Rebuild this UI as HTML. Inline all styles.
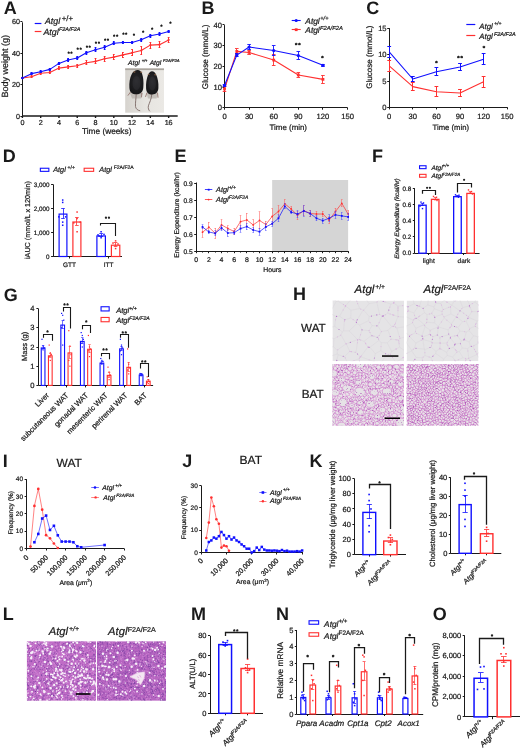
<!DOCTYPE html>
<html><head><meta charset="utf-8"><title>Figure</title>
<style>html,body{margin:0;padding:0;background:#fff;}svg{display:block;}text{font-family:"Liberation Sans", Arial, sans-serif;text-rendering:geometricPrecision;}</style></head>
<body><svg width="520" height="751" viewBox="0 0 520 751" font-family='"Liberation Sans", Arial, sans-serif'>
<rect width="520" height="751" fill="#fff"/>
<text x="3.8" y="14" font-size="18" text-anchor="start" font-weight="bold" fill="#1a1a1a" >A</text>
<line x1="22.5" y1="22.3" x2="22.5" y2="116" stroke="#1a1a1a" stroke-width="1.0" />
<line x1="20.4" y1="116.5" x2="22.4" y2="116.5" stroke="#1a1a1a" stroke-width="1.0" />
<text x="20.1" y="118.52" font-size="7.2" text-anchor="end" fill="#1a1a1a" stroke="#1a1a1a" stroke-width="0.22" >0</text>
<line x1="20.4" y1="84.5" x2="22.4" y2="84.5" stroke="#1a1a1a" stroke-width="1.0" />
<text x="20.1" y="87.02" font-size="7.2" text-anchor="end" fill="#1a1a1a" stroke="#1a1a1a" stroke-width="0.22" >20</text>
<line x1="20.4" y1="53.5" x2="22.4" y2="53.5" stroke="#1a1a1a" stroke-width="1.0" />
<text x="20.1" y="55.52" font-size="7.2" text-anchor="end" fill="#1a1a1a" stroke="#1a1a1a" stroke-width="0.22" >40</text>
<line x1="20.4" y1="21.5" x2="22.4" y2="21.5" stroke="#1a1a1a" stroke-width="1.0" />
<text x="20.1" y="24.02" font-size="7.2" text-anchor="end" fill="#1a1a1a" stroke="#1a1a1a" stroke-width="0.22" >60</text>
<line x1="22.4" y1="116" x2="177.7" y2="116" stroke="#1a1a1a" stroke-width="1.4" />
<line x1="22.4" y1="116" x2="22.4" y2="118" stroke="#1a1a1a" stroke-width="1.4" />
<text x="22.4" y="124.9" font-size="7.2" text-anchor="middle" fill="#1a1a1a" stroke="#1a1a1a" stroke-width="0.22" >0</text>
<line x1="40.68" y1="116" x2="40.68" y2="118" stroke="#1a1a1a" stroke-width="1.4" />
<text x="40.68" y="124.9" font-size="7.2" text-anchor="middle" fill="#1a1a1a" stroke="#1a1a1a" stroke-width="0.22" >2</text>
<line x1="58.96" y1="116" x2="58.96" y2="118" stroke="#1a1a1a" stroke-width="1.4" />
<text x="58.96" y="124.9" font-size="7.2" text-anchor="middle" fill="#1a1a1a" stroke="#1a1a1a" stroke-width="0.22" >4</text>
<line x1="77.24" y1="116" x2="77.24" y2="118" stroke="#1a1a1a" stroke-width="1.4" />
<text x="77.24" y="124.9" font-size="7.2" text-anchor="middle" fill="#1a1a1a" stroke="#1a1a1a" stroke-width="0.22" >6</text>
<line x1="95.52" y1="116" x2="95.52" y2="118" stroke="#1a1a1a" stroke-width="1.4" />
<text x="95.52" y="124.9" font-size="7.2" text-anchor="middle" fill="#1a1a1a" stroke="#1a1a1a" stroke-width="0.22" >8</text>
<line x1="113.8" y1="116" x2="113.8" y2="118" stroke="#1a1a1a" stroke-width="1.4" />
<text x="113.8" y="124.9" font-size="7.2" text-anchor="middle" fill="#1a1a1a" stroke="#1a1a1a" stroke-width="0.22" >10</text>
<line x1="132.08" y1="116" x2="132.08" y2="118" stroke="#1a1a1a" stroke-width="1.4" />
<text x="132.08" y="124.9" font-size="7.2" text-anchor="middle" fill="#1a1a1a" stroke="#1a1a1a" stroke-width="0.22" >12</text>
<line x1="150.36" y1="116" x2="150.36" y2="118" stroke="#1a1a1a" stroke-width="1.4" />
<text x="150.36" y="124.9" font-size="7.2" text-anchor="middle" fill="#1a1a1a" stroke="#1a1a1a" stroke-width="0.22" >14</text>
<line x1="168.64" y1="116" x2="168.64" y2="118" stroke="#1a1a1a" stroke-width="1.4" />
<text x="168.64" y="124.9" font-size="7.2" text-anchor="middle" fill="#1a1a1a" stroke="#1a1a1a" stroke-width="0.22" >16</text>
<polyline points="22.4,78.04 31.54,76.78 40.68,73.32 49.82,72.53 58.96,68.12 68.1,66.86 77.24,65.76 86.38,62.77 95.52,61.35 104.66,58.67 113.8,57.1 122.94,54.89 132.08,52.84 141.22,50.48 150.36,45.12 159.5,44.65 168.64,39.93" fill="none" stroke="#ff3030" stroke-width="1.1" stroke-linejoin="round"/>
<polyline points="22.4,78.04 31.54,73.63 40.68,71.74 49.82,69.38 58.96,63.4 68.1,59.93 77.24,58.04 86.38,52.68 95.52,49.69 104.66,47.17 113.8,43.23 122.94,42.45 132.08,42.45 141.22,39.77 150.36,35.83 159.5,33.94 168.64,31.58" fill="none" stroke="#1010ff" stroke-width="1.1" stroke-linejoin="round"/>
<line x1="22.5" y1="77.57" x2="22.5" y2="78.51" stroke="#ff3030" stroke-width="1.0" />
<line x1="21.5" y1="77.5" x2="23.3" y2="77.5" stroke="#ff3030" stroke-width="1.0" />
<line x1="21.5" y1="78.5" x2="23.3" y2="78.5" stroke="#ff3030" stroke-width="1.0" />
<circle cx="22.4" cy="78.04" r="1.1" fill="#ff3030"/>
<line x1="31.5" y1="75.84" x2="31.5" y2="77.73" stroke="#ff3030" stroke-width="1.0" />
<line x1="30.64" y1="75.5" x2="32.44" y2="75.5" stroke="#ff3030" stroke-width="1.0" />
<line x1="30.64" y1="77.5" x2="32.44" y2="77.5" stroke="#ff3030" stroke-width="1.0" />
<circle cx="31.54" cy="76.78" r="1.1" fill="#ff3030"/>
<line x1="40.5" y1="72.21" x2="40.5" y2="74.42" stroke="#ff3030" stroke-width="1.0" />
<line x1="39.78" y1="72.5" x2="41.58" y2="72.5" stroke="#ff3030" stroke-width="1.0" />
<line x1="39.78" y1="74.5" x2="41.58" y2="74.5" stroke="#ff3030" stroke-width="1.0" />
<circle cx="40.68" cy="73.32" r="1.1" fill="#ff3030"/>
<line x1="49.5" y1="71.59" x2="49.5" y2="73.47" stroke="#ff3030" stroke-width="1.0" />
<line x1="48.92" y1="71.5" x2="50.72" y2="71.5" stroke="#ff3030" stroke-width="1.0" />
<line x1="48.92" y1="73.5" x2="50.72" y2="73.5" stroke="#ff3030" stroke-width="1.0" />
<circle cx="49.82" cy="72.53" r="1.1" fill="#ff3030"/>
<line x1="58.5" y1="66.86" x2="58.5" y2="69.38" stroke="#ff3030" stroke-width="1.0" />
<line x1="58.06" y1="66.5" x2="59.86" y2="66.5" stroke="#ff3030" stroke-width="1.0" />
<line x1="58.06" y1="69.5" x2="59.86" y2="69.5" stroke="#ff3030" stroke-width="1.0" />
<circle cx="58.96" cy="68.12" r="1.1" fill="#ff3030"/>
<line x1="68.5" y1="65.28" x2="68.5" y2="68.44" stroke="#ff3030" stroke-width="1.0" />
<line x1="67.2" y1="65.5" x2="69" y2="65.5" stroke="#ff3030" stroke-width="1.0" />
<line x1="67.2" y1="68.5" x2="69" y2="68.5" stroke="#ff3030" stroke-width="1.0" />
<circle cx="68.1" cy="66.86" r="1.1" fill="#ff3030"/>
<line x1="77.5" y1="64.18" x2="77.5" y2="67.33" stroke="#ff3030" stroke-width="1.0" />
<line x1="76.34" y1="64.5" x2="78.14" y2="64.5" stroke="#ff3030" stroke-width="1.0" />
<line x1="76.34" y1="67.5" x2="78.14" y2="67.5" stroke="#ff3030" stroke-width="1.0" />
<circle cx="77.24" cy="65.76" r="1.1" fill="#ff3030"/>
<line x1="86.5" y1="60.72" x2="86.5" y2="64.81" stroke="#ff3030" stroke-width="1.0" />
<line x1="85.48" y1="60.5" x2="87.28" y2="60.5" stroke="#ff3030" stroke-width="1.0" />
<line x1="85.48" y1="64.5" x2="87.28" y2="64.5" stroke="#ff3030" stroke-width="1.0" />
<circle cx="86.38" cy="62.77" r="1.1" fill="#ff3030"/>
<line x1="95.5" y1="58.98" x2="95.5" y2="63.71" stroke="#ff3030" stroke-width="1.0" />
<line x1="94.62" y1="58.5" x2="96.42" y2="58.5" stroke="#ff3030" stroke-width="1.0" />
<line x1="94.62" y1="63.5" x2="96.42" y2="63.5" stroke="#ff3030" stroke-width="1.0" />
<circle cx="95.52" cy="61.35" r="1.1" fill="#ff3030"/>
<line x1="104.5" y1="56.31" x2="104.5" y2="61.03" stroke="#ff3030" stroke-width="1.0" />
<line x1="103.76" y1="56.5" x2="105.56" y2="56.5" stroke="#ff3030" stroke-width="1.0" />
<line x1="103.76" y1="61.5" x2="105.56" y2="61.5" stroke="#ff3030" stroke-width="1.0" />
<circle cx="104.66" cy="58.67" r="1.1" fill="#ff3030"/>
<line x1="113.5" y1="54.58" x2="113.5" y2="59.62" stroke="#ff3030" stroke-width="1.0" />
<line x1="112.9" y1="54.5" x2="114.7" y2="54.5" stroke="#ff3030" stroke-width="1.0" />
<line x1="112.9" y1="59.5" x2="114.7" y2="59.5" stroke="#ff3030" stroke-width="1.0" />
<circle cx="113.8" cy="57.1" r="1.1" fill="#ff3030"/>
<line x1="122.5" y1="52.06" x2="122.5" y2="57.73" stroke="#ff3030" stroke-width="1.0" />
<line x1="122.04" y1="52.5" x2="123.84" y2="52.5" stroke="#ff3030" stroke-width="1.0" />
<line x1="122.04" y1="57.5" x2="123.84" y2="57.5" stroke="#ff3030" stroke-width="1.0" />
<circle cx="122.94" cy="54.89" r="1.1" fill="#ff3030"/>
<line x1="132.5" y1="49.85" x2="132.5" y2="55.84" stroke="#ff3030" stroke-width="1.0" />
<line x1="131.18" y1="49.5" x2="132.98" y2="49.5" stroke="#ff3030" stroke-width="1.0" />
<line x1="131.18" y1="55.5" x2="132.98" y2="55.5" stroke="#ff3030" stroke-width="1.0" />
<circle cx="132.08" cy="52.84" r="1.1" fill="#ff3030"/>
<line x1="141.5" y1="46.39" x2="141.5" y2="54.58" stroke="#ff3030" stroke-width="1.0" />
<line x1="140.32" y1="46.5" x2="142.12" y2="46.5" stroke="#ff3030" stroke-width="1.0" />
<line x1="140.32" y1="54.5" x2="142.12" y2="54.5" stroke="#ff3030" stroke-width="1.0" />
<circle cx="141.22" cy="50.48" r="1.1" fill="#ff3030"/>
<line x1="150.5" y1="42.13" x2="150.5" y2="48.12" stroke="#ff3030" stroke-width="1.0" />
<line x1="149.46" y1="42.5" x2="151.26" y2="42.5" stroke="#ff3030" stroke-width="1.0" />
<line x1="149.46" y1="48.5" x2="151.26" y2="48.5" stroke="#ff3030" stroke-width="1.0" />
<circle cx="150.36" cy="45.12" r="1.1" fill="#ff3030"/>
<line x1="159.5" y1="41.5" x2="159.5" y2="47.8" stroke="#ff3030" stroke-width="1.0" />
<line x1="158.6" y1="41.5" x2="160.4" y2="41.5" stroke="#ff3030" stroke-width="1.0" />
<line x1="158.6" y1="47.5" x2="160.4" y2="47.5" stroke="#ff3030" stroke-width="1.0" />
<circle cx="159.5" cy="44.65" r="1.1" fill="#ff3030"/>
<line x1="168.5" y1="37.33" x2="168.5" y2="42.53" stroke="#ff3030" stroke-width="1.0" />
<line x1="167.74" y1="37.5" x2="169.54" y2="37.5" stroke="#ff3030" stroke-width="1.0" />
<line x1="167.74" y1="42.5" x2="169.54" y2="42.5" stroke="#ff3030" stroke-width="1.0" />
<circle cx="168.64" cy="39.93" r="1.1" fill="#ff3030"/>
<line x1="22.5" y1="77.57" x2="22.5" y2="78.51" stroke="#1010ff" stroke-width="1.0" />
<line x1="21.5" y1="77.5" x2="23.3" y2="77.5" stroke="#1010ff" stroke-width="1.0" />
<line x1="21.5" y1="78.5" x2="23.3" y2="78.5" stroke="#1010ff" stroke-width="1.0" />
<circle cx="22.4" cy="78.04" r="1.3" fill="#1010ff"/>
<line x1="31.5" y1="72.84" x2="31.5" y2="74.42" stroke="#1010ff" stroke-width="1.0" />
<line x1="30.64" y1="72.5" x2="32.44" y2="72.5" stroke="#1010ff" stroke-width="1.0" />
<line x1="30.64" y1="74.5" x2="32.44" y2="74.5" stroke="#1010ff" stroke-width="1.0" />
<circle cx="31.54" cy="73.63" r="1.3" fill="#1010ff"/>
<line x1="40.5" y1="70.8" x2="40.5" y2="72.69" stroke="#1010ff" stroke-width="1.0" />
<line x1="39.78" y1="70.5" x2="41.58" y2="70.5" stroke="#1010ff" stroke-width="1.0" />
<line x1="39.78" y1="72.5" x2="41.58" y2="72.5" stroke="#1010ff" stroke-width="1.0" />
<circle cx="40.68" cy="71.74" r="1.3" fill="#1010ff"/>
<line x1="49.5" y1="68.59" x2="49.5" y2="70.17" stroke="#1010ff" stroke-width="1.0" />
<line x1="48.92" y1="68.5" x2="50.72" y2="68.5" stroke="#1010ff" stroke-width="1.0" />
<line x1="48.92" y1="70.5" x2="50.72" y2="70.5" stroke="#1010ff" stroke-width="1.0" />
<circle cx="49.82" cy="69.38" r="1.3" fill="#1010ff"/>
<line x1="58.5" y1="62.45" x2="58.5" y2="64.34" stroke="#1010ff" stroke-width="1.0" />
<line x1="58.06" y1="62.5" x2="59.86" y2="62.5" stroke="#1010ff" stroke-width="1.0" />
<line x1="58.06" y1="64.5" x2="59.86" y2="64.5" stroke="#1010ff" stroke-width="1.0" />
<circle cx="58.96" cy="63.4" r="1.3" fill="#1010ff"/>
<line x1="68.5" y1="58.67" x2="68.5" y2="61.19" stroke="#1010ff" stroke-width="1.0" />
<line x1="67.2" y1="58.5" x2="69" y2="58.5" stroke="#1010ff" stroke-width="1.0" />
<line x1="67.2" y1="61.5" x2="69" y2="61.5" stroke="#1010ff" stroke-width="1.0" />
<circle cx="68.1" cy="59.93" r="1.3" fill="#1010ff"/>
<line x1="77.5" y1="56.62" x2="77.5" y2="59.46" stroke="#1010ff" stroke-width="1.0" />
<line x1="76.34" y1="56.5" x2="78.14" y2="56.5" stroke="#1010ff" stroke-width="1.0" />
<line x1="76.34" y1="59.5" x2="78.14" y2="59.5" stroke="#1010ff" stroke-width="1.0" />
<circle cx="77.24" cy="58.04" r="1.3" fill="#1010ff"/>
<line x1="86.5" y1="51.11" x2="86.5" y2="54.26" stroke="#1010ff" stroke-width="1.0" />
<line x1="85.48" y1="51.5" x2="87.28" y2="51.5" stroke="#1010ff" stroke-width="1.0" />
<line x1="85.48" y1="54.5" x2="87.28" y2="54.5" stroke="#1010ff" stroke-width="1.0" />
<circle cx="86.38" cy="52.68" r="1.3" fill="#1010ff"/>
<line x1="95.5" y1="47.64" x2="95.5" y2="51.74" stroke="#1010ff" stroke-width="1.0" />
<line x1="94.62" y1="47.5" x2="96.42" y2="47.5" stroke="#1010ff" stroke-width="1.0" />
<line x1="94.62" y1="51.5" x2="96.42" y2="51.5" stroke="#1010ff" stroke-width="1.0" />
<circle cx="95.52" cy="49.69" r="1.3" fill="#1010ff"/>
<line x1="104.5" y1="45.28" x2="104.5" y2="49.06" stroke="#1010ff" stroke-width="1.0" />
<line x1="103.76" y1="45.5" x2="105.56" y2="45.5" stroke="#1010ff" stroke-width="1.0" />
<line x1="103.76" y1="49.5" x2="105.56" y2="49.5" stroke="#1010ff" stroke-width="1.0" />
<circle cx="104.66" cy="47.17" r="1.3" fill="#1010ff"/>
<line x1="113.5" y1="41.66" x2="113.5" y2="44.81" stroke="#1010ff" stroke-width="1.0" />
<line x1="112.9" y1="41.5" x2="114.7" y2="41.5" stroke="#1010ff" stroke-width="1.0" />
<line x1="112.9" y1="44.5" x2="114.7" y2="44.5" stroke="#1010ff" stroke-width="1.0" />
<circle cx="113.8" cy="43.23" r="1.3" fill="#1010ff"/>
<line x1="122.5" y1="41.19" x2="122.5" y2="43.71" stroke="#1010ff" stroke-width="1.0" />
<line x1="122.04" y1="41.5" x2="123.84" y2="41.5" stroke="#1010ff" stroke-width="1.0" />
<line x1="122.04" y1="43.5" x2="123.84" y2="43.5" stroke="#1010ff" stroke-width="1.0" />
<circle cx="122.94" cy="42.45" r="1.3" fill="#1010ff"/>
<line x1="132.5" y1="41.19" x2="132.5" y2="43.71" stroke="#1010ff" stroke-width="1.0" />
<line x1="131.18" y1="41.5" x2="132.98" y2="41.5" stroke="#1010ff" stroke-width="1.0" />
<line x1="131.18" y1="43.5" x2="132.98" y2="43.5" stroke="#1010ff" stroke-width="1.0" />
<circle cx="132.08" cy="42.45" r="1.3" fill="#1010ff"/>
<line x1="141.5" y1="38.51" x2="141.5" y2="41.03" stroke="#1010ff" stroke-width="1.0" />
<line x1="140.32" y1="38.5" x2="142.12" y2="38.5" stroke="#1010ff" stroke-width="1.0" />
<line x1="140.32" y1="41.5" x2="142.12" y2="41.5" stroke="#1010ff" stroke-width="1.0" />
<circle cx="141.22" cy="39.77" r="1.3" fill="#1010ff"/>
<line x1="150.5" y1="34.42" x2="150.5" y2="37.25" stroke="#1010ff" stroke-width="1.0" />
<line x1="149.46" y1="34.5" x2="151.26" y2="34.5" stroke="#1010ff" stroke-width="1.0" />
<line x1="149.46" y1="37.5" x2="151.26" y2="37.5" stroke="#1010ff" stroke-width="1.0" />
<circle cx="150.36" cy="35.83" r="1.3" fill="#1010ff"/>
<line x1="159.5" y1="32.52" x2="159.5" y2="35.36" stroke="#1010ff" stroke-width="1.0" />
<line x1="158.6" y1="32.5" x2="160.4" y2="32.5" stroke="#1010ff" stroke-width="1.0" />
<line x1="158.6" y1="35.5" x2="160.4" y2="35.5" stroke="#1010ff" stroke-width="1.0" />
<circle cx="159.5" cy="33.94" r="1.3" fill="#1010ff"/>
<line x1="168.5" y1="30.16" x2="168.5" y2="33" stroke="#1010ff" stroke-width="1.0" />
<line x1="167.74" y1="30.5" x2="169.54" y2="30.5" stroke="#1010ff" stroke-width="1.0" />
<line x1="167.74" y1="32.5" x2="169.54" y2="32.5" stroke="#1010ff" stroke-width="1.0" />
<circle cx="168.64" cy="31.58" r="1.3" fill="#1010ff"/>
<text x="70.5" y="55.1" font-size="4.8" text-anchor="middle" font-weight="bold" fill="#1a1a1a" stroke="#1a1a1a" stroke-width="0.45" stroke-linejoin="round" letter-spacing="1.0" >**</text>
<text x="79.64" y="51.3" font-size="4.8" text-anchor="middle" font-weight="bold" fill="#1a1a1a" stroke="#1a1a1a" stroke-width="0.45" stroke-linejoin="round" letter-spacing="1.0" >**</text>
<text x="88.78" y="49" font-size="4.8" text-anchor="middle" font-weight="bold" fill="#1a1a1a" stroke="#1a1a1a" stroke-width="0.45" stroke-linejoin="round" letter-spacing="1.0" >**</text>
<text x="97.92" y="44.8" font-size="4.8" text-anchor="middle" font-weight="bold" fill="#1a1a1a" stroke="#1a1a1a" stroke-width="0.45" stroke-linejoin="round" letter-spacing="1.0" >**</text>
<text x="107.06" y="41.5" font-size="4.8" text-anchor="middle" font-weight="bold" fill="#1a1a1a" stroke="#1a1a1a" stroke-width="0.45" stroke-linejoin="round" letter-spacing="1.0" >**</text>
<text x="116.2" y="37.8" font-size="4.8" text-anchor="middle" font-weight="bold" fill="#1a1a1a" stroke="#1a1a1a" stroke-width="0.45" stroke-linejoin="round" letter-spacing="1.0" >**</text>
<text x="125.34" y="36.1" font-size="4.8" text-anchor="middle" font-weight="bold" fill="#1a1a1a" stroke="#1a1a1a" stroke-width="0.45" stroke-linejoin="round" letter-spacing="1.0" >**</text>
<text x="134.48" y="37.1" font-size="4.8" text-anchor="middle" font-weight="bold" fill="#1a1a1a" stroke="#1a1a1a" stroke-width="0.45" stroke-linejoin="round" letter-spacing="1.0" >*</text>
<text x="143.62" y="34.1" font-size="4.8" text-anchor="middle" font-weight="bold" fill="#1a1a1a" stroke="#1a1a1a" stroke-width="0.45" stroke-linejoin="round" letter-spacing="1.0" >*</text>
<text x="152.76" y="31.4" font-size="4.8" text-anchor="middle" font-weight="bold" fill="#1a1a1a" stroke="#1a1a1a" stroke-width="0.45" stroke-linejoin="round" letter-spacing="1.0" >*</text>
<text x="161.9" y="28.4" font-size="4.8" text-anchor="middle" font-weight="bold" fill="#1a1a1a" stroke="#1a1a1a" stroke-width="0.45" stroke-linejoin="round" letter-spacing="1.0" >*</text>
<text x="171.04" y="24.7" font-size="4.8" text-anchor="middle" font-weight="bold" fill="#1a1a1a" stroke="#1a1a1a" stroke-width="0.45" stroke-linejoin="round" letter-spacing="1.0" >*</text>
<text x="8.4" y="66.3" font-size="9" text-anchor="middle" fill="#1a1a1a" stroke="#1a1a1a" stroke-width="0.22" transform="rotate(-90 8.4 66.3)" >Body weight (g)</text>
<text x="106.7" y="134" font-size="8.3" text-anchor="middle" fill="#1a1a1a" stroke="#1a1a1a" stroke-width="0.22" >Time (weeks)</text>
<line x1="34.7" y1="23.5" x2="41.4" y2="23.5" stroke="#1010ff" stroke-width="1.2" />
<line x1="34.7" y1="31.5" x2="41.4" y2="31.5" stroke="#ff3030" stroke-width="1.2" />
<text x="45" y="23.5" font-size="8.8" text-anchor="start" fill="#1a1a1a" stroke="#1a1a1a" stroke-width="0.22" ><tspan font-style="italic">Atgl</tspan><tspan font-size="7.8" dx="1.6" dy="-2.5">+/+</tspan></text>
<text x="43.5" y="34.9" font-size="8.8" text-anchor="start" fill="#1a1a1a" stroke="#1a1a1a" stroke-width="0.22" ><tspan font-style="italic">Atgl</tspan><tspan font-style="italic" font-size="5.4" dx="0.4" dy="-4.3">F2A/F2A</tspan></text>
<text x="201.5" y="14.1" font-size="18" text-anchor="start" font-weight="bold" fill="#1a1a1a" >B</text>
<line x1="224.5" y1="25.1" x2="224.5" y2="107.7" stroke="#1a1a1a" stroke-width="1.0" />
<line x1="222.5" y1="107.5" x2="224.5" y2="107.5" stroke="#1a1a1a" stroke-width="1.0" />
<text x="221.9" y="110.36" font-size="7.6" text-anchor="end" fill="#1a1a1a" stroke="#1a1a1a" stroke-width="0.22" >0</text>
<line x1="222.5" y1="87.5" x2="224.5" y2="87.5" stroke="#1a1a1a" stroke-width="1.0" />
<text x="221.9" y="89.66" font-size="7.6" text-anchor="end" fill="#1a1a1a" stroke="#1a1a1a" stroke-width="0.22" >10</text>
<line x1="222.5" y1="66.5" x2="224.5" y2="66.5" stroke="#1a1a1a" stroke-width="1.0" />
<text x="221.9" y="68.96" font-size="7.6" text-anchor="end" fill="#1a1a1a" stroke="#1a1a1a" stroke-width="0.22" >20</text>
<line x1="222.5" y1="45.5" x2="224.5" y2="45.5" stroke="#1a1a1a" stroke-width="1.0" />
<text x="221.9" y="48.26" font-size="7.6" text-anchor="end" fill="#1a1a1a" stroke="#1a1a1a" stroke-width="0.22" >30</text>
<line x1="222.5" y1="24.5" x2="224.5" y2="24.5" stroke="#1a1a1a" stroke-width="1.0" />
<text x="221.9" y="27.56" font-size="7.6" text-anchor="end" fill="#1a1a1a" stroke="#1a1a1a" stroke-width="0.22" >40</text>
<line x1="224.5" y1="107.5" x2="347.6" y2="107.5" stroke="#1a1a1a" stroke-width="1.0" />
<line x1="224.5" y1="107.7" x2="224.5" y2="109.7" stroke="#1a1a1a" stroke-width="1.0" />
<text x="224.5" y="118.9" font-size="7.6" text-anchor="middle" fill="#1a1a1a" stroke="#1a1a1a" stroke-width="0.22" >0</text>
<line x1="249.5" y1="107.7" x2="249.5" y2="109.7" stroke="#1a1a1a" stroke-width="1.0" />
<text x="249.11" y="118.9" font-size="7.6" text-anchor="middle" fill="#1a1a1a" stroke="#1a1a1a" stroke-width="0.22" >30</text>
<line x1="273.5" y1="107.7" x2="273.5" y2="109.7" stroke="#1a1a1a" stroke-width="1.0" />
<text x="273.72" y="118.9" font-size="7.6" text-anchor="middle" fill="#1a1a1a" stroke="#1a1a1a" stroke-width="0.22" >60</text>
<line x1="298.5" y1="107.7" x2="298.5" y2="109.7" stroke="#1a1a1a" stroke-width="1.0" />
<text x="298.33" y="118.9" font-size="7.6" text-anchor="middle" fill="#1a1a1a" stroke="#1a1a1a" stroke-width="0.22" >90</text>
<line x1="322.5" y1="107.7" x2="322.5" y2="109.7" stroke="#1a1a1a" stroke-width="1.0" />
<text x="322.94" y="118.9" font-size="7.6" text-anchor="middle" fill="#1a1a1a" stroke="#1a1a1a" stroke-width="0.22" >120</text>
<line x1="347.5" y1="107.7" x2="347.5" y2="109.7" stroke="#1a1a1a" stroke-width="1.0" />
<text x="347.55" y="118.9" font-size="7.6" text-anchor="middle" fill="#1a1a1a" stroke="#1a1a1a" stroke-width="0.22" >150</text>
<polyline points="224.5,89.07 236.8,51.4 249.11,52.43 273.72,60.09 298.33,74.99 322.94,79.34" fill="none" stroke="#ff3030" stroke-width="1.1" stroke-linejoin="round"/>
<polyline points="224.5,85.55 236.8,55.12 249.11,47.05 273.72,50.57 298.33,55.54 322.94,65.27" fill="none" stroke="#1010ff" stroke-width="1.1" stroke-linejoin="round"/>
<line x1="224.5" y1="86.59" x2="224.5" y2="91.55" stroke="#ff3030" stroke-width="0.9" />
<line x1="222.7" y1="86.5" x2="226.3" y2="86.5" stroke="#ff3030" stroke-width="0.9" />
<line x1="222.7" y1="91.5" x2="226.3" y2="91.5" stroke="#ff3030" stroke-width="0.9" />
<rect x="223.1" y="87.67" width="2.8" height="2.8" fill="#ff3030" stroke="none" stroke-width="1.0" />
<line x1="236.5" y1="48.91" x2="236.5" y2="53.88" stroke="#ff3030" stroke-width="0.9" />
<line x1="235" y1="48.5" x2="238.6" y2="48.5" stroke="#ff3030" stroke-width="0.9" />
<line x1="235" y1="53.5" x2="238.6" y2="53.5" stroke="#ff3030" stroke-width="0.9" />
<rect x="235.4" y="50" width="2.8" height="2.8" fill="#ff3030" stroke="none" stroke-width="1.0" />
<line x1="249.5" y1="50.36" x2="249.5" y2="54.5" stroke="#ff3030" stroke-width="0.9" />
<line x1="247.31" y1="50.5" x2="250.91" y2="50.5" stroke="#ff3030" stroke-width="0.9" />
<line x1="247.31" y1="54.5" x2="250.91" y2="54.5" stroke="#ff3030" stroke-width="0.9" />
<rect x="247.71" y="51.03" width="2.8" height="2.8" fill="#ff3030" stroke="none" stroke-width="1.0" />
<line x1="273.5" y1="54.5" x2="273.5" y2="65.68" stroke="#ff3030" stroke-width="0.9" />
<line x1="271.92" y1="54.5" x2="275.52" y2="54.5" stroke="#ff3030" stroke-width="0.9" />
<line x1="271.92" y1="65.5" x2="275.52" y2="65.5" stroke="#ff3030" stroke-width="0.9" />
<rect x="272.32" y="58.69" width="2.8" height="2.8" fill="#ff3030" stroke="none" stroke-width="1.0" />
<line x1="298.5" y1="72.92" x2="298.5" y2="77.06" stroke="#ff3030" stroke-width="0.9" />
<line x1="296.53" y1="72.5" x2="300.13" y2="72.5" stroke="#ff3030" stroke-width="0.9" />
<line x1="296.53" y1="77.5" x2="300.13" y2="77.5" stroke="#ff3030" stroke-width="0.9" />
<rect x="296.93" y="73.59" width="2.8" height="2.8" fill="#ff3030" stroke="none" stroke-width="1.0" />
<line x1="322.5" y1="75.2" x2="322.5" y2="83.48" stroke="#ff3030" stroke-width="0.9" />
<line x1="321.14" y1="75.5" x2="324.74" y2="75.5" stroke="#ff3030" stroke-width="0.9" />
<line x1="321.14" y1="83.5" x2="324.74" y2="83.5" stroke="#ff3030" stroke-width="0.9" />
<rect x="321.54" y="77.94" width="2.8" height="2.8" fill="#ff3030" stroke="none" stroke-width="1.0" />
<line x1="224.5" y1="84.31" x2="224.5" y2="86.79" stroke="#1010ff" stroke-width="0.9" />
<line x1="222.7" y1="84.5" x2="226.3" y2="84.5" stroke="#1010ff" stroke-width="0.9" />
<line x1="222.7" y1="86.5" x2="226.3" y2="86.5" stroke="#1010ff" stroke-width="0.9" />
<circle cx="224.5" cy="85.55" r="1.6" fill="#1010ff"/>
<line x1="236.5" y1="53.47" x2="236.5" y2="56.78" stroke="#1010ff" stroke-width="0.9" />
<line x1="235" y1="53.5" x2="238.6" y2="53.5" stroke="#1010ff" stroke-width="0.9" />
<line x1="235" y1="56.5" x2="238.6" y2="56.5" stroke="#1010ff" stroke-width="0.9" />
<circle cx="236.8" cy="55.12" r="1.6" fill="#1010ff"/>
<line x1="249.5" y1="44.36" x2="249.5" y2="49.74" stroke="#1010ff" stroke-width="0.9" />
<line x1="247.31" y1="44.5" x2="250.91" y2="44.5" stroke="#1010ff" stroke-width="0.9" />
<line x1="247.31" y1="49.5" x2="250.91" y2="49.5" stroke="#1010ff" stroke-width="0.9" />
<circle cx="249.11" cy="47.05" r="1.6" fill="#1010ff"/>
<line x1="273.5" y1="45.81" x2="273.5" y2="55.33" stroke="#1010ff" stroke-width="0.9" />
<line x1="271.92" y1="45.5" x2="275.52" y2="45.5" stroke="#1010ff" stroke-width="0.9" />
<line x1="271.92" y1="55.5" x2="275.52" y2="55.5" stroke="#1010ff" stroke-width="0.9" />
<circle cx="273.72" cy="50.57" r="1.6" fill="#1010ff"/>
<line x1="298.5" y1="51.4" x2="298.5" y2="59.68" stroke="#1010ff" stroke-width="0.9" />
<line x1="296.53" y1="51.5" x2="300.13" y2="51.5" stroke="#1010ff" stroke-width="0.9" />
<line x1="296.53" y1="59.5" x2="300.13" y2="59.5" stroke="#1010ff" stroke-width="0.9" />
<circle cx="298.33" cy="55.54" r="1.6" fill="#1010ff"/>
<line x1="322.5" y1="64.02" x2="322.5" y2="66.51" stroke="#1010ff" stroke-width="0.9" />
<line x1="321.14" y1="64.5" x2="324.74" y2="64.5" stroke="#1010ff" stroke-width="0.9" />
<line x1="321.14" y1="66.5" x2="324.74" y2="66.5" stroke="#1010ff" stroke-width="0.9" />
<circle cx="322.94" cy="65.27" r="1.6" fill="#1010ff"/>
<text x="298.33" y="47.2" font-size="6.0" text-anchor="middle" font-weight="bold" fill="#1a1a1a" stroke="#1a1a1a" stroke-width="0.45" stroke-linejoin="round" letter-spacing="1.0" >**</text>
<text x="322.94" y="60.2" font-size="6.0" text-anchor="middle" font-weight="bold" fill="#1a1a1a" stroke="#1a1a1a" stroke-width="0.45" stroke-linejoin="round" letter-spacing="1.0" >*</text>
<text x="208" y="56.9" font-size="8.2" text-anchor="middle" fill="#1a1a1a" stroke="#1a1a1a" stroke-width="0.22" transform="rotate(-90 208 56.9)" >Glucose (mmol/L)</text>
<text x="288.3" y="130.1" font-size="7.9" text-anchor="middle" fill="#1a1a1a" stroke="#1a1a1a" stroke-width="0.22" >Time (min)</text>
<line x1="291.7" y1="20.5" x2="300.7" y2="20.5" stroke="#1010ff" stroke-width="1.1" />
<circle cx="296.2" cy="20.5" r="1.6" fill="#1010ff"/>
<line x1="291.7" y1="29.5" x2="300.7" y2="29.5" stroke="#ff3030" stroke-width="1.1" />
<rect x="294.8" y="28.3" width="2.8" height="2.8" fill="#ff3030" stroke="none" stroke-width="1.0" />
<text x="305.3" y="23.7" font-size="8.4" text-anchor="start" fill="#1a1a1a" stroke="#1a1a1a" stroke-width="0.22" ><tspan font-style="italic">Atgl</tspan><tspan font-style="italic" font-size="5.6" dx="0.6" dy="-3.3">+/+</tspan></text>
<text x="305.3" y="33.2" font-size="8.4" text-anchor="start" fill="#1a1a1a" stroke="#1a1a1a" stroke-width="0.22" ><tspan font-style="italic">Atgl</tspan><tspan font-style="italic" font-size="5.8" dx="0.2" dy="-3.0">F2A/F2A</tspan></text>
<text x="366.2" y="14.2" font-size="18" text-anchor="start" font-weight="bold" fill="#1a1a1a" >C</text>
<line x1="389.5" y1="28.1" x2="389.5" y2="107.4" stroke="#1a1a1a" stroke-width="1.0" />
<line x1="387.2" y1="107.5" x2="389.2" y2="107.5" stroke="#1a1a1a" stroke-width="1.0" />
<text x="386.6" y="110.06" font-size="7.6" text-anchor="end" fill="#1a1a1a" stroke="#1a1a1a" stroke-width="0.22" >0</text>
<line x1="387.2" y1="81.5" x2="389.2" y2="81.5" stroke="#1a1a1a" stroke-width="1.0" />
<text x="386.6" y="83.66" font-size="7.6" text-anchor="end" fill="#1a1a1a" stroke="#1a1a1a" stroke-width="0.22" >5</text>
<line x1="387.2" y1="54.5" x2="389.2" y2="54.5" stroke="#1a1a1a" stroke-width="1.0" />
<text x="386.6" y="57.26" font-size="7.6" text-anchor="end" fill="#1a1a1a" stroke="#1a1a1a" stroke-width="0.22" >10</text>
<line x1="387.2" y1="28.5" x2="389.2" y2="28.5" stroke="#1a1a1a" stroke-width="1.0" />
<text x="386.6" y="30.86" font-size="7.6" text-anchor="end" fill="#1a1a1a" stroke="#1a1a1a" stroke-width="0.22" >15</text>
<line x1="389.2" y1="107.5" x2="507.6" y2="107.5" stroke="#1a1a1a" stroke-width="1.0" />
<line x1="389.5" y1="107.4" x2="389.5" y2="109.4" stroke="#1a1a1a" stroke-width="1.0" />
<text x="389.2" y="118.6" font-size="7.6" text-anchor="middle" fill="#1a1a1a" stroke="#1a1a1a" stroke-width="0.22" >0</text>
<line x1="412.5" y1="107.4" x2="412.5" y2="109.4" stroke="#1a1a1a" stroke-width="1.0" />
<text x="412.8" y="118.6" font-size="7.6" text-anchor="middle" fill="#1a1a1a" stroke="#1a1a1a" stroke-width="0.22" >30</text>
<line x1="436.5" y1="107.4" x2="436.5" y2="109.4" stroke="#1a1a1a" stroke-width="1.0" />
<text x="436.4" y="118.6" font-size="7.6" text-anchor="middle" fill="#1a1a1a" stroke="#1a1a1a" stroke-width="0.22" >60</text>
<line x1="460.5" y1="107.4" x2="460.5" y2="109.4" stroke="#1a1a1a" stroke-width="1.0" />
<text x="460" y="118.6" font-size="7.6" text-anchor="middle" fill="#1a1a1a" stroke="#1a1a1a" stroke-width="0.22" >90</text>
<line x1="483.5" y1="107.4" x2="483.5" y2="109.4" stroke="#1a1a1a" stroke-width="1.0" />
<text x="483.6" y="118.6" font-size="7.6" text-anchor="middle" fill="#1a1a1a" stroke="#1a1a1a" stroke-width="0.22" >120</text>
<line x1="507.5" y1="107.4" x2="507.5" y2="109.4" stroke="#1a1a1a" stroke-width="1.0" />
<text x="507.2" y="118.6" font-size="7.6" text-anchor="middle" fill="#1a1a1a" stroke="#1a1a1a" stroke-width="0.22" >150</text>
<polyline points="389.2,65.9 412.8,86.6 436.4,91.72 460,92.99 483.6,81.69" fill="none" stroke="#ff3030" stroke-width="1.1" stroke-linejoin="round"/>
<polyline points="389.2,51.96 412.8,78.99 436.4,71.81 460,67.01 483.6,59.19" fill="none" stroke="#1010ff" stroke-width="1.1" stroke-linejoin="round"/>
<line x1="389.5" y1="60.72" x2="389.5" y2="71.07" stroke="#ff3030" stroke-width="1.0" />
<line x1="387.3" y1="60.5" x2="391.1" y2="60.5" stroke="#ff3030" stroke-width="1.0" />
<line x1="387.3" y1="71.5" x2="391.1" y2="71.5" stroke="#ff3030" stroke-width="1.0" />
<line x1="412.5" y1="82.85" x2="412.5" y2="90.35" stroke="#ff3030" stroke-width="1.0" />
<line x1="410.9" y1="82.5" x2="414.7" y2="82.5" stroke="#ff3030" stroke-width="1.0" />
<line x1="410.9" y1="90.5" x2="414.7" y2="90.5" stroke="#ff3030" stroke-width="1.0" />
<line x1="436.5" y1="86.44" x2="436.5" y2="97" stroke="#ff3030" stroke-width="1.0" />
<line x1="434.5" y1="86.5" x2="438.3" y2="86.5" stroke="#ff3030" stroke-width="1.0" />
<line x1="434.5" y1="96.5" x2="438.3" y2="96.5" stroke="#ff3030" stroke-width="1.0" />
<line x1="460.5" y1="89.87" x2="460.5" y2="96.1" stroke="#ff3030" stroke-width="1.0" />
<line x1="458.1" y1="89.5" x2="461.9" y2="89.5" stroke="#ff3030" stroke-width="1.0" />
<line x1="458.1" y1="96.5" x2="461.9" y2="96.5" stroke="#ff3030" stroke-width="1.0" />
<line x1="483.5" y1="76.25" x2="483.5" y2="87.12" stroke="#ff3030" stroke-width="1.0" />
<line x1="481.7" y1="76.5" x2="485.5" y2="76.5" stroke="#ff3030" stroke-width="1.0" />
<line x1="481.7" y1="87.5" x2="485.5" y2="87.5" stroke="#ff3030" stroke-width="1.0" />
<line x1="389.5" y1="46.36" x2="389.5" y2="57.56" stroke="#1010ff" stroke-width="1.0" />
<line x1="387.3" y1="46.5" x2="391.1" y2="46.5" stroke="#1010ff" stroke-width="1.0" />
<line x1="387.3" y1="57.5" x2="391.1" y2="57.5" stroke="#1010ff" stroke-width="1.0" />
<line x1="412.5" y1="76.78" x2="412.5" y2="81.21" stroke="#1010ff" stroke-width="1.0" />
<line x1="410.9" y1="76.5" x2="414.7" y2="76.5" stroke="#1010ff" stroke-width="1.0" />
<line x1="410.9" y1="81.5" x2="414.7" y2="81.5" stroke="#1010ff" stroke-width="1.0" />
<line x1="436.5" y1="67.8" x2="436.5" y2="75.83" stroke="#1010ff" stroke-width="1.0" />
<line x1="434.5" y1="67.5" x2="438.3" y2="67.5" stroke="#1010ff" stroke-width="1.0" />
<line x1="434.5" y1="75.5" x2="438.3" y2="75.5" stroke="#1010ff" stroke-width="1.0" />
<line x1="460.5" y1="63.36" x2="460.5" y2="70.65" stroke="#1010ff" stroke-width="1.0" />
<line x1="458.1" y1="63.5" x2="461.9" y2="63.5" stroke="#1010ff" stroke-width="1.0" />
<line x1="458.1" y1="70.5" x2="461.9" y2="70.5" stroke="#1010ff" stroke-width="1.0" />
<line x1="483.5" y1="53.6" x2="483.5" y2="64.79" stroke="#1010ff" stroke-width="1.0" />
<line x1="481.7" y1="53.5" x2="485.5" y2="53.5" stroke="#1010ff" stroke-width="1.0" />
<line x1="481.7" y1="64.5" x2="485.5" y2="64.5" stroke="#1010ff" stroke-width="1.0" />
<text x="436.9" y="65" font-size="6.0" text-anchor="middle" font-weight="bold" fill="#1a1a1a" stroke="#1a1a1a" stroke-width="0.45" stroke-linejoin="round" letter-spacing="1.0" >*</text>
<text x="460.6" y="59.8" font-size="6.0" text-anchor="middle" font-weight="bold" fill="#1a1a1a" stroke="#1a1a1a" stroke-width="0.45" stroke-linejoin="round" letter-spacing="1.0" >**</text>
<text x="484.5" y="49.5" font-size="6.0" text-anchor="middle" font-weight="bold" fill="#1a1a1a" stroke="#1a1a1a" stroke-width="0.45" stroke-linejoin="round" letter-spacing="1.0" >*</text>
<text x="372.2" y="57.1" font-size="8.0" text-anchor="middle" fill="#1a1a1a" stroke="#1a1a1a" stroke-width="0.22" transform="rotate(-90 372.2 57.1)" >Glucose (mmol/L)</text>
<text x="450.8" y="130.1" font-size="7.7" text-anchor="middle" fill="#1a1a1a" stroke="#1a1a1a" stroke-width="0.22" >Time (min)</text>
<line x1="466.3" y1="24.5" x2="475.3" y2="24.5" stroke="#1010ff" stroke-width="1.2" />
<line x1="466.3" y1="35.5" x2="475.3" y2="35.5" stroke="#ff3030" stroke-width="1.2" />
<text x="479.3" y="28.5" font-size="7.8" text-anchor="start" fill="#1a1a1a" stroke="#1a1a1a" stroke-width="0.22" ><tspan font-style="italic">Atgl</tspan><tspan font-style="italic" font-size="5" dx="1.4" dy="-3.6">+/+</tspan></text>
<text x="479.3" y="39.2" font-size="7.8" text-anchor="start" fill="#1a1a1a" stroke="#1a1a1a" stroke-width="0.22" ><tspan font-style="italic">Atgl</tspan><tspan font-style="italic" font-size="5.5" dx="1.2" dy="-3.2">F2A/F2A</tspan></text>
<text x="2.8" y="161.8" font-size="18" text-anchor="start" font-weight="bold" fill="#1a1a1a" >D</text>
<line x1="53.5" y1="184.4" x2="53.5" y2="256.5" stroke="#1a1a1a" stroke-width="1.0" />
<line x1="51.1" y1="256.5" x2="53.1" y2="256.5" stroke="#1a1a1a" stroke-width="1.0" />
<text x="49.6" y="258.7" font-size="6.3" text-anchor="end" fill="#1a1a1a" stroke="#1a1a1a" stroke-width="0.22" >0</text>
<line x1="51.1" y1="232.5" x2="53.1" y2="232.5" stroke="#1a1a1a" stroke-width="1.0" />
<text x="49.6" y="234.68" font-size="6.3" text-anchor="end" fill="#1a1a1a" stroke="#1a1a1a" stroke-width="0.22" >1,000</text>
<line x1="51.1" y1="208.5" x2="53.1" y2="208.5" stroke="#1a1a1a" stroke-width="1.0" />
<text x="49.6" y="210.65" font-size="6.3" text-anchor="end" fill="#1a1a1a" stroke="#1a1a1a" stroke-width="0.22" >2,000</text>
<line x1="51.1" y1="184.5" x2="53.1" y2="184.5" stroke="#1a1a1a" stroke-width="1.0" />
<text x="49.6" y="186.62" font-size="6.3" text-anchor="end" fill="#1a1a1a" stroke="#1a1a1a" stroke-width="0.22" >3,000</text>
<line x1="53.1" y1="256.5" x2="122" y2="256.5" stroke="#1a1a1a" stroke-width="1.0" />
<line x1="69.5" y1="256.5" x2="69.5" y2="258.5" stroke="#1a1a1a" stroke-width="1.0" />
<line x1="108.5" y1="256.5" x2="108.5" y2="258.5" stroke="#1a1a1a" stroke-width="1.0" />
<text x="69.4" y="266.6" font-size="6.5" text-anchor="middle" fill="#1a1a1a" stroke="#1a1a1a" stroke-width="0.22" >GTT</text>
<text x="108.5" y="266.6" font-size="6.5" text-anchor="middle" fill="#1a1a1a" stroke="#1a1a1a" stroke-width="0.22" >ITT</text>
<rect x="59.1" y="214.09" width="7.8" height="42.41" fill="white" stroke="#1010ff" stroke-width="1.2" />
<line x1="63.5" y1="208.68" x2="63.5" y2="218.29" stroke="#1010ff" stroke-width="0.8" />
<line x1="61.2" y1="208.5" x2="64.8" y2="208.5" stroke="#1010ff" stroke-width="0.8" />
<line x1="61.2" y1="218.5" x2="64.8" y2="218.5" stroke="#1010ff" stroke-width="0.8" />
<rect x="61.95" y="199.28" width="1.5" height="1.5" fill="#1010ff" stroke="none" stroke-width="1.0" />
<rect x="61.95" y="201.68" width="1.5" height="1.5" fill="#1010ff" stroke="none" stroke-width="1.0" />
<rect x="58.05" y="216.1" width="1.5" height="1.5" fill="#1010ff" stroke="none" stroke-width="1.0" />
<rect x="64.85" y="216.1" width="1.5" height="1.5" fill="#1010ff" stroke="none" stroke-width="1.0" />
<rect x="61.95" y="221.39" width="1.5" height="1.5" fill="#1010ff" stroke="none" stroke-width="1.0" />
<rect x="61.95" y="224.51" width="1.5" height="1.5" fill="#1010ff" stroke="none" stroke-width="1.0" />
<rect x="72.9" y="222.02" width="8" height="34.48" fill="white" stroke="#ff3030" stroke-width="1.2" />
<line x1="76.5" y1="217.81" x2="76.5" y2="225.02" stroke="#ff3030" stroke-width="0.8" />
<line x1="75.1" y1="217.5" x2="78.7" y2="217.5" stroke="#ff3030" stroke-width="0.8" />
<line x1="75.1" y1="225.5" x2="78.7" y2="225.5" stroke="#ff3030" stroke-width="0.8" />
<rect x="76.35" y="211.29" width="1.5" height="1.5" fill="#ff3030" stroke="none" stroke-width="1.0" />
<rect x="76.35" y="217.78" width="1.5" height="1.5" fill="#ff3030" stroke="none" stroke-width="1.0" />
<rect x="73.05" y="222.11" width="1.5" height="1.5" fill="#ff3030" stroke="none" stroke-width="1.0" />
<rect x="79.55" y="221.39" width="1.5" height="1.5" fill="#ff3030" stroke="none" stroke-width="1.0" />
<rect x="76.35" y="231" width="1.5" height="1.5" fill="#ff3030" stroke="none" stroke-width="1.0" />
<rect x="96.9" y="235.95" width="8.5" height="20.55" fill="white" stroke="#1010ff" stroke-width="1.2" />
<line x1="101.5" y1="233.91" x2="101.5" y2="236.8" stroke="#1010ff" stroke-width="0.8" />
<line x1="99.3" y1="233.5" x2="102.9" y2="233.5" stroke="#1010ff" stroke-width="0.8" />
<line x1="99.3" y1="236.5" x2="102.9" y2="236.5" stroke="#1010ff" stroke-width="0.8" />
<rect x="100.35" y="231" width="1.5" height="1.5" fill="#1010ff" stroke="none" stroke-width="1.0" />
<rect x="97.25" y="234.12" width="1.5" height="1.5" fill="#1010ff" stroke="none" stroke-width="1.0" />
<rect x="103.25" y="233.64" width="1.5" height="1.5" fill="#1010ff" stroke="none" stroke-width="1.0" />
<rect x="100.35" y="237.01" width="1.5" height="1.5" fill="#1010ff" stroke="none" stroke-width="1.0" />
<rect x="98.25" y="235.32" width="1.5" height="1.5" fill="#1010ff" stroke="none" stroke-width="1.0" />
<rect x="111.4" y="245.21" width="8.4" height="11.29" fill="white" stroke="#ff3030" stroke-width="1.2" />
<line x1="115.5" y1="242.92" x2="115.5" y2="246.29" stroke="#ff3030" stroke-width="0.8" />
<line x1="113.8" y1="242.5" x2="117.4" y2="242.5" stroke="#ff3030" stroke-width="0.8" />
<line x1="113.8" y1="246.5" x2="117.4" y2="246.5" stroke="#ff3030" stroke-width="0.8" />
<rect x="114.85" y="240.13" width="1.5" height="1.5" fill="#ff3030" stroke="none" stroke-width="1.0" />
<rect x="112.25" y="242.29" width="1.5" height="1.5" fill="#ff3030" stroke="none" stroke-width="1.0" />
<rect x="117.25" y="243.25" width="1.5" height="1.5" fill="#ff3030" stroke="none" stroke-width="1.0" />
<rect x="114.85" y="247.82" width="1.5" height="1.5" fill="#ff3030" stroke="none" stroke-width="1.0" />
<polyline points="100.5,225.4 100.5,223.5 115.5,223.5 115.5,236" fill="none" stroke="#1a1a1a" stroke-width="1.1" stroke-linejoin="miter"/>
<text x="107.9" y="219.5" font-size="4.8" text-anchor="middle" font-weight="bold" fill="#1a1a1a" stroke="#1a1a1a" stroke-width="0.45" stroke-linejoin="round" letter-spacing="1.0" >**</text>
<text x="30.2" y="220" font-size="7.2" text-anchor="middle" fill="#1a1a1a" stroke="#1a1a1a" stroke-width="0.22" transform="rotate(-90 30.2 220)" >iAUC (mmol/L x 120min)</text>
<rect x="40.35" y="168.25" width="8.5" height="3.1" fill="none" stroke="#1010ff" stroke-width="1.1" />
<rect x="84.15" y="168.25" width="9.5" height="3.1" fill="none" stroke="#ff3030" stroke-width="1.1" />
<text x="53.2" y="172.4" font-size="7.3" text-anchor="start" fill="#1a1a1a" stroke="#1a1a1a" stroke-width="0.22" ><tspan font-style="italic">Atgl</tspan><tspan font-size="5" dx="1.8" dy="-3">+/+</tspan></text>
<text x="99.3" y="172.4" font-size="7.3" text-anchor="start" fill="#1a1a1a" stroke="#1a1a1a" stroke-width="0.22" ><tspan font-style="italic">Atgl</tspan><tspan font-size="5.1" dx="1.8" dy="-3">F2A/F2A</tspan></text>
<text x="174.4" y="161.7" font-size="18" text-anchor="start" font-weight="bold" fill="#1a1a1a" >E</text>
<rect x="272.16" y="180" width="75.96" height="71.2" fill="#d5d5d5" stroke="none" stroke-width="1.0" />
<line x1="196.5" y1="182.5" x2="196.5" y2="251.2" stroke="#1a1a1a" stroke-width="1.0" />
<line x1="194.2" y1="251.5" x2="196.2" y2="251.5" stroke="#1a1a1a" stroke-width="1.0" />
<text x="192.7" y="253.54" font-size="6.7" text-anchor="end" fill="#1a1a1a" stroke="#1a1a1a" stroke-width="0.22" >0.5</text>
<line x1="194.2" y1="234.5" x2="196.2" y2="234.5" stroke="#1a1a1a" stroke-width="1.0" />
<text x="192.7" y="236.56" font-size="6.7" text-anchor="end" fill="#1a1a1a" stroke="#1a1a1a" stroke-width="0.22" >0.6</text>
<line x1="194.2" y1="217.5" x2="196.2" y2="217.5" stroke="#1a1a1a" stroke-width="1.0" />
<text x="192.7" y="219.59" font-size="6.7" text-anchor="end" fill="#1a1a1a" stroke="#1a1a1a" stroke-width="0.22" >0.7</text>
<line x1="194.2" y1="200.5" x2="196.2" y2="200.5" stroke="#1a1a1a" stroke-width="1.0" />
<text x="192.7" y="202.6" font-size="6.7" text-anchor="end" fill="#1a1a1a" stroke="#1a1a1a" stroke-width="0.22" >0.8</text>
<line x1="194.2" y1="183.5" x2="196.2" y2="183.5" stroke="#1a1a1a" stroke-width="1.0" />
<text x="192.7" y="185.62" font-size="6.7" text-anchor="end" fill="#1a1a1a" stroke="#1a1a1a" stroke-width="0.22" >0.9</text>
<line x1="196.2" y1="251.5" x2="348.5" y2="251.5" stroke="#1a1a1a" stroke-width="1.0" />
<line x1="196.5" y1="251.2" x2="196.5" y2="253.2" stroke="#1a1a1a" stroke-width="1.0" />
<text x="196.2" y="261.6" font-size="6.9" text-anchor="middle" fill="#1a1a1a" stroke="#1a1a1a" stroke-width="0.22" >0</text>
<line x1="208.5" y1="251.2" x2="208.5" y2="253.2" stroke="#1a1a1a" stroke-width="1.0" />
<text x="208.86" y="261.6" font-size="6.9" text-anchor="middle" fill="#1a1a1a" stroke="#1a1a1a" stroke-width="0.22" >2</text>
<line x1="221.5" y1="251.2" x2="221.5" y2="253.2" stroke="#1a1a1a" stroke-width="1.0" />
<text x="221.52" y="261.6" font-size="6.9" text-anchor="middle" fill="#1a1a1a" stroke="#1a1a1a" stroke-width="0.22" >4</text>
<line x1="234.5" y1="251.2" x2="234.5" y2="253.2" stroke="#1a1a1a" stroke-width="1.0" />
<text x="234.18" y="261.6" font-size="6.9" text-anchor="middle" fill="#1a1a1a" stroke="#1a1a1a" stroke-width="0.22" >6</text>
<line x1="246.5" y1="251.2" x2="246.5" y2="253.2" stroke="#1a1a1a" stroke-width="1.0" />
<text x="246.84" y="261.6" font-size="6.9" text-anchor="middle" fill="#1a1a1a" stroke="#1a1a1a" stroke-width="0.22" >8</text>
<line x1="259.5" y1="251.2" x2="259.5" y2="253.2" stroke="#1a1a1a" stroke-width="1.0" />
<text x="259.5" y="261.6" font-size="6.9" text-anchor="middle" fill="#1a1a1a" stroke="#1a1a1a" stroke-width="0.22" >10</text>
<line x1="272.5" y1="251.2" x2="272.5" y2="253.2" stroke="#1a1a1a" stroke-width="1.0" />
<text x="272.16" y="261.6" font-size="6.9" text-anchor="middle" fill="#1a1a1a" stroke="#1a1a1a" stroke-width="0.22" >12</text>
<line x1="284.5" y1="251.2" x2="284.5" y2="253.2" stroke="#1a1a1a" stroke-width="1.0" />
<text x="284.82" y="261.6" font-size="6.9" text-anchor="middle" fill="#1a1a1a" stroke="#1a1a1a" stroke-width="0.22" >14</text>
<line x1="297.5" y1="251.2" x2="297.5" y2="253.2" stroke="#1a1a1a" stroke-width="1.0" />
<text x="297.48" y="261.6" font-size="6.9" text-anchor="middle" fill="#1a1a1a" stroke="#1a1a1a" stroke-width="0.22" >16</text>
<line x1="310.5" y1="251.2" x2="310.5" y2="253.2" stroke="#1a1a1a" stroke-width="1.0" />
<text x="310.14" y="261.6" font-size="6.9" text-anchor="middle" fill="#1a1a1a" stroke="#1a1a1a" stroke-width="0.22" >18</text>
<line x1="322.5" y1="251.2" x2="322.5" y2="253.2" stroke="#1a1a1a" stroke-width="1.0" />
<text x="322.8" y="261.6" font-size="6.9" text-anchor="middle" fill="#1a1a1a" stroke="#1a1a1a" stroke-width="0.22" >20</text>
<line x1="335.5" y1="251.2" x2="335.5" y2="253.2" stroke="#1a1a1a" stroke-width="1.0" />
<text x="335.46" y="261.6" font-size="6.9" text-anchor="middle" fill="#1a1a1a" stroke="#1a1a1a" stroke-width="0.22" >22</text>
<line x1="348.5" y1="251.2" x2="348.5" y2="253.2" stroke="#1a1a1a" stroke-width="1.0" />
<text x="348.12" y="261.6" font-size="6.9" text-anchor="middle" fill="#1a1a1a" stroke="#1a1a1a" stroke-width="0.22" >24</text>
<line x1="202.5" y1="251.2" x2="202.5" y2="252.7" stroke="#1a1a1a" stroke-width="0.8" />
<line x1="215.5" y1="251.2" x2="215.5" y2="252.7" stroke="#1a1a1a" stroke-width="0.8" />
<line x1="227.5" y1="251.2" x2="227.5" y2="252.7" stroke="#1a1a1a" stroke-width="0.8" />
<line x1="240.5" y1="251.2" x2="240.5" y2="252.7" stroke="#1a1a1a" stroke-width="0.8" />
<line x1="253.5" y1="251.2" x2="253.5" y2="252.7" stroke="#1a1a1a" stroke-width="0.8" />
<line x1="265.5" y1="251.2" x2="265.5" y2="252.7" stroke="#1a1a1a" stroke-width="0.8" />
<line x1="278.5" y1="251.2" x2="278.5" y2="252.7" stroke="#1a1a1a" stroke-width="0.8" />
<line x1="291.5" y1="251.2" x2="291.5" y2="252.7" stroke="#1a1a1a" stroke-width="0.8" />
<line x1="303.5" y1="251.2" x2="303.5" y2="252.7" stroke="#1a1a1a" stroke-width="0.8" />
<line x1="316.5" y1="251.2" x2="316.5" y2="252.7" stroke="#1a1a1a" stroke-width="0.8" />
<line x1="329.5" y1="251.2" x2="329.5" y2="252.7" stroke="#1a1a1a" stroke-width="0.8" />
<line x1="341.5" y1="251.2" x2="341.5" y2="252.7" stroke="#1a1a1a" stroke-width="0.8" />
<polyline points="202.53,232.18 208.86,227.26 215.19,233.2 221.52,224.88 227.85,228.45 234.18,231.5 240.51,221.65 246.84,219.96 253.17,224.88 259.5,220.47 265.83,224.54 272.16,216.39 278.49,211.47 284.82,203.83 291.15,208.92 297.48,215.37 303.81,210.62 310.14,213.5 316.47,214.01 322.8,214.01 329.13,220.13 335.46,211.47 341.79,203.32 348.12,214.01" fill="none" stroke="#ff3030" stroke-width="0.7" stroke-linejoin="round"/>
<polyline points="202.53,226.92 208.86,232.01 215.19,233.37 221.52,227.94 227.85,233.03 234.18,232.69 240.51,228.62 246.84,226.58 253.17,229.97 259.5,231.67 265.83,226.92 272.16,223.69 278.49,218.26 284.82,206.37 291.15,212.15 297.48,214.01 303.81,210.96 310.14,213.5 316.47,218.26 322.8,220.64 329.13,218.26 335.46,214.86 341.79,215.88 348.12,216.9" fill="none" stroke="#1010ff" stroke-width="0.7" stroke-linejoin="round"/>
<line x1="202.5" y1="227.09" x2="202.5" y2="237.28" stroke="#ff5a5a" stroke-width="0.55" />
<line x1="201.73" y1="227.5" x2="203.33" y2="227.5" stroke="#ff5a5a" stroke-width="0.55" />
<line x1="201.73" y1="237.5" x2="203.33" y2="237.5" stroke="#ff5a5a" stroke-width="0.55" />
<circle cx="202.53" cy="232.18" r="0.9" fill="#ff3030"/>
<line x1="208.5" y1="222.16" x2="208.5" y2="232.35" stroke="#ff5a5a" stroke-width="0.55" />
<line x1="208.06" y1="222.5" x2="209.66" y2="222.5" stroke="#ff5a5a" stroke-width="0.55" />
<line x1="208.06" y1="232.5" x2="209.66" y2="232.5" stroke="#ff5a5a" stroke-width="0.55" />
<circle cx="208.86" cy="227.26" r="0.9" fill="#ff3030"/>
<line x1="215.5" y1="228.11" x2="215.5" y2="238.3" stroke="#ff5a5a" stroke-width="0.55" />
<line x1="214.39" y1="228.5" x2="215.99" y2="228.5" stroke="#ff5a5a" stroke-width="0.55" />
<line x1="214.39" y1="238.5" x2="215.99" y2="238.5" stroke="#ff5a5a" stroke-width="0.55" />
<circle cx="215.19" cy="233.2" r="0.9" fill="#ff3030"/>
<line x1="221.5" y1="219.79" x2="221.5" y2="229.97" stroke="#ff5a5a" stroke-width="0.55" />
<line x1="220.72" y1="219.5" x2="222.32" y2="219.5" stroke="#ff5a5a" stroke-width="0.55" />
<line x1="220.72" y1="229.5" x2="222.32" y2="229.5" stroke="#ff5a5a" stroke-width="0.55" />
<circle cx="221.52" cy="224.88" r="0.9" fill="#ff3030"/>
<line x1="227.5" y1="225.9" x2="227.5" y2="230.99" stroke="#ff5a5a" stroke-width="0.55" />
<line x1="227.05" y1="225.5" x2="228.65" y2="225.5" stroke="#ff5a5a" stroke-width="0.55" />
<line x1="227.05" y1="230.5" x2="228.65" y2="230.5" stroke="#ff5a5a" stroke-width="0.55" />
<circle cx="227.85" cy="228.45" r="0.9" fill="#ff3030"/>
<line x1="234.5" y1="228.11" x2="234.5" y2="234.9" stroke="#ff5a5a" stroke-width="0.55" />
<line x1="233.38" y1="228.5" x2="234.98" y2="228.5" stroke="#ff5a5a" stroke-width="0.55" />
<line x1="233.38" y1="234.5" x2="234.98" y2="234.5" stroke="#ff5a5a" stroke-width="0.55" />
<circle cx="234.18" cy="231.5" r="0.9" fill="#ff3030"/>
<line x1="240.5" y1="215.71" x2="240.5" y2="227.6" stroke="#ff5a5a" stroke-width="0.55" />
<line x1="239.71" y1="215.5" x2="241.31" y2="215.5" stroke="#ff5a5a" stroke-width="0.55" />
<line x1="239.71" y1="227.5" x2="241.31" y2="227.5" stroke="#ff5a5a" stroke-width="0.55" />
<circle cx="240.51" cy="221.65" r="0.9" fill="#ff3030"/>
<line x1="246.5" y1="213.16" x2="246.5" y2="226.75" stroke="#ff5a5a" stroke-width="0.55" />
<line x1="246.04" y1="213.5" x2="247.64" y2="213.5" stroke="#ff5a5a" stroke-width="0.55" />
<line x1="246.04" y1="226.5" x2="247.64" y2="226.5" stroke="#ff5a5a" stroke-width="0.55" />
<circle cx="246.84" cy="219.96" r="0.9" fill="#ff3030"/>
<line x1="253.5" y1="219.79" x2="253.5" y2="229.97" stroke="#ff5a5a" stroke-width="0.55" />
<line x1="252.37" y1="219.5" x2="253.97" y2="219.5" stroke="#ff5a5a" stroke-width="0.55" />
<line x1="252.37" y1="229.5" x2="253.97" y2="229.5" stroke="#ff5a5a" stroke-width="0.55" />
<circle cx="253.17" cy="224.88" r="0.9" fill="#ff3030"/>
<line x1="259.5" y1="211.98" x2="259.5" y2="228.96" stroke="#ff5a5a" stroke-width="0.55" />
<line x1="258.7" y1="211.5" x2="260.3" y2="211.5" stroke="#ff5a5a" stroke-width="0.55" />
<line x1="258.7" y1="228.5" x2="260.3" y2="228.5" stroke="#ff5a5a" stroke-width="0.55" />
<circle cx="259.5" cy="220.47" r="0.9" fill="#ff3030"/>
<line x1="265.5" y1="221.15" x2="265.5" y2="227.94" stroke="#ff5a5a" stroke-width="0.55" />
<line x1="265.03" y1="221.5" x2="266.63" y2="221.5" stroke="#ff5a5a" stroke-width="0.55" />
<line x1="265.03" y1="227.5" x2="266.63" y2="227.5" stroke="#ff5a5a" stroke-width="0.55" />
<circle cx="265.83" cy="224.54" r="0.9" fill="#ff3030"/>
<line x1="272.5" y1="208.75" x2="272.5" y2="224.03" stroke="#ff5a5a" stroke-width="0.55" />
<line x1="271.36" y1="208.5" x2="272.96" y2="208.5" stroke="#ff5a5a" stroke-width="0.55" />
<line x1="271.36" y1="224.5" x2="272.96" y2="224.5" stroke="#ff5a5a" stroke-width="0.55" />
<circle cx="272.16" cy="216.39" r="0.9" fill="#ff3030"/>
<line x1="278.5" y1="205.52" x2="278.5" y2="217.41" stroke="#ff5a5a" stroke-width="0.55" />
<line x1="277.69" y1="205.5" x2="279.29" y2="205.5" stroke="#ff5a5a" stroke-width="0.55" />
<line x1="277.69" y1="217.5" x2="279.29" y2="217.5" stroke="#ff5a5a" stroke-width="0.55" />
<circle cx="278.49" cy="211.47" r="0.9" fill="#ff3030"/>
<line x1="284.5" y1="199.58" x2="284.5" y2="208.07" stroke="#ff5a5a" stroke-width="0.55" />
<line x1="284.02" y1="199.5" x2="285.62" y2="199.5" stroke="#ff5a5a" stroke-width="0.55" />
<line x1="284.02" y1="208.5" x2="285.62" y2="208.5" stroke="#ff5a5a" stroke-width="0.55" />
<circle cx="284.82" cy="203.83" r="0.9" fill="#ff3030"/>
<line x1="291.5" y1="206.37" x2="291.5" y2="211.47" stroke="#ff5a5a" stroke-width="0.55" />
<line x1="290.35" y1="206.5" x2="291.95" y2="206.5" stroke="#ff5a5a" stroke-width="0.55" />
<line x1="290.35" y1="211.5" x2="291.95" y2="211.5" stroke="#ff5a5a" stroke-width="0.55" />
<circle cx="291.15" cy="208.92" r="0.9" fill="#ff3030"/>
<line x1="297.5" y1="211.13" x2="297.5" y2="219.62" stroke="#ff5a5a" stroke-width="0.55" />
<line x1="296.68" y1="211.5" x2="298.28" y2="211.5" stroke="#ff5a5a" stroke-width="0.55" />
<line x1="296.68" y1="219.5" x2="298.28" y2="219.5" stroke="#ff5a5a" stroke-width="0.55" />
<circle cx="297.48" cy="215.37" r="0.9" fill="#ff3030"/>
<line x1="303.5" y1="205.52" x2="303.5" y2="215.71" stroke="#ff5a5a" stroke-width="0.55" />
<line x1="303.01" y1="205.5" x2="304.61" y2="205.5" stroke="#ff5a5a" stroke-width="0.55" />
<line x1="303.01" y1="215.5" x2="304.61" y2="215.5" stroke="#ff5a5a" stroke-width="0.55" />
<circle cx="303.81" cy="210.62" r="0.9" fill="#ff3030"/>
<line x1="310.5" y1="210.11" x2="310.5" y2="216.9" stroke="#ff5a5a" stroke-width="0.55" />
<line x1="309.34" y1="210.5" x2="310.94" y2="210.5" stroke="#ff5a5a" stroke-width="0.55" />
<line x1="309.34" y1="216.5" x2="310.94" y2="216.5" stroke="#ff5a5a" stroke-width="0.55" />
<circle cx="310.14" cy="213.5" r="0.9" fill="#ff3030"/>
<line x1="316.5" y1="211.47" x2="316.5" y2="216.56" stroke="#ff5a5a" stroke-width="0.55" />
<line x1="315.67" y1="211.5" x2="317.27" y2="211.5" stroke="#ff5a5a" stroke-width="0.55" />
<line x1="315.67" y1="216.5" x2="317.27" y2="216.5" stroke="#ff5a5a" stroke-width="0.55" />
<circle cx="316.47" cy="214.01" r="0.9" fill="#ff3030"/>
<line x1="322.5" y1="211.47" x2="322.5" y2="216.56" stroke="#ff5a5a" stroke-width="0.55" />
<line x1="322" y1="211.5" x2="323.6" y2="211.5" stroke="#ff5a5a" stroke-width="0.55" />
<line x1="322" y1="216.5" x2="323.6" y2="216.5" stroke="#ff5a5a" stroke-width="0.55" />
<circle cx="322.8" cy="214.01" r="0.9" fill="#ff3030"/>
<line x1="329.5" y1="216.73" x2="329.5" y2="223.52" stroke="#ff5a5a" stroke-width="0.55" />
<line x1="328.33" y1="216.5" x2="329.93" y2="216.5" stroke="#ff5a5a" stroke-width="0.55" />
<line x1="328.33" y1="223.5" x2="329.93" y2="223.5" stroke="#ff5a5a" stroke-width="0.55" />
<circle cx="329.13" cy="220.13" r="0.9" fill="#ff3030"/>
<line x1="335.5" y1="208.07" x2="335.5" y2="214.86" stroke="#ff5a5a" stroke-width="0.55" />
<line x1="334.66" y1="208.5" x2="336.26" y2="208.5" stroke="#ff5a5a" stroke-width="0.55" />
<line x1="334.66" y1="214.5" x2="336.26" y2="214.5" stroke="#ff5a5a" stroke-width="0.55" />
<circle cx="335.46" cy="211.47" r="0.9" fill="#ff3030"/>
<line x1="341.5" y1="199.92" x2="341.5" y2="206.71" stroke="#ff5a5a" stroke-width="0.55" />
<line x1="340.99" y1="199.5" x2="342.59" y2="199.5" stroke="#ff5a5a" stroke-width="0.55" />
<line x1="340.99" y1="206.5" x2="342.59" y2="206.5" stroke="#ff5a5a" stroke-width="0.55" />
<circle cx="341.79" cy="203.32" r="0.9" fill="#ff3030"/>
<line x1="348.5" y1="210.62" x2="348.5" y2="217.41" stroke="#ff5a5a" stroke-width="0.55" />
<line x1="347.32" y1="210.5" x2="348.92" y2="210.5" stroke="#ff5a5a" stroke-width="0.55" />
<line x1="347.32" y1="217.5" x2="348.92" y2="217.5" stroke="#ff5a5a" stroke-width="0.55" />
<circle cx="348.12" cy="214.01" r="0.9" fill="#ff3030"/>
<line x1="202.5" y1="224.88" x2="202.5" y2="228.96" stroke="#4a4aff" stroke-width="0.55" />
<line x1="201.73" y1="224.5" x2="203.33" y2="224.5" stroke="#4a4aff" stroke-width="0.55" />
<line x1="201.73" y1="228.5" x2="203.33" y2="228.5" stroke="#4a4aff" stroke-width="0.55" />
<rect x="201.63" y="226.02" width="1.8" height="1.8" fill="#1010ff" stroke="none" stroke-width="1.0" />
<line x1="208.5" y1="230.31" x2="208.5" y2="233.71" stroke="#4a4aff" stroke-width="0.55" />
<line x1="208.06" y1="230.5" x2="209.66" y2="230.5" stroke="#4a4aff" stroke-width="0.55" />
<line x1="208.06" y1="233.5" x2="209.66" y2="233.5" stroke="#4a4aff" stroke-width="0.55" />
<rect x="207.96" y="231.11" width="1.8" height="1.8" fill="#1010ff" stroke="none" stroke-width="1.0" />
<line x1="215.5" y1="230.82" x2="215.5" y2="235.92" stroke="#4a4aff" stroke-width="0.55" />
<line x1="214.39" y1="230.5" x2="215.99" y2="230.5" stroke="#4a4aff" stroke-width="0.55" />
<line x1="214.39" y1="235.5" x2="215.99" y2="235.5" stroke="#4a4aff" stroke-width="0.55" />
<rect x="214.29" y="232.47" width="1.8" height="1.8" fill="#1010ff" stroke="none" stroke-width="1.0" />
<line x1="221.5" y1="225.39" x2="221.5" y2="230.48" stroke="#4a4aff" stroke-width="0.55" />
<line x1="220.72" y1="225.5" x2="222.32" y2="225.5" stroke="#4a4aff" stroke-width="0.55" />
<line x1="220.72" y1="230.5" x2="222.32" y2="230.5" stroke="#4a4aff" stroke-width="0.55" />
<rect x="220.62" y="227.04" width="1.8" height="1.8" fill="#1010ff" stroke="none" stroke-width="1.0" />
<line x1="227.5" y1="229.64" x2="227.5" y2="236.43" stroke="#4a4aff" stroke-width="0.55" />
<line x1="227.05" y1="229.5" x2="228.65" y2="229.5" stroke="#4a4aff" stroke-width="0.55" />
<line x1="227.05" y1="236.5" x2="228.65" y2="236.5" stroke="#4a4aff" stroke-width="0.55" />
<rect x="226.95" y="232.13" width="1.8" height="1.8" fill="#1010ff" stroke="none" stroke-width="1.0" />
<line x1="234.5" y1="230.65" x2="234.5" y2="234.73" stroke="#4a4aff" stroke-width="0.55" />
<line x1="233.38" y1="230.5" x2="234.98" y2="230.5" stroke="#4a4aff" stroke-width="0.55" />
<line x1="233.38" y1="234.5" x2="234.98" y2="234.5" stroke="#4a4aff" stroke-width="0.55" />
<rect x="233.28" y="231.79" width="1.8" height="1.8" fill="#1010ff" stroke="none" stroke-width="1.0" />
<line x1="240.5" y1="225.22" x2="240.5" y2="232.01" stroke="#4a4aff" stroke-width="0.55" />
<line x1="239.71" y1="225.5" x2="241.31" y2="225.5" stroke="#4a4aff" stroke-width="0.55" />
<line x1="239.71" y1="232.5" x2="241.31" y2="232.5" stroke="#4a4aff" stroke-width="0.55" />
<rect x="239.61" y="227.72" width="1.8" height="1.8" fill="#1010ff" stroke="none" stroke-width="1.0" />
<line x1="246.5" y1="223.18" x2="246.5" y2="229.97" stroke="#4a4aff" stroke-width="0.55" />
<line x1="246.04" y1="223.5" x2="247.64" y2="223.5" stroke="#4a4aff" stroke-width="0.55" />
<line x1="246.04" y1="229.5" x2="247.64" y2="229.5" stroke="#4a4aff" stroke-width="0.55" />
<rect x="245.94" y="225.68" width="1.8" height="1.8" fill="#1010ff" stroke="none" stroke-width="1.0" />
<line x1="253.5" y1="227.43" x2="253.5" y2="232.52" stroke="#4a4aff" stroke-width="0.55" />
<line x1="252.37" y1="227.5" x2="253.97" y2="227.5" stroke="#4a4aff" stroke-width="0.55" />
<line x1="252.37" y1="232.5" x2="253.97" y2="232.5" stroke="#4a4aff" stroke-width="0.55" />
<rect x="252.27" y="229.07" width="1.8" height="1.8" fill="#1010ff" stroke="none" stroke-width="1.0" />
<line x1="259.5" y1="228.28" x2="259.5" y2="235.07" stroke="#4a4aff" stroke-width="0.55" />
<line x1="258.7" y1="228.5" x2="260.3" y2="228.5" stroke="#4a4aff" stroke-width="0.55" />
<line x1="258.7" y1="235.5" x2="260.3" y2="235.5" stroke="#4a4aff" stroke-width="0.55" />
<rect x="258.6" y="230.77" width="1.8" height="1.8" fill="#1010ff" stroke="none" stroke-width="1.0" />
<line x1="265.5" y1="223.52" x2="265.5" y2="230.31" stroke="#4a4aff" stroke-width="0.55" />
<line x1="265.03" y1="223.5" x2="266.63" y2="223.5" stroke="#4a4aff" stroke-width="0.55" />
<line x1="265.03" y1="230.5" x2="266.63" y2="230.5" stroke="#4a4aff" stroke-width="0.55" />
<rect x="264.93" y="226.02" width="1.8" height="1.8" fill="#1010ff" stroke="none" stroke-width="1.0" />
<line x1="272.5" y1="221.15" x2="272.5" y2="226.24" stroke="#4a4aff" stroke-width="0.55" />
<line x1="271.36" y1="221.5" x2="272.96" y2="221.5" stroke="#4a4aff" stroke-width="0.55" />
<line x1="271.36" y1="226.5" x2="272.96" y2="226.5" stroke="#4a4aff" stroke-width="0.55" />
<rect x="271.26" y="222.79" width="1.8" height="1.8" fill="#1010ff" stroke="none" stroke-width="1.0" />
<line x1="278.5" y1="214.86" x2="278.5" y2="221.65" stroke="#4a4aff" stroke-width="0.55" />
<line x1="277.69" y1="214.5" x2="279.29" y2="214.5" stroke="#4a4aff" stroke-width="0.55" />
<line x1="277.69" y1="221.5" x2="279.29" y2="221.5" stroke="#4a4aff" stroke-width="0.55" />
<rect x="277.59" y="217.36" width="1.8" height="1.8" fill="#1010ff" stroke="none" stroke-width="1.0" />
<line x1="284.5" y1="203.83" x2="284.5" y2="208.92" stroke="#4a4aff" stroke-width="0.55" />
<line x1="284.02" y1="203.5" x2="285.62" y2="203.5" stroke="#4a4aff" stroke-width="0.55" />
<line x1="284.02" y1="208.5" x2="285.62" y2="208.5" stroke="#4a4aff" stroke-width="0.55" />
<rect x="283.92" y="205.47" width="1.8" height="1.8" fill="#1010ff" stroke="none" stroke-width="1.0" />
<line x1="291.5" y1="210.45" x2="291.5" y2="213.84" stroke="#4a4aff" stroke-width="0.55" />
<line x1="290.35" y1="210.5" x2="291.95" y2="210.5" stroke="#4a4aff" stroke-width="0.55" />
<line x1="290.35" y1="213.5" x2="291.95" y2="213.5" stroke="#4a4aff" stroke-width="0.55" />
<rect x="290.25" y="211.25" width="1.8" height="1.8" fill="#1010ff" stroke="none" stroke-width="1.0" />
<line x1="297.5" y1="210.62" x2="297.5" y2="217.41" stroke="#4a4aff" stroke-width="0.55" />
<line x1="296.68" y1="210.5" x2="298.28" y2="210.5" stroke="#4a4aff" stroke-width="0.55" />
<line x1="296.68" y1="217.5" x2="298.28" y2="217.5" stroke="#4a4aff" stroke-width="0.55" />
<rect x="296.58" y="213.11" width="1.8" height="1.8" fill="#1010ff" stroke="none" stroke-width="1.0" />
<line x1="303.5" y1="205.86" x2="303.5" y2="216.05" stroke="#4a4aff" stroke-width="0.55" />
<line x1="303.01" y1="205.5" x2="304.61" y2="205.5" stroke="#4a4aff" stroke-width="0.55" />
<line x1="303.01" y1="216.5" x2="304.61" y2="216.5" stroke="#4a4aff" stroke-width="0.55" />
<rect x="302.91" y="210.06" width="1.8" height="1.8" fill="#1010ff" stroke="none" stroke-width="1.0" />
<line x1="310.5" y1="210.96" x2="310.5" y2="216.05" stroke="#4a4aff" stroke-width="0.55" />
<line x1="309.34" y1="210.5" x2="310.94" y2="210.5" stroke="#4a4aff" stroke-width="0.55" />
<line x1="309.34" y1="216.5" x2="310.94" y2="216.5" stroke="#4a4aff" stroke-width="0.55" />
<rect x="309.24" y="212.6" width="1.8" height="1.8" fill="#1010ff" stroke="none" stroke-width="1.0" />
<line x1="316.5" y1="215.71" x2="316.5" y2="220.81" stroke="#4a4aff" stroke-width="0.55" />
<line x1="315.67" y1="215.5" x2="317.27" y2="215.5" stroke="#4a4aff" stroke-width="0.55" />
<line x1="315.67" y1="220.5" x2="317.27" y2="220.5" stroke="#4a4aff" stroke-width="0.55" />
<rect x="315.57" y="217.36" width="1.8" height="1.8" fill="#1010ff" stroke="none" stroke-width="1.0" />
<line x1="322.5" y1="218.09" x2="322.5" y2="223.18" stroke="#4a4aff" stroke-width="0.55" />
<line x1="322" y1="218.5" x2="323.6" y2="218.5" stroke="#4a4aff" stroke-width="0.55" />
<line x1="322" y1="223.5" x2="323.6" y2="223.5" stroke="#4a4aff" stroke-width="0.55" />
<rect x="321.9" y="219.74" width="1.8" height="1.8" fill="#1010ff" stroke="none" stroke-width="1.0" />
<line x1="329.5" y1="214.86" x2="329.5" y2="221.65" stroke="#4a4aff" stroke-width="0.55" />
<line x1="328.33" y1="214.5" x2="329.93" y2="214.5" stroke="#4a4aff" stroke-width="0.55" />
<line x1="328.33" y1="221.5" x2="329.93" y2="221.5" stroke="#4a4aff" stroke-width="0.55" />
<rect x="328.23" y="217.36" width="1.8" height="1.8" fill="#1010ff" stroke="none" stroke-width="1.0" />
<line x1="335.5" y1="211.47" x2="335.5" y2="218.26" stroke="#4a4aff" stroke-width="0.55" />
<line x1="334.66" y1="211.5" x2="336.26" y2="211.5" stroke="#4a4aff" stroke-width="0.55" />
<line x1="334.66" y1="218.5" x2="336.26" y2="218.5" stroke="#4a4aff" stroke-width="0.55" />
<rect x="334.56" y="213.96" width="1.8" height="1.8" fill="#1010ff" stroke="none" stroke-width="1.0" />
<line x1="341.5" y1="212.49" x2="341.5" y2="219.28" stroke="#4a4aff" stroke-width="0.55" />
<line x1="340.99" y1="212.5" x2="342.59" y2="212.5" stroke="#4a4aff" stroke-width="0.55" />
<line x1="340.99" y1="219.5" x2="342.59" y2="219.5" stroke="#4a4aff" stroke-width="0.55" />
<rect x="340.89" y="214.98" width="1.8" height="1.8" fill="#1010ff" stroke="none" stroke-width="1.0" />
<line x1="348.5" y1="213.5" x2="348.5" y2="220.3" stroke="#4a4aff" stroke-width="0.55" />
<line x1="347.32" y1="213.5" x2="348.92" y2="213.5" stroke="#4a4aff" stroke-width="0.55" />
<line x1="347.32" y1="220.5" x2="348.92" y2="220.5" stroke="#4a4aff" stroke-width="0.55" />
<rect x="347.22" y="216" width="1.8" height="1.8" fill="#1010ff" stroke="none" stroke-width="1.0" />
<text x="272.4" y="271.8" font-size="6.8" text-anchor="middle" fill="#1a1a1a" stroke="#1a1a1a" stroke-width="0.22" >Hours</text>
<text x="179.3" y="215" font-size="6.75" text-anchor="middle" fill="#1a1a1a" stroke="#1a1a1a" stroke-width="0.22" transform="rotate(-90 179.3 215)" >Energy Expenditure (kcal/hr)</text>
<line x1="204.9" y1="189.5" x2="212.3" y2="189.5" stroke="#1010ff" stroke-width="0.8" />
<rect x="207.8" y="188.8" width="1.8" height="1.8" fill="#1010ff" stroke="none" stroke-width="1.0" />
<line x1="204.9" y1="199.5" x2="212.3" y2="199.5" stroke="#ff3030" stroke-width="0.8" />
<circle cx="208.6" cy="199.6" r="0.9" fill="#ff3030"/>
<text x="216.1" y="191.8" font-size="7.3" text-anchor="start" fill="#1a1a1a" stroke="#1a1a1a" stroke-width="0.22" ><tspan font-style="italic">Atgl</tspan><tspan font-style="italic" font-size="5" dy="-2.6">+/+</tspan></text>
<text x="216.1" y="201.7" font-size="7.3" text-anchor="start" fill="#1a1a1a" stroke="#1a1a1a" stroke-width="0.22" ><tspan font-style="italic">Atgl</tspan><tspan font-style="italic" font-size="5" dy="-2.6">F2A/F2A</tspan></text>
<text x="372.1" y="161.8" font-size="18" text-anchor="start" font-weight="bold" fill="#1a1a1a" >F</text>
<line x1="414.5" y1="188.3" x2="414.5" y2="253.2" stroke="#1a1a1a" stroke-width="1.0" />
<line x1="412.8" y1="253.5" x2="414.8" y2="253.5" stroke="#1a1a1a" stroke-width="1.0" />
<text x="411.3" y="255.41" font-size="6.3" text-anchor="end" fill="#1a1a1a" stroke="#1a1a1a" stroke-width="0.22" >0.0</text>
<line x1="412.8" y1="236.5" x2="414.8" y2="236.5" stroke="#1a1a1a" stroke-width="1.0" />
<text x="411.3" y="239.19" font-size="6.3" text-anchor="end" fill="#1a1a1a" stroke="#1a1a1a" stroke-width="0.22" >0.2</text>
<line x1="412.8" y1="220.5" x2="414.8" y2="220.5" stroke="#1a1a1a" stroke-width="1.0" />
<text x="411.3" y="222.97" font-size="6.3" text-anchor="end" fill="#1a1a1a" stroke="#1a1a1a" stroke-width="0.22" >0.4</text>
<line x1="412.8" y1="204.5" x2="414.8" y2="204.5" stroke="#1a1a1a" stroke-width="1.0" />
<text x="411.3" y="206.75" font-size="6.3" text-anchor="end" fill="#1a1a1a" stroke="#1a1a1a" stroke-width="0.22" >0.6</text>
<line x1="412.8" y1="188.5" x2="414.8" y2="188.5" stroke="#1a1a1a" stroke-width="1.0" />
<text x="411.3" y="190.53" font-size="6.3" text-anchor="end" fill="#1a1a1a" stroke="#1a1a1a" stroke-width="0.22" >0.8</text>
<line x1="414.8" y1="253.5" x2="479.6" y2="253.5" stroke="#1a1a1a" stroke-width="1.0" />
<line x1="428.5" y1="253.2" x2="428.5" y2="255" stroke="#1a1a1a" stroke-width="1.0" />
<line x1="463.5" y1="253.2" x2="463.5" y2="255" stroke="#1a1a1a" stroke-width="1.0" />
<text x="428.8" y="262.8" font-size="6.5" text-anchor="middle" fill="#1a1a1a" stroke="#1a1a1a" stroke-width="0.22" >light</text>
<text x="463.9" y="262.8" font-size="6.5" text-anchor="middle" fill="#1a1a1a" stroke="#1a1a1a" stroke-width="0.22" >dark</text>
<rect x="418.75" y="205.19" width="7.4" height="48.01" fill="white" stroke="#1010ff" stroke-width="1.3" />
<rect x="431.45" y="199.35" width="7.5" height="53.85" fill="white" stroke="#ff3030" stroke-width="1.3" />
<rect x="453.65" y="196.67" width="7.6" height="56.53" fill="white" stroke="#1010ff" stroke-width="1.3" />
<rect x="466.85" y="193.43" width="7.5" height="59.77" fill="white" stroke="#ff3030" stroke-width="1.3" />
<line x1="422.5" y1="203.32" x2="422.5" y2="205.76" stroke="#1010ff" stroke-width="0.7" />
<line x1="420.8" y1="203.5" x2="423.8" y2="203.5" stroke="#1010ff" stroke-width="0.7" />
<line x1="420.8" y1="205.5" x2="423.8" y2="205.5" stroke="#1010ff" stroke-width="0.7" />
<line x1="435.5" y1="197.89" x2="435.5" y2="199.51" stroke="#ff3030" stroke-width="0.7" />
<line x1="433.9" y1="197.5" x2="436.9" y2="197.5" stroke="#ff3030" stroke-width="0.7" />
<line x1="433.9" y1="199.5" x2="436.9" y2="199.5" stroke="#ff3030" stroke-width="0.7" />
<line x1="457.5" y1="195.38" x2="457.5" y2="196.67" stroke="#1010ff" stroke-width="0.7" />
<line x1="455.8" y1="195.5" x2="458.8" y2="195.5" stroke="#1010ff" stroke-width="0.7" />
<line x1="455.8" y1="196.5" x2="458.8" y2="196.5" stroke="#1010ff" stroke-width="0.7" />
<line x1="470.5" y1="191.81" x2="470.5" y2="193.75" stroke="#ff3030" stroke-width="0.7" />
<line x1="468.8" y1="191.5" x2="471.8" y2="191.5" stroke="#ff3030" stroke-width="0.7" />
<line x1="468.8" y1="193.5" x2="471.8" y2="193.5" stroke="#ff3030" stroke-width="0.7" />
<rect x="420.3" y="201.41" width="1.4" height="1.4" fill="#1010ff" stroke="none" stroke-width="1.0" />
<rect x="422.8" y="202.22" width="1.4" height="1.4" fill="#1010ff" stroke="none" stroke-width="1.0" />
<rect x="419.3" y="205.46" width="1.4" height="1.4" fill="#1010ff" stroke="none" stroke-width="1.0" />
<rect x="421.8" y="207.89" width="1.4" height="1.4" fill="#1010ff" stroke="none" stroke-width="1.0" />
<rect x="432.8" y="195.73" width="1.4" height="1.4" fill="#ff3030" stroke="none" stroke-width="1.0" />
<rect x="435.8" y="196.54" width="1.4" height="1.4" fill="#ff3030" stroke="none" stroke-width="1.0" />
<rect x="434.3" y="198.97" width="1.4" height="1.4" fill="#ff3030" stroke="none" stroke-width="1.0" />
<rect x="436.3" y="199.78" width="1.4" height="1.4" fill="#ff3030" stroke="none" stroke-width="1.0" />
<rect x="454.8" y="194.11" width="1.4" height="1.4" fill="#1010ff" stroke="none" stroke-width="1.0" />
<rect x="458.3" y="194.51" width="1.4" height="1.4" fill="#1010ff" stroke="none" stroke-width="1.0" />
<rect x="456.3" y="195.73" width="1.4" height="1.4" fill="#1010ff" stroke="none" stroke-width="1.0" />
<rect x="457.8" y="196.54" width="1.4" height="1.4" fill="#1010ff" stroke="none" stroke-width="1.0" />
<rect x="467.8" y="189.24" width="1.4" height="1.4" fill="#ff3030" stroke="none" stroke-width="1.0" />
<rect x="470.8" y="190.86" width="1.4" height="1.4" fill="#ff3030" stroke="none" stroke-width="1.0" />
<rect x="469.3" y="192.49" width="1.4" height="1.4" fill="#ff3030" stroke="none" stroke-width="1.0" />
<rect x="471.8" y="193.3" width="1.4" height="1.4" fill="#ff3030" stroke="none" stroke-width="1.0" />
<polyline points="422.5,193.8 422.5,190.5 435.5,190.5 435.5,195" fill="none" stroke="#1a1a1a" stroke-width="1.2" stroke-linejoin="miter"/>
<polyline points="457.5,192.5 457.5,183.5 471.5,183.5 471.5,187.5" fill="none" stroke="#1a1a1a" stroke-width="1.2" stroke-linejoin="miter"/>
<text x="428.9" y="189.5" font-size="4.4" text-anchor="middle" font-weight="bold" fill="#1a1a1a" stroke="#1a1a1a" stroke-width="0.45" stroke-linejoin="round" letter-spacing="1.0" >**</text>
<text x="464.6" y="181.8" font-size="4.4" text-anchor="middle" font-weight="bold" fill="#1a1a1a" stroke="#1a1a1a" stroke-width="0.45" stroke-linejoin="round" letter-spacing="1.0" >*</text>
<text x="398.8" y="218.5" font-size="6.35" text-anchor="middle" font-style="italic" fill="#1a1a1a" stroke="#1a1a1a" stroke-width="0.22" transform="rotate(-90 398.8 218.5)" >Energy Expenditure (kcal/hr)</text>
<rect x="419.55" y="165.75" width="6.5" height="2.9" fill="none" stroke="#1010ff" stroke-width="1.1" />
<rect x="419.55" y="174.35" width="6.5" height="2.9" fill="none" stroke="#ff3030" stroke-width="1.1" />
<text x="431.4" y="169.6" font-size="6.5" text-anchor="start" fill="#1a1a1a" stroke="#1a1a1a" stroke-width="0.22" ><tspan font-style="italic">Atgl</tspan><tspan font-style="italic" font-size="4.5" dy="-2.3">+/+</tspan></text>
<text x="431.4" y="178.2" font-size="6.5" text-anchor="start" fill="#1a1a1a" stroke="#1a1a1a" stroke-width="0.22" ><tspan font-style="italic">Atgl</tspan><tspan font-style="italic" font-size="4.5" dy="-2.3">F2A/F2A</tspan></text>
<text x="3.8" y="300.9" font-size="18" text-anchor="start" font-weight="bold" fill="#1a1a1a" >G</text>
<line x1="38.5" y1="308.6" x2="38.5" y2="385.4" stroke="#1a1a1a" stroke-width="1.0" />
<line x1="36.4" y1="385.5" x2="38.4" y2="385.5" stroke="#1a1a1a" stroke-width="1.0" />
<text x="34.4" y="388.06" font-size="7.6" text-anchor="end" fill="#1a1a1a" stroke="#1a1a1a" stroke-width="0.22" >0</text>
<line x1="36.4" y1="366.5" x2="38.4" y2="366.5" stroke="#1a1a1a" stroke-width="1.0" />
<text x="34.4" y="368.86" font-size="7.6" text-anchor="end" fill="#1a1a1a" stroke="#1a1a1a" stroke-width="0.22" >1</text>
<line x1="36.4" y1="347.5" x2="38.4" y2="347.5" stroke="#1a1a1a" stroke-width="1.0" />
<text x="34.4" y="349.66" font-size="7.6" text-anchor="end" fill="#1a1a1a" stroke="#1a1a1a" stroke-width="0.22" >2</text>
<line x1="36.4" y1="327.5" x2="38.4" y2="327.5" stroke="#1a1a1a" stroke-width="1.0" />
<text x="34.4" y="330.46" font-size="7.6" text-anchor="end" fill="#1a1a1a" stroke="#1a1a1a" stroke-width="0.22" >3</text>
<line x1="36.4" y1="308.5" x2="38.4" y2="308.5" stroke="#1a1a1a" stroke-width="1.0" />
<text x="34.4" y="311.26" font-size="7.6" text-anchor="end" fill="#1a1a1a" stroke="#1a1a1a" stroke-width="0.22" >4</text>
<line x1="38.4" y1="385.5" x2="153.1" y2="385.5" stroke="#1a1a1a" stroke-width="1.0" />
<line x1="46.5" y1="385.4" x2="46.5" y2="387.4" stroke="#1a1a1a" stroke-width="1.0" />
<line x1="66.5" y1="385.4" x2="66.5" y2="387.4" stroke="#1a1a1a" stroke-width="1.0" />
<line x1="85.5" y1="385.4" x2="85.5" y2="387.4" stroke="#1a1a1a" stroke-width="1.0" />
<line x1="105.5" y1="385.4" x2="105.5" y2="387.4" stroke="#1a1a1a" stroke-width="1.0" />
<line x1="124.5" y1="385.4" x2="124.5" y2="387.4" stroke="#1a1a1a" stroke-width="1.0" />
<line x1="144.5" y1="385.4" x2="144.5" y2="387.4" stroke="#1a1a1a" stroke-width="1.0" />
<rect x="41.25" y="347.93" width="3.7" height="37.47" fill="white" stroke="#1010ff" stroke-width="1.1" />
<rect x="48.45" y="355.81" width="3.7" height="29.59" fill="white" stroke="#ff3030" stroke-width="1.1" />
<line x1="43.5" y1="345.86" x2="43.5" y2="348.91" stroke="#1010ff" stroke-width="0.6" />
<line x1="41.9" y1="345.5" x2="44.3" y2="345.5" stroke="#1010ff" stroke-width="0.6" />
<line x1="41.9" y1="348.5" x2="44.3" y2="348.5" stroke="#1010ff" stroke-width="0.6" />
<line x1="50.5" y1="353.35" x2="50.5" y2="357.16" stroke="#ff3030" stroke-width="0.6" />
<line x1="49.1" y1="353.5" x2="51.5" y2="353.5" stroke="#ff3030" stroke-width="0.6" />
<line x1="49.1" y1="357.5" x2="51.5" y2="357.5" stroke="#ff3030" stroke-width="0.6" />
<rect x="41.4" y="338.72" width="1.2" height="1.2" fill="#1010ff" stroke="none" stroke-width="1.0" />
<rect x="42.5" y="345.44" width="1.2" height="1.2" fill="#1010ff" stroke="none" stroke-width="1.0" />
<rect x="43.6" y="347.36" width="1.2" height="1.2" fill="#1010ff" stroke="none" stroke-width="1.0" />
<rect x="41.4" y="348.32" width="1.2" height="1.2" fill="#1010ff" stroke="none" stroke-width="1.0" />
<rect x="42.5" y="349.28" width="1.2" height="1.2" fill="#1010ff" stroke="none" stroke-width="1.0" />
<rect x="48.6" y="344.48" width="1.2" height="1.2" fill="#ff3030" stroke="none" stroke-width="1.0" />
<rect x="49.7" y="352.16" width="1.2" height="1.2" fill="#ff3030" stroke="none" stroke-width="1.0" />
<rect x="50.8" y="354.08" width="1.2" height="1.2" fill="#ff3030" stroke="none" stroke-width="1.0" />
<rect x="48.6" y="356" width="1.2" height="1.2" fill="#ff3030" stroke="none" stroke-width="1.0" />
<rect x="49.7" y="359.84" width="1.2" height="1.2" fill="#ff3030" stroke="none" stroke-width="1.0" />
<rect x="60.85" y="325.09" width="3.7" height="60.31" fill="white" stroke="#1010ff" stroke-width="1.1" />
<rect x="68.05" y="352.93" width="3.7" height="32.47" fill="white" stroke="#ff3030" stroke-width="1.1" />
<line x1="62.5" y1="320.72" x2="62.5" y2="328.35" stroke="#1010ff" stroke-width="0.6" />
<line x1="61.5" y1="320.5" x2="63.9" y2="320.5" stroke="#1010ff" stroke-width="0.6" />
<line x1="61.5" y1="328.5" x2="63.9" y2="328.5" stroke="#1010ff" stroke-width="0.6" />
<line x1="69.5" y1="346.65" x2="69.5" y2="358.1" stroke="#ff3030" stroke-width="0.6" />
<line x1="68.7" y1="346.5" x2="71.1" y2="346.5" stroke="#ff3030" stroke-width="0.6" />
<line x1="68.7" y1="358.5" x2="71.1" y2="358.5" stroke="#ff3030" stroke-width="0.6" />
<rect x="61" y="312.8" width="1.2" height="1.2" fill="#1010ff" stroke="none" stroke-width="1.0" />
<rect x="62.1" y="314.72" width="1.2" height="1.2" fill="#1010ff" stroke="none" stroke-width="1.0" />
<rect x="63.2" y="319.52" width="1.2" height="1.2" fill="#1010ff" stroke="none" stroke-width="1.0" />
<rect x="61" y="327.2" width="1.2" height="1.2" fill="#1010ff" stroke="none" stroke-width="1.0" />
<rect x="62.1" y="344.48" width="1.2" height="1.2" fill="#1010ff" stroke="none" stroke-width="1.0" />
<rect x="68.2" y="330.08" width="1.2" height="1.2" fill="#ff3030" stroke="none" stroke-width="1.0" />
<rect x="69.3" y="345.44" width="1.2" height="1.2" fill="#ff3030" stroke="none" stroke-width="1.0" />
<rect x="70.4" y="354.08" width="1.2" height="1.2" fill="#ff3030" stroke="none" stroke-width="1.0" />
<rect x="68.2" y="359.84" width="1.2" height="1.2" fill="#ff3030" stroke="none" stroke-width="1.0" />
<rect x="69.3" y="365.6" width="1.2" height="1.2" fill="#ff3030" stroke="none" stroke-width="1.0" />
<rect x="80.45" y="341.41" width="3.7" height="43.99" fill="white" stroke="#1010ff" stroke-width="1.1" />
<rect x="87.65" y="349.28" width="3.7" height="36.12" fill="white" stroke="#ff3030" stroke-width="1.1" />
<line x1="82.5" y1="337.99" x2="82.5" y2="343.72" stroke="#1010ff" stroke-width="0.6" />
<line x1="81.1" y1="337.5" x2="83.5" y2="337.5" stroke="#1010ff" stroke-width="0.6" />
<line x1="81.1" y1="343.5" x2="83.5" y2="343.5" stroke="#1010ff" stroke-width="0.6" />
<line x1="89.5" y1="344.91" x2="89.5" y2="352.54" stroke="#ff3030" stroke-width="0.6" />
<line x1="88.3" y1="344.5" x2="90.7" y2="344.5" stroke="#ff3030" stroke-width="0.6" />
<line x1="88.3" y1="352.5" x2="90.7" y2="352.5" stroke="#ff3030" stroke-width="0.6" />
<rect x="80.6" y="332" width="1.2" height="1.2" fill="#1010ff" stroke="none" stroke-width="1.0" />
<rect x="81.7" y="334.88" width="1.2" height="1.2" fill="#1010ff" stroke="none" stroke-width="1.0" />
<rect x="82.8" y="338.72" width="1.2" height="1.2" fill="#1010ff" stroke="none" stroke-width="1.0" />
<rect x="80.6" y="342.56" width="1.2" height="1.2" fill="#1010ff" stroke="none" stroke-width="1.0" />
<rect x="81.7" y="346.4" width="1.2" height="1.2" fill="#1010ff" stroke="none" stroke-width="1.0" />
<rect x="87.8" y="334.88" width="1.2" height="1.2" fill="#ff3030" stroke="none" stroke-width="1.0" />
<rect x="88.9" y="346.4" width="1.2" height="1.2" fill="#ff3030" stroke="none" stroke-width="1.0" />
<rect x="90" y="348.32" width="1.2" height="1.2" fill="#ff3030" stroke="none" stroke-width="1.0" />
<rect x="87.8" y="350.24" width="1.2" height="1.2" fill="#ff3030" stroke="none" stroke-width="1.0" />
<rect x="88.9" y="356" width="1.2" height="1.2" fill="#ff3030" stroke="none" stroke-width="1.0" />
<rect x="100.05" y="363.1" width="3.7" height="22.3" fill="white" stroke="#1010ff" stroke-width="1.1" />
<rect x="107.25" y="375.39" width="3.7" height="10.01" fill="white" stroke="#ff3030" stroke-width="1.1" />
<line x1="101.5" y1="361.41" x2="101.5" y2="363.7" stroke="#1010ff" stroke-width="0.6" />
<line x1="100.7" y1="361.5" x2="103.1" y2="361.5" stroke="#1010ff" stroke-width="0.6" />
<line x1="100.7" y1="363.5" x2="103.1" y2="363.5" stroke="#1010ff" stroke-width="0.6" />
<line x1="109.5" y1="372.55" x2="109.5" y2="377.13" stroke="#ff3030" stroke-width="0.6" />
<line x1="107.9" y1="372.5" x2="110.3" y2="372.5" stroke="#ff3030" stroke-width="0.6" />
<line x1="107.9" y1="377.5" x2="110.3" y2="377.5" stroke="#ff3030" stroke-width="0.6" />
<rect x="100.2" y="357.92" width="1.2" height="1.2" fill="#1010ff" stroke="none" stroke-width="1.0" />
<rect x="101.3" y="359.84" width="1.2" height="1.2" fill="#1010ff" stroke="none" stroke-width="1.0" />
<rect x="102.4" y="360.8" width="1.2" height="1.2" fill="#1010ff" stroke="none" stroke-width="1.0" />
<rect x="100.2" y="362.72" width="1.2" height="1.2" fill="#1010ff" stroke="none" stroke-width="1.0" />
<rect x="101.3" y="363.68" width="1.2" height="1.2" fill="#1010ff" stroke="none" stroke-width="1.0" />
<rect x="107.4" y="366.56" width="1.2" height="1.2" fill="#ff3030" stroke="none" stroke-width="1.0" />
<rect x="108.5" y="371.36" width="1.2" height="1.2" fill="#ff3030" stroke="none" stroke-width="1.0" />
<rect x="109.6" y="374.24" width="1.2" height="1.2" fill="#ff3030" stroke="none" stroke-width="1.0" />
<rect x="107.4" y="376.16" width="1.2" height="1.2" fill="#ff3030" stroke="none" stroke-width="1.0" />
<rect x="108.5" y="379.04" width="1.2" height="1.2" fill="#ff3030" stroke="none" stroke-width="1.0" />
<rect x="119.65" y="348.89" width="3.7" height="36.51" fill="white" stroke="#1010ff" stroke-width="1.1" />
<rect x="126.85" y="367.33" width="3.7" height="18.07" fill="white" stroke="#ff3030" stroke-width="1.1" />
<line x1="121.5" y1="346.05" x2="121.5" y2="350.63" stroke="#1010ff" stroke-width="0.6" />
<line x1="120.3" y1="346.5" x2="122.7" y2="346.5" stroke="#1010ff" stroke-width="0.6" />
<line x1="120.3" y1="350.5" x2="122.7" y2="350.5" stroke="#1010ff" stroke-width="0.6" />
<line x1="128.5" y1="362.01" x2="128.5" y2="371.55" stroke="#ff3030" stroke-width="0.6" />
<line x1="127.5" y1="362.5" x2="129.9" y2="362.5" stroke="#ff3030" stroke-width="0.6" />
<line x1="127.5" y1="371.5" x2="129.9" y2="371.5" stroke="#ff3030" stroke-width="0.6" />
<rect x="119.8" y="338.72" width="1.2" height="1.2" fill="#1010ff" stroke="none" stroke-width="1.0" />
<rect x="120.9" y="344.48" width="1.2" height="1.2" fill="#1010ff" stroke="none" stroke-width="1.0" />
<rect x="122" y="347.36" width="1.2" height="1.2" fill="#1010ff" stroke="none" stroke-width="1.0" />
<rect x="119.8" y="350.24" width="1.2" height="1.2" fill="#1010ff" stroke="none" stroke-width="1.0" />
<rect x="120.9" y="354.08" width="1.2" height="1.2" fill="#1010ff" stroke="none" stroke-width="1.0" />
<rect x="127" y="348.32" width="1.2" height="1.2" fill="#ff3030" stroke="none" stroke-width="1.0" />
<rect x="128.1" y="363.68" width="1.2" height="1.2" fill="#ff3030" stroke="none" stroke-width="1.0" />
<rect x="129.2" y="367.52" width="1.2" height="1.2" fill="#ff3030" stroke="none" stroke-width="1.0" />
<rect x="127" y="369.44" width="1.2" height="1.2" fill="#ff3030" stroke="none" stroke-width="1.0" />
<rect x="128.1" y="373.28" width="1.2" height="1.2" fill="#ff3030" stroke="none" stroke-width="1.0" />
<rect x="139.25" y="375.01" width="3.7" height="10.39" fill="white" stroke="#1010ff" stroke-width="1.1" />
<rect x="146.45" y="381.15" width="3.7" height="4.25" fill="white" stroke="#ff3030" stroke-width="1.1" />
<line x1="141.5" y1="373.69" x2="141.5" y2="375.22" stroke="#1010ff" stroke-width="0.6" />
<line x1="139.9" y1="373.5" x2="142.3" y2="373.5" stroke="#1010ff" stroke-width="0.6" />
<line x1="139.9" y1="375.5" x2="142.3" y2="375.5" stroke="#1010ff" stroke-width="0.6" />
<line x1="148.5" y1="379.84" x2="148.5" y2="381.36" stroke="#ff3030" stroke-width="0.6" />
<line x1="147.1" y1="379.5" x2="149.5" y2="379.5" stroke="#ff3030" stroke-width="0.6" />
<line x1="147.1" y1="381.5" x2="149.5" y2="381.5" stroke="#ff3030" stroke-width="0.6" />
<rect x="139.4" y="372.9" width="1.2" height="1.2" fill="#1010ff" stroke="none" stroke-width="1.0" />
<rect x="140.5" y="373.28" width="1.2" height="1.2" fill="#1010ff" stroke="none" stroke-width="1.0" />
<rect x="141.6" y="373.66" width="1.2" height="1.2" fill="#1010ff" stroke="none" stroke-width="1.0" />
<rect x="139.4" y="374.24" width="1.2" height="1.2" fill="#1010ff" stroke="none" stroke-width="1.0" />
<rect x="140.5" y="375.2" width="1.2" height="1.2" fill="#1010ff" stroke="none" stroke-width="1.0" />
<rect x="146.6" y="376.16" width="1.2" height="1.2" fill="#ff3030" stroke="none" stroke-width="1.0" />
<rect x="147.7" y="379.04" width="1.2" height="1.2" fill="#ff3030" stroke="none" stroke-width="1.0" />
<rect x="148.8" y="380.96" width="1.2" height="1.2" fill="#ff3030" stroke="none" stroke-width="1.0" />
<rect x="146.6" y="381.92" width="1.2" height="1.2" fill="#ff3030" stroke="none" stroke-width="1.0" />
<rect x="147.7" y="382.88" width="1.2" height="1.2" fill="#ff3030" stroke="none" stroke-width="1.0" />
<polyline points="43.5,337.7 43.5,334.5 52.5,334.5 52.5,340.8" fill="none" stroke="#1a1a1a" stroke-width="1.1" stroke-linejoin="miter"/>
<text x="48" y="333.6" font-size="5.2" text-anchor="middle" font-weight="bold" fill="#1a1a1a" stroke="#1a1a1a" stroke-width="0.45" stroke-linejoin="round" letter-spacing="1.0" >*</text>
<polyline points="63.5,311.5 63.5,307.5 70.5,307.5 70.5,328.5" fill="none" stroke="#1a1a1a" stroke-width="1.1" stroke-linejoin="miter"/>
<text x="66.55" y="307.1" font-size="5.2" text-anchor="middle" font-weight="bold" fill="#1a1a1a" stroke="#1a1a1a" stroke-width="0.45" stroke-linejoin="round" letter-spacing="1.0" >**</text>
<polyline points="82.5,329.2 82.5,325.5 90.5,325.5 90.5,333" fill="none" stroke="#1a1a1a" stroke-width="1.1" stroke-linejoin="miter"/>
<text x="86.65" y="324.3" font-size="5.2" text-anchor="middle" font-weight="bold" fill="#1a1a1a" stroke="#1a1a1a" stroke-width="0.45" stroke-linejoin="round" letter-spacing="1.0" >*</text>
<polyline points="101.5,356.2 101.5,353.5 109.5,353.5 109.5,359.2" fill="none" stroke="#1a1a1a" stroke-width="1.1" stroke-linejoin="miter"/>
<text x="105.4" y="352.3" font-size="5.2" text-anchor="middle" font-weight="bold" fill="#1a1a1a" stroke="#1a1a1a" stroke-width="0.45" stroke-linejoin="round" letter-spacing="1.0" >**</text>
<polyline points="120.5,337.7 120.5,334.5 128.5,334.5 128.5,347.7" fill="none" stroke="#1a1a1a" stroke-width="1.1" stroke-linejoin="miter"/>
<text x="124.65" y="334.8" font-size="5.2" text-anchor="middle" font-weight="bold" fill="#1a1a1a" stroke="#1a1a1a" stroke-width="0.45" stroke-linejoin="round" letter-spacing="1.0" >**</text>
<polyline points="140.5,368.5 140.5,363.5 148.5,363.5 148.5,376.9" fill="none" stroke="#1a1a1a" stroke-width="1.1" stroke-linejoin="miter"/>
<text x="144.35" y="363.6" font-size="5.2" text-anchor="middle" font-weight="bold" fill="#1a1a1a" stroke="#1a1a1a" stroke-width="0.45" stroke-linejoin="round" letter-spacing="1.0" >**</text>
<text x="27" y="346.3" font-size="7.5" text-anchor="middle" fill="#1a1a1a" stroke="#1a1a1a" stroke-width="0.22" transform="rotate(-90 27 346.3)" >Mass (g)</text>
<rect x="101.05" y="306.75" width="8.1" height="4.2" fill="none" stroke="#1010ff" stroke-width="1.1" />
<rect x="101.05" y="317.45" width="8.1" height="4.3" fill="none" stroke="#ff3030" stroke-width="1.1" />
<text x="116.2" y="312.6" font-size="7.6" text-anchor="start" fill="#1a1a1a" stroke="#1a1a1a" stroke-width="0.22" ><tspan font-style="italic">Atgl</tspan><tspan font-style="italic" font-size="5.2" dy="-2.8">+/+</tspan></text>
<text x="116.2" y="323.2" font-size="7.6" text-anchor="start" fill="#1a1a1a" stroke="#1a1a1a" stroke-width="0.22" ><tspan font-style="italic">Atgl</tspan><tspan font-style="italic" font-size="5.2" dy="-2.8">F2A/F2A</tspan></text>
<text x="49.5" y="395.8" font-size="7.5" text-anchor="end" fill="#1a1a1a" stroke="#1a1a1a" stroke-width="0.22" transform="rotate(-45 49.5 395.8)" >Liver</text>
<text x="69.1" y="395.8" font-size="7.5" text-anchor="end" fill="#1a1a1a" stroke="#1a1a1a" stroke-width="0.22" transform="rotate(-45 69.1 395.8)" >subcutaneous WAT</text>
<text x="88.7" y="395.8" font-size="7.5" text-anchor="end" fill="#1a1a1a" stroke="#1a1a1a" stroke-width="0.22" transform="rotate(-45 88.7 395.8)" >gonadal WAT</text>
<text x="108.3" y="395.8" font-size="7.5" text-anchor="end" fill="#1a1a1a" stroke="#1a1a1a" stroke-width="0.22" transform="rotate(-45 108.3 395.8)" >mesenteric WAT</text>
<text x="127.9" y="395.8" font-size="7.5" text-anchor="end" fill="#1a1a1a" stroke="#1a1a1a" stroke-width="0.22" transform="rotate(-45 127.9 395.8)" >perirenal WAT</text>
<text x="147.5" y="395.8" font-size="7.5" text-anchor="end" fill="#1a1a1a" stroke="#1a1a1a" stroke-width="0.22" transform="rotate(-45 147.5 395.8)" >BAT</text>
<text x="293.1" y="299.8" font-size="18" text-anchor="start" font-weight="bold" fill="#1a1a1a" >H</text>
<text x="354.6" y="293.4" font-size="11.5" text-anchor="start" fill="#1a1a1a" stroke="#1a1a1a" stroke-width="0.22" ><tspan font-style="italic">Atgl</tspan><tspan font-size="6.8" dx="0.8" dy="-4.2">+/+</tspan></text>
<text x="423.6" y="293.3" font-size="11.5" text-anchor="start" fill="#1a1a1a" stroke="#1a1a1a" stroke-width="0.22" ><tspan font-style="italic">Atgl</tspan><tspan font-size="6.9" dx="0.3" dy="-3.6">F2A/F2A</tspan></text>
<text x="313.4" y="331.9" font-size="11.7" text-anchor="middle" fill="#1a1a1a" stroke="#1a1a1a" stroke-width="0.22" >WAT</text>
<text x="312.6" y="398.2" font-size="11.7" text-anchor="middle" fill="#1a1a1a" stroke="#1a1a1a" stroke-width="0.22" >BAT</text>
<clipPath id="c1"><rect x="332.4" y="300.5" width="71.6" height="60.7"/></clipPath>
<g clip-path="url(#c1)">
<rect x="332.4" y="300.5" width="71.6" height="60.7" fill="#e5e4e6" stroke="none" stroke-width="1.0" />
<path d="M378.9 299.8L376.8 302.3M378.9 299.8L378.9 298.5M362.0 293.6L369.1 303.7M376.8 302.3L369.1 303.7M341.0 335.1L333.9 338.8M341.0 335.1L342.3 331.8M327.4 327.9L334.7 326.4M333.9 338.8L327.7 336.1M334.7 326.4L342.3 331.8M334.7 326.4L336.0 316.5M329.7 313.0L336.0 316.5M344.5 319.8L343.6 330.9M344.5 319.8L339.6 316.1M342.3 331.8L343.6 330.9M339.6 316.1L336.0 316.5M359.7 308.5L351.0 310.3M359.7 308.5L356.0 299.2M351.5 299.1L345.5 305.8M351.0 310.3L345.5 305.9M345.5 305.9L345.5 305.8M350.8 318.0L351.0 310.3M350.8 318.0L344.5 319.8M339.6 316.1L345.5 305.9M387.1 354.6L390.3 354.1M387.1 354.6L381.3 362.4M390.3 354.1L395.9 362.6M406.8 354.9L395.9 362.6M391.7 351.3L390.3 354.1M391.7 351.3L399.6 347.2M399.6 347.2L406.2 351.7M356.1 321.6L363.1 310.2M356.1 321.6L356.8 323.5M356.8 323.5L359.7 325.1M359.7 325.1L368.6 320.6M368.6 320.6L369.2 316.5M369.2 316.5L363.7 310.2M363.1 310.2L363.7 310.2M350.8 318.0L356.1 321.6M359.7 308.5L363.1 310.2M349.2 330.9L356.8 323.5M349.2 330.9L343.6 330.9M381.9 316.1L377.8 325.9M381.9 316.1L379.6 314.3M372.1 325.6L377.8 325.9M372.1 325.6L368.6 320.6M379.6 314.3L369.2 316.5M379.6 314.3L376.8 302.3M369.1 303.7L363.7 310.2M373.9 361.8L373.0 364.9M373.9 361.8L381.3 362.4M373.9 361.8L373.8 361.6M360.1 368.3L359.2 358.7M359.2 358.7L360.2 356.9M360.2 356.9L360.7 356.7M373.8 361.6L360.7 356.7M387.7 313.3L397.9 316.5M387.7 313.3L390.9 304.1M397.9 316.5L398.0 306.1M398.0 306.1L393.7 303.0M390.9 304.1L393.7 303.0M378.9 299.8L390.9 304.1M381.9 316.1L383.1 316.1M383.1 316.1L387.7 313.3M395.6 295.4L393.7 303.0M406.8 305.3L398.0 306.1M343.0 292.0L338.0 301.1M338.0 301.1L336.4 301.2M331.8 291.1L335.3 300.4M335.3 300.4L336.4 301.2M345.5 305.8L338.0 301.1M329.7 313.0L336.4 301.2M322.9 299.3L335.3 300.4M333.9 338.8L333.5 346.6M333.5 346.6L323.6 348.6M359.2 358.7L347.8 363.2M397.9 316.5L397.9 316.6M397.9 316.6L408.2 317.3M358.9 339.3L362.1 330.1M358.9 339.3L364.1 341.3M364.1 341.3L371.4 335.5M362.1 330.1L369.0 330.6M369.0 330.6L371.4 335.5M349.2 330.9L357.5 339.6M359.7 325.1L362.1 330.1M357.5 339.6L357.8 339.7M357.8 339.7L358.9 339.3M360.2 356.9L356.0 352.4M360.7 356.7L367.9 347.0M367.9 347.0L364.1 341.3M356.0 352.4L357.8 339.7M372.1 325.6L369.0 330.6M377.8 325.9L381.3 331.5M381.3 331.5L378.1 337.4M378.1 337.4L371.4 335.5M375.3 353.6L369.9 347.3M375.3 353.6L380.8 350.7M369.9 347.3L378.9 340.4M380.8 350.7L381.3 342.6M381.3 342.6L378.9 340.4M373.8 361.6L375.3 353.6M367.9 347.0L369.9 347.3M387.1 354.6L380.8 350.7M378.1 337.4L378.9 340.4M391.7 351.3L387.2 342.9M387.2 342.9L381.3 342.6M349.8 351.4L346.3 343.9M349.8 351.4L344.6 356.6M344.6 356.6L338.1 354.8M346.0 343.8L337.0 350.3M346.0 343.8L346.3 343.9M337.0 350.3L337.5 354.0M337.5 354.0L338.1 354.8M356.0 352.4L349.8 351.4M357.5 339.6L346.3 343.9M347.8 363.2L344.6 356.6M335.6 365.8L338.1 354.8M341.0 335.1L346.0 343.8M333.5 346.6L337.0 350.3M337.5 354.0L326.7 357.3M394.2 326.2L396.8 327.9M394.2 326.2L391.6 326.6M396.8 327.9L399.9 338.3M391.6 326.6L388.0 330.4M388.0 330.4L391.2 339.1M391.2 339.1L398.6 340.1M398.6 340.1L399.9 338.3M397.9 316.6L394.2 326.2M408.7 326.3L396.8 327.9M383.1 316.1L391.6 326.6M409.8 335.8L399.9 338.3M381.3 331.5L388.0 330.4M387.2 342.9L391.2 339.1M399.6 347.2L398.6 340.1" fill="none" stroke="#d8d4dc" stroke-width="0.45"/>
<path d="M354.0 360.7h0M360.5 356.8h0M393.1 326.4h0M337.6 336.9h0M343.1 310.0h0M395.4 323.2h0M399.1 343.7h0M393.8 303.0h0M393.8 302.9h0M393.9 315.2h0M393.6 315.1h0M399.4 336.5h0M370.0 332.5h0M346.1 343.8h0M397.0 339.9h0M395.5 327.0h0M388.3 354.4h0M390.1 314.0h0M363.7 310.2h0M392.4 314.8h0M365.8 343.8h0M379.2 335.5h0M355.2 352.3h0M398.0 307.2h0M396.1 349.0h0M368.2 347.1h0M359.6 339.6h0M403.3 357.4h0M396.1 349.0h0M379.1 322.7h0M398.7 340.4h0M398.9 342.0h0M357.6 339.6h0M344.4 321.2h0M345.2 357.9h0M392.5 357.4h0M373.9 336.2h0M398.3 316.6h0M357.7 303.6h0M337.8 349.8h0M353.1 319.6h0M345.2 306.3h0M402.4 305.7h0M357.7 339.6h0M369.1 330.6h0M399.9 338.2h0M345.5 305.8h0M385.3 314.8h0M368.1 347.1h0M346.1 343.8h0M360.2 356.9h0M378.5 338.9h0M359.4 361.1h0M335.5 319.9h0M357.6 339.6h0M345.5 305.8h0M390.9 339.5h0M345.4 306.0h0M377.1 301.9h0M368.6 347.1h0M351.5 351.7h0M336.7 316.4h0M381.3 331.7h0M356.3 322.1h0M393.9 302.5h0M398.0 310.7h0M379.7 314.4h0M393.2 326.4h0M357.4 342.8h0M356.8 320.4h0M390.5 354.4h0M389.8 307.2h0M365.4 343.2h0M378.6 339.1h0M357.7 340.4h0M382.2 316.1h0M370.0 322.5h0M369.1 359.9h0M359.5 358.1h0M398.0 308.9h0M360.7 340.0h0M351.0 351.6h0M349.9 351.5h0M402.9 357.7h0M361.3 355.9h0M340.7 335.2h0M360.5 334.8h0M393.6 303.0h0M395.9 339.7h0M343.6 304.6h0M385.0 302.0h0M356.9 301.3h0M360.8 309.1h0M394.8 324.5h0M345.7 305.6h0M381.0 346.7h0" stroke="#dbb4e0" stroke-width="1" stroke-linecap="round" fill="none"/>
<path d="M383.2 301.3h0M339.0 329.5h0M390.2 336.5h0M336.6 316.4h0M344.9 319.7h0M356.4 322.3h0M372.0 335.7h0M377.2 337.2h0M350.3 342.3h0M343.2 356.2h0M376.9 325.8h0M369.1 347.2h0M388.8 310.1h0M336.8 360.4h0M374.4 358.0h0M357.3 319.7h0M376.8 314.9h0M371.4 316.1h0M357.6 354.0h0M382.4 316.1h0M383.4 315.9h0M362.0 329.8h0M385.6 353.7h0" stroke="#b470cc" stroke-width="1.15" stroke-linecap="round" fill="none"/>
</g>
<clipPath id="c2"><rect x="406.6" y="300.5" width="71.9" height="60.7"/></clipPath>
<g clip-path="url(#c2)">
<rect x="406.6" y="300.5" width="71.9" height="60.7" fill="#e5e4e6" stroke="none" stroke-width="1.0" />
<path d="M430.2 330.1L429.7 334.3M430.2 330.1L438.1 327.0M438.1 327.0L437.6 334.9M437.6 334.9L433.0 336.6M433.0 336.6L429.7 334.3M407.6 307.0L408.3 310.8M407.6 307.0L414.1 303.8M414.1 303.8L418.2 306.2M418.2 306.2L413.9 313.0M413.9 313.0L408.3 310.8M438.2 326.8L448.1 329.9M438.2 326.8L438.1 326.4M438.1 326.4L444.3 318.0M451.6 325.6L448.1 329.9M451.6 325.6L451.4 324.0M451.4 324.0L444.3 318.0M408.4 296.0L402.9 301.2M407.6 307.0L403.7 304.4M412.4 296.6L414.1 303.8M434.8 316.7L434.6 322.9M434.8 316.7L431.5 313.7M431.5 313.7L427.0 314.5M427.0 314.5L426.9 322.2M434.6 322.9L426.9 322.2M430.2 330.1L425.1 326.6M429.7 334.3L422.7 337.0M422.7 337.0L421.9 335.9M421.9 335.9L425.1 326.6M438.2 326.8L438.1 327.0M438.1 326.4L434.6 322.9M426.9 322.2L424.4 324.7M425.1 326.6L424.4 324.7M448.1 329.9L448.8 334.7M437.6 334.9L439.9 337.2M439.9 337.2L448.8 334.7M435.7 353.5L443.7 359.1M435.7 353.5L436.0 351.4M443.7 359.1L447.2 355.4M439.9 348.5L436.0 351.4M439.9 348.5L446.8 352.4M447.2 355.4L446.8 352.4M416.2 366.7L413.8 361.1M407.7 362.8L413.8 361.1M407.7 362.8L403.6 358.0M422.9 364.6L422.3 357.8M422.3 357.8L416.1 357.4M413.8 361.1L416.1 357.4M422.9 339.5L431.7 341.9M422.9 339.5L424.2 349.1M424.8 349.7L424.2 349.1M424.8 349.7L431.1 347.0M431.1 347.0L432.2 343.0M431.7 341.9L432.2 343.0M433.0 336.6L431.7 341.9M422.8 339.4L422.7 337.0M422.8 339.4L422.9 339.5M414.6 348.1L424.2 349.1M414.6 348.1L415.8 343.1M422.8 339.4L415.8 343.1M425.0 355.6L424.8 349.7M425.0 355.6L431.1 357.7M435.7 353.5L431.1 357.7M436.0 351.4L431.1 347.0M439.9 348.5L440.3 343.2M440.1 343.0L440.3 343.2M440.1 343.0L432.2 343.0M439.9 337.2L440.1 343.0M424.5 312.7L427.0 314.5M424.5 312.7L416.8 318.2M424.4 324.7L424.3 324.7M416.8 318.2L424.3 324.7M418.2 306.2L419.6 306.2M419.6 306.2L423.1 308.3M413.9 313.0L415.4 318.1M423.1 308.3L424.5 312.7M416.8 318.2L415.4 318.1M421.9 335.9L415.3 332.8M415.3 332.8L415.9 328.2M415.9 328.2L424.3 324.7M435.8 370.7L433.6 362.1M433.6 362.1L432.5 361.4M432.5 361.4L427.3 366.6M443.9 364.3L443.1 361.3M443.1 361.3L433.6 362.1M431.1 357.7L432.5 361.4M443.7 359.1L443.1 361.3M425.0 355.6L422.3 357.8M444.3 318.0L444.2 317.0M434.8 316.7L442.2 314.5M442.2 314.5L444.2 317.0M434.3 308.7L431.5 313.7M434.3 308.7L441.9 311.6M442.2 314.5L441.9 311.6M451.4 324.0L456.0 316.8M456.0 316.8L450.9 313.9M444.2 317.0L450.9 313.9M433.8 306.8L427.8 305.0M433.8 306.8L436.1 303.2M436.1 303.2L435.0 300.2M435.0 300.2L428.3 298.3M427.8 305.0L428.3 298.3M434.3 308.7L433.8 306.8M423.1 308.3L427.8 305.0M415.4 318.1L413.2 320.2M415.9 328.2L412.5 323.0M412.5 323.0L413.2 320.2M416.1 357.4L411.7 350.9M405.4 354.0L411.7 350.9M414.6 348.1L411.8 350.4M411.8 350.4L411.7 350.9M455.4 361.2L452.6 357.0M455.4 361.2L455.1 365.0M447.2 355.4L452.6 357.0M478.1 343.4L477.8 336.8M478.1 343.4L483.7 347.5M480.4 335.3L477.8 336.8M483.9 349.4L477.1 353.9M477.1 353.9L472.6 346.5M472.6 346.5L478.1 343.4M441.9 311.6L442.9 309.7M450.9 313.9L450.5 306.7M450.5 306.7L442.9 309.7M436.1 303.2L441.0 303.5M441.0 303.5L442.9 309.7M487.0 311.3L478.4 311.2M478.4 311.2L479.0 305.5M479.0 305.5L484.5 302.6M437.7 295.4L435.0 300.2M419.6 306.2L422.6 296.0M441.0 303.5L444.1 300.2M444.0 298.3L444.1 300.2M450.5 306.7L451.5 305.2M444.1 300.2L451.5 305.2M456.4 316.7L459.9 310.9M456.4 316.7L456.0 316.8M459.9 310.9L451.8 305.1M451.8 305.1L451.5 305.2M451.8 305.1L454.2 301.3M449.8 294.6L454.2 301.3M479.0 305.5L475.0 302.2M475.0 302.2L476.0 298.3M451.6 325.6L458.0 327.5M456.4 316.7L462.6 321.6M462.6 321.6L458.0 327.5M448.8 334.7L450.4 336.7M450.4 336.7L457.1 335.5M457.1 335.5L459.8 331.0M458.0 327.5L459.8 331.0M478.4 311.2L477.7 311.7M477.7 311.7L479.3 319.7M479.9 319.9L479.3 319.7M446.7 343.1L450.3 337.8M446.7 343.1L449.0 348.5M450.3 337.8L455.1 344.1M455.1 344.1L453.3 347.5M453.3 347.5L449.0 348.5M440.3 343.2L446.7 343.1M450.4 336.7L450.3 337.8M446.8 352.4L449.0 348.5M460.2 343.2L461.2 340.9M460.2 343.2L455.1 344.1M457.1 335.5L461.2 340.9M452.6 357.0L457.2 351.8M457.2 351.8L453.3 347.5M455.4 361.2L463.0 357.7M457.2 351.8L459.4 351.6M459.4 351.6L463.0 357.7M460.2 343.2L462.2 348.0M459.4 351.6L462.2 348.0M462.3 367.0L466.5 358.8M463.0 357.7L466.5 358.8M471.9 364.0L468.7 358.3M468.7 358.3L468.8 358.2M468.8 358.2L476.8 354.6M476.8 354.6L480.7 360.3M480.7 360.3L478.4 365.0M466.5 358.8L468.7 358.3M467.6 348.7L468.8 358.2M467.6 348.7L462.2 348.0M477.1 353.9L476.8 354.6M472.6 346.5L470.4 346.2M470.4 346.2L467.6 348.7M408.3 310.8L405.0 315.3M413.2 320.2L405.4 316.4M412.5 323.0L406.7 325.9M406.7 325.9L403.0 322.2M406.3 342.8L401.1 344.1M406.3 342.8L409.5 336.3M409.5 336.3L409.5 335.7M409.5 335.7L405.2 332.4M411.8 350.4L406.3 342.8M415.8 343.1L409.5 336.3M415.3 332.8L409.5 335.7M406.7 325.9L405.2 332.4M466.1 297.7L469.7 305.0M459.5 299.0L462.7 307.5M462.7 307.5L469.4 306.0M469.4 306.0L469.7 305.0M475.0 302.2L469.7 305.0M454.2 301.3L459.5 299.0M460.3 310.7L459.9 310.9M460.3 310.7L462.7 307.5M460.3 310.7L468.5 316.8M468.5 316.8L472.0 311.5M472.0 311.5L469.4 306.0M472.0 311.5L477.7 311.7M473.5 335.8L469.1 330.6M473.5 335.8L469.1 342.0M469.1 342.0L464.1 339.7M464.1 339.7L466.3 331.9M469.1 330.6L466.3 331.9M470.4 346.2L469.1 342.0M477.8 336.8L473.5 335.8M461.2 340.9L464.1 339.7M459.8 331.0L466.3 331.9M477.1 321.0L474.9 326.2M477.1 321.0L468.5 317.3M474.9 326.2L469.7 328.5M469.7 328.5L466.1 321.3M468.5 317.3L466.1 321.3M481.2 330.1L474.9 326.2M479.3 319.7L477.1 321.0M468.5 316.8L468.5 317.3M469.1 330.6L469.7 328.5M462.6 321.6L466.1 321.3" fill="none" stroke="#d8d4dc" stroke-width="0.45"/>
<path d="M419.0 306.2h0M470.0 307.3h0M429.2 334.5h0M440.3 343.1h0M447.8 345.6h0M432.2 360.6h0M435.8 302.4h0M450.3 327.2h0M478.1 342.1h0M413.3 349.2h0M478.2 311.3h0M476.0 323.6h0M448.8 307.4h0M419.7 306.3h0M442.2 314.2h0M456.3 316.7h0M426.9 319.5h0M450.4 337.2h0M411.8 334.6h0M447.2 342.3h0M432.2 342.9h0M439.9 343.0h0M449.8 327.8h0M456.2 327.0h0M424.9 352.7h0M423.1 357.1h0M447.1 344.2h0M463.7 313.2h0M455.2 360.9h0M431.8 313.2h0M446.9 302.1h0M456.1 350.6h0M414.6 315.3h0M431.5 345.8h0M441.3 322.0h0M407.9 311.3h0M422.5 360.3h0M422.3 336.5h0M414.8 318.8h0M430.1 330.9h0M454.7 360.2h0M450.6 307.2h0M468.7 358.3h0M461.9 308.6h0M477.0 354.1h0M471.8 311.7h0M407.8 311.5h0M439.3 348.9h0M419.7 316.1h0M416.7 333.5h0M451.4 325.9h0M434.3 316.2h0M450.5 306.7h0M466.6 315.4h0M439.9 338.0h0M429.7 314.0h0M465.4 358.4h0M454.9 335.9h0M408.2 310.2h0M469.5 305.6h0M426.4 322.7h0M433.6 355.4h0M443.5 309.5h0M457.8 314.3h0M464.8 340.0h0M440.1 343.0h0M451.4 324.5h0M432.0 342.6h0M475.7 351.6h0M442.1 311.3h0M469.5 329.3h0M446.9 320.2h0M464.6 321.4h0M458.3 359.8h0M467.9 318.2h0M468.5 316.9h0M413.6 361.2h0M412.6 322.4h0M450.4 337.3h0M477.9 311.6h0M469.5 305.6h0M475.4 326.5h0M467.9 351.0h0M422.9 339.5h0M465.4 360.9h0M456.8 352.2h0M455.3 349.7h0M406.8 353.3h0M426.9 319.1h0M474.4 349.4h0M440.9 349.1h0M415.4 331.3h0M438.7 327.0h0M407.1 306.6h0M443.9 316.7h0M432.8 336.5h0M417.8 306.0h0M421.2 340.2h0M465.8 360.0h0M447.1 302.3h0M475.6 324.6h0M457.8 336.4h0M429.1 357.0h0M455.1 300.9h0M413.7 319.8h0M410.1 335.4h0M418.7 316.8h0M478.4 305.0h0M472.3 303.6h0M441.5 305.1h0M464.7 331.7h0M439.9 348.4h0M424.7 325.6h0M473.9 345.8h0" stroke="#dbb4e0" stroke-width="1" stroke-linecap="round" fill="none"/>
<path d="M435.6 301.9h0M463.8 339.8h0M442.1 336.6h0M416.1 318.2h0M460.0 310.8h0M437.3 335.0h0M408.1 306.7h0M422.8 338.6h0M457.1 317.2h0M471.3 346.3h0M470.1 360.8h0M454.5 326.5h0M467.9 318.2h0M430.6 334.9h0M455.2 344.0h0M450.4 337.9h0M438.0 328.1h0M430.0 347.5h0M454.6 344.9h0M457.2 335.2h0M469.4 305.9h0M417.0 305.5h0M432.8 356.2h0M460.4 343.7h0M422.1 336.1h0M464.3 339.0h0M423.1 308.3h0M416.0 348.2h0M448.7 334.0h0M449.3 348.4h0M414.9 359.3h0M478.2 311.3h0M434.8 317.3h0M432.4 339.2h0M409.5 336.2h0M454.7 344.8h0" stroke="#b470cc" stroke-width="1.15" stroke-linecap="round" fill="none"/>
</g>
<clipPath id="c3"><rect x="332.4" y="363.9" width="71.6" height="61.8"/></clipPath>
<g clip-path="url(#c3)">
<rect x="332.4" y="363.9" width="71.6" height="61.8" fill="#e8e4e8" stroke="none" stroke-width="1.0" />
<path d="M404.8 372.9L403.4 370.9M369.5 416.5L369.4 413.9M335.9 417.3L337.6 414.6M372.5 376.5L373.6 375.3M337.5 382.9L337.3 381.2M399.8 373.5L400.0 371.0M356.9 370.0L355.7 371.6M347.3 392.2L345.4 392.2M349.9 411.6L348.1 411.0M340.6 367.6L339.1 367.2M370.0 409.7L370.3 410.3M393.1 381.4L392.3 381.2M386.6 379.4L385.3 377.9M335.9 377.9L335.0 380.1M387.3 399.7L387.3 398.7M388.0 394.0L386.7 395.8M359.5 367.6L356.8 369.2M404.0 369.7L403.4 370.9M360.6 422.3L359.6 419.2M369.2 360.2L368.2 363.0M368.7 422.5L367.1 423.3M383.3 416.3L382.3 416.9M339.0 414.0L339.0 413.2M389.3 404.9L388.9 402.9M401.0 415.0L400.8 417.4M331.4 378.0L328.6 376.8M353.4 383.4L353.4 382.7M354.2 387.1L356.4 388.7M398.5 427.9L397.5 426.3M383.6 388.1L383.7 388.8M335.0 380.1L334.6 380.4M404.8 372.9L404.3 374.3M378.3 404.0L380.8 403.4M386.0 426.0L385.6 425.8M404.3 366.1L403.9 369.6M345.0 423.4L346.6 421.3M360.1 405.1L361.7 402.9M360.7 412.5L362.1 412.0M337.5 387.2L338.6 388.4M349.3 389.4L347.3 392.2M377.1 422.1L375.6 422.5M362.4 376.1L364.4 378.5M399.6 370.6L396.7 372.3M339.5 382.9L340.1 380.7M333.6 413.8L333.5 414.2M391.4 373.7L390.9 374.3M367.7 402.1L369.4 400.9M362.1 412.0L364.1 414.2M387.2 385.1L387.1 385.2M333.0 393.7L335.5 394.0M402.7 407.4L403.7 410.2M373.2 408.5L372.8 410.6M331.1 389.4L332.1 389.0M376.2 410.2L374.9 411.4M403.2 418.0L404.5 419.2M354.9 414.8L352.8 414.1M386.7 395.8L387.7 398.1M378.7 386.0L378.7 388.6M385.9 412.0L387.8 413.1M387.1 385.2L384.8 384.7M368.0 368.9L368.0 370.9M390.7 420.9L390.5 422.9M390.2 416.5L389.4 416.2M361.0 379.0L359.7 379.6M337.8 385.5L340.1 385.4M334.2 401.8L333.7 404.0M345.1 412.3L345.5 412.9M392.5 377.2L390.4 378.7M400.8 397.7L400.8 399.0M351.0 385.9L353.8 387.3M404.0 369.7L403.9 369.6M401.4 420.6L401.6 418.2M386.5 381.1L386.6 379.4M360.4 399.6L362.6 399.5M341.5 410.9L339.0 413.2M397.5 426.3L399.1 424.4M401.8 376.9L401.3 377.0M406.3 372.7L404.8 372.9M392.5 396.2L392.3 395.9M400.8 393.8L400.8 394.3M346.5 382.7L344.1 381.4M400.0 423.6L399.1 424.0M386.0 422.5L385.3 421.9M390.5 422.9L389.0 423.6M337.6 398.1L339.1 399.6M392.4 402.4L392.1 402.7M344.1 381.4L344.3 380.4M362.9 379.7L364.4 378.5M393.5 373.7L394.9 371.2M349.4 393.7L351.5 392.5M395.9 419.7L397.6 420.5M395.9 419.7L395.4 418.2M331.9 395.6L330.9 395.5M365.2 363.7L365.3 366.4M361.7 395.2L360.3 394.4M366.1 367.9L365.0 369.7M345.8 396.8L342.7 396.5M358.6 373.8L355.9 373.3M380.3 413.8L380.9 413.4M382.2 365.4L381.4 368.2M378.6 366.7L377.3 366.3M375.8 362.6L376.2 363.6M363.0 420.5L365.6 421.7M365.2 363.7L363.6 362.9M384.9 374.4L383.3 375.4M390.9 399.5L389.3 401.6M331.5 378.3L334.0 380.4M403.8 387.8L405.6 388.7M355.6 426.4L356.1 427.5M359.2 365.9L360.0 364.5M366.4 385.8L365.9 385.7M346.0 364.1L346.3 363.3M386.6 375.8L388.3 375.7M331.9 375.2L330.0 374.1M342.9 409.3L344.9 409.0M403.4 423.4L405.7 423.9M337.8 385.5L336.5 384.1M332.7 388.1L332.1 389.0M385.6 369.6L384.2 368.9M380.9 413.4L383.4 415.5M403.9 369.6L400.6 367.7M368.0 370.9L368.9 371.7M341.2 397.5L340.0 399.6M377.5 395.8L374.7 394.6M348.2 403.2L348.4 403.9M377.9 395.3L381.0 395.3M368.1 384.1L370.7 383.5M349.5 380.8L347.8 379.9M387.4 406.3L388.2 408.8M401.9 374.4L399.8 373.5M385.3 372.4L385.6 369.6M351.4 397.5L351.2 398.0M367.8 389.0L366.4 385.8M359.6 419.2L358.9 419.0M349.6 398.9L348.1 398.6M387.8 389.2L390.7 391.1M362.0 364.8L360.0 364.5M368.9 412.2L369.0 413.6M402.5 371.4L401.9 374.4M343.5 426.7L342.2 429.0M381.0 364.8L380.9 364.4M374.3 361.7L371.9 363.4M371.2 368.6L370.0 371.7M347.6 416.3L348.5 414.3M392.3 414.1L390.2 416.5M332.3 415.5L333.5 414.2M372.4 388.4L371.5 386.1M354.9 385.4L353.4 383.4M359.7 379.6L358.9 378.9M347.6 416.3L347.3 416.5M340.7 384.2L339.5 382.9M365.8 385.6L362.7 385.4M353.1 382.4L352.4 379.6M332.8 368.0L333.0 367.3M365.8 371.3L365.0 369.7M367.2 393.6L368.9 393.1M359.0 371.3L360.6 369.8M340.6 369.7L339.9 370.1M345.4 385.2L346.5 382.8M343.3 414.9L342.5 414.4M373.6 414.6L372.3 414.5M355.8 379.0L356.0 379.2M381.2 383.9L381.1 384.8M360.2 386.5L359.1 387.4M376.2 367.3L377.3 366.3M397.7 407.5L395.5 408.1M383.1 426.6L381.8 424.9M389.0 424.0L386.0 426.0M397.9 400.7L396.5 403.5M396.2 426.3L395.1 427.6M357.9 410.7L355.8 409.2M385.3 377.9L386.6 375.8M384.8 384.7L383.1 387.4M371.8 391.0L372.4 391.4M351.6 414.6L352.8 414.1M345.7 409.5L347.2 409.4M340.2 361.2L339.9 363.8M360.3 394.4L359.7 391.5M366.1 427.6L364.5 425.9M405.6 382.7L403.0 382.7M370.5 386.5L371.5 386.1M344.9 405.9L344.9 405.9M401.7 411.7L403.1 411.4M342.5 383.7L344.5 385.7M343.2 369.8L344.9 370.8M368.7 406.6L367.5 408.2M379.2 398.5L381.0 398.1M365.2 373.7L364.9 374.7M381.7 373.4L382.3 372.0M351.4 424.5L352.8 424.2M340.7 384.2L342.5 383.7M376.7 413.7L375.4 413.0M336.0 404.6L333.7 404.0M405.3 402.8L402.7 401.7M346.2 362.6L346.3 363.3M393.8 421.4L392.5 420.2M368.0 373.9L368.9 371.7M384.3 381.7L382.7 380.0M365.5 413.3L364.1 414.2M397.7 420.6L397.7 422.8M398.2 364.3L398.0 364.5M371.4 421.5L371.3 419.2M371.7 406.3L371.5 407.0M352.6 375.5L350.7 375.3M363.9 409.9L363.5 409.9M361.7 395.2L362.3 395.1M394.0 405.8L394.0 406.6M334.9 422.8L336.2 424.0M357.6 386.8L359.1 387.4M384.2 363.1L383.5 365.2M347.2 409.4L347.4 409.1M376.8 374.0L375.5 372.7M350.9 385.4L353.4 383.4M376.7 413.7L378.2 412.6M389.4 402.0L388.9 402.9M349.4 366.2L349.7 365.4M357.0 393.9L355.0 393.9M399.5 404.0L400.0 402.3M340.1 380.7L338.9 379.8M375.0 372.6L374.0 370.5M336.4 390.8L338.6 388.6M372.0 418.4L371.3 419.2M401.6 407.7L402.7 407.4M389.2 366.7L387.5 368.3M384.3 401.2L386.1 401.2M357.8 394.7L357.5 397.3M398.1 392.7L400.8 393.8M389.2 419.6L388.1 419.9M336.4 364.0L335.9 363.7M386.2 409.8L388.2 408.9M333.2 409.6L331.9 412.2M355.9 415.9L356.5 418.5M355.0 419.6L356.1 421.7M333.0 393.7L332.6 392.6M380.5 423.4L380.8 422.3M352.9 389.2L353.8 387.3M346.5 382.7L347.8 379.9M355.8 379.0L355.4 377.1M344.8 376.6L343.9 376.5M334.7 418.2L332.5 417.8M373.3 427.3L373.9 426.0M338.0 395.9L337.7 396.0M365.8 371.3L364.9 372.9M376.2 410.2L378.4 410.8M332.7 388.1L332.1 386.6M363.6 388.8L363.7 389.0M393.7 423.4L395.3 423.8M381.7 398.4L381.0 398.1M365.9 385.7L365.8 385.6M332.7 400.6L334.2 401.8M357.9 397.9L356.4 400.3M353.5 394.2L351.6 392.5M370.5 381.8L370.7 383.5M376.6 401.5L374.1 403.7M378.4 410.8L378.2 412.6M378.2 403.9L378.3 404.0M383.4 423.9L383.5 422.4M405.0 413.5L403.9 414.8M391.7 385.0L393.6 383.0M391.7 365.7L390.7 364.4M376.2 408.8L374.4 407.9M345.2 399.4L345.8 396.8M384.2 377.8L382.7 379.0M376.5 418.6L374.4 420.3M356.2 407.8L353.6 405.8M406.5 398.0L404.9 395.8M376.3 376.5L376.7 377.7M404.1 395.8L403.5 396.3M361.0 379.0L362.9 379.7M402.4 424.5L403.4 423.4M341.5 405.7L342.6 402.3M382.6 421.6L383.5 422.4M374.4 420.3L372.4 418.4M347.4 409.1L347.9 405.9M397.5 368.9L395.6 370.2M389.9 410.8L392.3 410.0M405.1 390.7L402.7 390.5M403.4 393.3L404.1 395.8M374.7 394.6L375.2 392.3M386.5 386.9L387.1 385.2M396.7 394.0L396.7 393.9M385.2 419.4L385.3 421.9M400.2 363.7L398.2 364.3M386.6 415.2L387.8 413.1M360.6 426.3L359.3 426.1M347.5 385.8L345.4 385.2M364.7 382.5L366.0 381.3M405.2 404.0L403.0 405.4M402.2 404.6L399.8 404.4M388.0 393.4L386.3 392.3M340.6 367.6L341.3 367.2M386.7 390.0L386.3 392.3M331.5 378.3L331.4 378.0M394.3 378.7L397.1 376.4M397.7 422.8L395.3 423.8M390.7 405.4L391.7 404.8M374.7 394.6L373.0 395.5M397.5 388.9L399.4 390.2M343.5 368.3L343.2 369.8M402.7 383.1L399.6 382.8M354.2 398.3L351.4 397.5M359.1 415.6L355.9 415.9M349.8 388.2L349.2 388.6M403.1 411.4L403.7 410.2M334.0 380.4L334.6 380.4M342.5 383.7L342.8 382.4M359.1 415.6L358.9 419.0M392.8 370.6L391.5 371.5M361.8 406.3L362.9 405.9M373.9 391.3L372.4 391.4M332.6 392.6L330.7 392.3M386.9 381.3L386.5 381.1M342.0 364.8L342.3 364.7M331.9 412.2L333.6 413.8M397.5 388.9L396.3 389.0M400.8 394.3L402.1 396.3M336.5 384.1L335.4 384.1M379.7 409.3L382.0 408.2M394.4 363.8L394.0 365.4M401.3 377.0L398.2 376.2M337.0 410.6L337.6 409.1M348.4 403.9L347.8 405.7M342.4 394.5L342.7 396.5M348.4 402.4L349.4 401.6M371.3 373.3L370.9 372.3M368.7 375.4L368.0 373.9M345.2 376.4L346.4 373.0M383.3 416.3L386.0 418.5M388.0 393.4L390.1 392.2M340.9 422.8L339.9 420.5M336.0 404.6L336.9 402.0M373.6 374.1L371.3 373.3M390.7 364.4L388.7 364.5M355.7 403.8L355.2 403.8M390.0 382.5L388.8 381.4M336.1 391.3L335.5 394.0M333.8 370.0L332.8 368.0M359.3 426.1L358.2 424.5M392.3 381.2L390.0 382.5M390.4 378.7L392.3 381.2M359.7 381.1L359.7 379.6M360.1 400.9L360.4 399.6M373.9 426.0L372.8 424.1M348.4 370.5L346.5 373.0M345.8 426.9L343.5 426.7M339.7 372.4L340.2 372.9M338.8 379.1L340.4 377.7M345.5 412.9L345.2 414.5M339.1 367.2L337.1 368.4M386.2 365.8L384.3 365.9M368.1 381.1L368.6 379.0M390.5 422.9L393.3 423.7M341.6 390.3L341.2 393.7M362.7 385.4L361.6 383.7M336.3 391.2L336.4 390.8M390.6 417.5L392.3 418.1M397.0 366.8L397.5 368.9M359.8 398.4L357.9 397.9M390.2 384.7L390.0 382.5M352.8 372.6L353.5 371.1M333.2 409.6L333.0 408.9M397.4 411.5L396.4 411.2M352.9 369.7L355.8 368.3M388.0 394.0L388.0 393.4M405.3 365.9L404.3 366.1M361.9 382.8L361.6 383.7M398.1 392.7L397.3 393.0M351.9 368.6L352.4 369.4M357.0 393.9L357.7 392.0M355.3 397.1L354.2 398.3M359.7 391.5L360.1 390.9M369.7 378.4L368.6 379.0M402.7 421.5L404.3 420.8M367.5 402.8L365.0 403.4M373.2 378.2L376.0 378.4M392.9 377.3L394.7 375.0M365.7 390.4L363.7 389.0M365.4 410.7L366.4 410.5M384.4 398.3L383.9 397.8M352.6 410.0L354.2 410.2M386.2 365.8L387.5 368.3M398.6 396.1L400.8 397.7M380.9 413.4L381.4 412.4M396.1 385.0L396.1 384.4M362.1 423.9L361.4 422.5M349.7 365.4L352.6 365.2M359.5 367.6L360.7 368.5M389.9 396.2L392.0 395.8M401.8 376.9L401.8 376.9M364.4 397.8L366.0 399.2M404.3 374.3L402.3 375.0M344.1 418.8L346.6 421.3M331.1 403.0L332.8 404.6M334.6 413.3L336.0 410.9M376.2 363.6L376.9 364.1M391.7 362.5L390.7 364.4M402.7 390.5L402.2 388.6M333.7 407.4L332.6 405.6M382.4 387.1L381.1 384.8M353.6 419.5L355.0 419.6M396.7 372.3L395.3 371.0M339.0 413.2L337.0 410.6M359.8 398.4L360.4 399.6M389.6 412.3L392.3 414.1M347.2 412.7L348.1 411.0M389.6 387.2L392.0 389.1M348.4 370.4L348.4 370.5M403.0 382.7L402.6 380.4M345.5 412.9L347.2 412.7M370.0 371.7L368.9 371.7M332.6 392.6L333.4 391.2M331.9 395.6L332.2 395.9M340.1 417.3L340.4 420.0M363.3 403.1L362.9 405.9M339.1 367.2L338.4 364.3M397.1 415.4L396.5 414.7M373.6 374.1L375.0 372.6M373.2 365.2L376.2 363.6M338.3 420.8L339.9 420.5M356.3 424.8L355.6 426.4M383.0 410.4L382.0 408.2M395.1 409.2L396.4 411.2M374.8 405.4L375.6 405.5M386.1 403.9L386.5 405.9M358.6 373.8L359.3 372.7M341.2 393.7L339.4 393.9M381.6 362.1L380.9 364.4M380.7 383.2L378.2 382.6M359.9 389.7L359.4 389.3M337.6 414.6L339.0 414.0M377.5 397.1L379.2 398.5M331.7 428.1L331.5 426.3M371.9 394.9L372.4 391.4M392.2 407.9L394.0 406.6M393.4 391.8L391.6 390.7M337.0 374.0L338.5 375.4M392.4 402.4L392.1 399.6M377.3 401.7L378.2 403.9M370.1 376.1L370.0 376.0M385.7 410.5L386.2 409.8M375.2 392.3L373.9 391.3M392.9 377.3L394.3 378.7M399.3 380.9L399.0 380.6M371.2 424.6L369.5 422.6M348.5 377.9L350.1 377.3M387.6 362.8L387.5 363.0M335.0 376.9L335.9 377.9M336.5 425.4L334.8 426.7M384.9 374.4L385.2 372.6M395.6 370.2L395.3 371.0M369.1 397.2L371.0 394.9M371.8 402.0L373.7 400.1M402.5 426.1L400.9 427.1M382.2 365.4L381.0 364.8M362.0 364.8L363.6 362.9M398.9 400.1L400.8 399.0M335.3 374.2L335.0 376.9M367.5 414.1L365.5 413.3M394.0 405.8L391.7 404.8M357.9 410.7L356.9 412.6M353.7 423.1L355.0 423.1M397.9 400.7L398.9 400.2M345.2 414.5L343.3 414.9M368.0 368.9L366.1 367.9M347.8 405.7L347.9 405.9M380.2 391.0L379.2 388.8M338.8 402.8L339.4 405.1M386.9 403.0L386.1 403.9M389.2 370.2L389.0 370.2M383.8 392.0L381.8 394.4M368.0 370.9L365.8 371.3M381.2 378.0L379.1 379.2M350.7 375.3L349.9 374.3M342.6 402.3L344.3 402.5M379.4 416.0L377.3 415.8M332.1 420.5L331.1 418.8M368.3 405.1L365.7 405.8M359.3 426.1L357.4 428.1M333.4 391.2L336.1 391.3M335.0 396.3L332.2 395.9M387.4 368.9L385.6 369.6M359.0 371.3L356.9 370.0M395.4 418.2L397.1 416.4M365.6 421.7L366.2 423.0M335.9 377.9L337.1 377.8M365.8 385.6L364.7 382.5M371.5 407.0L370.6 407.5M371.4 421.5L369.5 422.6M343.4 417.7L343.3 414.9M351.4 397.5L351.4 397.4M378.5 423.7L378.0 425.6M382.8 419.9L385.2 419.4M332.1 420.5L331.2 422.8M332.8 384.2L335.3 384.2M348.6 388.3L347.5 385.8M402.7 407.4L403.0 407.1M403.9 414.8L404.4 416.6M401.5 420.9L401.4 420.6M361.9 382.8L359.7 381.1M378.6 400.7L379.2 398.5M394.5 402.6L394.9 399.8M351.0 416.7L351.0 416.8M356.2 365.8L359.2 365.9M343.0 420.0L340.4 420.0M340.2 372.9L340.0 375.3M388.9 377.7L390.4 378.7M373.9 391.3L374.6 388.7M401.9 365.6L400.6 367.5M368.7 375.4L366.4 376.8M362.7 372.1L362.5 371.3M352.5 420.4L353.7 423.1M335.8 417.3L335.9 417.3M400.0 384.8L401.6 385.6M387.8 363.9L388.7 364.5M354.9 414.8L355.9 413.0M350.4 368.0L349.4 366.2M395.5 408.1L395.1 409.2M378.2 392.6L379.9 391.8M398.1 392.7L399.5 390.4M397.1 376.4L397.7 376.5M404.3 377.4L406.2 375.9M332.4 399.5L330.5 399.4M403.7 362.2L406.5 363.6M365.2 373.7L364.9 372.9M344.3 380.4L342.5 378.5M387.2 416.6L386.6 415.2M384.2 363.1L383.6 362.1M337.7 420.4L335.0 421.4M350.4 419.3L351.5 420.4M377.2 377.8L379.7 375.8M397.5 426.3L396.2 426.3M405.5 379.8L402.7 380.3M365.9 385.7L363.6 388.8M337.8 360.8L336.7 363.9M388.6 397.9L387.7 398.1M396.7 394.0L398.5 396.1M336.1 391.3L336.3 391.2M394.6 366.8L394.4 367.3M397.6 420.5L397.7 420.6M372.2 364.7L373.2 365.2M362.2 416.2L363.5 416.0M395.9 419.7L393.8 421.4M379.3 370.3L382.1 371.6M385.3 377.9L384.2 377.8M355.0 393.9L354.3 394.3M376.0 378.4L376.7 377.7M358.0 406.8L358.3 405.3M341.2 397.5L338.0 395.9M402.6 385.2L402.7 383.1M377.3 401.7L378.6 400.7M392.2 388.9L392.0 389.1M337.3 418.2L335.9 417.3M338.2 422.9L338.3 420.8M344.4 386.1L344.5 385.7M366.4 410.5L368.9 412.2M371.5 407.0L373.2 408.5M370.6 407.5L368.7 406.6M344.9 405.9L344.8 402.9M353.3 417.6L355.1 415.3M363.4 361.8L363.6 362.9M369.7 378.4L370.1 376.1M356.2 365.8L355.8 363.2M338.7 408.8L337.6 409.1M346.5 382.7L346.5 382.8M393.8 412.5L396.4 411.2M376.2 398.0L375.8 400.4M399.1 417.8L400.8 417.4M342.3 364.7L343.3 365.1M362.6 367.8L363.7 369.6M333.5 414.2L335.8 417.3M392.5 420.2L390.7 420.9M360.1 405.1L361.8 406.3M349.3 389.4L351.5 392.5M396.5 403.5L395.8 403.8M346.4 396.4L345.2 392.6M332.8 423.8L331.2 422.8M336.0 399.3L334.5 398.6M368.0 398.6L366.0 399.2M371.1 398.5L370.6 401.0M392.3 368.6L392.8 370.6M380.0 416.8L379.2 419.7M385.2 372.6L385.3 372.4M381.4 412.4L382.4 411.9M358.5 405.2L358.3 405.3M349.5 364.5L346.3 363.3M372.0 418.4L371.6 417.5M349.5 364.5L350.5 361.6M369.1 392.5L368.9 393.1M373.2 378.2L372.5 376.5M392.3 410.0L392.5 410.1M402.2 388.6L401.2 388.3M396.7 372.3L395.6 375.0M397.7 376.5L398.2 376.2M351.5 404.5L352.2 405.5M341.6 390.3L340.3 390.3M361.9 387.2L362.7 385.4M340.6 387.0L340.1 385.4M392.9 377.3L392.5 377.2M374.1 382.6L371.8 384.6M336.2 424.0L338.2 422.9M404.9 395.8L404.1 395.8M371.9 380.0L369.7 378.4M375.2 386.5L371.8 385.7M363.1 382.2L362.9 379.7M401.9 374.4L402.3 375.0M378.0 425.6L379.8 426.7M394.9 399.8L395.1 399.6M346.5 373.0L348.5 374.4M355.8 409.2L354.2 410.2M339.8 424.8L341.1 425.7M365.4 410.7L365.5 413.3M361.4 422.5L363.0 420.5M338.9 379.8L338.8 379.1M378.6 363.2L380.9 364.4M380.8 403.4L381.4 401.6M338.4 392.0L340.3 390.3M405.4 392.2L403.4 393.3M370.0 371.7L370.9 372.3M334.8 373.8L335.0 370.4M342.0 401.6L342.6 402.3M359.9 414.9L362.2 416.2M374.4 420.3L374.6 422.1M350.1 377.3L350.7 375.3M361.2 418.8L362.2 416.2M397.1 416.4L397.1 415.4M397.8 407.3L397.7 407.5M345.2 372.4L344.9 370.8M354.0 426.2L355.6 426.4M352.8 372.6L353.6 373.9M371.5 386.1L371.8 385.7M347.8 405.7L344.9 405.9M397.5 397.7L398.9 400.1M367.6 381.4L366.0 381.3M383.9 397.8L381.7 398.4M405.6 382.7L404.9 385.2M355.9 413.0L354.2 410.2M376.7 413.7L377.3 415.8M343.4 417.7L340.2 417.2M347.0 396.4L349.2 395.2M390.2 384.7L389.4 385.3M385.3 421.9L383.5 422.4M400.0 384.8L398.7 386.2M343.5 426.7L342.7 425.2M360.2 386.5L361.9 387.2M396.7 380.5L398.0 380.2M351.5 420.4L352.5 420.4M345.1 412.3L345.7 409.5M402.2 388.6L403.8 387.8M340.8 406.1L338.7 408.8M390.2 426.8L390.2 426.6M399.5 382.8L396.1 384.4M374.6 422.1L375.6 422.5M401.0 415.0L403.9 414.8M386.4 427.2L386.0 426.0M355.1 415.3L355.9 415.9M359.0 371.3L359.3 372.7M373.6 375.3L376.3 376.5M362.5 371.3L363.7 369.6M332.3 415.5L332.5 417.8M349.9 413.6L349.9 411.6M355.2 403.8L353.3 401.5M366.6 416.6L365.0 417.2M376.2 398.0L373.2 397.1M330.0 406.4L332.6 405.6M403.9 399.2L402.7 400.0M351.5 392.5L351.6 392.5M394.6 366.8L394.0 365.4M389.4 402.0L389.3 401.6M371.8 391.0L369.1 392.5M342.2 388.0L344.4 386.1M352.3 401.6L351.2 398.0M375.7 380.8L377.9 382.0M377.5 395.8L377.9 395.3M382.7 380.0L382.7 379.0M341.1 406.1L340.8 406.1M381.0 376.5L381.2 378.0M334.8 373.8L333.4 373.8M383.7 388.8L386.7 390.0M352.0 410.1L349.9 411.6M345.8 426.8L346.3 425.2M359.4 389.3L356.6 389.5M390.2 384.7L391.7 385.0M347.3 416.5L348.4 419.1M342.3 364.7L343.0 362.7M372.0 380.3L371.9 380.0M394.7 375.0L395.6 375.0M370.3 426.1L371.2 424.6M331.7 371.8L330.8 371.8M343.4 423.4L342.7 425.2M400.0 371.0L399.6 370.6M342.2 370.4L343.2 369.8M394.6 379.7L394.3 378.7M348.6 388.3L349.2 388.6M332.5 362.2L332.0 364.6M389.2 370.2L391.2 368.2M397.5 388.9L398.9 387.0M358.4 419.1L357.5 421.7M402.1 396.3L400.8 397.7M353.1 382.4L353.4 382.7M376.4 391.8L376.9 388.9M399.3 406.5L397.8 407.3M347.7 379.7L348.5 377.9M376.6 426.0L376.6 428.0M368.6 379.0L366.2 377.7M367.7 402.1L367.5 402.8M337.6 398.1L337.7 396.0M360.3 394.4L357.8 394.7M349.9 374.3L348.5 374.4M375.8 400.4L373.7 400.1M353.3 417.6L351.0 416.8M371.9 402.3L370.7 404.2M359.9 414.9L359.9 414.3M341.9 410.8L341.5 410.9M397.9 400.7L395.1 399.6M339.1 399.6L340.0 399.6M357.5 421.7L358.6 422.9M378.6 366.7L379.9 368.6M387.7 422.3L386.0 422.5M357.0 393.9L357.8 394.7M396.7 393.9L397.3 393.0M341.2 397.5L342.3 397.1M348.5 377.9L347.5 376.4M345.2 376.4L347.5 376.4M350.2 371.6L348.4 370.5M343.9 376.5L342.5 378.4M372.0 380.3L374.2 382.0M353.3 405.9L353.6 405.8M400.5 414.2L400.5 413.4M389.9 396.2L388.6 397.9M373.2 365.2L373.9 366.6M398.5 396.1L397.5 397.7M372.3 414.5L371.6 417.5M402.5 371.4L403.4 370.9M384.5 413.3L385.9 412.0M381.2 383.9L380.7 383.2M355.3 397.1L354.3 394.3M385.6 425.8L383.1 426.6M396.0 390.3L397.3 393.0M359.7 409.0L359.1 410.3M377.9 395.3L378.2 392.6M392.3 395.9L392.0 395.8M352.3 410.1L352.8 414.1M357.0 401.4L355.7 403.8M370.0 376.0L371.3 373.3M335.0 421.4L334.9 422.8M402.4 424.5L400.0 423.6M335.0 370.4L333.8 370.0M367.4 385.3L366.4 385.8M399.1 417.8L397.1 416.4M362.1 376.0L359.0 375.6M379.9 368.6L379.3 370.3M356.8 369.2L356.9 370.0M394.9 399.8L392.1 399.6M348.4 403.9L351.5 404.5M363.7 389.0L362.2 391.3M391.5 371.5L389.2 370.2M335.9 363.7L332.2 364.7M360.7 368.5L362.6 367.8M355.2 390.6L353.2 390.2M337.1 368.4L335.8 366.3M364.3 396.7L364.4 397.8M386.2 365.8L387.8 363.9M398.9 400.2L398.9 400.1M332.2 377.0L331.4 378.0M334.9 387.9L335.0 387.9M342.4 394.5L345.2 392.6M366.0 381.3L365.1 378.6M332.0 382.3L331.9 383.3M341.5 405.7L344.9 405.9M335.4 384.1L334.6 380.4M391.7 385.0L392.5 386.0M335.3 384.2L335.4 384.1M350.4 419.3L351.0 416.8M334.8 426.7L332.7 425.2M337.7 420.4L337.3 418.2M392.8 370.6L394.9 371.2M392.5 410.1L395.1 409.2M380.2 391.0L383.0 390.5M337.6 401.9L339.1 399.6M344.9 391.0L345.4 392.2M351.8 379.1L351.8 379.0M370.9 372.3L374.0 370.5M370.6 407.5L370.0 409.7M338.5 375.4L337.1 377.8M369.1 397.2L371.1 398.5M352.9 369.7L353.5 371.1M376.9 384.7L376.2 384.9M359.5 367.6L359.2 365.9M336.2 395.4L337.7 396.0M379.5 410.1L381.4 412.4M335.0 387.9L336.4 390.8M389.3 404.9L387.4 406.3M397.1 376.4L395.6 375.0M381.8 394.4L384.2 395.7M342.2 389.9L344.9 391.0M402.6 385.2L403.7 385.8M335.8 366.3L333.0 367.3M399.5 404.0L399.8 404.4M392.2 388.9L395.6 388.3M336.5 425.4L337.8 426.2M368.6 419.2L368.9 419.5M336.5 405.7L336.0 407.0M334.9 422.8L332.8 423.8M335.9 363.7L334.4 361.5M373.0 397.5L373.7 400.1M355.5 366.8L356.2 365.8M386.1 403.9L384.0 403.3M381.0 406.2L382.1 408.1M358.0 406.8L356.2 407.8M377.5 397.1L376.2 398.0M398.0 364.5L394.4 363.8M371.7 406.3L374.5 405.2M361.4 408.6L361.8 406.3M344.5 385.7L345.4 385.2M397.1 415.4L400.5 414.2M391.8 399.3L390.9 399.5M338.0 395.9L339.4 393.9M357.0 385.1L357.7 384.1M348.4 419.1L350.4 419.3M375.6 405.5L377.4 407.6M381.4 424.8L381.8 424.9M361.2 418.8L363.0 420.2M398.7 386.2L396.1 385.0M371.9 402.3L371.8 402.0M384.3 406.6L386.5 405.9M380.2 391.0L379.9 391.8M392.9 424.9L393.3 423.7M339.8 423.7L340.9 422.8M380.7 383.2L381.0 380.9M340.2 417.2L339.9 414.9M368.6 397.3L366.8 395.4M382.5 428.5L383.1 426.6M381.7 404.6L381.0 406.2M366.3 419.7L365.6 421.7M384.3 381.7L386.5 381.1M337.6 398.1L336.0 399.3M381.7 404.6L383.3 404.5M353.5 394.2L351.4 397.4M333.7 404.0L332.8 404.6M368.6 397.3L369.1 397.2M392.3 418.1L393.7 417.4M382.3 372.0L385.2 372.6M349.9 413.6L348.5 414.3M346.7 368.9L344.9 370.8M397.0 366.8L394.6 366.8M368.5 365.3L365.7 366.7M339.8 423.7L338.2 422.9M332.8 384.2L331.9 383.3M351.5 420.4L350.4 421.8M379.0 370.5L378.3 370.5M359.1 410.3L357.9 410.7M363.5 416.0L364.9 417.2M342.9 423.0L340.9 422.8M401.6 385.6L402.6 385.2M363.0 420.5L363.0 420.2M343.3 373.2L345.2 372.4M363.6 388.8L362.2 388.1M396.1 385.0L395.5 386.0M378.4 410.8L379.5 410.1M382.7 379.0L381.2 378.0M402.7 401.7L402.3 402.1M399.5 382.8L399.6 382.8M396.5 414.7L397.5 411.6M348.5 422.2L348.6 424.8M344.8 402.9L344.3 402.5M386.0 418.5L385.2 419.4M406.4 394.7L404.9 395.8M365.1 406.8L365.7 405.8M342.9 375.3L343.9 376.5M400.9 427.1L399.1 424.4M402.6 380.4L399.3 380.9M361.4 408.6L363.5 409.9M372.6 410.7L370.3 410.3M346.7 367.1L349.4 366.2M335.0 387.9L337.5 387.2M386.1 418.4L387.2 416.6M343.3 365.1L344.8 367.5M383.0 390.5L383.8 392.0M359.7 381.1L357.5 382.7M344.9 409.0L345.7 409.5M337.1 368.4L336.9 369.6M352.3 410.1L352.6 410.0M371.7 406.3L370.7 404.2M371.8 385.7L371.8 384.6M370.0 376.0L368.7 375.4M381.0 395.3L381.0 398.1M394.9 371.2L395.3 371.0M378.2 412.6L380.3 413.8M350.3 407.1L352.2 405.5M380.5 423.4L381.4 424.8M349.9 382.1L349.3 383.6M392.9 424.9L393.8 427.1M404.5 419.2L404.3 420.8M346.1 379.3L344.8 376.6M400.4 409.8L398.4 409.8M374.0 370.4L374.0 370.5M395.1 399.6L395.5 397.8M394.7 396.8L396.7 394.0M392.5 396.2L391.8 399.3M332.8 384.2L332.1 386.6M352.6 375.5L353.4 376.6M401.7 391.9L399.5 390.4M367.5 408.2L365.1 406.8M402.7 400.0L400.8 399.0M385.3 425.0L383.4 423.9M334.9 387.9L332.7 388.1M369.5 416.5L368.2 417.4M397.7 407.5L398.4 409.8M404.4 416.6L406.8 417.1M351.4 397.4L349.2 395.2M401.5 420.9L402.7 421.5M339.9 370.1L336.9 369.6M365.0 369.7L363.7 369.6M333.7 407.4L333.0 408.9M401.8 392.8L403.4 393.3M352.4 369.4L352.9 369.7M353.3 417.6L353.6 419.5M346.3 367.6L344.8 367.5M349.4 393.7L349.2 395.2M357.5 421.7L356.1 421.7M350.4 368.0L351.9 368.6M356.2 390.1L355.2 390.6M362.3 395.1L363.2 393.1M370.1 367.5L368.0 368.9M390.9 374.3L392.5 377.2M332.6 405.6L332.8 404.6M332.1 386.6L329.3 386.0M374.1 403.7L371.9 402.3M367.8 389.0L365.7 390.4M334.5 398.6L335.0 396.3M361.4 422.5L360.6 422.3M344.1 418.8L343.0 420.0M352.2 405.5L353.3 405.9M368.9 419.5L368.7 422.5M375.4 413.0L374.9 411.4M350.5 408.8L350.3 407.1M344.8 376.6L345.2 376.4M332.7 425.2L331.5 426.3M376.8 374.0L379.1 373.7M375.4 413.0L373.6 414.6M389.0 423.6L389.0 424.0M370.0 366.4L372.2 364.7M339.9 363.8L342.0 364.8M351.6 392.5L353.2 390.2M346.5 382.8L349.3 383.6M334.7 418.2L334.6 420.8M401.0 415.0L400.5 414.2M361.7 402.9L363.3 403.1M378.5 420.0L379.1 419.9M352.6 410.0L353.3 405.9M337.6 401.9L338.8 402.8M398.4 409.8L397.4 411.5M352.2 428.2L354.0 426.2M345.0 423.4L343.4 423.4M367.3 362.8L368.1 363.0M376.6 401.5L375.8 400.4M340.1 417.3L340.2 417.2M392.3 414.1L393.4 414.0M389.2 419.6L390.6 417.5M340.4 377.7L340.0 375.3M372.6 410.7L371.8 414.0M342.8 382.4L341.1 380.7M373.4 422.7L374.6 422.1M393.7 417.4L393.8 414.4M382.0 408.2L382.1 408.1M388.2 372.8L385.3 372.4M367.5 414.1L366.6 416.6M379.1 361.7L378.6 363.2M396.1 384.4L395.8 384.0M344.1 418.5L347.0 416.5M333.0 408.9L330.1 408.6M386.0 422.5L385.3 425.0M370.3 410.3L368.9 412.2M390.4 378.7L388.8 381.4M370.3 426.1L371.4 428.1M343.0 420.0L342.9 423.0M397.5 411.6L397.4 411.5M362.1 376.0L362.1 376.0M337.8 372.4L339.7 372.4M372.5 368.8L373.9 366.6M364.9 406.9L362.9 405.9M376.1 368.8L374.0 370.4M349.8 388.2L352.9 389.2M371.5 389.9L369.2 389.0M372.2 364.7L371.9 363.4M396.7 380.5L394.6 379.7M337.8 426.2L338.1 426.9M362.3 395.1L364.3 396.7M371.9 394.9L371.0 394.9M347.5 385.8L349.4 384.2M365.7 392.3L363.2 393.1M362.4 376.1L364.9 374.7M397.7 422.8L399.1 424.0M337.3 381.2L338.9 379.8M363.0 420.2L364.9 417.2M372.4 418.4L372.0 418.4M340.2 372.9L342.3 372.4M339.4 405.1L340.8 406.1M367.4 385.3L368.1 384.1M386.1 401.2L387.3 399.7M350.1 426.2L351.9 428.2M388.9 377.7L388.3 375.7M381.0 395.3L381.7 394.4M335.0 396.3L336.2 395.4M350.1 426.2L350.1 425.8M399.8 373.5L398.7 374.1M376.9 384.7L378.7 386.0M382.4 411.9L383.0 410.4M390.9 407.0L388.2 408.8" fill="none" stroke="#de9ed8" stroke-width="0.7"/>
<path d="M377.9 382.0L378.2 382.6M379.2 388.8L378.7 388.6M395.8 403.8L395.8 403.8M370.7 404.2L368.5 404.7M392.3 418.1L392.5 420.2M342.3 397.1L343.2 399.2M375.5 372.7L378.3 370.5M385.4 392.6L386.3 392.3M361.8 372.8L362.7 372.1M356.5 418.5L355.0 419.6M390.2 426.6L389.0 424.0M395.5 397.8L397.5 397.7M385.4 392.6L383.8 392.0M337.6 414.6L334.6 413.3M375.7 380.8L376.0 378.4M341.1 425.7L340.6 428.1M383.1 387.4L382.4 387.1M346.7 400.2L348.1 398.6M375.4 388.1L375.2 386.5M371.4 362.9L371.9 363.4M393.9 393.0L393.4 391.8M400.0 402.3L398.9 400.2M386.5 386.9L383.6 388.1M393.8 414.4L396.5 414.7M332.4 399.5L332.5 399.3M384.3 365.9L384.2 368.9M388.2 408.8L388.2 408.9M393.8 421.4L393.7 423.4M369.4 413.9L369.0 413.6M345.1 412.3L342.9 412.1M387.2 416.6L389.4 416.2M404.9 385.2L407.4 386.7M389.3 401.6L387.3 399.7M344.4 386.1L346.0 388.8M377.2 377.8L376.7 377.7M387.5 363.0L387.8 363.9M392.5 410.1L393.8 412.5M333.4 391.2L332.1 389.0M353.6 419.5L352.5 420.4M363.2 393.1L362.2 391.3M344.1 418.8L344.1 418.5M382.4 411.9L384.5 413.3M383.3 404.5L384.3 406.6M342.0 401.6L341.7 401.5M343.3 365.1L346.0 364.1M386.9 403.0L388.9 402.9M396.7 393.9L393.9 393.0M379.7 409.3L378.0 407.5M368.5 404.7L368.3 405.1M374.9 411.4L372.8 410.6M374.9 416.7L373.6 414.6M358.8 375.8L355.7 376.6M353.3 401.5L352.3 401.6M357.5 397.3L355.3 397.1M405.5 399.4L403.9 399.2M346.6 421.3L347.1 421.2M330.1 368.4L332.8 368.0M360.1 400.9L359.0 401.5M342.2 370.4L342.3 372.4M344.1 381.4L342.8 382.4M367.6 408.8L366.4 410.5M372.8 424.1L373.4 422.7M376.6 401.5L377.3 401.7M401.7 411.7L400.5 413.4M389.2 366.7L390.8 367.2M343.4 423.4L342.9 423.0M366.0 399.2L365.9 400.2M403.7 362.2L402.8 365.4M406.2 375.9L404.3 374.3M399.4 390.2L401.2 388.3M345.4 392.2L345.2 392.6M339.9 414.9L342.5 414.4M356.2 390.1L356.6 389.5M388.2 372.8L389.0 370.2M337.3 381.2L335.0 380.1M337.8 385.5L337.5 387.2M393.5 373.7L394.7 375.0M369.4 400.9L370.6 401.0M391.5 371.5L391.4 373.7M360.0 384.7L357.7 384.1M399.3 406.5L401.6 407.7M379.4 416.0L380.3 413.8M347.8 379.9L347.7 379.7M391.4 373.7L393.5 373.7M388.1 419.9L386.1 418.4M353.3 363.5L355.8 363.2M404.9 427.1L402.5 426.1M372.5 368.8L374.0 370.4M400.8 393.8L401.8 392.8M373.9 426.0L376.1 425.7M381.7 398.4L381.9 401.3M391.6 390.7L390.7 391.1M403.7 385.8L403.8 387.8M390.4 378.7L390.4 378.7M382.3 419.5L382.8 419.9M365.3 366.4L365.7 366.7M388.8 412.9L389.4 416.2M367.3 362.8L365.2 363.7M392.1 399.6L391.8 399.3M371.2 368.6L372.5 368.8M351.8 379.1L349.5 380.8M376.6 426.0L376.1 425.7M345.7 400.0L346.7 400.2M348.4 370.4L346.7 368.9M351.0 385.9L350.9 385.4M347.3 416.5L347.0 416.5M394.7 396.8L395.5 397.8M376.8 374.0L376.3 376.5M368.1 381.1L370.5 381.8M355.7 376.6L355.4 377.1M353.6 373.9L355.4 373.8M350.6 372.7L349.9 374.3M342.3 372.4L343.3 373.2M382.1 371.6L383.2 369.1M366.2 377.7L366.4 376.8M398.7 374.1L396.7 372.3M360.6 422.3L358.6 422.9M377.5 395.8L377.5 397.1M340.0 375.3L340.0 375.3M336.6 369.9L336.9 369.6M348.5 422.2L350.4 421.8M334.6 420.8L332.1 420.5M394.5 402.6L392.4 402.4M332.0 382.3L334.0 380.4M406.5 418.6L404.5 419.2M353.7 423.1L352.8 424.2M365.1 378.6L366.2 377.7M379.2 419.7L382.3 419.5M378.5 420.0L377.1 422.1M377.3 415.8L376.1 416.9M335.0 370.4L336.6 369.9M373.6 375.3L373.6 374.1M357.0 385.1L354.9 385.4M381.1 384.8L378.7 386.0M380.0 416.8L382.3 416.9M392.3 395.9L393.9 393.0M395.6 388.3L395.5 386.0M364.5 424.4L366.2 423.0M329.8 425.6L331.5 426.3M405.0 413.5L405.5 413.4M367.1 423.3L366.2 423.0M337.7 420.4L338.3 420.8M386.9 381.3L388.8 381.4M401.8 376.9L402.3 375.0M393.8 412.5L393.4 414.0M360.1 405.1L358.5 405.2M356.6 389.5L356.4 388.7M360.6 369.8L362.5 371.3M365.0 417.2L364.9 417.2M385.6 425.8L385.3 425.0M394.6 379.7L393.1 381.4M351.6 414.6L351.0 416.7M388.7 364.5L389.2 366.7M355.1 415.3L354.9 414.8M404.3 377.4L401.8 376.9M356.1 421.7L355.0 423.1M338.6 388.4L338.6 388.6M336.9 402.0L337.6 401.9M336.0 404.6L336.5 405.7M404.9 427.1L405.9 424.6M358.8 375.8L359.0 375.6M339.8 424.8L337.8 426.2M342.2 389.9L341.6 390.3M331.9 375.2L332.2 377.0M335.3 374.2L334.8 373.8M336.0 399.3L336.2 401.5M333.0 393.7L331.9 395.6M378.6 363.2L376.9 364.1M340.6 387.0L342.2 388.0M355.7 371.6L355.9 373.3M378.3 404.0L379.0 405.9M400.6 367.7L399.4 369.5M378.6 366.7L381.0 364.8M359.0 401.5L357.0 401.4M351.9 368.6L353.3 366.3M333.4 373.8L331.7 371.8M402.4 424.5L402.5 426.1M346.3 425.2L345.0 423.4M355.0 393.9L355.2 390.6M348.4 419.1L347.1 421.2M364.5 425.9L364.5 424.4M336.2 424.0L336.5 425.4M359.1 410.3L360.7 412.5M362.2 388.1L361.9 387.2M355.2 403.8L353.6 405.8M381.4 368.2L383.2 369.1M349.4 401.6L352.3 401.6M384.2 377.8L383.3 375.4M347.5 376.4L348.5 374.4M372.4 388.4L374.6 388.7M349.3 389.4L349.2 388.6M335.0 421.4L334.6 420.8M374.4 407.9L373.2 408.5M356.9 412.6L355.9 413.0M338.4 364.3L336.7 363.9M355.5 366.8L353.3 366.3M341.3 367.2L342.0 364.8M381.0 376.5L382.7 375.3M386.1 418.4L386.0 418.5M393.4 414.0L393.8 414.4M342.9 375.3L343.3 373.2M357.9 397.9L357.5 397.3M335.0 376.9L332.2 377.0M368.3 425.9L367.4 427.4M393.6 383.0L395.8 384.0M402.7 380.3L402.6 380.4M379.7 375.8L379.3 373.9M338.6 388.6L340.3 390.3M347.0 416.5L345.2 414.5M355.7 403.8L358.3 405.3M375.5 372.7L375.0 372.6M387.7 422.3L389.0 423.6M346.4 373.0L345.2 372.4M342.9 409.3L341.9 410.8M396.7 372.3L396.7 372.3M403.2 418.0L401.6 418.2M386.7 390.0L387.8 389.2M364.3 396.7L366.8 395.4M352.4 369.4L350.2 371.6M368.6 419.2L366.3 419.7M392.0 395.8L390.1 392.2M361.9 382.8L363.1 382.2M404.3 420.8L406.1 421.7M342.9 409.3L341.1 406.1M387.8 389.2L387.8 389.2M381.0 380.9L379.2 379.9M378.2 382.6L376.9 384.7M391.7 365.7L390.8 367.2M362.2 388.1L359.9 389.7M371.6 417.5L369.5 416.5M370.1 376.1L372.5 376.5M394.4 367.3L395.6 370.2M373.2 397.1L373.0 397.5M392.5 396.2L394.7 396.8M383.6 401.7L384.0 403.3M403.0 382.7L402.7 383.1M365.0 403.4L365.7 405.8M356.9 412.6L359.9 414.3M363.1 366.7L365.3 366.4M399.4 369.5L399.6 370.6M368.0 398.6L369.4 400.9M393.6 383.0L393.1 381.4M390.9 399.5L388.6 397.9M345.7 400.0L345.2 399.4M348.5 414.3L347.2 412.7M376.2 410.2L376.2 408.8M377.3 366.3L376.9 364.1M374.8 405.4L374.4 407.9M363.1 366.7L362.6 367.8M400.0 402.3L402.3 402.1M360.1 390.9L362.2 391.3M382.8 419.9L382.6 421.6M399.1 417.8L397.6 420.5M346.1 379.3L347.7 379.7M361.7 395.2L359.8 398.4M383.3 416.3L383.4 415.5M403.0 405.4L403.0 407.1M374.2 382.0L374.1 382.6M379.5 410.1L379.7 409.3M384.4 398.3L384.3 401.2M375.4 388.1L376.9 388.9M344.8 367.5L343.5 368.3M335.3 374.2L337.0 374.0M336.2 401.5L334.2 401.8M350.4 421.8L351.4 424.5M331.7 371.8L333.8 370.0M393.7 417.4L395.4 418.2M394.4 367.3L392.3 368.6M375.2 392.3L376.4 391.8M346.1 379.3L344.3 380.4M373.0 395.5L371.9 394.9M364.5 425.9L362.1 428.2M357.0 385.1L357.6 386.8M355.8 368.3L356.8 369.2M376.1 425.7L375.6 422.5M358.8 375.8L358.9 378.9M379.9 368.6L381.4 368.2M334.9 387.9L335.3 384.2M400.8 394.3L398.6 396.1M384.5 395.6L384.2 395.7M349.4 384.2L350.9 385.4M359.4 362.9L360.0 364.5M358.9 419.0L358.4 419.1M361.0 379.0L362.1 376.0M348.2 403.2L348.4 402.4M371.2 368.6L370.1 367.5M335.8 417.3L334.7 418.2M371.8 414.0L369.4 413.9M402.8 365.4L404.3 366.1M336.5 384.1L337.5 382.9M346.0 388.8L344.9 391.0M376.9 388.9L378.7 388.6M403.0 405.4L402.2 404.6M350.6 372.7L350.2 371.6M353.8 387.3L354.2 387.1M333.6 413.8L334.6 413.3M370.0 366.4L368.5 365.3M367.5 408.2L367.6 408.8M347.3 392.2L349.4 393.7M386.6 415.2L384.4 414.5M379.1 419.9L379.2 419.7M377.4 407.6L378.0 407.5M382.1 408.1L384.0 407.2M378.3 370.5L376.1 368.8M331.9 412.2L331.0 412.2M340.1 417.3L337.3 418.2M368.0 373.9L365.2 373.7M376.2 384.9L374.1 382.6M372.4 388.4L371.5 389.9M358.0 406.8L359.7 409.0M374.2 382.0L375.7 380.8M387.2 385.1L386.9 381.3M364.9 406.9L365.1 406.8M371.8 402.0L370.6 401.0M351.8 379.0L353.4 376.6M332.5 417.8L331.1 418.8M378.6 400.7L381.4 401.6M352.6 365.2L353.3 363.5M332.2 364.7L332.0 364.6M351.2 398.0L349.6 398.9M374.6 388.7L375.4 388.1M358.9 378.9L356.0 379.2M379.1 373.7L379.3 373.9M349.4 401.6L349.6 398.9M389.2 374.5L388.3 375.7M359.0 401.5L358.5 405.2M390.6 417.5L390.2 416.5M381.7 373.4L382.7 375.3M339.8 423.7L339.8 424.8M405.5 379.8L404.3 377.4M350.5 408.8L347.4 409.1M352.4 379.6L351.8 379.1M385.9 412.0L385.7 410.5M352.8 424.2L354.0 426.2M379.1 373.7L379.0 370.5M363.3 403.1L363.9 402.8M371.4 362.9L368.2 363.0M362.1 376.0L361.8 372.8M353.5 371.1L355.7 371.6M362.0 364.8L363.1 366.7M353.4 382.7L355.9 381.5M337.0 374.0L337.8 372.4M355.5 366.8L355.8 368.3M379.0 370.5L379.3 370.3M368.7 406.6L368.3 405.1M340.6 369.7L340.6 367.6M346.4 396.4L347.0 396.4M382.3 416.9L382.3 419.5M342.9 375.3L340.0 375.3M365.7 390.4L365.7 392.3M352.3 401.6L352.3 401.6M360.6 369.8L360.7 368.5M340.6 369.7L342.2 370.4M384.3 365.9L383.5 365.2M341.5 410.9L338.7 408.8M389.2 419.6L390.7 420.9M368.3 425.9L367.1 423.3M396.0 390.3L393.4 391.8M369.5 422.6L368.7 422.5M378.5 420.0L376.5 418.6M384.5 413.3L384.4 414.5M400.5 413.4L397.5 411.6M381.4 424.8L379.8 426.7M394.1 362.5L394.4 363.8M366.3 419.7L365.0 417.2M333.2 409.6L336.0 410.9M391.2 368.2L390.8 367.2M401.7 411.7L400.4 409.8M390.2 426.6L392.9 424.9M346.3 367.6L346.7 368.9M396.7 380.5L395.8 384.0M388.1 419.9L387.7 422.3M332.4 399.5L332.7 400.6M392.3 410.0L392.2 407.9M356.4 400.3L357.0 401.4M377.9 382.0L379.2 379.9M357.6 386.8L356.4 388.7M383.6 388.1L383.1 387.4M385.4 392.6L384.5 395.6M349.3 383.6L349.4 384.2M395.8 403.8L394.0 405.8M384.4 398.3L387.3 398.7M383.0 410.4L385.7 410.5M398.0 380.2L399.0 380.6M338.8 402.8L341.7 401.5M362.1 423.9L364.5 424.4M400.6 367.5L398.0 365.8M336.7 363.9L336.4 364.0M345.8 396.8L346.4 396.4M352.0 410.1L350.5 408.8M332.5 399.3L332.2 395.9M368.5 389.2L367.8 389.0M352.0 410.1L352.3 410.1M389.9 410.8L389.6 412.3M403.1 411.4L405.0 413.5M386.7 395.8L384.5 395.6M346.3 425.2L348.6 424.8M383.9 397.8L384.2 395.7M336.5 405.7L339.4 405.1M402.2 404.6L402.3 402.1M357.7 384.1L357.5 382.7M395.3 423.8L396.2 426.3M346.7 367.1L346.0 364.1M342.5 378.4L340.4 377.7M340.7 384.2L340.1 385.4M350.1 425.8L351.4 424.5M334.5 398.6L332.5 399.3M400.2 363.7L401.9 365.6M398.5 396.1L398.6 396.1M387.4 368.9L387.5 368.3M339.5 382.9L337.5 382.9M401.5 420.9L400.0 423.6M335.5 394.0L336.2 395.4M344.1 418.5L343.4 417.7M364.1 401.8L365.9 400.2M402.7 400.0L402.7 401.7M342.4 394.5L341.2 393.7M370.3 426.1L368.3 425.9M343.2 399.2L345.2 399.4M358.6 422.9L358.2 424.5M333.0 367.3L332.2 364.7M340.0 399.6L341.7 401.5M381.9 401.3L381.4 401.6M376.4 391.8L378.2 392.6M347.6 416.3L351.0 416.7M349.8 388.2L351.0 385.9M346.7 367.1L346.3 367.6M383.6 401.7L381.9 401.3M356.0 379.2L355.9 381.5M382.7 380.0L381.0 380.9M389.2 374.5L390.9 374.3M368.6 397.3L368.0 398.6M367.2 393.6L365.7 392.3M395.8 403.8L397.8 407.3M397.7 420.6L401.4 420.6M376.5 418.6L376.1 416.9M339.7 372.4L339.9 370.1M383.7 383.1L384.3 381.7M370.0 409.7L367.6 408.8M392.1 402.7L389.4 402.0M360.7 412.5L359.9 414.3M393.3 423.7L393.7 423.4M368.5 389.2L369.1 392.5M362.1 376.0L362.4 376.1M332.8 423.8L332.7 425.2M347.1 421.2L348.5 422.2M400.4 409.8L401.6 407.7M366.1 367.9L365.7 366.7M343.2 399.2L342.0 401.6M361.2 418.8L359.6 419.2M371.9 380.0L373.2 378.2M369.2 389.0L370.5 386.5M380.8 403.4L381.7 404.6M386.1 401.2L386.9 403.0M403.0 407.1L405.4 407.4M364.4 397.8L362.6 399.5M336.9 402.0L336.2 401.5M398.9 387.0L401.0 387.8M351.5 404.5L352.3 401.6M384.0 407.2L384.3 406.6M374.8 405.4L374.5 405.2M400.8 417.4L401.6 418.2M352.6 375.5L353.6 373.9M355.9 381.5L357.5 382.7M365.9 400.2L367.7 402.1M329.2 384.0L331.9 383.3M392.2 407.9L390.9 407.0M348.1 398.6L347.0 396.4M337.1 377.8L338.8 379.1M399.6 382.8L399.3 380.9M379.2 388.8L382.4 387.1M367.6 381.4L368.1 381.1M340.4 420.0L339.9 420.5M382.3 372.0L382.1 371.6M348.6 424.8L350.1 425.8M354.7 399.9L356.4 400.3M369.2 389.0L368.5 389.2M378.0 407.5L379.0 405.9M371.2 424.6L372.8 424.1M363.9 402.8L365.0 403.4M368.1 363.0L368.2 363.0M349.9 382.1L349.5 380.8M363.5 409.9L362.1 412.0M341.1 380.7L342.5 378.5M389.9 410.8L388.2 408.9M364.7 382.5L363.1 382.2M338.4 392.0L339.4 393.9M387.3 398.7L387.7 398.1M384.3 401.2L383.6 401.7M379.8 426.7L380.0 427.7M355.0 423.1L356.3 424.8M379.4 416.0L380.0 416.8M402.7 421.5L403.4 423.4M370.5 386.5L367.4 385.3M355.4 377.1L353.4 376.6M388.8 412.9L387.8 413.1M402.5 371.4L400.0 371.0M367.5 414.1L369.0 413.6M332.3 415.5L329.1 415.3M339.9 363.8L338.4 364.3M390.1 392.2L390.7 391.1M330.4 364.5L332.0 364.6M348.1 411.0L347.2 409.4M379.3 373.9L381.7 373.4M342.3 397.1L342.7 396.5M374.9 416.7L376.1 416.9M353.3 366.3L352.6 365.2M361.8 372.8L359.3 372.7M365.1 378.6L364.4 378.5M359.4 362.9L356.3 362.5M362.1 423.9L360.6 426.3M336.0 407.0L337.6 409.1M396.3 389.0L396.0 390.3M354.9 385.4L354.2 387.1M337.8 372.4L336.6 369.9M370.7 383.5L371.8 384.6M401.9 365.6L402.8 365.4M342.2 389.9L342.2 388.0M356.3 362.5L355.8 363.2M389.4 385.3L389.6 387.2M378.5 423.7L377.1 422.1M349.7 365.4L349.5 364.5M354.2 398.3L354.7 399.9M386.5 386.9L387.8 389.2M401.8 376.9L402.7 380.3M377.2 377.8L379.1 379.2M360.2 386.5L360.0 384.7M344.9 409.0L344.9 405.9M399.4 369.5L397.5 368.9M400.2 363.7L400.5 362.8M368.2 417.4L366.6 416.6M340.6 387.0L338.6 388.4M392.1 402.7L391.7 404.8M350.4 368.0L348.4 370.4M368.5 365.3L368.1 363.0M335.8 366.3L336.4 364.0M373.0 395.5L373.2 397.1M373.4 422.7L371.4 421.5M341.1 406.1L341.5 405.7M351.8 379.0L350.1 377.3M336.0 410.9L337.0 410.6M397.0 366.8L398.0 365.8M350.6 372.7L352.8 372.6M354.3 394.3L353.5 394.2M359.7 409.0L361.4 408.6M380.8 422.3L379.1 419.9M360.0 384.7L361.6 383.7M402.1 396.3L403.5 396.3M339.0 414.0L339.9 414.9M361.6 428.0L360.6 426.3M330.2 380.2L332.0 382.3M356.5 418.5L358.4 419.1M400.0 384.8L399.5 382.8M354.7 399.9L353.3 401.5M394.5 402.6L395.8 403.8M371.5 389.9L371.8 391.0M375.6 405.5L378.2 403.9M367.5 402.8L368.5 404.7M364.9 372.9L362.7 372.1M348.2 403.2L344.8 402.9M389.6 412.3L388.8 412.9M371.0 394.9L368.9 393.1M360.1 361.6L359.4 362.9M331.1 403.0L332.7 400.6M389.4 385.3L387.2 385.1M364.1 414.2L363.5 416.0M382.2 365.4L383.5 365.2M389.9 396.2L388.0 394.0M376.1 368.8L376.2 367.3M331.9 375.2L333.4 373.8M379.1 379.2L379.2 379.9M374.1 403.7L374.5 405.2M352.4 379.6L355.8 379.0M376.2 408.8L377.4 407.6M342.7 425.2L341.1 425.7M371.1 398.5L373.0 397.5M368.2 417.4L368.6 419.2M364.1 401.8L363.9 402.8M404.0 369.7L407.4 369.6M357.7 392.0L356.2 390.1M401.3 377.0L399.0 380.6M372.0 380.3L370.5 381.8M402.7 390.5L401.7 391.9M355.4 373.8L355.9 373.3M384.8 384.7L383.7 383.1M348.2 428.1L350.1 426.2M364.9 406.9L363.9 409.9M346.0 388.8L348.6 388.3M349.9 382.1L353.1 382.4M381.7 394.4L381.8 394.4M383.3 375.4L382.7 375.3M398.7 386.2L398.9 387.0M378.0 425.6L376.6 426.0M400.6 367.7L400.6 367.5M390.9 407.0L390.7 405.4M374.9 416.7L372.4 418.4M350.3 407.1L347.9 405.9M381.8 424.9L383.4 423.9M389.0 370.2L387.4 368.9M384.0 403.3L383.3 404.5M378.5 423.7L380.5 423.4M338.5 375.4L340.0 375.3M346.4 373.0L346.5 373.0M392.0 389.1L391.6 390.7M336.3 391.2L338.4 392.0M356.2 407.8L355.8 409.2M399.1 424.4L399.1 424.0M383.4 415.5L384.4 414.5M359.7 391.5L357.7 392.0M360.1 400.9L361.7 402.9M398.0 364.5L398.0 365.8M390.7 405.4L389.3 404.9M372.3 414.5L371.8 414.0M401.6 385.6L401.0 387.8M379.9 391.8L381.7 394.4M398.0 380.2L397.7 376.5M359.1 387.4L359.4 389.3M381.0 406.2L379.0 405.9M398.2 364.3L397.6 361.5M372.8 410.6L372.6 410.7M384.9 374.4L386.6 375.8M342.9 412.1L342.5 414.4M399.3 406.5L399.8 404.4M401.7 391.9L401.8 392.8M379.7 375.8L381.0 376.5M387.5 363.0L384.2 363.1M353.3 363.5L351.5 361.5M396.5 403.5L399.5 404.0M364.9 374.7L366.4 376.8M341.9 410.8L342.9 412.1M342.5 378.5L342.5 378.4M392.5 386.0L395.5 386.0M404.9 385.2L403.7 385.8M394.0 406.6L395.5 408.1M346.7 400.2L348.4 402.4M383.7 383.1L381.2 383.9M398.7 374.1L398.2 376.2M403.9 399.2L403.5 396.3M340.1 380.7L341.1 380.7M359.0 375.6L358.6 373.8M333.7 407.4L336.0 407.0M383.0 390.5L383.7 388.8M403.7 410.2L405.6 409.9M360.1 390.9L359.9 389.7M355.7 376.6L355.4 373.8M384.2 368.9L383.2 369.1M392.2 388.9L392.5 386.0M341.3 367.2L343.5 368.3M370.1 367.5L370.0 366.4M376.2 367.3L373.9 366.6M396.3 389.0L395.6 388.3M364.1 401.8L362.6 399.5M403.2 418.0L404.4 416.6M345.7 400.0L344.3 402.5M386.6 379.4L388.9 377.7M352.9 389.2L353.2 390.2M349.9 413.6L351.6 414.6M394.0 365.4L391.7 365.7M401.2 388.3L401.0 387.8M358.2 424.5L356.3 424.8M388.2 372.8L389.2 374.5M359.1 415.6L359.9 414.9M363.9 409.9L365.4 410.7M366.8 395.4L367.2 393.6M371.3 419.2L368.9 419.5M330.2 380.2L331.5 378.3M387.4 406.3L386.5 405.9M384.0 407.2L386.2 409.8M399.5 390.4L399.4 390.2M375.2 386.5L376.2 384.9M392.3 368.6L391.2 368.2M368.1 384.1L367.6 381.4M380.8 422.3L382.6 421.6M389.6 387.2L387.8 389.2" fill="none" stroke="#ca6cc8" stroke-width="0.7"/>
<g fill="#e6e2e6" stroke="#d48cd0" stroke-width="0.6"><ellipse cx="386.9" cy="391.4" rx="4.6" ry="3.5"/><ellipse cx="356.6" cy="417.3" rx="2.2" ry="1.9"/><ellipse cx="377.3" cy="423.2" rx="2.2" ry="2.0"/><ellipse cx="360.3" cy="402.7" rx="2.9" ry="2.2"/><ellipse cx="370.7" cy="403.9" rx="4.4" ry="3.5"/><ellipse cx="347.2" cy="388.2" rx="4.7" ry="3.6"/><ellipse cx="334.7" cy="381.7" rx="2.2" ry="1.7"/><ellipse cx="363.3" cy="420.0" rx="2.2" ry="1.8"/><ellipse cx="386.8" cy="418.7" rx="2.0" ry="1.5"/><ellipse cx="359.6" cy="392.0" rx="5.8" ry="4.6"/><ellipse cx="389.9" cy="367.6" rx="2.1" ry="2.1"/><ellipse cx="382.3" cy="401.0" rx="2.1" ry="1.6"/><ellipse cx="389.7" cy="400.5" rx="2.3" ry="2.1"/><ellipse cx="396.6" cy="366.9" rx="3.0" ry="2.5"/><ellipse cx="351.0" cy="421.8" rx="2.5" ry="2.3"/><ellipse cx="360.2" cy="364.9" rx="4.5" ry="3.6"/><ellipse cx="341.6" cy="426.1" rx="4.2" ry="3.9"/><ellipse cx="378.7" cy="367.2" rx="2.7" ry="2.1"/><ellipse cx="401.2" cy="398.4" rx="3.2" ry="2.6"/><ellipse cx="335.2" cy="392.7" rx="4.1" ry="3.3"/><ellipse cx="384.1" cy="427.1" rx="3.0" ry="2.3"/><ellipse cx="371.9" cy="376.6" rx="3.2" ry="3.0"/><ellipse cx="354.7" cy="372.7" rx="2.2" ry="2.1"/><ellipse cx="351.7" cy="405.6" rx="2.8" ry="2.1"/><ellipse cx="360.4" cy="412.2" rx="3.2" ry="3.0"/><ellipse cx="332.3" cy="404.3" rx="3.6" ry="2.8"/><ellipse cx="401.3" cy="422.9" rx="5.6" ry="4.6"/><ellipse cx="394.5" cy="415.5" rx="2.6" ry="2.2"/><ellipse cx="351.5" cy="378.7" rx="2.1" ry="1.8"/><ellipse cx="343.1" cy="402.5" rx="4.2" ry="4.2"/><ellipse cx="332.6" cy="373.5" rx="4.9" ry="3.7"/><ellipse cx="330.6" cy="420.9" rx="5.0" ry="4.8"/><ellipse cx="367.2" cy="415.3" rx="2.1" ry="2.1"/><ellipse cx="382.4" cy="410.0" rx="3.4" ry="2.8"/><ellipse cx="332.1" cy="365.0" rx="2.7" ry="2.2"/><ellipse cx="377.5" cy="416.4" rx="3.1" ry="2.7"/><ellipse cx="341.5" cy="411.1" rx="2.5" ry="2.0"/><ellipse cx="390.5" cy="409.8" rx="3.2" ry="2.4"/><ellipse cx="358.6" cy="382.0" rx="3.5" ry="3.2"/><ellipse cx="374.3" cy="392.3" rx="4.0" ry="3.5"/><ellipse cx="371.7" cy="412.1" rx="2.0" ry="1.9"/><ellipse cx="350.4" cy="427.3" rx="2.2" ry="1.9"/><ellipse cx="402.6" cy="367.1" rx="2.0" ry="1.9"/><ellipse cx="340.1" cy="417.2" rx="2.1" ry="1.9"/><ellipse cx="384.0" cy="372.3" rx="2.7" ry="2.1"/><ellipse cx="370.4" cy="384.5" rx="2.3" ry="2.1"/><ellipse cx="402.7" cy="374.9" rx="3.0" ry="2.4"/><ellipse cx="400.5" cy="384.0" rx="3.0" ry="2.7"/><ellipse cx="350.0" cy="368.6" rx="2.2" ry="2.2"/><ellipse cx="370.6" cy="364.1" rx="2.6" ry="2.2"/><ellipse cx="391.3" cy="381.8" rx="2.9" ry="2.4"/><ellipse cx="342.1" cy="379.6" rx="3.2" ry="2.8"/><ellipse cx="370.1" cy="426.7" rx="3.2" ry="2.7"/><ellipse cx="353.5" cy="398.6" rx="2.1" ry="1.9"/><ellipse cx="363.5" cy="427.4" rx="2.2" ry="1.9"/><ellipse cx="391.5" cy="426.2" rx="2.3" ry="2.1"/><ellipse cx="378.0" cy="381.3" rx="2.9" ry="2.3"/><ellipse cx="356.6" cy="423.1" rx="2.2" ry="1.8"/><ellipse cx="405.3" cy="409.4" rx="5.1" ry="5.0"/><ellipse cx="351.8" cy="412.9" rx="2.1" ry="2.0"/></g>
<filter id="n1" x="332.4" y="363.9" width="71.6" height="61.8" filterUnits="userSpaceOnUse" color-interpolation-filters="sRGB"><feTurbulence type="fractalNoise" baseFrequency="0.6" numOctaves="2" seed="10"/><feColorMatrix type="matrix" values="0 0 0 0 0.659 0 0 0 0 0.314 0 0 0 0 0.706 4.0 0 0 0 -2.4"/></filter>
<rect x="332.4" y="363.9" width="71.6" height="61.8" filter="url(#n1)"/>
</g>
<clipPath id="c4"><rect x="406.6" y="363.9" width="71.9" height="61.8"/></clipPath>
<g clip-path="url(#c4)">
<rect x="406.6" y="363.9" width="71.9" height="61.8" fill="#e8e4e8" stroke="none" stroke-width="1.0" />
<path d="M455.8 418.4L456.2 415.2M411.2 425.2L412.2 425.9M413.5 403.3L413.6 402.6M416.6 415.9L415.1 414.1M405.6 366.9L405.9 367.2M438.5 393.6L441.0 393.4M430.4 363.6L431.7 361.9M438.9 415.6L437.7 417.3M424.4 403.9L423.6 403.6M440.3 397.2L440.1 400.9M421.9 405.5L420.7 405.4M429.5 371.4L429.7 369.6M416.5 425.8L416.3 425.7M464.9 381.8L464.2 379.5M418.6 419.2L420.8 418.0M475.8 369.7L473.9 367.4M420.8 402.8L421.7 402.3M445.8 404.9L443.8 403.5M431.8 368.6L433.5 365.6M470.3 382.1L470.6 381.7M466.9 402.3L468.1 404.0M409.0 373.5L409.0 373.7M447.4 418.7L448.6 418.5M462.4 403.4L462.1 400.5M466.9 402.3L467.6 401.5M446.9 421.3L446.3 420.4M461.7 394.4L458.9 395.3M431.1 396.6L430.4 395.9M438.0 373.2L438.9 370.6M439.4 367.5L441.9 368.4M469.8 406.3L471.0 404.3M438.0 409.8L437.5 412.3M418.9 400.4L420.4 399.4M423.9 375.4L425.8 376.2M450.2 394.6L450.2 391.9M455.8 418.4L454.5 419.5M468.8 420.9L469.3 420.1M458.1 394.7L455.9 395.4M450.0 386.6L449.8 386.3M453.6 424.7L455.1 426.6M432.7 388.6L431.7 389.2M406.2 424.7L407.2 425.1M472.8 396.4L471.7 395.7M419.2 383.5L419.5 383.8M438.3 424.1L440.4 426.3M467.7 365.1L467.4 364.6M407.2 367.1L406.5 367.4M415.1 363.0L414.6 362.8M463.7 389.4L461.3 387.8M441.1 413.2L439.7 412.1M423.3 411.7L421.5 413.8M417.2 422.5L417.4 421.8M405.3 403.0L406.1 402.8M414.4 378.1L414.3 378.2M429.3 386.1L429.3 385.8M462.2 371.7L464.5 373.1M414.8 426.6L414.3 429.0M458.5 420.8L458.5 418.2M446.7 385.1L448.6 383.1M431.6 368.6L430.0 366.3M457.4 407.4L456.3 407.2M445.6 394.9L444.2 394.6M482.1 366.3L479.2 367.0M431.8 368.6L431.6 368.6M450.9 376.3L452.0 375.6M458.3 384.7L459.2 383.2M439.0 363.6L439.0 362.9M458.8 416.6L456.6 415.0M444.8 427.3L444.1 425.2M460.0 404.6L460.7 406.1M470.6 403.3L471.0 404.3M435.1 396.4L434.4 395.5M464.6 413.3L462.5 413.8M405.7 363.2L406.0 363.1M443.5 422.6L445.0 420.1M417.9 379.0L417.8 379.6M460.6 417.8L461.2 417.6M478.4 386.1L478.3 387.9M415.1 370.1L416.3 367.9M456.2 379.5L455.7 379.7M426.5 387.6L426.0 389.9M477.6 374.0L477.6 372.3M464.6 418.2L463.4 418.7M409.9 388.8L409.9 388.6M412.1 405.8L412.1 408.0M470.2 366.9L470.1 366.3M465.2 402.5L465.2 402.5M470.2 366.9L467.8 368.4M447.2 393.8L445.6 394.9M444.1 425.2L441.3 425.3M424.8 406.4L422.9 406.8M471.5 368.9L469.6 370.4M474.2 376.2L472.8 376.4M425.2 419.7L426.1 421.5M422.1 418.4L420.8 418.0M471.8 402.0L470.6 403.3M456.2 421.1L456.0 423.1M470.4 414.3L467.6 414.0M422.8 402.5L424.5 399.5M421.1 381.5L422.3 381.7M454.6 402.9L454.8 401.0M410.1 365.1L411.7 364.3M430.7 382.2L433.0 382.3M423.0 391.9L423.0 390.2M438.2 403.6L440.3 401.9M477.3 405.0L477.1 403.3M442.8 398.0L444.2 397.6M450.6 395.0L453.1 394.6M474.2 403.4L473.9 404.5M477.4 411.0L476.3 409.2M443.8 407.2L443.9 408.1M470.1 409.3L469.2 411.6M431.4 400.4L431.5 401.1M406.6 387.9L408.0 387.0M430.1 422.6L430.5 422.7M442.1 368.6L442.0 368.5M471.6 374.7L472.8 376.4M453.1 394.6L453.8 393.7M406.0 417.7L404.3 416.1M465.8 370.9L462.9 370.1M428.1 383.9L429.9 382.1M452.0 414.8L453.0 413.2M414.7 389.6L415.8 390.9M450.2 391.9L450.5 391.8M450.5 391.8L451.7 389.5M441.5 427.4L440.5 426.3M434.0 390.0L435.8 389.4M434.8 386.8L435.2 386.1M405.4 381.2L405.7 381.1M470.5 390.0L467.6 389.6M440.5 409.4L440.7 410.0M420.7 405.4L420.8 402.8M453.7 362.4L454.7 364.8M433.9 413.2L433.4 411.2M467.8 368.4L467.7 369.1M473.3 414.3L474.2 413.4M467.2 428.5L468.4 426.1M440.7 410.0L442.2 411.0M405.9 408.3L404.0 407.4M425.7 396.0L427.3 395.3M463.5 385.4L466.4 384.2M421.5 414.4L421.5 413.8M418.3 419.0L418.2 416.6M430.1 386.7L432.3 386.6M445.6 394.9L446.5 396.6M455.7 411.2L457.1 413.8M452.3 380.6L453.6 379.1M442.8 419.3L442.4 417.8M425.7 399.0L425.1 399.5M441.0 372.4L440.1 370.7M469.5 371.9L469.8 372.4M438.9 415.6L437.9 414.4M475.7 419.6L474.0 421.7M475.1 416.9L475.0 418.6M411.5 413.4L410.8 411.3M477.6 393.8L475.7 394.4M412.6 419.3L414.5 420.1M453.3 378.1L454.2 376.9M467.1 384.6L467.3 384.5M436.0 374.3L435.1 376.2M424.9 425.5L423.0 424.7M479.0 402.5L481.0 401.2M428.1 383.9L426.6 383.6M474.3 410.0L476.3 409.2M416.8 395.1L417.6 397.2M455.9 403.7L455.6 406.1M471.9 411.4L474.0 412.1M452.9 386.9L453.4 386.7M445.3 384.9L445.0 385.1M472.7 372.4L474.7 373.4M450.2 416.5L451.4 418.1M453.5 365.9L453.7 367.7M470.7 412.7L470.8 413.8M420.8 399.4L420.4 399.4M447.4 418.7L446.4 417.1M448.3 394.8L450.2 394.6M439.3 387.2L438.2 387.3M442.4 417.8L440.6 417.0M467.4 364.6L468.2 363.0M416.3 367.9L413.8 366.2M413.7 384.4L413.3 384.2M408.5 400.7L410.0 402.2M426.4 376.0L427.9 376.5M472.4 378.6L475.6 379.6M465.7 396.6L465.1 394.6M466.3 360.8L464.8 363.6M448.0 375.8L445.2 376.1M431.6 376.9L432.9 378.8M477.8 392.0L474.7 392.1M436.9 424.3L435.9 423.1M467.9 404.9L468.1 404.0M416.0 404.8L415.9 404.6M421.8 396.3L421.4 396.6M415.1 386.5L416.7 386.0M457.9 392.6L460.9 392.1M474.2 366.6L473.9 367.4M472.4 378.6L472.0 378.0M418.6 375.3L419.7 373.1M418.6 368.9L416.6 367.7M473.4 416.0L473.3 414.3M411.7 364.3L412.5 364.7M474.2 366.6L475.9 366.2M457.1 425.7L458.2 426.8M426.6 373.5L426.4 376.0M462.0 380.0L464.2 379.5M465.5 405.0L467.9 404.9M418.6 375.3L418.2 375.2M416.6 372.9L414.8 374.1M415.8 401.2L413.6 402.6M403.6 378.5L406.3 377.2M470.4 414.3L470.2 416.8M408.5 390.5L409.7 392.3M441.5 364.8L442.2 363.9M442.3 372.8L443.4 371.4M446.4 417.1L445.1 417.3M436.9 377.0L435.1 376.2M471.6 373.2L471.6 374.7M456.5 397.9L457.7 400.4M408.5 423.5L410.6 423.6M405.6 414.1L404.5 415.0M458.7 378.8L461.5 378.0M426.5 424.0L427.6 424.4M477.8 380.0L479.6 379.5M407.3 416.4L407.3 415.4M428.3 398.9L428.5 401.5M440.8 415.2L441.1 413.2M461.2 423.9L463.0 424.2M418.1 412.7L420.0 411.8M449.3 391.6L450.2 391.9M444.5 375.0L442.7 374.5M464.9 381.8L463.2 382.5M463.5 377.4L463.5 375.0M452.0 375.6L453.7 375.9M469.8 372.4L471.6 373.2M405.2 385.8L406.7 384.6M415.1 419.8L415.8 418.8M459.8 375.7L459.2 373.9M408.8 411.8L408.5 412.7M419.8 376.2L421.1 375.4M421.8 393.0L421.8 393.1M439.4 382.7L439.0 381.1M447.9 398.4L448.0 397.3M411.0 398.7L410.0 398.4M447.8 412.3L447.9 411.7M416.6 372.9L417.0 371.8M435.5 419.6L435.1 418.1M433.4 363.1L431.7 361.9M443.7 413.4L444.8 411.9M413.7 376.0L414.8 374.8M453.7 367.7L454.4 368.2M409.2 427.6L409.0 426.5M447.1 388.2L447.8 386.3M426.3 364.3L425.0 364.5M415.0 408.5L413.0 408.7M439.5 422.3L438.3 424.1M415.1 370.1L417.0 371.8M470.5 384.3L470.3 382.1M431.8 368.6L433.0 369.8M438.3 370.0L438.9 370.6M416.6 372.9L418.2 375.2M412.6 373.0L411.3 372.1M410.4 416.5L409.0 417.6M407.5 420.4L407.6 420.5M412.2 425.9L412.5 425.8M479.5 416.5L478.1 414.4M423.9 387.5L422.4 387.3M453.6 424.7L454.0 423.8M453.5 365.9L451.6 364.6M418.7 402.5L418.4 404.6M428.1 366.7L427.3 364.8M474.9 384.7L475.7 383.0M418.8 387.5L418.7 388.4M432.9 378.8L434.1 378.5M470.1 409.3L470.1 409.2M464.8 378.4L465.2 378.3M478.2 417.6L476.2 416.2M452.6 400.0L453.8 399.8M461.6 366.9L461.9 365.8M422.8 368.1L422.7 368.2M408.5 390.3L409.9 388.8M458.1 394.7L458.9 395.3M440.4 365.0L439.3 367.3M470.1 400.1L470.0 399.8M470.6 381.7L469.7 379.6M460.2 398.4L460.4 399.3M477.9 421.8L476.6 423.0M407.7 370.6L407.2 370.5M480.2 382.8L478.1 383.0M427.1 415.7L429.8 415.7M461.2 385.2L460.8 383.5M415.3 406.9L415.0 408.5M416.8 402.4L415.9 404.6M418.3 363.6L417.1 365.3M459.2 373.9L460.9 373.0M412.1 379.2L412.1 380.2M424.4 394.7L425.8 393.0M411.5 413.4L413.3 413.9M437.6 374.0L436.0 374.3M431.9 393.3L434.1 395.4M477.9 421.8L478.5 421.9M473.0 387.2L470.7 387.2M436.2 368.0L436.8 369.9M416.2 383.0L417.5 383.3M406.3 377.2L406.5 376.5M414.3 399.2L414.0 397.4M436.3 379.1L436.9 377.0M474.0 412.1L474.3 410.0M454.0 423.8L452.8 421.3M406.1 373.1L407.1 370.5M434.7 373.2L436.0 374.3M457.7 400.5L457.7 400.4M479.4 371.3L479.7 371.4M474.2 403.4L471.8 402.0M427.9 398.7L425.7 399.0M470.1 366.3L471.0 365.3M479.1 376.4L479.6 375.3M470.4 414.3L470.8 413.8M450.9 406.3L450.0 408.7M421.1 399.2L420.8 399.4M429.8 415.7L430.2 415.3M465.2 378.3L466.5 376.8M428.2 395.7L427.9 398.7M467.4 390.0L467.6 389.6M425.5 413.8L423.5 411.7M438.1 366.8L439.3 367.3M407.5 395.5L409.7 396.6M446.6 412.9L446.3 414.6M446.5 396.6L447.7 396.9M453.2 397.2L451.1 397.5M460.4 424.8L461.2 423.9M425.7 384.5L427.2 387.2M462.8 408.5L464.1 410.1M432.0 411.2L430.9 409.3M431.6 368.6L429.7 369.6M479.1 407.1L479.1 407.1M446.3 420.4L445.0 420.1M415.1 392.6L415.8 390.9M431.4 400.4L429.6 398.8M426.7 402.8L425.1 399.5M464.6 391.5L462.6 393.8M464.8 400.2L467.1 399.3M454.7 364.8L453.5 365.9M405.8 413.1L405.6 414.1M418.4 397.1L417.6 397.2M476.5 388.9L476.3 389.4M433.1 365.3L433.4 363.1M461.3 387.8L462.1 385.8M441.4 422.3L441.4 422.3M419.2 394.2L421.8 393.1M449.3 400.0L447.9 398.4M479.4 371.3L477.7 368.6M421.8 378.6L421.5 378.6M455.7 411.1L456.8 410.6M468.5 426.0L468.4 426.1M411.3 375.9L410.7 375.8M465.1 405.6L465.5 407.3M434.9 400.0L437.2 399.4M450.2 416.5L449.0 416.7M409.3 406.5L410.1 408.5M435.8 389.4L436.5 391.2M412.8 400.8L413.6 402.6M405.7 413.0L402.9 411.7M423.0 424.7L421.6 425.4M421.9 364.8L421.3 365.5M449.9 403.1L449.9 402.0M415.8 423.8L414.4 423.3M474.1 363.0L475.7 362.6M446.6 412.9L444.8 411.9M406.0 363.1L407.2 361.0M450.9 376.3L448.8 374.9M427.8 418.2L427.1 415.7M456.9 388.8L457.0 387.2M428.9 389.6L427.6 387.2M467.6 414.0L467.2 413.1M433.1 365.3L433.5 365.6M468.3 379.3L468.2 377.2M471.7 395.7L471.7 393.0M413.3 413.9L413.4 414.1M448.0 375.8L448.8 374.9M459.7 383.0L459.2 383.2M418.4 404.6L416.0 404.8M476.6 424.1L475.4 425.1M407.5 420.4L405.7 421.5M418.6 419.2L418.3 419.0M435.3 420.0L435.5 419.6M441.5 395.8L440.9 397.0M463.9 397.5L464.8 400.2M435.1 396.4L437.3 398.9M475.5 397.4L475.5 397.3M453.3 373.0L453.6 371.4M421.5 373.4L423.8 373.5M428.3 398.9L427.9 398.7M414.0 397.4L414.5 395.1M411.9 384.4L413.3 384.2M440.4 409.2L440.5 409.4M419.4 396.1L418.4 397.1M425.1 380.0L425.4 379.1M446.5 409.1L443.9 408.1M473.5 399.9L472.3 398.4M431.7 419.0L432.4 421.0M437.4 365.0L436.0 364.6M468.1 404.0L469.7 403.1M433.0 369.8L433.1 370.2M441.5 395.8L444.1 394.8M478.3 399.3L478.5 396.5M439.1 380.8L438.7 380.0M433.8 407.6L436.6 408.1M465.9 410.3L467.4 410.1M475.5 387.3L476.5 388.9M414.8 374.1L414.8 374.8M423.2 416.2L425.1 417.1M448.7 423.1L448.8 424.5M405.7 421.5L405.3 423.4M407.7 370.6L409.0 373.5M405.9 418.2L403.9 418.9M473.2 426.5L475.5 427.3M441.8 380.1L442.5 378.3M425.7 399.0L425.7 396.0M460.4 399.3L457.7 400.4M469.3 420.1L472.1 420.1M467.4 380.1L465.2 378.3M423.3 411.7L421.6 410.3M421.6 410.3L420.2 411.2M447.1 370.5L447.0 370.3M476.7 414.6L474.2 413.4M447.2 393.8L448.3 394.8M453.3 397.1L453.1 394.6M439.4 367.5L438.3 370.0M450.0 420.4L446.9 421.3M447.4 418.7L446.3 420.4M475.6 405.9L473.9 404.5M413.2 391.9L415.0 392.6M444.3 402.3L443.9 400.9M434.5 413.4L435.5 415.2M406.5 367.4L407.2 370.5M436.0 388.7L434.8 386.8M425.5 407.9L424.4 409.2M435.6 426.8L434.7 426.6M427.1 403.0L427.4 405.4M425.1 380.1L427.1 381.5M441.2 389.1L442.2 388.4M470.6 398.7L469.5 396.3M454.5 393.8L453.8 393.7M411.9 379.0L412.1 379.2M426.7 402.8L424.4 403.9M433.5 375.5L435.1 376.2M416.7 386.0L417.5 383.3M478.1 414.4L480.2 413.3M471.7 428.1L473.2 426.5M417.4 415.9L418.2 416.6M454.5 393.8L456.7 391.9M436.4 426.2L436.9 424.3M412.2 390.5L409.9 388.8M417.3 366.4L419.8 366.5M447.4 401.8L446.9 402.3M457.9 370.4L457.1 369.5M447.0 404.2L445.8 404.9M405.2 364.0L405.6 366.9M422.9 406.8L422.2 408.5M419.6 406.0L419.3 407.1M469.8 385.2L467.3 384.5M469.9 406.4L469.8 406.3M479.1 407.1L478.7 406.0M440.4 426.3L440.5 426.3M444.3 402.3L443.8 403.5M452.8 406.3L453.5 409.4M480.8 363.6L479.5 364.1M430.9 364.9L430.0 366.3M453.9 371.2L453.6 371.4M438.2 384.3L435.8 383.0M427.7 408.0L428.4 406.4M451.7 389.5L451.7 389.5M409.3 381.6L410.7 381.6M464.7 413.1L463.5 411.4M477.2 411.3L477.4 411.0M421.3 365.5L420.6 365.6M428.3 378.7L428.0 381.0M424.9 391.9L425.8 393.0M452.9 386.9L451.7 389.5M474.4 403.2L477.1 403.3M443.7 413.4L442.1 412.6M412.1 379.2L414.3 378.2M464.6 391.5L464.6 390.6M442.2 363.9L443.3 363.7M426.5 424.0L425.9 422.2M440.5 409.4L443.9 408.1M478.2 418.3L478.2 417.6M419.4 396.1L421.4 396.6M436.2 422.2L438.3 421.0M465.5 407.3L465.9 407.6M404.6 362.1L405.7 363.2M419.8 424.6L421.6 425.4M468.0 408.9L467.4 410.1M453.7 375.9L454.7 374.4M415.0 408.5L415.1 408.6M438.1 366.8L436.2 368.0M454.2 376.9L455.8 377.2M448.6 382.9L448.6 383.1M429.2 418.8L427.8 418.2M446.4 409.9L444.7 411.5M426.7 402.8L427.1 403.0M457.3 424.4L458.4 423.9M449.3 400.0L450.9 398.6M418.5 409.4L416.8 412.0M477.3 400.5L477.7 399.6M433.3 373.9L433.5 375.5M461.3 372.1L459.6 369.9M429.7 392.6L429.0 392.8M423.0 390.2L424.2 389.4M406.2 428.4L407.2 425.2M479.0 364.9L479.2 367.0M437.9 414.4L435.5 415.2M478.1 414.4L477.2 414.2M453.3 409.5L452.0 411.6M450.9 411.7L449.8 413.7M475.6 405.9L477.3 405.0M459.3 421.4L460.8 421.4M459.7 389.3L461.0 391.1M408.8 419.2L412.0 419.2M427.1 428.0L428.6 425.9M433.1 370.2L431.3 372.7M434.1 378.5L436.0 379.3M421.4 371.2L423.7 370.9M473.0 387.2L473.3 385.2M449.9 388.3L451.7 389.5M467.2 380.7L468.5 382.1M430.4 363.6L429.3 363.3M419.9 390.8L419.9 389.6M410.1 408.5L409.9 408.9M405.9 408.3L406.9 408.0M429.5 371.4L427.0 371.1M427.8 418.2L425.5 419.3M452.8 421.3L454.4 419.5M478.0 367.7L479.2 367.0M413.2 391.9L412.5 390.5M470.2 386.9L467.6 388.2M430.9 384.2L430.7 382.2M406.3 391.6L404.9 390.8M422.1 418.4L423.2 416.2M414.3 399.2L416.0 400.6M418.0 392.0L417.7 393.2M451.3 424.7L451.0 421.7M424.0 370.1L423.7 370.9M443.6 392.5L445.2 391.3M436.0 364.6L435.7 362.4M418.7 388.4L417.7 388.9M444.9 378.0L445.2 376.1M445.2 376.1L444.5 375.0M425.1 380.0L422.9 380.1M473.1 371.0L471.8 368.9M475.7 394.4L474.6 393.8M445.6 367.3L445.2 368.5M428.8 411.0L429.8 412.9M466.7 387.3L467.6 388.2M419.6 406.0L418.4 404.6M415.3 406.9L412.4 405.5M416.6 367.7L416.3 367.9M465.3 421.3L466.2 420.0M463.0 405.4L462.4 406.2M409.0 376.9L409.3 378.9M472.5 421.1L472.1 420.1M438.2 384.3L438.6 384.1M472.4 419.0L471.5 417.2M453.8 413.2L455.7 411.2M469.0 422.1L468.0 423.5M451.9 384.0L452.2 384.1M439.3 377.3L438.7 380.0M439.9 419.1L438.3 419.5M426.4 376.0L425.8 376.2M424.4 394.7L421.9 393.3M447.5 415.6L446.4 417.1M467.2 380.7L465.3 382.0M447.4 425.4L445.9 423.6M457.1 425.7L455.1 426.6M432.1 428.4L434.7 426.6M467.4 398.8L467.3 397.1M476.6 379.1L476.2 379.2M416.6 415.9L417.4 415.9M443.8 403.5L443.0 403.9M438.3 421.0L439.5 422.3M439.5 397.0L440.3 397.2M435.0 394.5L434.4 395.5M442.1 377.8L442.7 374.5M423.0 391.9L424.9 391.9M434.4 395.5L434.1 395.4M424.5 382.1L425.1 380.1M451.0 421.7L452.8 421.3M446.2 373.1L448.3 374.2M419.7 424.2L420.4 422.6M472.3 398.4L472.8 396.4M409.0 426.5L407.2 425.2M409.7 405.9L409.1 404.0M460.3 364.9L458.8 365.6M432.2 384.8L433.3 384.1M438.7 380.0L436.3 379.1M464.1 410.1L463.5 411.4M411.3 375.9L411.9 379.0M422.9 377.6L423.0 376.1M409.1 404.0L407.1 403.9M459.2 413.0L457.1 413.8M454.2 400.0L454.8 401.0M442.9 381.6L441.8 380.1M421.7 384.8L422.5 384.3M460.0 388.4L458.7 386.6M442.0 368.5L441.9 368.4M447.3 393.4L449.3 391.6M474.8 400.8L473.9 399.9M468.2 377.2L469.0 376.7M431.5 401.1L431.1 401.6M438.3 419.5L438.2 419.6M421.1 399.2L421.4 396.6M452.0 405.7L450.9 406.3M424.2 399.3L421.1 399.2M473.3 385.2L472.7 384.4M409.4 414.4L407.3 415.4M450.0 386.6L452.9 386.9M443.8 407.1L443.0 403.9M450.5 371.0L451.0 370.2M403.1 397.8L406.1 397.7M421.5 413.8L420.0 411.8M470.3 382.1L468.5 382.1M445.6 367.3L444.5 365.8M458.9 395.3L458.8 397.1M408.5 412.7L405.8 413.1M434.2 398.9L434.9 400.0M432.8 413.9L433.1 415.8M453.2 397.2L453.8 399.8M421.9 405.5L423.6 403.6M411.9 379.0L409.3 378.9M473.4 365.3L474.1 363.0M448.7 423.1L447.0 422.1M462.2 371.7L462.9 370.1M441.1 413.2L442.1 412.6M461.2 417.6L462.2 415.8M432.2 418.3L435.1 418.1M430.9 409.3L433.4 408.7M423.5 411.7L423.3 411.7M416.5 376.4L416.3 377.3M422.3 381.7L422.9 380.1M476.3 389.4L478.2 391.5M455.7 411.2L455.7 411.1M429.3 378.8L430.8 380.5M467.4 374.3L468.4 374.3M452.3 380.6L453.7 382.0M448.5 379.2L447.9 379.0M462.1 395.9L461.7 394.4M462.9 426.5L461.2 426.7M442.2 363.9L440.5 361.8M461.3 399.8L463.9 397.5M464.6 400.6L464.8 400.2M419.5 383.8L421.7 384.8M408.1 393.8L407.5 395.5M417.9 393.6L419.2 394.2M469.9 406.4L470.1 409.2M423.0 376.1L421.1 375.4M450.6 396.8L450.6 395.0M441.3 425.3L440.5 426.3M478.0 402.3L479.0 402.5M454.7 374.4L456.2 374.3M453.3 392.7L450.5 391.8M420.7 405.4L419.6 406.0M446.4 364.3L448.0 367.0M460.1 414.7L459.6 413.2M453.3 378.1L453.6 379.1M473.3 381.9L472.3 381.3M470.5 390.0L471.2 390.7M423.0 390.2L421.6 389.0M440.1 400.9L437.7 400.2M437.8 412.6L439.7 412.1M412.7 403.8L410.1 402.9M468.0 417.0L465.9 418.9M479.2 367.0L479.2 367.0M435.5 417.3L435.1 418.1M463.4 418.7L462.4 421.0M420.8 414.7L418.6 414.2M421.9 393.3L421.8 393.1M476.3 386.0L478.0 385.7M456.0 372.2L453.9 371.2M416.3 425.7L415.8 423.8M463.2 382.5L462.7 382.3M453.3 373.0L454.7 374.4M440.4 406.1L438.2 403.6M443.8 407.2L440.4 406.4M440.1 370.7L442.0 368.5M430.5 388.7L431.7 389.2M469.5 426.2L468.5 426.0M413.5 397.4L410.9 395.2M421.8 408.6L422.2 408.5M474.0 412.1L474.2 412.2M430.9 364.9L433.1 365.3M409.3 406.5L409.7 405.9M458.8 397.1L460.2 398.4M438.0 391.7L436.5 391.2M424.1 361.9L425.0 364.5M452.0 425.1L452.0 427.8M441.5 364.8L440.4 365.0M460.2 409.7L457.7 408.4M440.1 400.9L440.4 401.2M419.8 368.2L418.6 368.9M463.5 385.4L463.2 382.5M413.1 372.9L412.6 373.0M454.9 389.8L455.4 389.9M424.7 384.9L424.2 387.3M438.5 393.6L438.7 396.0M419.6 420.9L422.6 419.6M457.3 381.9L457.5 379.9M472.3 381.3L472.4 378.6M464.6 418.2L465.9 418.9M424.5 382.1L426.1 383.8M405.7 381.1L407.1 379.2M455.8 377.2L456.6 376.2M415.8 423.8L417.2 422.5M480.3 420.4L478.5 421.9M453.3 409.5L450.0 408.7M426.0 389.9L427.3 390.5M440.9 389.9L441.2 389.1M416.8 412.1L418.1 412.7M430.8 380.5L432.9 379.0M461.2 385.2L458.9 385.9M410.1 402.9L410.0 402.2M430.8 393.5L430.4 395.9M473.3 381.9L474.5 381.7M412.8 400.8L414.3 399.2M443.9 408.1L443.9 408.1M476.3 408.3L476.3 409.2M410.9 395.2L410.9 394.3M470.6 381.7L472.3 381.3M436.0 388.7L437.5 388.4M454.4 419.5L454.5 419.5M463.7 389.7L464.6 390.6M437.4 365.0L439.0 363.6M440.3 397.2L440.9 397.0M448.0 389.9L448.0 389.7M479.1 407.1L479.5 410.8M409.8 398.0L409.7 396.6M423.3 396.7L424.6 395.5M451.0 370.2L450.9 369.6M419.2 383.5L421.1 381.5M420.8 418.0L420.0 416.5M447.4 401.8L445.8 399.5M459.8 367.6L459.8 369.5M479.2 367.0L481.0 369.0M433.9 413.2L432.8 413.9M448.6 405.5L447.5 407.4M410.4 416.5L409.5 414.4M428.6 425.9L429.2 426.1M445.4 381.7L445.3 384.9M407.2 425.2L407.2 425.1M463.7 389.4L463.7 389.7M442.2 392.1L443.6 392.5M471.7 409.5L472.6 408.8M460.9 399.7L459.9 402.3M430.6 407.0L429.9 406.2M423.0 415.5L425.5 413.8M430.6 409.1L430.6 407.0M439.0 363.6L440.4 365.0M451.3 424.7L450.2 425.1M435.5 415.2L435.1 416.0M428.2 378.7L428.3 378.7M429.6 398.8L428.3 398.9M431.3 372.7L431.5 372.9M464.6 418.2L464.3 416.2M436.2 422.2L435.9 423.1M442.9 381.6L442.1 383.4M410.0 368.2L410.7 367.8M471.5 368.9L471.8 368.9M474.3 392.9L474.7 392.1M433.4 404.6L431.0 403.9M445.0 381.5L445.4 381.7M478.5 394.8L480.7 394.0M431.5 372.9L430.8 376.0M415.6 417.4L416.6 415.9M432.4 399.0L434.2 398.9M437.5 388.4L438.2 387.3M409.7 392.3L412.2 390.5M425.7 384.5L424.7 384.9M411.2 425.2L410.6 423.6M406.3 400.3L403.1 400.3M431.5 428.2L432.0 425.0M475.7 383.0L478.0 383.1M431.6 390.8L430.0 391.4M411.4 375.8L412.6 373.0M467.2 393.2L466.3 393.3M469.7 403.1L470.6 403.3M459.7 389.3L458.8 389.6M446.1 373.1L446.2 373.1M471.9 411.4L471.7 409.5M414.8 426.6L412.5 425.8M458.7 386.6L458.9 385.9M413.2 389.7L412.9 387.8M424.8 406.4L425.1 406.6M472.9 407.8L475.6 407.5M406.6 388.4L408.5 390.3M423.5 411.7L424.5 410.4M408.7 379.3L409.3 378.9M408.0 387.0L409.9 388.6M463.0 363.0L464.8 363.6M468.3 379.3L469.7 379.6M444.0 415.0L443.7 413.4M437.2 407.0L440.0 407.1M424.7 384.9L422.5 384.3M459.2 383.2L457.3 381.9M417.1 365.3L415.5 364.7M462.4 403.4L462.4 403.4M458.1 406.8L457.4 407.4M450.2 425.1L448.8 424.5M426.0 372.8L424.5 372.7M430.7 382.2L430.5 382.0M442.5 367.0L441.9 368.4M424.2 399.3L424.5 399.5M479.6 375.3L477.6 374.0M462.7 408.4L462.8 408.5M418.3 362.9L418.3 363.6M434.7 426.6L433.3 424.9M473.5 424.0L475.4 425.1M462.4 403.4L463.0 405.4M471.8 401.2L471.8 402.0M462.4 403.4L465.2 402.5M456.9 388.8L455.4 389.9M477.7 368.6L478.0 367.7M469.2 411.6L470.7 412.7M416.8 412.1L416.8 412.0M439.1 427.2L436.4 426.2M473.9 399.9L475.5 397.4M405.6 366.9L402.8 366.4M466.0 412.7L467.2 413.1M460.9 399.7L460.4 399.3M451.4 401.8L449.9 402.0M467.3 384.5L468.5 382.1M472.5 424.6L473.2 426.5M474.0 421.7L472.5 421.1M411.9 384.4L410.7 381.6M450.6 395.0L450.2 394.6M421.7 402.3L422.8 402.5M439.9 385.6L442.5 385.5M435.4 381.8L433.8 381.6M405.7 363.2L405.2 364.0M472.8 396.4L473.2 396.3M467.7 365.1L467.0 367.2M440.8 415.2L443.8 415.3M457.7 408.4L456.8 410.6M446.1 373.1L443.7 371.4M436.0 379.3L435.4 381.8M456.4 397.9L456.5 397.9M468.5 411.6L467.4 410.1M437.1 385.8L438.2 387.3M407.6 374.3L409.0 373.7M461.3 387.8L460.0 388.4M458.8 365.6L458.5 366.7M434.4 365.8L435.3 367.7M427.1 428.0L425.0 425.5M475.0 418.6L472.4 419.0M426.5 387.6L427.2 387.2M479.1 376.4L480.1 377.9M427.6 387.2L427.2 387.2M407.2 367.1L408.7 364.8M428.9 389.6L427.3 390.5M449.3 400.0L449.2 401.3M479.9 404.0L479.0 402.5M452.2 384.1L453.7 382.0M406.6 405.7L407.1 403.9M406.7 384.6L404.8 382.0M414.8 374.8L416.5 376.4M447.9 415.6L447.5 415.6M412.7 403.8L413.5 403.3M411.7 400.5L411.0 398.7M456.9 388.8L458.8 389.6M470.1 366.3L467.7 365.1M430.8 380.5L430.5 382.0M470.2 366.9L471.5 368.9M431.0 403.9L430.5 404.2M474.4 403.2L474.8 400.8M414.4 378.1L413.7 376.0M468.8 420.9L466.2 420.0M435.1 416.0L435.5 417.3M438.3 393.3L438.5 393.6M467.4 407.7L465.9 407.6M469.5 371.9L466.0 371.8M471.6 374.7L469.2 375.8M439.5 397.0L437.3 398.9M446.7 363.8L446.4 364.3M478.7 406.0L479.9 404.0M460.8 403.5L462.4 403.4M407.2 370.5L407.1 370.5M423.8 373.5L424.5 372.7M407.9 420.3L408.8 419.2M480.0 389.8L478.3 387.9M448.0 389.9L449.3 391.6M462.0 411.6L461.6 412.6M415.1 414.1L416.8 412.1M443.9 362.1L443.3 363.7M429.0 392.8L428.0 395.5M451.0 370.2L453.6 371.4M438.3 393.3L435.0 394.5M432.4 421.0L432.6 421.1M417.8 379.6L415.7 380.4M442.8 419.3L441.6 420.2M444.5 365.8L442.5 367.0M433.6 391.5L434.0 390.0M460.8 383.5L462.7 382.3M429.6 409.6L428.8 411.0M446.7 363.8L448.5 363.6M478.2 425.3L477.8 427.5M418.8 402.5L418.9 400.4M475.6 405.9L475.6 407.5M434.1 410.5L435.2 410.5M468.6 406.1L469.8 406.3M452.3 373.5L453.3 373.0M430.4 413.2L429.8 412.9M451.1 397.5L450.9 398.6M462.4 406.2L462.7 408.4M432.0 425.0L431.2 424.5M423.0 376.1L423.9 375.4M474.4 390.4L474.7 392.1M450.0 386.6L449.9 388.3M430.9 384.2L432.2 384.8M450.9 398.6L452.6 400.0M421.8 393.0L419.9 390.8M427.6 424.4L430.1 422.6M459.7 383.0L460.1 380.8M417.0 390.7L415.8 390.9M439.1 390.4L440.9 389.9M438.0 373.2L438.1 373.5M418.8 402.5L420.8 402.8M445.0 381.5L444.6 378.2M468.5 411.6L467.2 413.1M436.5 412.1L435.2 410.5M459.2 413.0L459.6 413.2M418.3 362.9L420.1 362.2M446.4 409.9L446.5 409.1M453.7 367.7L452.1 368.1M421.2 373.0L421.5 373.4M408.5 382.4L409.3 381.6M479.5 364.1L478.4 362.5M472.6 408.8L474.3 410.0M467.6 389.6L467.6 388.2M476.0 375.2L475.2 375.1M473.9 404.5L473.2 405.0M413.2 389.7L412.5 390.5M422.8 402.5L423.6 403.6M460.4 424.8L460.4 426.0M417.3 361.9L415.1 363.0M427.1 415.7L426.9 415.6M461.5 377.9L461.5 378.0M418.0 392.0L417.0 390.7M409.7 393.2L408.1 393.8M469.5 396.3L471.7 395.7M443.4 371.4L442.1 368.6M477.8 392.0L477.6 393.8M417.9 379.0L416.3 377.3M458.5 420.8L459.3 421.4M442.2 388.4L444.4 388.8M418.6 370.9L420.9 370.7M464.6 367.8L462.7 368.7M472.6 407.1L472.9 407.8M464.9 367.2L464.6 367.8M471.7 393.0L471.0 392.5M427.1 381.5L428.0 381.0M448.0 367.0L445.6 367.3M408.5 384.8L410.9 385.1M432.3 416.7L430.2 415.3M412.2 419.4L411.2 421.8M445.7 399.4L443.9 400.9M406.1 397.7L406.2 398.0M456.5 361.3L457.4 363.0M414.4 378.1L416.3 377.3M433.4 404.6L433.7 405.4M418.6 375.3L419.8 376.2M448.0 389.7L449.9 388.3M479.0 364.9L479.5 364.1M429.0 375.7L430.8 376.0M445.8 369.9L445.2 368.5M476.5 419.8L478.2 418.3M461.2 421.1L462.4 421.0M464.2 379.5L464.8 378.4M457.8 370.7L459.2 373.9M419.3 407.1L415.7 406.5M468.5 394.8L471.0 392.5M433.3 424.9L434.3 423.2M430.4 413.2L430.5 413.5M445.3 391.3L448.0 389.9M471.7 393.0L474.3 392.9M470.1 409.3L468.0 408.9M413.3 384.2L413.4 381.3M405.8 413.1L405.7 413.0M478.2 391.5L477.8 392.0M459.0 411.2L459.2 413.0M450.0 362.5L451.6 364.1M408.8 411.8L410.8 411.3M470.9 422.7L471.7 424.5M467.0 367.2L467.8 368.4M406.6 405.7L407.3 406.9M447.9 411.7L446.4 409.9M476.6 423.0L476.6 424.1M448.0 397.3L450.6 396.8M447.6 408.1L446.5 409.1M455.9 365.0L457.3 363.7M413.5 397.4L414.0 397.4M434.5 402.0L436.4 402.6M412.7 403.8L412.4 405.5M424.7 366.8L424.7 364.9M427.2 402.9L430.5 404.2M460.6 417.8L461.2 421.1M436.3 379.1L436.0 379.3M440.7 410.0L439.7 412.1M433.4 406.6L433.7 405.4M428.6 373.7L430.0 372.3M453.4 403.3L454.6 402.9M422.7 368.2L424.0 370.1M469.5 426.2L471.0 428.2M463.5 423.9L462.7 421.3M456.2 386.6L456.3 384.4M466.5 376.8L468.2 377.2M473.5 399.9L473.9 399.9M409.3 381.6L408.7 379.3M462.6 369.2L462.7 368.7M458.5 418.2L455.8 418.4M475.5 397.4L473.2 396.3M465.2 402.5L466.9 402.3M475.7 419.6L476.5 419.8M472.8 376.4L472.0 378.0M414.5 420.1L415.1 419.8M426.9 411.0L426.8 408.4M436.6 408.1L437.2 407.0M451.6 364.6L450.5 365.8M465.3 382.0L466.4 384.2M452.0 414.8L451.3 414.9M469.1 401.6L469.7 403.1M418.4 383.1L417.5 383.3M425.1 378.4L425.8 376.2M425.6 369.5L426.7 370.0M428.2 378.7L427.9 376.5M412.5 425.8L414.4 423.3M450.9 421.6L451.0 421.7M422.9 382.5L424.5 382.1M477.2 411.3L477.2 414.2M429.3 386.1L430.1 386.7M476.3 386.0L475.5 387.3M448.7 371.6L448.3 374.2M421.7 386.3L422.4 387.3M465.5 425.7L468.4 426.1M412.0 393.9L413.2 391.9M474.7 373.4L476.4 371.9M467.9 404.9L468.6 406.1M431.7 389.2L431.6 390.8M430.6 407.0L433.4 406.6M448.6 383.1L450.2 384.9M429.2 418.8L428.5 420.9M409.4 370.1L411.1 371.3M463.5 423.9L463.0 424.2M473.2 387.5L475.5 387.3M406.6 400.8L406.1 402.8M425.4 379.1L428.2 378.7M404.5 370.7L407.1 370.5M436.5 412.1L437.5 412.3M448.5 379.2L449.8 381.7M437.7 400.2L437.2 399.4M450.2 384.9L449.8 386.3M439.1 390.4L438.0 391.7M438.1 366.8L437.4 365.0M446.7 385.1L447.8 386.3M443.8 407.1L443.8 407.2M417.7 388.9L415.7 388.4M425.0 425.5L424.9 425.5M429.5 371.4L430.0 372.3M470.7 387.2L470.5 390.0M471.2 390.7L470.9 392.1M439.9 385.6L438.6 384.1M471.0 365.3L470.4 362.6M478.2 417.6L479.5 416.5M474.2 422.2L473.5 424.0M422.9 380.1L421.8 378.6M444.7 411.5L443.6 410.6M418.8 387.5L421.7 386.3M423.3 396.7L424.2 399.3M426.9 411.0L426.0 413.9M422.7 368.2L421.2 369.0M441.4 422.3L441.6 420.2M440.4 406.4L440.0 407.1M434.7 373.2L433.3 373.9M460.7 406.1L462.4 406.2M479.1 376.4L477.6 377.0M477.8 380.0L478.1 383.0M427.3 364.8L426.3 364.3M434.4 365.8L436.0 364.6M453.3 385.3L452.2 384.1M467.3 397.1L468.6 396.0M408.5 382.4L408.5 384.7M414.0 397.4L417.1 397.7M412.8 400.8L411.7 400.5M435.5 419.6L438.2 419.6M440.4 401.2L440.3 401.9M478.2 418.3L480.3 419.9M417.6 397.2L417.1 397.7M416.5 425.8L419.1 425.4M458.6 377.2L458.7 378.8M462.1 395.9L463.9 397.5M440.6 417.0L439.9 419.1M406.3 391.6L408.5 390.5M467.4 407.7L468.6 406.1M437.5 412.3L437.8 412.6M436.8 369.9L435.7 371.2M415.5 364.7L415.1 363.0M459.1 417.5L458.8 416.6M466.7 387.3L467.1 384.6M465.5 407.3L462.8 408.5M458.4 423.9L460.4 424.8M442.4 417.8L443.9 416.0M469.7 379.6L471.3 378.1M444.4 388.8L445.3 388.0M468.2 363.0L470.4 362.6M415.7 388.4L414.7 389.6M418.2 375.2L416.5 376.4M410.9 385.1L411.2 387.1M446.4 381.5L448.6 382.9M415.1 419.8L417.4 421.8M477.2 411.3L474.2 412.2M461.6 412.6L459.6 413.2M437.3 398.9L437.2 399.4M422.9 377.6L425.1 378.4M440.9 389.9L442.2 392.1M467.9 391.7L470.9 392.1M446.1 373.1L447.1 370.5M434.7 392.4L436.5 391.2M409.7 392.3L409.7 393.2M431.2 424.5L430.5 422.7M459.8 375.7L458.6 377.2M453.3 385.3L455.8 383.8M442.3 372.8L441.0 372.4M445.3 388.0L447.1 388.2M459.6 369.9L457.9 370.4M408.5 382.4L405.7 381.1M460.3 364.9L460.1 362.8M419.7 424.2L419.8 424.6M460.8 403.5L460.0 404.6M434.5 402.0L434.5 401.9M420.9 370.7L421.4 371.2M418.4 380.2L417.8 379.6M452.0 375.6L452.3 373.5M460.1 380.8L458.4 379.5M464.0 374.7L466.2 375.8M410.9 385.1L411.9 384.4M415.1 392.6L415.0 392.6M419.4 407.5L418.5 409.0M442.9 400.4L440.4 401.2M429.5 418.6L429.2 418.8M408.5 423.5L407.2 425.1M412.2 410.5L413.5 411.6M443.0 403.9L442.0 403.8M436.4 402.6L437.7 400.2M457.1 413.8L456.6 415.0M450.9 376.3L451.0 377.5M451.4 401.8L452.6 400.0M449.2 401.3L449.9 402.0M464.9 367.2L464.5 366.1M435.2 410.5L436.7 408.6M471.7 424.5L472.5 424.6M433.2 387.3L432.3 386.6M415.3 410.5L416.8 412.0M439.3 377.3L437.6 376.7M459.8 375.7L460.9 376.2M453.8 390.3L453.3 392.7M453.8 390.3L451.7 389.5M420.2 411.2L420.0 411.8M452.0 411.6L450.9 411.7M413.5 397.4L411.0 398.7M439.3 387.2L439.9 385.6M464.1 427.3L462.9 426.5M465.5 425.7L464.1 427.3M412.5 364.7L414.6 362.8M432.8 391.7L431.6 390.8M410.7 375.8L409.0 373.7M447.9 398.4L445.8 399.5M478.6 391.4L478.2 391.5M428.1 366.7L428.0 367.1M441.4 422.3L441.3 425.3M418.6 387.1L416.7 386.0M458.8 416.6L460.1 414.7M418.2 371.4L419.7 373.1M413.3 413.9L413.5 411.6M423.2 416.2L423.0 415.5M471.9 411.4L470.7 412.7M474.7 373.4L475.2 375.1M442.2 388.4L442.5 385.5M475.6 370.1L476.4 371.9M470.7 387.2L470.2 386.9M424.2 387.3L423.9 387.5M448.6 382.9L449.8 381.7M459.1 417.5L460.6 417.8M429.0 389.7L430.0 391.4M405.1 387.0L406.6 387.9M422.6 419.6L425.2 419.7M464.0 374.7L464.5 373.1M463.0 424.2L462.9 426.5M410.8 416.6L410.4 416.5M420.0 416.5L420.8 414.7M463.5 375.0L464.0 374.7M428.2 368.6L426.7 370.0M470.2 386.9L469.8 385.2M449.8 413.7L449.2 413.8M430.9 364.9L430.4 363.6M456.3 366.4L457.9 367.0M448.8 374.9L448.8 374.8M474.2 376.2L476.2 379.2M412.4 405.5L412.1 405.8M463.5 377.4L461.5 377.9M408.8 411.8L407.9 410.4M429.5 418.6L429.8 415.7M472.1 420.1L472.4 419.0M406.9 408.0L408.2 409.5M406.2 411.0L405.7 413.0M423.8 373.5L423.9 375.4M464.7 413.1L464.6 413.3M474.5 381.7L475.6 379.6M441.2 389.1L439.3 387.2M468.6 396.0L469.5 396.3M433.3 384.1L433.0 382.3M462.0 411.6L460.6 409.6M477.7 399.6L475.5 397.3M442.5 378.3L442.1 377.8M418.7 402.5L418.8 402.5M418.8 420.6L417.4 421.8M458.7 386.6L457.0 387.2M449.0 416.7L447.9 415.6M434.2 398.9L435.1 396.4M450.0 420.4L450.9 421.6M406.0 363.1L408.3 364.1M462.6 393.8L465.1 394.6M469.0 422.1L468.8 420.9M432.3 386.6L432.2 384.8M418.3 363.6L420.6 365.6M444.6 378.2L444.9 378.0M437.1 385.8L438.2 384.3M406.5 376.5L406.9 376.3M449.9 419.6L448.6 418.5M431.1 401.6L431.0 403.9M420.4 422.6L422.5 422.3M462.7 421.3L462.4 421.0M414.1 422.8L414.4 423.3M414.6 386.2L413.7 384.4M479.8 424.2L478.2 425.3M455.6 406.1L456.3 407.2M440.1 370.7L438.9 370.6" fill="none" stroke="#d894d4" stroke-width="0.8"/>
<path d="M445.8 399.5L445.7 399.4M416.2 383.0L415.4 381.0M441.5 364.8L442.5 367.0M439.4 382.7L438.6 384.1M451.3 414.9L450.2 416.5M443.6 410.6L442.2 411.0M466.2 420.0L465.9 418.9M455.8 383.4L457.3 381.9M442.5 385.5L442.7 385.2M419.4 407.5L419.3 407.1M442.3 372.8L442.7 374.5M458.5 420.8L456.2 421.1M440.0 375.2L439.6 377.2M476.3 386.0L474.9 384.7M415.9 404.6L413.5 403.3M409.8 398.0L406.2 398.0M414.9 370.1L413.1 372.9M434.5 413.4L436.5 412.1M471.0 365.3L473.4 365.3M418.4 380.2L420.4 380.1M407.9 410.4L408.2 409.5M475.1 416.9L473.4 416.0M405.2 373.3L406.1 373.1M443.9 416.0L443.8 415.3M416.0 400.6L417.1 399.8M422.9 382.5L422.3 381.7M447.5 407.4L447.6 408.1M412.0 393.9L414.5 395.1M415.7 380.4L415.4 381.0M427.0 371.1L426.0 372.8M430.8 393.5L429.7 392.6M435.1 376.2L435.1 376.2M461.9 365.8L460.3 364.9M469.5 371.9L469.6 370.4M405.9 408.3L405.4 410.1M420.1 362.2L421.7 363.3M465.9 407.6L465.6 410.0M439.5 422.3L441.4 422.3M414.3 378.2L415.7 380.4M435.1 371.3L435.7 371.2M424.4 403.9L424.8 406.4M431.5 376.9L431.6 376.9M447.1 370.5L448.7 371.6M455.7 396.9L456.4 397.9M419.1 425.4L419.4 427.6M472.6 408.8L472.9 407.8M475.6 407.5L476.3 408.3M445.2 391.3L444.4 388.8M458.2 426.8L460.4 426.0M448.3 374.2L448.8 374.8M469.8 372.4L468.4 374.3M448.6 405.5L450.9 406.3M422.9 422.7L422.5 422.3M435.6 382.1L435.4 381.8M436.7 405.3L437.2 407.0M476.2 396.5L475.7 394.4M461.3 399.8L462.1 400.5M444.6 365.1L444.5 365.8M439.1 380.8L439.0 381.1M450.9 411.7L449.6 410.6M479.8 399.3L478.3 399.3M477.6 377.0L476.0 375.2M429.9 406.2L430.5 404.2M405.9 418.2L406.0 417.7M416.8 395.1L414.6 395.0M431.6 396.7L434.1 395.4M472.5 424.6L473.5 424.0M474.5 381.7L475.7 383.0M464.6 413.3L464.8 415.7M479.1 407.1L476.3 408.3M410.1 365.1L410.7 367.8M463.4 418.7L461.2 417.6M422.9 377.6L421.8 378.6M457.4 363.0L457.3 363.7M453.4 403.3L452.1 405.7M414.0 397.4L414.0 397.4M472.7 372.4L471.6 373.2M438.7 396.0L439.5 397.0M449.2 413.8L447.8 412.3M436.9 424.3L438.3 424.1M452.0 425.1L451.3 424.7M418.6 368.9L418.6 370.9M467.4 390.0L467.9 391.7M407.6 420.5L408.5 423.5M430.2 415.3L430.5 413.5M469.2 375.8L469.0 376.7M475.6 370.1L475.8 369.7M408.7 364.8L408.3 364.1M432.9 379.0L432.9 378.8M415.8 418.8L418.3 419.0M418.0 392.0L419.9 390.8M454.8 401.0L457.7 400.5M447.8 386.3L449.8 386.3M406.2 411.0L407.9 410.4M431.6 396.7L431.1 396.6M444.1 394.8L444.2 397.6M467.7 369.1L469.6 370.4M419.8 368.2L421.2 369.0M428.9 389.6L429.0 389.7M453.5 409.4L453.3 409.5M448.0 367.0L448.3 367.1M464.9 423.9L463.5 423.9M437.7 417.3L438.3 419.5M446.2 362.6L446.7 363.8M408.8 419.2L409.0 417.6M409.9 408.9L411.0 410.9M467.7 369.1L466.1 370.1M447.0 404.2L446.9 402.3M415.1 408.6L418.5 409.0M428.6 425.9L427.6 424.4M475.9 366.2L476.6 364.4M465.1 405.6L463.0 405.4M478.0 402.3L477.3 400.5M430.6 409.1L429.6 409.6M442.8 419.3L444.5 419.5M436.9 377.0L437.6 376.7M410.8 416.6L412.9 415.6M440.5 361.8L439.0 362.9M450.0 420.4L449.9 419.6M446.2 373.1L444.5 375.0M425.1 406.6L425.5 407.9M458.8 389.6L457.3 392.0M437.7 417.3L435.5 417.3M443.8 415.3L444.0 415.0M453.0 413.2L453.8 413.2M438.0 409.8L440.4 409.2M407.9 420.3L411.2 421.8M454.2 400.0L456.4 397.9M448.5 363.6L449.4 362.5M428.5 420.9L426.1 421.5M427.0 361.5L426.3 364.3M476.6 364.4L475.7 362.6M478.5 396.5L480.8 396.8M472.6 407.1L473.2 405.0M419.7 424.2L417.2 422.5M415.7 406.5L416.0 404.8M407.3 406.9L409.3 406.5M439.1 427.2L440.4 426.3M423.0 415.5L421.5 414.4M431.1 396.6L429.6 398.8M443.9 408.1L443.6 410.6M470.0 399.8L470.6 398.7M419.8 366.5L420.6 365.6M409.4 370.1L407.7 370.6M458.5 418.2L459.1 417.5M462.1 395.9L460.2 398.4M445.9 423.6L447.0 422.1M462.5 413.8L461.6 412.6M412.6 419.3L413.6 416.9M461.9 365.8L461.9 365.8M453.6 379.1L455.7 379.7M429.9 406.2L428.4 406.4M419.4 407.5L421.8 408.6M419.8 376.2L419.8 377.2M456.0 372.2L456.2 374.3M454.2 376.9L453.7 375.9M454.9 389.8L454.1 387.1M463.9 397.5L463.9 397.5M454.6 402.9L455.9 403.7M431.7 419.0L432.2 418.3M425.1 378.4L425.4 379.1M426.5 414.2L429.8 412.9M477.7 399.6L478.3 399.3M409.0 417.6L407.3 416.4M419.8 377.2L421.5 378.6M434.8 386.8L433.2 387.3M456.2 421.1L454.5 419.5M425.1 399.5L424.5 399.5M421.7 402.3L420.8 399.4M467.4 380.1L467.2 380.7M445.3 384.9L446.7 385.1M453.8 413.2L455.7 415.1M421.6 389.0L422.4 387.3M407.3 406.9L406.9 408.0M412.0 393.9L410.9 394.3M408.5 400.7L410.0 398.4M466.0 371.8L465.9 372.1M452.0 380.6L452.3 380.6M429.5 418.6L431.7 419.0M409.0 426.5L411.2 425.2M465.9 372.1L464.5 373.1M447.3 393.4L445.3 391.3M472.3 398.4L470.6 398.7M428.5 420.9L430.1 422.6M431.4 400.4L432.4 399.0M453.0 413.2L452.0 411.6M449.9 403.1L452.0 405.7M447.0 370.3L448.6 368.4M441.0 393.4L441.5 395.8M455.8 383.8L455.8 383.4M413.5 366.2L412.5 364.7M419.4 396.1L419.2 394.2M457.3 424.4L456.0 423.1M406.3 396.2L407.5 395.5M474.8 400.8L477.3 400.5M417.7 393.2L415.1 392.6M406.1 373.1L407.6 374.3M417.7 393.2L417.9 393.6M415.1 386.5L415.7 388.4M436.6 408.1L436.7 408.6M426.9 415.6L426.5 414.2M410.7 375.8L409.0 376.9M410.7 367.8L412.3 368.1M479.4 371.3L477.6 372.3M428.1 383.9L429.3 385.8M453.8 393.7L453.3 392.7M478.0 385.7L478.0 383.1M464.6 400.6L462.1 400.5M464.6 367.8L466.1 370.1M446.4 364.3L444.6 365.1M455.7 379.7L454.4 382.0M430.5 422.7L432.4 421.0M455.4 389.9L456.7 391.9M474.0 421.7L474.2 422.2M453.3 385.3L453.4 386.7M469.0 376.7L471.3 378.1M432.8 391.7L431.9 393.3M430.8 376.0L431.5 376.9M417.1 365.3L417.3 366.4M440.0 415.7L440.8 415.2M410.0 368.2L409.4 370.1M418.4 380.2L418.4 383.1M412.3 368.1L413.5 366.2M426.0 413.9L426.5 414.2M462.0 411.6L463.5 411.4M462.9 374.9L460.9 373.0M450.9 373.0L448.8 374.8M444.8 427.3L447.2 426.3M474.2 413.4L474.2 412.2M410.1 408.5L412.1 408.0M446.4 381.5L445.4 381.7M428.0 395.5L427.3 395.3M441.0 372.4L438.6 373.7M473.9 367.4L471.8 368.9M460.0 407.0L460.9 409.2M431.6 376.9L433.5 375.5M436.0 388.7L435.8 389.4M425.7 384.5L426.1 383.8M450.6 381.7L451.9 384.0M429.3 363.3L428.5 362.0M442.7 374.5L440.0 375.2M432.3 416.7L432.2 418.3M457.0 387.2L456.2 386.6M422.6 419.6L422.6 419.6M412.2 390.5L412.5 390.5M437.8 412.6L437.9 414.4M444.5 423.8L445.9 423.6M422.6 419.6L422.1 418.4M467.1 415.6L464.8 415.7M464.6 387.4L463.7 389.4M437.6 376.7L437.6 374.0M478.0 383.1L478.1 383.0M478.2 396.1L476.2 396.5M447.4 425.4L447.2 426.3M412.1 408.0L413.0 408.7M449.2 413.8L447.9 415.6M476.3 389.4L474.4 390.4M433.1 415.8L435.1 416.0M455.6 406.1L452.8 406.3M407.5 420.4L405.9 418.2M405.3 423.4L406.2 424.7M459.0 411.2L456.8 410.6M436.2 422.2L435.3 420.0M467.1 415.6L467.6 414.0M433.4 363.1L435.1 362.3M459.8 369.5L462.6 369.2M432.0 411.2L430.4 413.2M411.4 362.1L411.7 364.3M453.6 424.7L452.0 425.1M474.2 366.6L473.4 365.3M456.3 384.4L455.8 383.8M405.9 367.2L404.0 369.1M425.8 390.0L426.0 389.9M406.6 388.4L406.6 387.9M460.8 403.5L459.9 402.3M428.2 395.7L430.4 395.9M475.0 418.6L475.7 419.6M456.5 374.5L456.2 374.3M408.5 384.7L406.7 384.6M450.6 378.2L452.0 380.6M461.7 380.6L460.1 380.8M444.8 397.8L445.7 399.4M468.0 423.5L468.5 426.0M445.0 385.1L442.7 385.2M473.3 414.3L470.8 413.8M449.8 381.7L450.6 381.7M412.2 419.4L412.6 419.3M421.1 381.5L420.4 380.1M429.2 426.1L431.2 424.5M465.6 410.0L464.1 410.1M415.1 386.5L414.6 386.2M467.0 367.2L464.9 367.2M467.1 399.3L467.4 398.8M422.2 408.5L424.4 409.2M460.9 409.2L460.6 409.6M427.9 376.5L429.0 375.7M467.4 398.8L470.0 399.8M436.4 426.2L435.6 426.8M429.9 382.1L430.5 382.0M465.7 423.1L465.3 421.3M418.8 420.6L418.6 419.2M434.8 384.7L435.8 383.0M447.6 408.1L449.7 408.9M435.1 371.3L433.1 370.2M458.5 366.7L459.8 367.6M442.8 398.0L442.9 400.4M440.9 397.0L442.8 398.0M447.0 370.3L445.8 369.9M424.7 366.8L422.8 368.1M462.0 380.0L461.7 380.6M450.9 369.6L452.1 368.1M462.0 415.3L462.5 413.8M459.0 411.2L460.2 409.7M470.9 422.7L469.0 422.1M461.0 391.1L460.9 392.1M471.3 378.1L472.0 378.0M449.5 365.9L450.5 365.8M419.8 368.2L419.8 366.5M477.2 414.2L476.7 414.6M439.6 377.2L439.3 377.3M465.7 396.6L467.3 397.1M435.7 371.2L438.0 373.2M418.2 371.4L418.6 370.9M444.1 425.2L444.5 423.8M458.0 402.4L457.7 400.5M413.6 416.9L412.9 415.6M465.9 410.3L466.0 412.7M441.6 420.2L439.9 419.1M450.9 373.0L452.3 373.5M468.5 394.8L468.6 396.0M424.2 389.4L423.9 387.5M426.8 408.4L427.7 408.0M458.4 379.5L457.5 379.9M419.9 389.6L418.7 388.4M468.2 363.0L466.9 360.8M471.8 401.2L473.5 399.9M434.4 365.8L433.5 365.6M430.6 409.1L430.9 409.3M458.1 394.7L457.9 392.6M412.2 425.9L411.9 427.8M422.5 422.3L422.6 419.6M426.6 373.5L426.0 372.8M410.7 381.6L412.1 380.2M412.9 387.8L411.2 387.1M463.9 397.5L465.7 396.6M458.4 404.7L457.3 403.5M462.7 408.4L460.9 409.2M449.2 401.3L447.4 401.8M460.9 376.2L462.9 374.9M462.2 371.7L461.3 372.1M453.7 362.4L451.6 364.1M426.9 411.0L426.9 411.0M457.1 425.7L457.3 424.4M415.1 408.6L415.3 410.5M421.1 375.4L421.5 373.4M450.9 369.6L448.6 368.4M465.1 405.6L465.5 405.0M463.5 377.4L464.8 378.4M407.9 420.3L407.6 420.5M425.5 413.8L426.0 413.9M458.8 397.1L456.5 397.9M424.4 394.7L424.6 395.5M450.6 381.7L452.0 380.6M465.3 364.4L464.5 366.1M460.8 421.4L461.2 423.9M473.4 389.7L474.4 390.4M460.8 421.4L461.2 421.1M433.4 408.7L434.1 410.5M428.0 367.1L428.2 368.6M422.8 368.1L421.3 365.5M423.1 361.9L421.7 363.3M472.7 372.4L473.1 371.0M404.7 394.6L406.5 392.8M475.2 375.1L474.2 376.2M465.9 372.1L467.4 374.3M460.9 392.1L461.9 394.0M414.6 386.2L412.9 387.8M432.7 388.6L434.0 390.0M417.1 397.7L417.1 399.8M429.7 369.6L428.2 368.6M409.7 393.2L410.9 394.3M442.1 412.6L442.2 411.0M462.0 380.0L461.5 378.0M460.7 406.1L460.0 407.0M448.4 405.0L447.0 404.2M469.3 420.1L469.3 417.3M439.3 367.3L439.4 367.5M449.4 428.2L450.2 425.1M454.2 409.5L455.7 411.1M476.5 388.9L478.3 387.9M450.5 371.0L450.9 373.0M461.0 391.1L463.7 389.7M479.1 407.1L480.3 407.1M457.3 403.5L458.0 402.4M422.9 422.7L423.0 424.7M478.0 385.7L478.4 386.1M438.1 373.5L437.6 374.0M468.4 374.3L469.2 375.8M433.4 411.2L432.0 411.2M456.2 379.5L457.5 379.9M459.2 373.9L456.5 374.5M435.1 396.4L438.7 396.0M430.1 386.7L430.5 388.7M467.4 390.0L464.6 390.6M476.6 364.4L479.0 364.9M424.7 364.9L421.9 364.8M433.4 408.7L433.8 407.6M477.8 380.0L476.6 379.1M464.6 387.4L466.7 387.3M443.6 392.5L444.2 394.6M413.5 411.6L415.3 410.5M416.8 402.4L415.8 401.2M471.7 424.5L469.5 426.2M450.9 421.6L448.7 423.1M456.2 415.2L456.6 415.0M425.9 422.2L426.1 421.5M447.7 378.8L448.0 375.8M418.8 420.6L419.6 420.9M463.0 363.0L461.9 365.8M442.1 383.4L442.7 385.2M419.9 389.6L421.6 389.0M410.0 368.2L407.2 367.1M406.2 411.0L405.4 410.1M465.1 394.6L466.3 393.3M417.9 379.0L419.8 377.2M460.9 373.0L461.3 372.1M442.2 392.1L441.0 393.4M454.1 387.1L456.2 386.6M416.5 425.8L417.4 428.5M451.6 364.1L451.6 364.6M414.8 374.1L413.1 372.9M466.0 371.8L465.8 370.9M429.6 409.6L427.7 408.0M426.9 411.0L424.5 410.4M408.7 364.8L410.1 365.1M470.9 392.1L471.0 392.5M429.7 392.6L430.0 391.4M422.9 382.5L422.5 384.3M426.9 411.0L428.8 411.0M460.1 362.8L457.4 363.0M413.8 366.2L415.5 364.7M425.5 419.3L425.1 417.1M452.0 405.7L452.1 405.7M432.9 379.0L433.8 381.6M424.9 425.5L424.0 427.5M479.8 424.2L478.5 421.9M465.2 402.5L464.6 400.6M408.5 390.5L408.5 390.3M454.7 364.8L455.9 365.0M439.1 390.4L437.5 388.4M467.4 364.6L465.3 364.4M443.3 363.7L444.6 365.1M408.5 384.8L408.5 384.7M462.9 370.1L462.6 369.2M447.0 422.1L446.9 421.3M406.3 391.6L406.5 392.8M408.3 364.1L409.4 361.7M435.3 367.7L433.0 369.8M469.8 385.2L470.5 384.3M435.3 420.0L432.6 421.1M475.4 425.1L475.5 427.3M453.9 371.2L454.9 369.1M469.2 411.6L468.5 411.6M440.0 415.7L438.9 415.6M458.3 384.7L456.3 384.4M467.9 391.7L467.2 393.2M458.1 406.8L460.0 407.0M425.8 393.0L426.1 393.0M461.9 394.0L462.6 393.8M425.2 419.7L425.5 419.3M436.8 369.9L438.3 370.0M472.7 384.4L470.5 384.3M415.1 414.1L413.4 414.1M457.4 407.4L457.7 408.4M471.8 401.2L470.1 400.1M428.3 378.7L429.3 378.8M410.8 411.3L411.0 410.9M428.0 381.0L429.9 382.1M453.3 397.1L453.2 397.2M419.7 373.1L421.2 373.0M445.1 417.3L443.9 416.0M433.9 413.2L434.5 413.4M470.2 416.8L469.3 417.3M419.8 424.6L419.1 425.4M440.4 406.1L442.0 403.8M423.3 396.7L421.8 396.3M438.6 373.7L438.1 373.5M430.7 428.1L429.2 426.1M455.7 415.1L456.2 415.2M406.6 400.8L408.5 400.7M426.8 408.4L425.5 407.9M461.6 366.9L459.8 367.6M454.5 393.8L455.9 395.4M467.4 407.7L468.0 408.9M412.8 369.1L412.3 368.1M418.5 409.4L420.2 411.2M409.1 404.0L410.1 402.9M447.8 412.3L446.6 412.9M461.6 366.9L462.7 368.7M447.7 378.8L444.9 378.0M464.3 416.2L464.8 415.7M445.3 388.0L445.0 385.1M455.8 377.2L456.2 379.5M470.9 422.7L472.5 421.1M448.5 363.6L449.5 365.9M449.6 410.6L449.7 408.9M440.4 406.1L440.4 406.4M474.9 384.7L473.3 385.2M432.8 413.9L430.5 413.5M433.4 404.6L434.5 402.0M475.8 369.7L477.7 368.6M434.8 384.7L433.3 384.1M412.8 369.1L411.1 371.3M473.4 416.0L471.5 417.2M425.6 367.5L425.6 369.5M455.9 365.0L456.3 366.4M458.4 404.7L458.1 406.8M413.2 389.7L414.7 389.6M418.4 383.1L419.2 383.5M411.4 375.8L413.7 376.0M412.1 380.2L413.4 381.3M406.3 396.2L406.1 397.7M432.8 391.7L433.6 391.5M435.1 396.4L435.1 396.4M476.6 424.1L478.2 425.3M454.9 369.1L454.4 368.2M457.9 392.6L457.3 392.0M457.8 370.7L457.9 370.4M424.0 370.1L425.6 369.5M429.0 392.8L427.5 392.2M418.8 387.5L418.6 387.1M430.0 366.3L428.1 366.7M421.9 405.5L422.9 406.8M462.0 415.3L460.1 414.7M466.5 376.8L466.2 375.8M438.0 409.8L436.7 408.6M456.6 376.2L456.5 374.5M447.5 415.6L446.3 414.6M429.3 363.3L427.3 364.8M430.0 372.3L431.3 372.7M409.0 373.5L411.3 372.1M477.6 377.0L476.6 379.1M407.1 379.2L408.7 379.3M471.5 417.2L470.2 416.8M418.7 402.5L416.8 402.4M442.0 403.8L440.3 401.9M413.0 408.7L412.2 410.5M456.3 366.4L454.4 368.2M430.5 388.7L429.0 389.7M421.7 386.3L421.7 384.8M465.3 421.3L462.7 421.3M476.4 371.9L477.6 372.3M437.4 403.7L436.4 402.6M411.3 372.1L411.1 371.3M465.5 425.7L464.9 423.9M411.2 421.8L411.4 422.4M458.6 377.2L456.6 376.2M448.6 368.4L448.3 367.1M474.4 403.2L474.2 403.4M481.2 386.0L478.4 386.1M428.6 373.7L429.0 375.7M434.3 423.2L432.6 421.1M407.6 374.3L406.9 376.3M475.6 379.6L476.2 379.2M446.9 402.3L444.3 402.3M462.1 385.8L461.2 385.2M445.8 404.9L445.6 406.0M453.7 382.0L454.4 382.0M457.3 403.5L455.9 403.7M420.0 416.5L418.2 416.6M405.7 421.5L404.1 420.8M421.8 408.6L421.6 410.3M448.7 371.6L450.5 371.0M465.3 364.4L464.8 363.6M477.4 411.0L479.5 410.8M464.5 366.1L461.9 365.8M462.9 374.9L463.5 375.0M445.2 368.5L442.1 368.6M459.6 369.9L459.8 369.5M463.4 385.6L463.5 385.4M454.1 387.1L453.4 386.7M428.0 367.1L425.6 367.5M444.5 419.5L445.0 420.1M444.2 394.6L444.1 394.8M452.0 414.8L453.2 416.4M420.4 380.1L421.5 378.6M424.7 366.8L425.6 367.5M465.8 370.9L466.1 370.1M475.1 416.9L476.2 416.2M435.0 394.5L434.7 392.4M415.8 401.2L416.0 400.6M406.0 417.7L407.3 416.4M427.1 403.0L427.2 402.9M421.8 393.0L423.0 391.9M406.3 400.3L406.2 398.0M409.7 396.6L410.9 395.2M459.2 373.9L459.2 373.9M417.0 371.8L418.2 371.4M409.5 414.4L409.4 414.4M475.9 366.2L478.0 367.7M476.2 396.5L475.5 397.3M478.2 396.1L478.5 396.5M446.4 381.5L447.9 379.0M445.8 369.9L443.7 371.4M447.1 388.2L448.0 389.7M468.0 423.5L465.7 423.1M432.7 388.6L433.2 387.3M426.5 387.6L424.2 387.3M438.3 393.3L438.0 391.7M439.0 362.9L436.9 361.4M443.5 422.6L441.4 422.3M460.2 409.7L460.6 409.6M431.5 376.9L429.3 378.8M425.8 390.0L424.9 391.9M450.2 384.9L451.9 384.0M442.1 383.4L439.4 382.7M463.4 385.6L462.1 385.8M422.9 422.7L425.9 422.2M435.1 376.2L434.1 378.5M452.8 406.3L452.1 405.7M440.0 407.1L440.4 409.2M456.0 423.1L454.0 423.8M421.2 369.0L420.9 370.7M472.7 384.4L473.3 381.9M447.4 425.4L448.8 424.5M458.5 366.7L457.9 367.0M406.2 424.7L404.1 426.4M455.8 383.4L454.4 382.0M430.8 393.5L431.9 393.3M428.5 401.5L431.1 401.6M476.2 416.2L476.7 414.6M411.2 387.1L409.9 388.6M460.0 404.6L458.4 404.7M442.9 400.4L443.9 400.9M433.7 405.4L436.7 405.3M450.0 408.7L449.7 408.9M431.5 372.9L433.3 373.9M449.0 416.7L448.6 418.5M415.8 418.8L415.6 417.4M416.3 425.7L414.8 426.6M414.5 395.1L414.6 395.0M448.3 394.8L447.7 396.9M455.1 426.6L454.7 427.8M465.5 405.0L465.2 402.5M433.0 382.3L433.8 381.6M453.5 409.4L454.2 409.5M427.0 371.1L426.7 370.0M414.9 370.1L415.1 370.1M427.5 392.2L426.1 393.0M414.5 420.1L414.1 422.8M434.7 392.4L433.6 391.5M477.6 374.0L476.0 375.2M474.2 422.2L476.6 423.0M453.3 397.1L455.7 396.9M450.6 396.8L451.1 397.5M453.8 399.8L454.2 400.0M445.0 381.5L442.9 381.6M414.6 395.0L415.0 392.6M406.5 392.8L408.1 393.8M448.5 379.2L450.6 378.2M433.4 406.6L433.8 407.6M443.4 371.4L443.7 371.4M412.2 419.4L412.0 419.2M447.2 393.8L447.3 393.4M467.4 374.3L466.2 375.8M426.6 383.6L426.1 383.8M478.5 394.8L477.6 393.8M467.4 380.1L468.3 379.3M464.9 381.8L465.3 382.0M416.6 367.7L417.3 366.4M460.8 383.5L459.7 383.0M425.8 390.0L424.2 389.4M435.8 383.0L435.6 382.1M441.8 380.1L439.1 380.8M421.2 373.0L421.4 371.2M461.7 394.4L461.9 394.0M448.3 367.1L449.5 365.9M427.3 390.5L427.5 392.2M433.1 415.8L432.3 416.7M431.6 396.7L432.4 399.0M458.7 378.8L458.4 379.5M462.7 382.3L461.7 380.6M452.1 368.1L450.5 365.8M411.4 422.4L414.1 422.8M468.0 417.0L467.1 415.6M467.6 401.5L467.1 399.3M447.9 411.7L449.6 410.6M447.5 407.4L445.6 406.0M436.7 405.3L437.4 403.7M404.9 390.8L406.6 388.4M457.9 367.0L457.1 369.5M449.9 419.6L451.4 418.1M448.4 405.0L448.6 405.5M453.3 378.1L451.0 377.5M450.6 378.2L451.0 377.5M427.3 395.3L426.1 393.0M412.2 410.5L411.0 410.9M478.6 391.4L480.8 393.9M444.5 423.8L443.5 422.6M425.7 396.0L424.6 395.5M459.9 402.3L458.0 402.4M439.0 381.1L435.6 382.1M404.5 375.3L406.5 376.5M427.1 381.5L426.6 383.6M440.6 417.0L440.0 415.7M436.2 368.0L435.3 367.7M413.4 381.3L415.4 381.0M421.5 414.4L420.8 414.7M476.5 419.8L477.9 421.8M432.0 425.0L433.3 424.9M453.8 390.3L454.9 389.8M411.4 422.4L410.6 423.6M445.6 406.0L443.8 407.1M451.4 418.1L453.1 418.0M406.6 405.7L404.4 405.9M425.0 364.5L424.7 364.9M445.3 391.3L445.2 391.3M480.0 389.9L478.6 391.4M438.3 421.0L438.2 419.6M456.3 407.2L454.2 409.5M429.3 385.8L430.9 384.2M414.9 370.1L412.8 369.1M448.4 405.0L449.9 403.1M453.1 418.0L454.4 419.5M444.8 397.8L444.2 397.6M468.5 394.8L467.2 393.2M431.5 401.1L434.5 401.9M462.2 415.8L462.0 415.3M438.6 373.7L440.0 375.2M405.9 367.2L406.5 367.4M415.7 406.5L415.3 406.9M407.1 403.9L406.1 402.8M428.4 406.4L427.4 405.4M417.4 415.9L418.6 414.2M409.9 408.9L408.2 409.5M423.7 370.9L424.5 372.7M471.7 409.5L470.1 409.2M434.8 384.7L435.2 386.1M453.4 403.3L451.4 401.8M462.9 362.9L463.0 363.0M416.2 383.0L413.7 384.4M478.7 406.0L477.3 405.0M412.0 419.2L410.8 416.6M421.6 425.4L421.7 427.6M408.5 412.7L409.4 414.4M444.5 419.5L445.1 417.3M478.0 402.3L477.1 403.3M429.3 386.1L427.6 387.2M433.4 411.2L434.1 410.5M434.5 401.9L434.9 400.0M426.5 424.0L425.0 425.5M411.4 375.8L411.3 375.9M405.6 414.1L407.3 415.4M418.1 412.7L418.6 414.2M420.4 399.4L418.4 397.1M465.6 410.0L465.9 410.3M425.1 417.1L426.9 415.6M428.5 401.5L427.2 402.9M425.1 406.6L427.4 405.4M458.8 365.6L457.3 363.7M409.0 376.9L406.9 376.3M418.5 409.0L418.5 409.4M415.6 417.4L413.6 416.9M442.1 377.8L439.6 377.2M465.7 423.1L464.9 423.9M473.2 405.0L471.0 404.3M478.2 396.1L478.5 394.8M460.9 376.2L461.5 377.9M449.2 428.3L447.2 426.3M428.6 373.7L426.6 373.5M454.9 369.1L457.1 369.5M420.4 422.6L419.6 420.9M460.4 426.0L461.2 426.7M459.7 389.3L460.0 388.4M453.2 416.4L455.7 415.1M473.0 387.2L473.2 387.5M473.2 387.5L473.4 389.7M425.1 380.0L425.1 380.1M462.2 415.8L464.3 416.2M410.0 402.2L411.7 400.5M407.1 379.2L406.3 377.2M474.6 393.8L474.3 392.9M451.3 414.9L449.8 413.7M421.8 396.3L421.9 393.3M442.7 374.5L442.7 374.5M417.9 393.6L416.8 395.1M471.2 390.7L473.4 389.7M469.9 406.4L472.6 407.1M413.8 366.2L413.5 366.2M435.1 371.3L434.7 373.2M418.3 362.9L417.3 361.9M461.3 399.8L460.9 399.7M442.5 378.3L444.6 378.2M475.6 370.1L473.1 371.0M437.1 385.8L435.2 386.1M446.3 414.6L444.0 415.0M418.6 387.1L419.5 383.8M409.7 405.9L412.1 405.8M458.9 385.9L458.3 384.7M469.1 401.6L470.1 400.1M455.9 395.4L455.7 396.9M408.5 384.8L408.0 387.0M412.9 415.6L413.4 414.1M456.7 391.9L457.3 392.0M453.2 416.4L453.1 418.0M466.4 384.2L467.1 384.6M424.5 410.4L424.4 409.2M437.4 403.7L438.2 403.6M466.0 412.7L464.7 413.1M409.5 414.4L411.5 413.4M421.7 363.3L421.9 364.8M418.9 400.4L417.1 399.8M447.9 379.0L447.7 378.8M404.7 394.6L406.3 396.2M446.5 396.6L444.8 397.8M467.6 401.5L469.1 401.6M406.6 400.8L406.3 400.3M444.8 411.9L444.7 411.5M463.4 385.6L464.6 387.4M457.8 370.7L456.0 372.2M468.0 417.0L469.3 417.3M417.7 388.9L417.0 390.7M428.2 395.7L428.0 395.5M410.0 398.4L409.8 398.0M447.7 396.9L448.0 397.3M435.9 423.1L434.3 423.2M464.6 391.5L466.3 393.3M458.4 423.9L459.3 421.4M474.1 363.0L472.4 361.8M473.2 396.3L474.6 393.8" fill="none" stroke="#c264c2" stroke-width="0.8"/>
<filter id="n2" x="406.6" y="363.9" width="71.9" height="61.8" filterUnits="userSpaceOnUse" color-interpolation-filters="sRGB"><feTurbulence type="fractalNoise" baseFrequency="0.6" numOctaves="2" seed="11"/><feColorMatrix type="matrix" values="0 0 0 0 0.659 0 0 0 0 0.314 0 0 0 0 0.706 4.0 0 0 0 -2.4"/></filter>
<rect x="406.6" y="363.9" width="71.9" height="61.8" filter="url(#n2)"/>
</g>
<rect x="382" y="355.3" width="16.4" height="1.5" fill="#000" stroke="none" stroke-width="1.0" />
<rect x="384.6" y="417.5" width="15.4" height="1.5" fill="#000" stroke="none" stroke-width="1.0" />
<text x="2.8" y="466.7" font-size="18" text-anchor="start" font-weight="bold" fill="#1a1a1a" >I</text>
<text x="69.2" y="466.5" font-size="12" text-anchor="middle" fill="#1a1a1a" stroke="#1a1a1a" stroke-width="0.22" >WAT</text>
<line x1="26.5" y1="479.2" x2="26.5" y2="548.5" stroke="#1a1a1a" stroke-width="1.0" />
<line x1="24.6" y1="548.5" x2="26.6" y2="548.5" stroke="#1a1a1a" stroke-width="1.0" />
<text x="23.1" y="550.77" font-size="6.5" text-anchor="end" fill="#1a1a1a" stroke="#1a1a1a" stroke-width="0.22" >0</text>
<line x1="24.6" y1="531.5" x2="26.6" y2="531.5" stroke="#1a1a1a" stroke-width="1.0" />
<text x="23.1" y="533.45" font-size="6.5" text-anchor="end" fill="#1a1a1a" stroke="#1a1a1a" stroke-width="0.22" >10</text>
<line x1="24.6" y1="513.5" x2="26.6" y2="513.5" stroke="#1a1a1a" stroke-width="1.0" />
<text x="23.1" y="516.12" font-size="6.5" text-anchor="end" fill="#1a1a1a" stroke="#1a1a1a" stroke-width="0.22" >20</text>
<line x1="24.6" y1="496.5" x2="26.6" y2="496.5" stroke="#1a1a1a" stroke-width="1.0" />
<text x="23.1" y="498.8" font-size="6.5" text-anchor="end" fill="#1a1a1a" stroke="#1a1a1a" stroke-width="0.22" >30</text>
<line x1="24.6" y1="479.5" x2="26.6" y2="479.5" stroke="#1a1a1a" stroke-width="1.0" />
<text x="23.1" y="481.47" font-size="6.5" text-anchor="end" fill="#1a1a1a" stroke="#1a1a1a" stroke-width="0.22" >40</text>
<line x1="26.6" y1="548.5" x2="124.2" y2="548.5" stroke="#1a1a1a" stroke-width="1.0" />
<line x1="26.5" y1="548.5" x2="26.5" y2="550.5" stroke="#1a1a1a" stroke-width="1.0" />
<text x="29" y="558" font-size="7.1" text-anchor="end" fill="#1a1a1a" stroke="#1a1a1a" stroke-width="0.22" transform="rotate(-45 29 558)" >0</text>
<line x1="46.5" y1="548.5" x2="46.5" y2="550.5" stroke="#1a1a1a" stroke-width="1.0" />
<text x="48.5" y="558" font-size="7.1" text-anchor="end" fill="#1a1a1a" stroke="#1a1a1a" stroke-width="0.22" transform="rotate(-45 48.5 558)" >50,000</text>
<line x1="65.5" y1="548.5" x2="65.5" y2="550.5" stroke="#1a1a1a" stroke-width="1.0" />
<text x="68" y="558" font-size="7.1" text-anchor="end" fill="#1a1a1a" stroke="#1a1a1a" stroke-width="0.22" transform="rotate(-45 68 558)" >100,000</text>
<line x1="85.5" y1="548.5" x2="85.5" y2="550.5" stroke="#1a1a1a" stroke-width="1.0" />
<text x="87.5" y="558" font-size="7.1" text-anchor="end" fill="#1a1a1a" stroke="#1a1a1a" stroke-width="0.22" transform="rotate(-45 87.5 558)" >150,000</text>
<line x1="104.5" y1="548.5" x2="104.5" y2="550.5" stroke="#1a1a1a" stroke-width="1.0" />
<text x="107" y="558" font-size="7.1" text-anchor="end" fill="#1a1a1a" stroke="#1a1a1a" stroke-width="0.22" transform="rotate(-45 107 558)" >200,000</text>
<line x1="124.5" y1="548.5" x2="124.5" y2="550.5" stroke="#1a1a1a" stroke-width="1.0" />
<text x="126.5" y="558" font-size="7.1" text-anchor="end" fill="#1a1a1a" stroke="#1a1a1a" stroke-width="0.22" transform="rotate(-45 126.5 558)" >250,000</text>
<polyline points="30.5,546.59 34.4,505.88 38.3,488.9 42.2,509.69 46.1,535.16 50,538.28 53.9,543.48 57.8,547.98" fill="none" stroke="#ff3030" stroke-width="0.6" stroke-linejoin="round"/>
<polyline points="34.4,542.26 38.3,533.95 42.2,518.53 46.1,515.58 50,529.96 53.9,525.8 57.8,535.33 61.7,541.57 65.6,541.57 69.5,541.57 73.4,542.26 77.3,546.25 81.2,547.29 104.6,545.03" fill="none" stroke="#1010ff" stroke-width="0.6" stroke-linejoin="round"/>
<circle cx="30.5" cy="546.59" r="1.35" fill="#ff3030"/>
<circle cx="34.4" cy="505.88" r="1.35" fill="#ff3030"/>
<circle cx="38.3" cy="488.9" r="1.35" fill="#ff3030"/>
<circle cx="42.2" cy="509.69" r="1.35" fill="#ff3030"/>
<circle cx="46.1" cy="535.16" r="1.35" fill="#ff3030"/>
<circle cx="50" cy="538.28" r="1.35" fill="#ff3030"/>
<circle cx="53.9" cy="543.48" r="1.35" fill="#ff3030"/>
<circle cx="57.8" cy="547.98" r="1.35" fill="#ff3030"/>
<rect x="33.1" y="540.96" width="2.6" height="2.6" fill="#1010ff" stroke="none" stroke-width="1.0" />
<rect x="37" y="532.65" width="2.6" height="2.6" fill="#1010ff" stroke="none" stroke-width="1.0" />
<rect x="40.9" y="517.23" width="2.6" height="2.6" fill="#1010ff" stroke="none" stroke-width="1.0" />
<rect x="44.8" y="514.28" width="2.6" height="2.6" fill="#1010ff" stroke="none" stroke-width="1.0" />
<rect x="48.7" y="528.66" width="2.6" height="2.6" fill="#1010ff" stroke="none" stroke-width="1.0" />
<rect x="52.6" y="524.5" width="2.6" height="2.6" fill="#1010ff" stroke="none" stroke-width="1.0" />
<rect x="56.5" y="534.03" width="2.6" height="2.6" fill="#1010ff" stroke="none" stroke-width="1.0" />
<rect x="60.4" y="540.27" width="2.6" height="2.6" fill="#1010ff" stroke="none" stroke-width="1.0" />
<rect x="64.3" y="540.27" width="2.6" height="2.6" fill="#1010ff" stroke="none" stroke-width="1.0" />
<rect x="68.2" y="540.27" width="2.6" height="2.6" fill="#1010ff" stroke="none" stroke-width="1.0" />
<rect x="72.1" y="540.96" width="2.6" height="2.6" fill="#1010ff" stroke="none" stroke-width="1.0" />
<rect x="76" y="544.95" width="2.6" height="2.6" fill="#1010ff" stroke="none" stroke-width="1.0" />
<rect x="79.9" y="545.99" width="2.6" height="2.6" fill="#1010ff" stroke="none" stroke-width="1.0" />
<rect x="103.3" y="543.74" width="2.6" height="2.6" fill="#1010ff" stroke="none" stroke-width="1.0" />
<text x="75.8" y="584.6" font-size="6.8" text-anchor="middle" fill="#1a1a1a" stroke="#1a1a1a" stroke-width="0.22" >Area (<tspan font-style="italic">μ</tspan>m<tspan font-size="4.5" dy="-2.5">2</tspan><tspan dy="2.5">)</tspan></text>
<text x="13.1" y="512.8" font-size="6.65" text-anchor="middle" fill="#1a1a1a" stroke="#1a1a1a" stroke-width="0.22" transform="rotate(-90 13.1 512.8)" >Frequency (%)</text>
<line x1="91.2" y1="487.5" x2="98.9" y2="487.5" stroke="#1010ff" stroke-width="0.6" />
<circle cx="95" cy="487.5" r="1.3" fill="#1010ff"/>
<line x1="91.2" y1="497.5" x2="98.9" y2="497.5" stroke="#ff3030" stroke-width="0.6" />
<circle cx="95.6" cy="497.4" r="1.2" fill="#ff3030"/>
<text x="102.3" y="490.2" font-size="6.8" text-anchor="start" fill="#1a1a1a" stroke="#1a1a1a" stroke-width="0.22" ><tspan font-style="italic">Atgl</tspan><tspan font-style="italic" font-size="4.6" dx="1.3" dy="-3.2">+/+</tspan></text>
<text x="103.3" y="499.7" font-size="6.8" text-anchor="start" fill="#1a1a1a" stroke="#1a1a1a" stroke-width="0.22" ><tspan font-style="italic">Atgl</tspan><tspan font-style="italic" font-size="4.6" dx="1.3" dy="-3.2">F2A/F2A</tspan></text>
<text x="182.3" y="466.9" font-size="18" text-anchor="start" font-weight="bold" fill="#1a1a1a" >J</text>
<text x="250.8" y="464.2" font-size="12" text-anchor="middle" fill="#1a1a1a" stroke="#1a1a1a" stroke-width="0.22" >BAT</text>
<line x1="201.5" y1="485.5" x2="201.5" y2="552.5" stroke="#1a1a1a" stroke-width="1.0" />
<line x1="199.25" y1="552.5" x2="201.25" y2="552.5" stroke="#1a1a1a" stroke-width="1.0" />
<text x="197.75" y="554.77" font-size="6.5" text-anchor="end" fill="#1a1a1a" stroke="#1a1a1a" stroke-width="0.22" >0</text>
<line x1="199.25" y1="530.5" x2="201.25" y2="530.5" stroke="#1a1a1a" stroke-width="1.0" />
<text x="197.75" y="532.44" font-size="6.5" text-anchor="end" fill="#1a1a1a" stroke="#1a1a1a" stroke-width="0.22" >10</text>
<line x1="199.25" y1="507.5" x2="201.25" y2="507.5" stroke="#1a1a1a" stroke-width="1.0" />
<text x="197.75" y="510.11" font-size="6.5" text-anchor="end" fill="#1a1a1a" stroke="#1a1a1a" stroke-width="0.22" >20</text>
<line x1="199.25" y1="485.5" x2="201.25" y2="485.5" stroke="#1a1a1a" stroke-width="1.0" />
<text x="197.75" y="487.78" font-size="6.5" text-anchor="end" fill="#1a1a1a" stroke="#1a1a1a" stroke-width="0.22" >30</text>
<line x1="201.25" y1="552.5" x2="303" y2="552.5" stroke="#1a1a1a" stroke-width="1.0" />
<line x1="201.5" y1="552.5" x2="201.5" y2="554.5" stroke="#1a1a1a" stroke-width="1.0" />
<text x="203.45" y="561.2" font-size="7.1" text-anchor="end" fill="#1a1a1a" stroke="#1a1a1a" stroke-width="0.22" transform="rotate(-45 203.45 561.2)" >0</text>
<line x1="226.5" y1="552.5" x2="226.5" y2="554.5" stroke="#1a1a1a" stroke-width="1.0" />
<text x="228.67" y="561.2" font-size="7.1" text-anchor="end" fill="#1a1a1a" stroke="#1a1a1a" stroke-width="0.22" transform="rotate(-45 228.67 561.2)" >10,000</text>
<line x1="251.5" y1="552.5" x2="251.5" y2="554.5" stroke="#1a1a1a" stroke-width="1.0" />
<text x="253.89" y="561.2" font-size="7.1" text-anchor="end" fill="#1a1a1a" stroke="#1a1a1a" stroke-width="0.22" transform="rotate(-45 253.89 561.2)" >20,000</text>
<line x1="276.5" y1="552.5" x2="276.5" y2="554.5" stroke="#1a1a1a" stroke-width="1.0" />
<text x="279.11" y="561.2" font-size="7.1" text-anchor="end" fill="#1a1a1a" stroke="#1a1a1a" stroke-width="0.22" transform="rotate(-45 279.11 561.2)" >30,000</text>
<line x1="302.5" y1="552.5" x2="302.5" y2="554.5" stroke="#1a1a1a" stroke-width="1.0" />
<text x="304.33" y="561.2" font-size="7.1" text-anchor="end" fill="#1a1a1a" stroke="#1a1a1a" stroke-width="0.22" transform="rotate(-45 304.33 561.2)" >40,000</text>
<polyline points="206.29,537.99 208.82,522.58 211.34,497.57 213.86,506.28 216.38,519.23 218.9,523.69 221.43,547.59 223.95,545.58 226.47,546.25 228.99,550.71" fill="none" stroke="#ff3030" stroke-width="0.6" stroke-linejoin="round"/>
<polyline points="206.29,550.49 208.82,542 211.34,540.44 213.86,537.54 216.38,538.66 218.9,536.2 221.43,531.96 223.95,535.08 226.47,538.66 228.99,536.2 231.51,539.55 234.04,537.54 236.56,540.44 239.08,542 241.6,544.46 244.12,546.25 246.65,548.7 249.17,548.7 251.69,552.5 254.21,551.16 256.73,547.59 259.26,550.04 261.78,546.92 264.3,549.6 266.82,550.49 269.34,550.49 271.87,550.71 274.39,550.49 276.91,550.71 279.43,551.16 281.95,550.04 284.48,551.16 287,550.71 289.52,551.61 292.04,551.61 294.56,551.61 297.09,551.16 299.61,551.61 302.13,550.49" fill="none" stroke="#1010ff" stroke-width="0.6" stroke-linejoin="round"/>
<circle cx="206.29" cy="537.99" r="1.3" fill="#ff3030"/>
<circle cx="208.82" cy="522.58" r="1.3" fill="#ff3030"/>
<circle cx="211.34" cy="497.57" r="1.3" fill="#ff3030"/>
<circle cx="213.86" cy="506.28" r="1.3" fill="#ff3030"/>
<circle cx="216.38" cy="519.23" r="1.3" fill="#ff3030"/>
<circle cx="218.9" cy="523.69" r="1.3" fill="#ff3030"/>
<circle cx="221.43" cy="547.59" r="1.3" fill="#ff3030"/>
<circle cx="223.95" cy="545.58" r="1.3" fill="#ff3030"/>
<circle cx="226.47" cy="546.25" r="1.3" fill="#ff3030"/>
<circle cx="228.99" cy="550.71" r="1.3" fill="#ff3030"/>
<rect x="205.04" y="549.24" width="2.5" height="2.5" fill="#1010ff" stroke="none" stroke-width="1.0" />
<rect x="207.57" y="540.75" width="2.5" height="2.5" fill="#1010ff" stroke="none" stroke-width="1.0" />
<rect x="210.09" y="539.19" width="2.5" height="2.5" fill="#1010ff" stroke="none" stroke-width="1.0" />
<rect x="212.61" y="536.29" width="2.5" height="2.5" fill="#1010ff" stroke="none" stroke-width="1.0" />
<rect x="215.13" y="537.41" width="2.5" height="2.5" fill="#1010ff" stroke="none" stroke-width="1.0" />
<rect x="217.65" y="534.95" width="2.5" height="2.5" fill="#1010ff" stroke="none" stroke-width="1.0" />
<rect x="220.18" y="530.71" width="2.5" height="2.5" fill="#1010ff" stroke="none" stroke-width="1.0" />
<rect x="222.7" y="533.83" width="2.5" height="2.5" fill="#1010ff" stroke="none" stroke-width="1.0" />
<rect x="225.22" y="537.41" width="2.5" height="2.5" fill="#1010ff" stroke="none" stroke-width="1.0" />
<rect x="227.74" y="534.95" width="2.5" height="2.5" fill="#1010ff" stroke="none" stroke-width="1.0" />
<rect x="230.26" y="538.3" width="2.5" height="2.5" fill="#1010ff" stroke="none" stroke-width="1.0" />
<rect x="232.79" y="536.29" width="2.5" height="2.5" fill="#1010ff" stroke="none" stroke-width="1.0" />
<rect x="235.31" y="539.19" width="2.5" height="2.5" fill="#1010ff" stroke="none" stroke-width="1.0" />
<rect x="237.83" y="540.75" width="2.5" height="2.5" fill="#1010ff" stroke="none" stroke-width="1.0" />
<rect x="240.35" y="543.21" width="2.5" height="2.5" fill="#1010ff" stroke="none" stroke-width="1.0" />
<rect x="242.87" y="545" width="2.5" height="2.5" fill="#1010ff" stroke="none" stroke-width="1.0" />
<rect x="245.4" y="547.45" width="2.5" height="2.5" fill="#1010ff" stroke="none" stroke-width="1.0" />
<rect x="247.92" y="547.45" width="2.5" height="2.5" fill="#1010ff" stroke="none" stroke-width="1.0" />
<rect x="250.44" y="551.25" width="2.5" height="2.5" fill="#1010ff" stroke="none" stroke-width="1.0" />
<rect x="252.96" y="549.91" width="2.5" height="2.5" fill="#1010ff" stroke="none" stroke-width="1.0" />
<rect x="255.48" y="546.34" width="2.5" height="2.5" fill="#1010ff" stroke="none" stroke-width="1.0" />
<rect x="258.01" y="548.79" width="2.5" height="2.5" fill="#1010ff" stroke="none" stroke-width="1.0" />
<rect x="260.53" y="545.67" width="2.5" height="2.5" fill="#1010ff" stroke="none" stroke-width="1.0" />
<rect x="263.05" y="548.35" width="2.5" height="2.5" fill="#1010ff" stroke="none" stroke-width="1.0" />
<rect x="265.57" y="549.24" width="2.5" height="2.5" fill="#1010ff" stroke="none" stroke-width="1.0" />
<rect x="268.09" y="549.24" width="2.5" height="2.5" fill="#1010ff" stroke="none" stroke-width="1.0" />
<rect x="270.62" y="549.46" width="2.5" height="2.5" fill="#1010ff" stroke="none" stroke-width="1.0" />
<rect x="273.14" y="549.24" width="2.5" height="2.5" fill="#1010ff" stroke="none" stroke-width="1.0" />
<rect x="275.66" y="549.46" width="2.5" height="2.5" fill="#1010ff" stroke="none" stroke-width="1.0" />
<rect x="278.18" y="549.91" width="2.5" height="2.5" fill="#1010ff" stroke="none" stroke-width="1.0" />
<rect x="280.7" y="548.79" width="2.5" height="2.5" fill="#1010ff" stroke="none" stroke-width="1.0" />
<rect x="283.23" y="549.91" width="2.5" height="2.5" fill="#1010ff" stroke="none" stroke-width="1.0" />
<rect x="285.75" y="549.46" width="2.5" height="2.5" fill="#1010ff" stroke="none" stroke-width="1.0" />
<rect x="288.27" y="550.36" width="2.5" height="2.5" fill="#1010ff" stroke="none" stroke-width="1.0" />
<rect x="290.79" y="550.36" width="2.5" height="2.5" fill="#1010ff" stroke="none" stroke-width="1.0" />
<rect x="293.31" y="550.36" width="2.5" height="2.5" fill="#1010ff" stroke="none" stroke-width="1.0" />
<rect x="295.84" y="549.91" width="2.5" height="2.5" fill="#1010ff" stroke="none" stroke-width="1.0" />
<rect x="298.36" y="550.36" width="2.5" height="2.5" fill="#1010ff" stroke="none" stroke-width="1.0" />
<rect x="300.88" y="549.24" width="2.5" height="2.5" fill="#1010ff" stroke="none" stroke-width="1.0" />
<text x="252.5" y="584" font-size="6.8" text-anchor="middle" fill="#1a1a1a" stroke="#1a1a1a" stroke-width="0.22" >Area (μm<tspan font-size="4.5" dy="-2.5">2</tspan><tspan dy="2.5">)</tspan></text>
<text x="186.2" y="517.5" font-size="6.6" text-anchor="middle" fill="#1a1a1a" stroke="#1a1a1a" stroke-width="0.22" transform="rotate(-90 186.2 517.5)" >Frequency (%)</text>
<line x1="259.3" y1="492.5" x2="266.5" y2="492.5" stroke="#1010ff" stroke-width="0.6" />
<rect x="261.6" y="491.2" width="2.6" height="2.6" fill="#1010ff" stroke="none" stroke-width="1.0" />
<line x1="259.3" y1="501.5" x2="266.5" y2="501.5" stroke="#ff3030" stroke-width="0.6" />
<circle cx="262.9" cy="501.3" r="1.2" fill="#ff3030"/>
<text x="270" y="494.6" font-size="6.8" text-anchor="start" fill="#1a1a1a" stroke="#1a1a1a" stroke-width="0.22" ><tspan font-style="italic">Atgl</tspan><tspan font-style="italic" font-size="4.6" dx="1.3" dy="-3.2">+/+</tspan></text>
<text x="270" y="503.4" font-size="6.8" text-anchor="start" fill="#1a1a1a" stroke="#1a1a1a" stroke-width="0.22" ><tspan font-style="italic">Atgl</tspan><tspan font-style="italic" font-size="4.6" dx="1.3" dy="-3.2">F2A/F2A</tspan></text>
<text x="309.4" y="466.8" font-size="18" text-anchor="start" font-weight="bold" fill="#1a1a1a" >K</text>
<line x1="354.5" y1="478.5" x2="354.5" y2="554.65" stroke="#1a1a1a" stroke-width="1.0" />
<line x1="352.4" y1="554.5" x2="354.4" y2="554.5" stroke="#1a1a1a" stroke-width="1.0" />
<text x="350.9" y="557.27" font-size="7.5" text-anchor="end" fill="#1a1a1a" stroke="#1a1a1a" stroke-width="0.22" >0</text>
<line x1="352.4" y1="539.5" x2="354.4" y2="539.5" stroke="#1a1a1a" stroke-width="1.0" />
<text x="350.9" y="542.04" font-size="7.5" text-anchor="end" fill="#1a1a1a" stroke="#1a1a1a" stroke-width="0.22" >20</text>
<line x1="352.4" y1="524.5" x2="354.4" y2="524.5" stroke="#1a1a1a" stroke-width="1.0" />
<text x="350.9" y="526.81" font-size="7.5" text-anchor="end" fill="#1a1a1a" stroke="#1a1a1a" stroke-width="0.22" >40</text>
<line x1="352.4" y1="508.5" x2="354.4" y2="508.5" stroke="#1a1a1a" stroke-width="1.0" />
<text x="350.9" y="511.58" font-size="7.5" text-anchor="end" fill="#1a1a1a" stroke="#1a1a1a" stroke-width="0.22" >60</text>
<line x1="352.4" y1="493.5" x2="354.4" y2="493.5" stroke="#1a1a1a" stroke-width="1.0" />
<text x="350.9" y="496.35" font-size="7.5" text-anchor="end" fill="#1a1a1a" stroke="#1a1a1a" stroke-width="0.22" >80</text>
<line x1="352.4" y1="478.5" x2="354.4" y2="478.5" stroke="#1a1a1a" stroke-width="1.0" />
<text x="350.9" y="481.12" font-size="7.5" text-anchor="end" fill="#1a1a1a" stroke="#1a1a1a" stroke-width="0.22" >100</text>
<line x1="354.4" y1="554.5" x2="406" y2="554.5" stroke="#1a1a1a" stroke-width="1.0" />
<line x1="369.5" y1="554.65" x2="369.5" y2="556.6" stroke="#1a1a1a" stroke-width="1.0" />
<line x1="390.5" y1="554.65" x2="390.5" y2="556.6" stroke="#1a1a1a" stroke-width="1.0" />
<rect x="362.9" y="512.4" width="12.8" height="42.25" fill="white" stroke="#1010ff" stroke-width="1.4" />
<rect x="383.7" y="541.03" width="13.3" height="13.62" fill="white" stroke="#ff3030" stroke-width="1.4" />
<line x1="369.5" y1="504.47" x2="369.5" y2="518.94" stroke="#1010ff" stroke-width="0.8" />
<line x1="366.7" y1="504.5" x2="371.9" y2="504.5" stroke="#1010ff" stroke-width="0.8" />
<line x1="366.7" y1="518.5" x2="371.9" y2="518.5" stroke="#1010ff" stroke-width="0.8" />
<line x1="390.5" y1="537.67" x2="390.5" y2="543" stroke="#ff3030" stroke-width="0.8" />
<line x1="387.8" y1="537.5" x2="393" y2="537.5" stroke="#ff3030" stroke-width="0.8" />
<line x1="387.8" y1="542.5" x2="393" y2="542.5" stroke="#ff3030" stroke-width="0.8" />
<rect x="368.3" y="493.69" width="1.6" height="1.6" fill="#1010ff" stroke="none" stroke-width="1.0" />
<rect x="368.3" y="499.78" width="1.6" height="1.6" fill="#1010ff" stroke="none" stroke-width="1.0" />
<rect x="368.3" y="524.91" width="1.6" height="1.6" fill="#1010ff" stroke="none" stroke-width="1.0" />
<rect x="368.3" y="531" width="1.6" height="1.6" fill="#1010ff" stroke="none" stroke-width="1.0" />
<rect x="370.2" y="508.16" width="1.6" height="1.6" fill="#1010ff" stroke="none" stroke-width="1.0" />
<rect x="389.6" y="534.28" width="1.6" height="1.6" fill="#ff3030" stroke="none" stroke-width="1.0" />
<rect x="387.7" y="536.72" width="1.6" height="1.6" fill="#ff3030" stroke="none" stroke-width="1.0" />
<rect x="391.5" y="538.62" width="1.6" height="1.6" fill="#ff3030" stroke="none" stroke-width="1.0" />
<rect x="389.6" y="543.95" width="1.6" height="1.6" fill="#ff3030" stroke="none" stroke-width="1.0" />
<polyline points="369.5,488.4 369.5,484.5 390.5,484.5 390.5,529" fill="none" stroke="#1a1a1a" stroke-width="1.3" stroke-linejoin="miter"/>
<text x="380" y="484.5" font-size="5.2" text-anchor="middle" font-weight="bold" fill="#1a1a1a" stroke="#1a1a1a" stroke-width="0.45" stroke-linejoin="round" letter-spacing="1.0" >*</text>
<text x="334.8" y="514.4" font-size="7.6" text-anchor="middle" fill="#1a1a1a" stroke="#1a1a1a" stroke-width="0.22" transform="rotate(-90 334.8 514.4)" >Triglyceride (μg/mg liver weight)</text>
<text x="370.9" y="563.2" font-size="7.3" text-anchor="end" fill="#1a1a1a" stroke="#1a1a1a" stroke-width="0.22" transform="rotate(-45 370.9 563.2)" ><tspan font-style="italic">Atgl</tspan><tspan font-style="italic" font-size="4.8" dy="-2.6">+/+</tspan></text>
<text x="392.4" y="563.4" font-size="7.3" text-anchor="end" fill="#1a1a1a" stroke="#1a1a1a" stroke-width="0.22" transform="rotate(-45 392.4 563.4)" ><tspan font-style="italic">Atgl</tspan><tspan font-style="italic" font-size="4.8" dy="-2.6">F2A/F2A</tspan></text>
<line x1="450.5" y1="477.6" x2="450.5" y2="553.3" stroke="#1a1a1a" stroke-width="1.0" />
<line x1="448.8" y1="553.5" x2="450.8" y2="553.5" stroke="#1a1a1a" stroke-width="1.0" />
<text x="447.3" y="555.92" font-size="7.5" text-anchor="end" fill="#1a1a1a" stroke="#1a1a1a" stroke-width="0.22" >0</text>
<line x1="448.8" y1="534.5" x2="450.8" y2="534.5" stroke="#1a1a1a" stroke-width="1.0" />
<text x="447.3" y="537" font-size="7.5" text-anchor="end" fill="#1a1a1a" stroke="#1a1a1a" stroke-width="0.22" >10</text>
<line x1="448.8" y1="515.5" x2="450.8" y2="515.5" stroke="#1a1a1a" stroke-width="1.0" />
<text x="447.3" y="518.07" font-size="7.5" text-anchor="end" fill="#1a1a1a" stroke="#1a1a1a" stroke-width="0.22" >20</text>
<line x1="448.8" y1="496.5" x2="450.8" y2="496.5" stroke="#1a1a1a" stroke-width="1.0" />
<text x="447.3" y="499.15" font-size="7.5" text-anchor="end" fill="#1a1a1a" stroke="#1a1a1a" stroke-width="0.22" >30</text>
<line x1="448.8" y1="477.5" x2="450.8" y2="477.5" stroke="#1a1a1a" stroke-width="1.0" />
<text x="447.3" y="480.22" font-size="7.5" text-anchor="end" fill="#1a1a1a" stroke="#1a1a1a" stroke-width="0.22" >40</text>
<line x1="450.8" y1="553.5" x2="501.3" y2="553.5" stroke="#1a1a1a" stroke-width="1.0" />
<line x1="465.5" y1="553.3" x2="465.5" y2="555.3" stroke="#1a1a1a" stroke-width="1.0" />
<line x1="486.5" y1="553.3" x2="486.5" y2="555.3" stroke="#1a1a1a" stroke-width="1.0" />
<rect x="459.1" y="504.61" width="12.1" height="48.69" fill="white" stroke="#1010ff" stroke-width="1.4" />
<rect x="480.4" y="533.75" width="12.5" height="19.55" fill="white" stroke="#ff3030" stroke-width="1.4" />
<line x1="465.5" y1="495.58" x2="465.5" y2="512.23" stroke="#1010ff" stroke-width="0.8" />
<line x1="462.5" y1="495.5" x2="467.7" y2="495.5" stroke="#1010ff" stroke-width="0.8" />
<line x1="462.5" y1="512.5" x2="467.7" y2="512.5" stroke="#1010ff" stroke-width="0.8" />
<line x1="486.5" y1="529.45" x2="486.5" y2="536.65" stroke="#ff3030" stroke-width="0.8" />
<line x1="484" y1="529.5" x2="489.2" y2="529.5" stroke="#ff3030" stroke-width="0.8" />
<line x1="484" y1="536.5" x2="489.2" y2="536.5" stroke="#ff3030" stroke-width="0.8" />
<rect x="464.2" y="482.48" width="1.6" height="1.6" fill="#1010ff" stroke="none" stroke-width="1.0" />
<rect x="464.2" y="489.29" width="1.6" height="1.6" fill="#1010ff" stroke="none" stroke-width="1.0" />
<rect x="464.2" y="495.35" width="1.6" height="1.6" fill="#1010ff" stroke="none" stroke-width="1.0" />
<rect x="464.2" y="518.62" width="1.6" height="1.6" fill="#1010ff" stroke="none" stroke-width="1.0" />
<rect x="464.2" y="525.63" width="1.6" height="1.6" fill="#1010ff" stroke="none" stroke-width="1.0" />
<rect x="485.8" y="526.57" width="1.6" height="1.6" fill="#ff3030" stroke="none" stroke-width="1.0" />
<rect x="485.8" y="540.39" width="1.6" height="1.6" fill="#ff3030" stroke="none" stroke-width="1.0" />
<rect x="487.2" y="532.63" width="1.6" height="1.6" fill="#ff3030" stroke="none" stroke-width="1.0" />
<polyline points="464.5,479.7 464.5,476.5 486.5,476.5 486.5,524.7" fill="none" stroke="#1a1a1a" stroke-width="1.3" stroke-linejoin="miter"/>
<text x="474.5" y="476" font-size="5.2" text-anchor="middle" font-weight="bold" fill="#1a1a1a" stroke="#1a1a1a" stroke-width="0.45" stroke-linejoin="round" letter-spacing="1.0" >*</text>
<text x="434.8" y="513.5" font-size="7.6" text-anchor="middle" fill="#1a1a1a" stroke="#1a1a1a" stroke-width="0.22" transform="rotate(-90 434.8 513.5)" >Cholesterol (μg/mg liver weight)</text>
<text x="466.7" y="562" font-size="7.3" text-anchor="end" fill="#1a1a1a" stroke="#1a1a1a" stroke-width="0.22" transform="rotate(-45 466.7 562)" ><tspan font-style="italic">Atgl</tspan><tspan font-style="italic" font-size="4.8" dy="-2.6">+/+</tspan></text>
<text x="488.4" y="562.2" font-size="7.3" text-anchor="end" fill="#1a1a1a" stroke="#1a1a1a" stroke-width="0.22" transform="rotate(-45 488.4 562.2)" ><tspan font-style="italic">Atgl</tspan><tspan font-style="italic" font-size="4.8" dy="-2.6">F2A/F2A</tspan></text>
<text x="2.8" y="620" font-size="18" text-anchor="start" font-weight="bold" fill="#1a1a1a" >L</text>
<text x="48.8" y="635" font-size="11.2" text-anchor="start" fill="#1a1a1a" stroke="#1a1a1a" stroke-width="0.22" ><tspan font-style="italic">Atgl</tspan><tspan font-style="italic" font-size="6.9" dx="0.9" dy="-4.0">+/+</tspan></text>
<text x="108.1" y="635" font-size="11.2" text-anchor="start" fill="#1a1a1a" stroke="#1a1a1a" stroke-width="0.22" ><tspan font-style="italic">Atgl</tspan><tspan font-size="7.1" dx="0.3" dy="-3.5">F2A/F2A</tspan></text>
<clipPath id="c5"><rect x="26.7" y="641.2" width="69.5" height="59.6"/></clipPath>
<g clip-path="url(#c5)">
<rect x="26.7" y="641.2" width="69.5" height="59.6" fill="#c06cc6" stroke="none" stroke-width="1.0" />
<path d="M35.6 693.6h0M61.4 678.4h0M68.5 645.0h0M28.7 674.0h0M37.0 676.3h0M91.2 658.7h0M31.6 694.0h0M35.7 655.5h0M92.6 649.8h0M69.9 659.6h0M52.3 661.4h0M62.2 693.9h0M72.8 680.4h0M45.8 648.5h0M36.3 664.7h0M81.5 647.3h0M73.3 683.3h0M62.3 692.2h0M83.5 646.8h0M64.9 671.0h0M94.9 655.8h0M40.9 658.2h0M65.2 685.7h0M60.3 699.4h0M51.3 657.8h0M67.8 673.5h0M43.1 659.7h0M82.5 644.9h0M87.0 677.1h0M35.6 650.5h0M59.2 682.2h0M46.0 685.7h0M32.5 649.7h0M89.0 676.7h0M56.6 653.6h0M37.0 686.7h0M73.5 658.2h0M40.8 682.3h0M89.3 679.8h0M41.8 675.5h0M29.0 654.2h0M40.7 690.9h0M50.7 662.3h0M59.3 687.1h0M89.7 669.5h0M75.2 667.9h0M50.3 683.6h0M27.9 661.5h0M37.8 686.7h0M96.0 667.7h0M58.7 685.3h0M74.7 682.8h0M30.5 697.5h0M29.1 665.6h0M85.5 662.0h0M67.6 700.5h0M48.2 672.0h0M48.8 666.1h0M32.9 683.0h0M38.7 656.1h0M28.4 698.3h0M85.0 686.1h0M59.1 679.9h0M35.5 658.6h0M78.1 689.4h0M40.3 696.0h0M31.0 688.4h0M68.3 695.6h0M89.0 646.7h0M28.6 685.4h0M82.7 692.8h0M39.9 669.6h0M33.2 646.0h0M27.9 673.5h0M47.1 655.7h0M77.2 643.1h0M61.0 697.0h0M86.0 690.8h0M41.8 679.0h0M48.6 685.8h0M44.6 681.2h0M94.7 668.8h0M92.1 648.4h0M50.4 658.4h0M57.0 671.4h0M48.5 675.9h0M78.6 659.2h0M29.5 648.8h0M31.4 661.6h0M54.8 652.3h0M43.7 696.7h0M85.4 654.4h0M78.3 664.7h0M64.6 673.5h0M72.7 656.2h0M74.8 670.7h0M81.0 674.1h0M91.2 644.1h0M37.1 697.7h0M70.2 673.3h0M36.7 649.9h0M57.5 699.8h0M81.3 651.2h0M88.9 684.6h0M79.5 670.0h0M29.2 656.6h0M51.7 663.8h0M38.0 669.9h0M96.1 663.3h0M36.7 655.9h0M43.7 666.0h0M51.5 667.2h0M30.9 682.2h0M87.2 653.0h0M70.9 643.9h0M37.8 690.9h0M61.3 645.3h0M32.2 678.8h0M69.2 673.9h0M42.8 699.3h0M29.4 652.5h0M34.7 694.1h0M65.3 649.0h0M71.0 651.4h0M49.3 680.2h0M71.4 651.1h0M51.2 676.2h0M35.8 681.4h0M48.6 648.7h0M54.2 688.3h0M90.1 666.4h0M34.7 698.8h0M32.7 641.9h0M65.7 645.9h0M93.7 678.2h0M89.8 656.5h0M75.4 665.2h0M31.3 695.4h0M82.7 661.7h0M74.2 644.3h0M36.7 649.7h0M59.0 674.3h0M30.1 687.4h0M82.4 686.4h0M76.6 669.3h0M82.6 655.5h0M79.5 648.9h0M45.3 654.5h0M81.6 653.1h0M44.0 695.3h0M36.3 665.5h0M53.8 648.2h0M61.3 679.2h0M46.6 668.5h0M68.8 642.9h0M68.6 699.6h0M43.4 697.6h0M70.0 656.9h0M51.5 690.8h0M77.8 668.3h0M46.9 681.4h0M82.2 680.1h0M55.6 684.8h0M65.2 667.5h0M73.5 649.9h0M62.7 689.1h0M44.6 667.4h0M94.8 667.5h0M33.4 686.5h0M49.3 682.0h0M64.9 700.1h0M28.7 664.3h0M37.5 679.0h0M82.2 646.2h0M81.2 647.9h0M71.0 656.4h0M89.4 657.9h0M79.2 667.8h0M47.5 654.8h0M71.5 697.0h0M50.3 666.7h0M78.8 664.0h0M53.4 695.0h0M37.4 688.6h0M87.6 687.1h0M74.7 695.7h0M78.5 685.1h0M65.6 659.4h0M81.1 698.5h0M57.8 642.8h0M66.0 694.7h0M31.0 666.2h0M65.3 661.3h0M83.3 669.5h0M75.7 665.0h0M82.5 692.5h0M61.2 689.2h0M88.0 685.7h0M34.2 655.1h0M87.6 667.4h0M52.5 645.7h0M33.0 685.5h0M69.7 643.7h0M58.3 664.8h0M56.5 650.2h0M85.9 692.0h0M36.3 695.9h0M69.6 658.5h0M55.5 693.2h0M63.4 651.8h0M61.4 683.6h0M36.0 656.1h0M62.3 667.8h0M86.6 677.6h0M38.6 662.1h0M27.5 653.0h0M31.4 676.2h0M58.7 688.5h0M94.4 700.6h0M29.8 660.4h0M95.6 656.6h0M64.0 645.8h0M35.0 653.4h0M55.8 642.7h0M41.1 656.1h0M76.3 684.5h0M64.3 648.0h0M46.7 679.7h0M44.5 658.8h0M87.0 654.8h0M80.0 670.0h0M57.0 667.2h0M54.9 667.8h0M78.0 648.2h0M94.2 674.9h0M32.2 695.0h0M37.8 641.8h0M51.9 646.0h0M62.0 676.1h0M31.7 660.2h0M30.4 656.2h0M42.0 700.1h0M53.5 659.6h0M78.1 696.1h0M69.1 678.0h0M28.7 643.0h0M29.8 657.0h0M58.1 645.7h0M87.5 673.3h0M90.3 695.3h0M52.1 644.3h0M88.4 642.9h0M91.3 642.9h0M55.0 657.5h0M78.6 651.1h0M52.1 698.9h0M37.4 687.4h0M66.7 697.2h0M32.7 675.8h0M72.8 690.1h0M82.9 683.4h0M90.3 658.6h0M57.8 680.1h0M34.9 658.4h0M89.4 668.9h0M87.2 690.2h0M93.9 654.4h0M68.0 651.6h0M73.5 692.0h0M52.6 668.8h0M39.4 651.6h0M47.0 660.1h0M76.8 657.9h0M49.3 694.6h0M74.8 669.4h0M61.6 696.0h0M57.9 669.2h0M94.0 697.2h0M38.2 695.8h0M60.6 675.0h0M37.8 688.1h0M91.9 658.3h0M60.7 648.1h0M49.8 677.2h0M38.4 644.5h0M68.0 669.1h0M54.4 678.2h0M35.5 686.9h0M28.9 694.6h0M53.9 653.4h0M67.2 692.8h0M62.8 670.8h0M89.3 678.3h0M90.1 668.7h0M91.8 691.7h0M82.3 659.1h0M59.9 641.7h0M63.1 690.6h0M54.3 680.6h0M54.5 683.9h0M29.6 648.6h0M82.2 653.5h0M43.8 678.5h0M28.7 685.7h0M59.1 680.6h0M76.6 676.7h0M57.0 680.2h0M52.0 650.0h0M72.5 668.1h0M38.0 660.8h0M27.5 685.1h0M67.9 672.0h0M63.6 684.1h0M86.9 682.6h0M55.6 695.2h0M81.3 692.2h0M27.9 644.3h0M28.6 681.0h0M68.3 663.5h0M42.4 647.2h0M31.4 669.7h0M35.6 691.5h0M52.7 688.7h0M50.1 647.5h0M65.9 653.3h0M88.4 682.6h0M52.1 698.9h0M39.5 645.8h0M66.9 646.5h0M26.8 682.7h0M53.4 677.9h0M48.7 689.5h0M53.6 653.0h0M30.2 670.7h0M65.2 688.9h0M70.1 664.0h0M78.8 665.0h0M93.2 643.2h0M51.4 688.8h0M72.3 667.8h0M57.4 663.7h0M41.6 680.3h0M88.5 692.0h0M78.5 692.8h0M92.2 661.6h0M83.8 677.5h0M90.5 664.3h0M35.6 691.2h0M27.8 688.5h0M40.5 680.6h0M55.3 690.3h0M74.5 671.6h0M57.2 675.2h0M62.4 650.9h0M79.6 683.4h0M31.6 658.4h0M73.8 674.7h0M30.1 641.3h0M44.0 664.9h0M76.9 677.9h0M74.2 678.8h0M54.9 674.8h0M47.2 656.2h0M84.3 680.2h0M45.8 680.6h0M28.9 676.4h0M43.9 663.7h0M28.2 650.3h0M83.0 674.4h0M35.2 644.3h0M94.4 695.8h0M41.5 662.2h0M48.0 658.1h0M67.4 668.1h0M48.1 647.4h0M53.1 693.9h0M33.9 699.6h0M53.7 690.3h0M28.5 675.4h0M42.3 697.3h0M89.9 660.9h0M46.2 668.9h0M45.5 651.4h0M73.9 666.5h0M88.1 696.5h0M47.3 680.7h0M52.9 673.7h0M76.4 673.1h0M81.8 679.0h0M69.4 677.6h0M39.1 668.2h0M39.3 671.6h0M79.4 647.2h0M75.8 667.6h0M89.0 681.4h0M80.9 654.5h0M56.0 657.7h0M36.0 689.2h0M88.6 649.3h0M75.0 652.8h0M66.8 690.0h0M74.1 648.4h0M53.5 659.1h0M50.6 695.5h0M66.7 665.8h0M60.3 689.9h0M76.0 686.8h0M91.8 642.4h0M85.6 654.3h0M53.6 695.5h0M52.6 660.3h0M91.1 665.3h0M54.1 696.9h0M82.3 647.7h0M33.1 699.1h0M58.1 679.7h0M62.6 678.7h0M82.9 641.3h0M87.7 678.8h0M37.3 690.2h0M69.6 664.7h0M70.4 645.6h0M37.2 649.1h0M84.6 645.8h0M65.2 665.9h0M93.5 689.9h0M39.6 644.7h0M63.2 665.4h0M49.2 665.1h0M71.4 664.9h0M69.0 672.6h0M62.3 673.1h0M49.3 653.4h0M61.7 688.5h0M52.6 672.0h0M88.6 662.2h0M58.8 698.7h0M59.7 683.3h0M44.7 650.9h0M44.3 699.0h0M93.0 675.7h0M48.5 661.5h0M87.0 655.4h0M68.0 645.2h0M94.8 655.7h0M38.1 658.4h0M92.1 661.7h0M80.4 700.1h0M66.2 676.5h0M76.0 652.7h0M76.9 663.3h0M57.9 667.0h0M70.8 646.2h0M42.6 669.1h0M28.2 671.5h0M73.7 695.4h0M59.7 667.0h0M89.6 682.2h0M45.1 681.7h0M83.5 651.6h0M95.2 675.0h0M89.1 668.0h0M93.7 650.9h0M37.8 642.6h0M38.2 700.6h0M42.6 646.6h0M51.8 694.0h0M34.7 663.0h0M37.2 646.1h0M28.0 698.7h0M91.6 680.6h0M51.8 665.3h0M70.2 691.1h0M58.3 683.4h0M78.3 666.0h0M82.7 684.0h0M53.3 685.2h0M63.9 651.5h0M33.5 683.9h0M46.5 695.8h0M42.2 682.2h0M48.1 688.8h0M49.2 700.2h0M66.7 688.7h0M49.8 669.2h0M49.4 674.7h0M84.5 686.9h0M27.5 678.9h0M27.1 645.4h0M30.7 644.8h0M86.9 657.4h0M70.7 690.0h0M77.3 654.4h0M93.3 660.2h0M41.9 690.3h0M90.6 648.9h0M43.6 657.9h0M62.8 656.5h0M74.0 644.0h0M82.1 685.5h0M43.9 660.3h0M59.9 665.5h0M29.9 661.0h0M46.7 645.1h0M94.9 691.6h0M89.6 649.2h0M67.2 658.2h0M81.4 684.2h0M89.4 662.0h0M49.8 671.4h0M94.8 660.9h0M57.9 674.6h0M37.7 660.1h0M63.5 668.4h0M68.0 641.7h0M74.9 642.1h0M73.3 671.4h0M29.6 689.9h0M71.1 700.7h0M90.8 689.1h0M73.3 672.5h0M94.5 679.6h0M62.2 681.2h0M83.0 684.7h0M36.4 700.3h0M88.9 661.7h0M57.0 667.8h0M87.6 687.6h0M49.0 654.1h0M70.1 646.9h0M85.5 694.8h0M76.1 642.2h0M69.8 694.5h0M94.2 695.7h0M32.8 651.1h0M33.8 686.2h0M65.0 658.4h0M93.1 657.4h0M74.4 699.8h0M48.2 694.1h0M34.2 686.8h0M57.9 667.2h0M60.1 700.0h0M59.2 675.2h0M69.7 699.6h0M45.7 684.2h0M87.9 644.0h0M46.7 688.8h0M34.1 691.1h0M51.0 693.7h0M91.7 678.3h0M37.8 643.4h0M46.0 692.9h0M91.1 666.4h0M50.9 652.9h0M85.3 653.6h0M29.9 653.2h0M88.4 689.8h0M43.2 645.5h0M39.2 695.9h0M78.3 642.2h0M95.5 684.3h0M93.4 654.9h0M79.0 671.9h0M90.2 651.8h0M95.3 694.8h0M65.1 650.5h0M36.8 669.0h0M85.7 677.5h0M54.2 668.2h0M48.4 654.1h0M61.5 658.5h0M29.1 696.9h0M28.0 648.7h0M45.1 642.2h0M68.1 695.4h0M78.8 694.0h0M93.2 682.0h0M83.6 669.3h0M92.1 697.9h0M70.9 665.8h0M77.7 642.0h0M67.5 667.1h0M32.4 672.7h0M31.0 673.9h0M79.5 694.1h0M40.8 645.2h0M81.6 692.1h0M59.0 672.3h0M27.2 684.8h0M65.7 665.9h0M57.5 658.9h0M31.8 661.2h0M44.8 657.6h0M48.0 668.2h0M50.7 676.8h0M75.8 690.7h0M38.3 651.6h0M57.5 668.0h0M68.9 672.9h0M92.5 690.0h0M34.7 683.5h0M32.2 678.3h0M40.0 681.4h0M42.0 667.9h0M38.0 689.3h0M32.0 691.1h0M41.3 674.9h0M42.2 648.2h0M60.0 666.6h0M71.7 657.0h0M52.0 652.6h0M38.4 658.9h0M33.3 690.0h0M45.0 661.9h0M38.6 666.8h0M60.1 664.0h0M87.2 652.2h0M76.5 675.3h0M40.8 666.0h0M29.2 697.0h0M31.4 678.1h0M57.0 699.5h0M52.0 692.4h0M74.1 670.4h0M32.5 642.2h0M44.4 653.9h0M74.4 648.3h0M66.2 685.2h0M62.6 649.4h0M89.4 679.6h0M34.6 660.4h0M40.3 669.8h0M66.0 686.3h0M66.0 659.0h0M94.8 651.4h0M94.6 658.4h0M67.5 697.4h0M79.4 674.1h0M75.2 658.3h0M35.9 649.9h0M68.6 645.3h0M48.0 661.1h0M51.6 677.8h0M37.6 668.4h0M27.3 689.6h0M86.0 700.5h0M76.5 675.2h0M79.0 661.8h0M46.7 688.6h0M55.7 646.5h0M38.9 686.5h0M68.6 693.7h0M85.0 687.5h0M80.8 647.1h0M91.6 675.8h0M44.8 689.0h0M75.4 665.7h0M35.5 691.5h0M64.0 651.1h0M34.4 672.7h0M64.3 674.5h0M64.4 688.2h0M50.8 665.8h0M51.0 656.6h0M76.1 683.6h0M60.1 648.0h0M55.0 663.1h0M34.5 669.1h0M46.3 688.2h0M85.6 666.5h0M94.3 674.7h0M52.6 681.6h0M87.2 681.5h0M87.4 698.6h0M41.9 668.8h0M45.7 675.3h0M75.1 642.4h0M48.0 652.6h0M93.1 656.0h0M52.1 653.8h0M77.4 672.1h0M75.9 653.1h0M41.5 675.2h0M86.9 690.4h0M49.5 645.5h0M34.4 655.7h0M30.2 670.8h0M58.1 644.0h0M70.7 649.7h0M45.6 675.5h0M85.2 665.0h0M45.3 695.1h0M85.6 675.2h0M29.0 686.3h0M45.0 661.8h0M37.8 663.7h0M57.8 692.1h0M51.1 677.9h0M54.1 695.7h0M85.9 656.2h0M67.0 648.0h0M68.8 681.6h0M53.8 648.7h0M82.9 645.7h0M61.6 664.5h0M78.5 682.1h0M90.2 662.7h0M69.2 686.1h0M56.9 668.3h0M45.0 658.2h0M90.1 673.0h0M79.9 677.2h0M82.3 650.1h0M42.1 676.5h0M57.1 651.2h0M88.1 698.9h0M43.8 672.9h0M83.3 653.4h0M64.1 643.7h0M41.9 654.0h0M52.8 660.2h0M32.0 675.4h0M73.5 680.7h0M77.2 683.6h0M28.7 667.5h0M47.6 678.8h0M80.1 674.2h0M40.6 658.9h0M64.0 654.3h0M82.7 665.0h0M66.3 682.3h0M35.2 649.2h0M89.9 679.1h0M78.6 642.4h0M66.0 652.1h0M49.8 681.1h0M67.2 689.4h0M53.9 686.9h0M34.9 681.9h0M35.2 656.3h0M29.8 700.1h0M38.5 677.0h0M43.8 695.4h0M70.9 697.0h0M67.0 655.4h0M67.7 699.0h0M83.8 646.0h0M33.3 679.2h0M53.7 656.5h0M32.2 646.8h0M55.8 675.1h0M32.2 653.9h0M31.3 688.1h0M33.9 668.7h0M53.8 657.3h0M79.7 641.9h0M46.3 682.4h0M78.3 679.1h0M42.9 689.2h0M46.7 664.0h0M59.5 695.7h0M31.9 642.6h0M57.9 696.0h0M67.3 686.8h0M84.0 647.3h0M30.6 700.0h0M82.3 646.6h0M66.3 686.0h0M66.9 655.8h0M30.3 682.4h0M87.9 691.1h0M46.0 648.2h0M64.7 660.5h0M64.1 694.6h0M90.0 669.7h0M68.5 650.3h0M95.6 646.4h0M42.8 648.5h0M72.7 647.5h0M66.8 662.5h0M62.4 687.5h0M70.3 668.2h0M65.0 647.1h0M50.1 662.2h0M71.3 670.0h0M32.5 667.9h0M60.0 679.4h0M58.2 681.8h0M41.5 685.8h0M66.2 673.1h0M73.3 643.0h0M35.4 687.1h0M47.3 687.9h0M31.0 684.7h0M68.2 667.3h0M32.4 694.1h0M42.6 646.9h0M57.8 685.3h0M58.1 676.7h0M29.0 682.9h0M92.5 645.2h0M42.7 698.9h0M69.1 643.0h0M42.1 651.7h0M68.1 672.0h0M51.2 675.3h0M48.8 651.8h0M59.7 658.3h0M67.4 695.7h0M68.3 660.4h0M74.6 667.7h0M45.4 647.8h0M33.1 675.1h0M44.3 683.0h0M49.4 685.4h0M68.9 655.1h0M55.5 663.2h0M48.3 680.2h0M33.5 699.2h0M68.2 687.1h0M34.3 654.3h0M62.6 645.1h0M74.5 660.8h0M70.0 672.7h0M37.8 657.4h0M51.4 688.3h0M92.1 656.5h0M33.0 648.6h0M73.9 677.1h0M57.0 686.5h0M69.3 653.4h0M54.1 661.1h0M35.3 656.7h0M65.8 642.9h0M27.1 681.9h0M86.8 644.2h0M82.2 677.7h0M52.7 678.6h0M64.0 672.8h0M63.4 643.7h0M94.8 643.4h0M29.7 671.9h0M47.4 670.4h0M55.0 642.1h0M81.4 641.8h0M77.4 687.3h0M56.1 660.5h0M27.5 683.9h0M71.7 653.0h0M55.0 657.0h0M34.8 694.7h0M70.6 653.0h0M57.6 665.5h0M48.0 670.9h0M45.4 683.6h0M62.9 660.3h0M43.9 679.9h0M54.0 654.4h0M92.2 681.8h0M59.9 642.5h0M44.3 652.3h0M62.9 644.8h0M90.5 647.3h0M86.9 685.8h0M73.8 668.9h0M89.2 687.9h0M79.3 699.3h0M74.0 652.3h0M56.5 687.0h0M37.1 699.1h0M77.6 659.6h0M70.8 645.8h0M94.0 668.7h0M49.0 673.5h0M87.6 682.2h0M41.9 675.2h0M92.5 659.2h0M95.9 650.9h0M30.0 661.5h0M49.3 669.1h0M96.1 652.3h0M94.0 659.0h0M73.3 693.9h0M36.0 666.4h0M27.2 648.7h0M44.0 680.9h0M92.3 662.4h0M82.6 671.9h0M56.5 664.6h0M79.6 648.0h0M89.4 685.1h0M47.5 675.1h0M87.5 700.1h0M45.4 641.5h0M49.5 675.6h0M29.8 666.6h0M37.8 667.1h0M65.0 684.3h0M28.4 655.6h0M64.6 665.0h0M38.5 649.1h0M78.7 675.0h0M35.6 667.3h0M41.1 643.7h0M45.4 654.9h0M67.2 664.8h0M82.9 672.9h0M79.0 646.7h0M78.2 678.1h0M74.1 689.9h0M64.5 661.0h0M50.5 645.2h0M39.2 649.9h0M86.7 686.7h0M55.1 672.9h0M71.9 649.3h0M31.4 651.2h0M51.8 690.9h0M33.7 681.7h0M51.3 682.7h0M77.7 649.6h0M50.4 700.2h0M74.1 656.3h0M35.3 662.3h0M53.5 655.1h0M55.2 697.4h0M62.1 678.8h0M42.6 674.2h0M75.3 665.9h0M88.0 683.9h0M83.2 669.1h0M28.8 668.7h0M60.6 650.2h0M50.6 690.3h0M66.5 645.1h0M32.5 695.3h0M77.4 695.8h0M55.7 672.4h0M92.3 650.9h0M28.0 654.2h0M55.7 649.5h0M60.5 683.0h0M84.5 662.8h0M79.3 699.7h0M39.4 661.5h0M48.1 660.9h0M77.8 681.5h0M55.9 693.5h0M45.0 672.6h0M91.4 648.5h0M85.3 651.4h0M51.4 683.8h0M64.9 686.8h0M91.3 700.2h0M41.8 675.4h0M89.9 687.8h0M88.2 681.4h0M77.2 674.0h0M74.4 689.4h0M74.3 653.3h0M64.5 650.3h0M67.2 659.7h0M40.4 664.1h0M65.8 697.8h0M73.5 690.4h0M60.4 685.6h0M73.9 694.3h0M58.5 664.1h0M82.5 699.9h0M76.8 695.3h0M32.9 652.2h0M80.2 663.7h0M46.5 659.6h0M32.4 652.7h0M35.1 697.1h0M49.2 664.5h0M63.2 693.0h0M49.6 676.8h0M40.8 644.8h0M80.2 667.0h0M52.7 687.7h0M87.4 660.2h0M43.7 658.6h0M74.6 646.8h0M51.5 669.5h0M85.8 697.4h0M71.6 642.3h0M73.9 694.1h0M33.2 676.9h0M78.9 657.9h0M51.3 694.7h0M78.1 696.5h0M85.4 699.2h0M35.2 668.8h0M27.8 665.9h0M79.4 680.8h0M94.0 694.2h0M89.3 662.1h0M57.0 661.0h0M84.6 665.6h0M28.3 642.5h0M30.8 691.3h0M67.1 668.5h0M63.4 669.0h0M84.0 678.9h0M42.9 689.4h0M58.9 683.2h0M95.5 661.1h0M47.7 658.8h0M54.8 661.1h0M68.9 672.9h0M95.9 689.5h0M39.4 641.7h0M74.7 677.3h0M55.5 691.5h0M54.6 674.7h0M44.5 663.9h0M59.0 669.5h0M66.6 671.9h0M54.0 678.6h0M61.8 645.7h0M70.9 688.4h0M85.9 674.1h0M65.7 657.7h0M53.3 695.8h0M93.5 665.0h0M38.7 687.4h0M29.9 658.9h0M89.8 673.9h0M45.2 652.5h0M37.2 657.5h0M53.5 660.8h0M50.5 649.8h0M51.3 686.5h0M85.9 668.1h0M46.9 661.9h0M35.9 676.1h0M41.7 654.9h0M92.7 667.3h0M56.5 675.0h0M51.8 677.9h0M80.7 666.4h0M91.7 685.5h0M62.2 692.9h0M83.3 698.6h0M45.1 674.6h0M51.1 698.7h0M66.8 697.1h0M43.1 680.3h0M45.8 649.2h0M39.7 679.4h0M44.9 672.9h0M85.0 683.1h0M81.9 657.3h0M34.6 700.4h0M51.0 661.8h0M76.9 700.8h0M86.5 657.7h0M65.6 669.7h0M77.2 681.8h0M43.2 656.7h0M81.0 665.4h0M83.8 680.6h0M55.0 686.1h0M43.1 695.8h0M29.0 674.1h0M70.5 698.6h0M70.7 658.0h0M26.8 677.5h0M62.9 686.3h0M91.9 646.2h0M28.7 688.1h0M36.2 690.0h0M30.7 674.7h0M57.0 696.3h0M53.4 682.9h0M87.2 663.1h0M31.3 689.3h0M40.6 672.1h0M91.9 681.9h0M28.0 700.1h0M44.7 682.7h0M54.1 687.5h0M26.7 689.8h0M46.7 653.1h0M68.6 643.4h0M69.5 645.7h0M69.0 668.9h0M71.9 698.8h0M69.4 667.8h0M29.1 696.3h0M72.2 658.7h0M67.3 649.7h0M41.8 665.4h0M55.9 691.5h0M43.2 698.9h0M87.0 673.3h0M46.1 663.9h0M38.0 688.1h0M82.1 666.5h0M79.6 659.2h0M85.9 686.3h0M73.8 646.1h0M55.7 687.5h0M59.7 698.1h0M65.3 647.3h0M68.1 687.8h0M92.4 642.6h0M45.1 648.6h0M80.1 658.6h0M27.9 700.8h0M39.9 644.4h0M92.3 668.4h0M44.2 667.6h0M62.2 651.7h0M90.4 699.5h0M72.2 655.3h0M60.6 694.9h0M75.5 673.6h0M94.7 683.7h0M92.1 685.5h0M39.3 681.4h0M36.4 689.4h0M46.7 693.7h0M36.8 649.6h0M79.8 646.5h0M84.6 668.2h0M36.5 647.6h0M31.8 676.4h0M49.2 697.3h0M74.4 671.9h0M80.2 651.2h0M58.7 648.2h0M71.1 672.9h0M90.5 685.5h0M87.9 689.3h0M34.9 686.2h0M76.3 668.9h0M80.7 693.4h0M89.8 673.4h0M55.8 681.9h0M37.5 641.3h0M59.6 670.4h0M52.4 646.4h0M54.1 653.9h0M82.5 659.2h0M72.0 675.4h0M74.0 645.8h0M72.1 683.6h0M36.5 664.7h0M30.8 654.2h0M54.2 698.2h0M85.8 680.6h0M71.8 661.2h0M81.7 648.5h0M70.0 670.4h0M81.2 687.2h0M95.9 671.7h0M76.3 659.7h0M86.6 647.9h0M94.3 654.5h0M78.2 688.3h0M83.2 650.7h0M32.2 699.7h0M29.2 684.7h0M90.9 665.2h0M43.2 652.5h0M47.9 668.9h0M36.1 698.0h0M70.8 648.3h0M28.8 655.7h0M82.2 645.8h0M47.4 684.3h0M78.4 697.9h0M90.0 674.4h0M74.7 658.9h0M56.2 698.6h0M70.1 676.2h0M86.1 698.4h0M76.1 663.4h0M44.2 649.9h0M27.2 645.4h0" stroke="#6e3c9e" stroke-width="0.9" stroke-linecap="round" fill="none" opacity="0.75"/>
<path d="M45.3 669.9h0M56.8 688.6h0M79.8 679.7h0M59.3 665.0h0M45.4 668.7h0M89.3 700.0h0M66.8 643.1h0M68.6 665.1h0M83.7 649.0h0M73.3 647.4h0M43.5 644.4h0M92.9 686.8h0M37.9 668.4h0M37.8 673.9h0M71.8 659.2h0M67.2 664.7h0M42.6 668.1h0M75.5 690.6h0M33.6 646.6h0M59.7 651.9h0M92.5 651.3h0M89.0 668.9h0M68.7 669.6h0M81.8 681.7h0M72.8 700.1h0M42.9 695.9h0M86.4 655.5h0M69.2 665.5h0M68.1 672.8h0M92.9 688.3h0M65.6 671.7h0M49.3 650.7h0M56.1 644.2h0M65.3 661.5h0M87.3 677.4h0M85.2 651.9h0M54.3 668.3h0M60.6 664.1h0M30.2 698.4h0M71.1 682.9h0M82.5 699.3h0M40.4 672.1h0M70.9 670.5h0M36.4 699.5h0M85.0 665.5h0M77.5 674.2h0M91.6 642.6h0M46.4 651.3h0M38.5 658.3h0M66.4 655.8h0M30.7 667.0h0M83.8 694.2h0M40.9 653.7h0M36.0 644.0h0M37.0 674.7h0M75.6 662.9h0M30.1 644.0h0M56.0 686.5h0M39.3 697.1h0M81.0 685.6h0M30.5 688.9h0M40.3 686.4h0M80.3 699.5h0M62.5 649.5h0M34.7 693.5h0M95.5 683.0h0M52.5 697.8h0M55.9 691.7h0M78.2 674.1h0M60.9 680.4h0M84.4 655.9h0M63.9 661.1h0M43.8 650.1h0M63.9 665.2h0M85.0 690.4h0M46.2 661.5h0M70.9 693.8h0M67.0 652.9h0M74.9 679.8h0M51.7 655.2h0M42.5 679.1h0M72.9 688.1h0M85.6 693.5h0M59.5 686.6h0M36.2 649.7h0M82.6 682.0h0M63.4 658.7h0M74.1 671.4h0M33.7 649.6h0M81.2 667.6h0M52.6 680.4h0M88.5 648.0h0M43.9 676.3h0M27.1 694.0h0M48.9 672.6h0M77.0 660.7h0M76.7 653.5h0M85.6 668.8h0M41.3 664.7h0M68.0 682.5h0M31.8 685.3h0M42.3 682.8h0M29.9 686.4h0M70.4 688.3h0M88.9 684.4h0M68.5 656.1h0M68.6 675.6h0M89.5 664.5h0M49.6 645.8h0M65.4 678.7h0M83.0 649.7h0M40.2 682.1h0M75.6 673.2h0M32.1 645.5h0M52.4 666.3h0M39.6 673.8h0M56.8 656.1h0M40.9 696.7h0M31.0 697.9h0M57.6 647.4h0M53.8 684.0h0M77.7 666.7h0M27.7 690.9h0M70.9 697.0h0M29.8 671.0h0M60.5 679.0h0M28.1 663.1h0M90.0 680.9h0M60.6 700.3h0M59.9 661.0h0M31.6 643.0h0M81.4 699.1h0M45.2 642.8h0M59.4 682.2h0M76.9 675.8h0M81.7 665.3h0M53.5 696.6h0M30.9 648.4h0M95.2 655.4h0M44.4 690.6h0M29.6 641.6h0M69.8 656.9h0M87.4 651.3h0M32.8 666.3h0M29.9 685.1h0M73.8 698.0h0M66.5 655.8h0M44.7 642.0h0M45.1 685.4h0M80.0 695.4h0M28.2 642.1h0M43.4 677.8h0M51.9 676.6h0M80.5 674.3h0M48.5 678.6h0M30.5 657.8h0M78.4 694.5h0M74.5 654.4h0M35.6 697.5h0M77.3 697.9h0M70.0 690.8h0M52.3 664.3h0M66.9 697.7h0M61.6 654.0h0M81.8 670.5h0M92.8 671.3h0M50.4 649.5h0M33.0 700.0h0M52.0 652.0h0M68.4 669.8h0M44.5 646.3h0M37.5 657.9h0M41.4 690.7h0M85.7 681.7h0M76.3 662.9h0M35.4 679.9h0M47.5 651.4h0M45.5 680.5h0M34.5 694.2h0M85.0 642.0h0M46.8 659.1h0M66.0 656.5h0M53.3 646.5h0M31.6 695.7h0M29.2 682.3h0M75.0 677.9h0M70.3 677.7h0M60.9 681.3h0M39.0 658.2h0M50.4 653.2h0M61.9 645.8h0M41.7 650.5h0M66.8 653.0h0M85.1 688.7h0M39.1 660.4h0M91.4 664.2h0M62.0 685.3h0M94.6 698.9h0M94.0 647.4h0M31.1 676.2h0M74.1 666.1h0M43.6 652.0h0M69.9 661.4h0M88.5 687.9h0M58.5 657.2h0M72.1 674.6h0M73.1 668.4h0M39.7 642.3h0M56.3 692.4h0M46.9 692.6h0M60.3 691.0h0M79.7 667.1h0M36.8 666.8h0M65.1 681.3h0M61.7 700.0h0M53.5 670.9h0M85.2 659.0h0M51.0 669.5h0M82.3 675.3h0M31.6 678.7h0M57.2 697.2h0M34.3 675.7h0M85.5 690.2h0M72.9 669.3h0M41.5 668.2h0M52.6 695.2h0M35.5 658.2h0M88.2 659.2h0M88.7 673.8h0M88.7 647.8h0M68.8 651.0h0M45.1 672.0h0M58.4 679.4h0M72.9 699.6h0M56.3 647.9h0M30.7 643.7h0M63.2 682.2h0M32.8 694.6h0M43.0 646.7h0M83.5 658.9h0M69.4 681.8h0M82.1 679.4h0M73.9 693.0h0M72.4 680.7h0M43.9 697.7h0M75.9 658.7h0M35.5 685.6h0M28.0 676.3h0M50.3 664.7h0M37.6 684.2h0M75.0 691.6h0M46.6 675.7h0M29.1 683.9h0M80.6 665.8h0M91.7 692.5h0M76.1 664.1h0M93.1 678.4h0M81.1 676.7h0M91.3 671.8h0M73.5 695.9h0M81.2 683.1h0M82.0 676.3h0M34.8 683.7h0M48.9 683.4h0M69.6 660.9h0M49.0 660.1h0M87.4 677.5h0M30.5 649.5h0M35.6 689.5h0M49.5 687.0h0M50.5 679.4h0M84.6 661.0h0M27.7 699.5h0M84.2 685.4h0M94.3 692.5h0M30.1 684.1h0M92.9 674.5h0M72.6 658.1h0M35.9 652.0h0M84.5 689.9h0M35.0 678.2h0M53.4 655.3h0M43.3 653.6h0M53.4 670.2h0M36.8 679.0h0M53.0 686.6h0M66.2 669.8h0M59.0 656.1h0M62.9 681.6h0M88.8 648.9h0M85.9 651.4h0M34.5 663.4h0M77.8 674.7h0M82.0 642.3h0M89.9 649.3h0M54.0 683.4h0M90.9 665.7h0M65.4 667.8h0M59.3 669.3h0M62.0 651.6h0M55.4 698.7h0M74.7 696.2h0M63.7 679.0h0M87.7 646.7h0M59.3 682.2h0M30.3 689.4h0M37.6 661.2h0M55.4 650.2h0M59.5 684.5h0M83.2 679.1h0M67.7 664.6h0M38.5 658.8h0M47.7 696.6h0M64.0 646.4h0M81.8 659.7h0M76.0 669.8h0M71.2 676.3h0M44.5 656.5h0M66.3 676.6h0M43.8 647.9h0M31.2 672.9h0M79.4 646.3h0M71.9 664.4h0M95.4 683.7h0M78.6 653.1h0M44.3 650.3h0M28.6 698.7h0M56.6 666.8h0M50.3 644.6h0M62.5 666.6h0M52.7 657.4h0M30.0 689.9h0M31.5 693.6h0M51.6 686.6h0M67.6 681.4h0M38.9 675.2h0M39.2 644.6h0M42.8 680.0h0M78.2 664.3h0M79.8 658.0h0M60.6 674.9h0M30.5 655.6h0M92.1 700.0h0M87.1 676.8h0M47.6 685.8h0M27.3 647.7h0M60.9 643.4h0M38.4 651.5h0M53.1 652.2h0M54.5 674.0h0M48.4 680.3h0M90.2 694.6h0M53.8 646.9h0M34.5 670.9h0M66.7 680.5h0M88.4 666.0h0M42.8 645.5h0M62.0 647.0h0M53.0 641.7h0M73.7 660.3h0M48.4 650.8h0M44.4 697.8h0M93.5 678.8h0M83.9 647.0h0M75.6 680.9h0M72.3 671.3h0M91.6 690.7h0M30.7 652.4h0M57.3 661.9h0M70.0 670.3h0M35.7 671.7h0M95.9 649.7h0M74.4 690.7h0M79.5 650.6h0M93.8 668.8h0M66.9 675.1h0M90.2 667.3h0M52.6 661.5h0M90.8 684.2h0M62.0 672.4h0M80.6 681.9h0M45.6 686.6h0M59.8 696.3h0M65.4 670.6h0M62.5 666.1h0M90.9 696.0h0M58.5 698.7h0M87.6 693.2h0M34.4 653.3h0M41.3 695.3h0M38.9 679.7h0M39.4 672.3h0M67.4 649.0h0M33.8 650.9h0M73.5 692.8h0M87.3 658.4h0M90.8 669.4h0M30.6 666.7h0M43.8 664.2h0M57.3 666.6h0M27.7 657.9h0M73.5 694.8h0M58.3 671.9h0M56.4 658.7h0M37.5 653.9h0M31.5 689.0h0M88.1 688.2h0M68.3 690.1h0M50.8 676.7h0M87.9 660.9h0M34.8 653.8h0M54.3 663.4h0M31.8 646.5h0M81.9 657.6h0M88.1 661.9h0M46.5 648.1h0M83.6 650.3h0M92.8 648.3h0M42.7 664.4h0M93.8 696.4h0M50.0 698.4h0M75.9 647.4h0M64.0 676.7h0M51.0 641.5h0M68.5 680.9h0M26.7 678.5h0M61.6 671.8h0M61.4 657.8h0M70.8 668.9h0M79.9 643.5h0M87.9 680.2h0M82.4 687.6h0M87.3 646.3h0M52.8 700.7h0M34.1 651.8h0M71.9 695.8h0M29.8 699.5h0M93.0 666.5h0M60.2 691.3h0M44.5 674.7h0M28.9 657.4h0M85.3 682.1h0M84.7 662.6h0M36.0 650.3h0M80.4 687.2h0M32.8 652.5h0M75.1 696.9h0M63.7 653.0h0M71.3 660.4h0M36.2 689.0h0M81.8 691.0h0M81.4 665.1h0M85.2 677.5h0M54.7 697.5h0M44.7 658.5h0M64.9 657.2h0M75.2 647.4h0M79.6 682.3h0M57.9 682.4h0M69.0 648.5h0M71.6 684.1h0M67.8 658.4h0M76.6 671.7h0M48.2 674.7h0M43.0 676.0h0M46.8 674.1h0M81.7 665.0h0M94.0 683.0h0M48.8 653.7h0M72.2 693.0h0M67.1 664.3h0M87.9 687.3h0M27.7 677.5h0M69.9 668.1h0M87.1 669.6h0M93.8 672.5h0M55.6 666.1h0M60.2 674.7h0M85.1 669.6h0M91.7 691.5h0M43.1 656.8h0M88.4 686.1h0M35.0 665.7h0M30.3 692.0h0M29.0 690.5h0M31.9 645.7h0M33.4 696.5h0M43.0 689.6h0M46.7 680.3h0M94.1 652.6h0M82.5 690.8h0M33.9 676.5h0M40.1 655.0h0M74.9 679.3h0M68.4 648.3h0M57.7 682.9h0M56.3 652.7h0M78.5 659.4h0M60.8 642.6h0M76.7 663.5h0M27.5 677.3h0M33.7 680.3h0M39.6 666.0h0M67.9 657.9h0M67.1 646.9h0M87.1 662.4h0M88.3 687.8h0M82.9 696.8h0M49.7 696.1h0M30.8 646.2h0M88.2 648.8h0M91.4 663.1h0M28.4 674.5h0M27.0 644.2h0M39.1 646.5h0M51.8 690.4h0M75.8 700.6h0M58.4 667.3h0M72.6 688.4h0M83.3 683.1h0M39.0 687.0h0M48.2 666.3h0M94.2 696.6h0M64.3 648.6h0M61.0 657.1h0M65.0 679.1h0M64.7 656.1h0M77.1 691.2h0M87.2 690.2h0M70.1 688.2h0M70.6 693.5h0M66.9 679.1h0M43.3 652.1h0M79.8 660.8h0M40.5 641.5h0M44.6 664.8h0M50.3 679.1h0M63.2 682.7h0M83.6 683.8h0M51.5 656.7h0M68.6 696.2h0M56.9 673.7h0M57.7 653.6h0M93.9 697.0h0M71.7 681.3h0M27.9 681.9h0M86.8 677.4h0M61.5 641.3h0M93.7 674.1h0M35.4 684.2h0M93.4 680.9h0M72.2 654.0h0M69.9 669.5h0M61.3 684.3h0M93.9 695.0h0M84.9 654.9h0M63.1 675.3h0M52.8 645.3h0M53.7 651.7h0M59.9 663.8h0M39.2 642.2h0M42.9 662.3h0M72.7 693.1h0M80.3 659.2h0M89.7 650.2h0M37.7 647.4h0M48.2 674.1h0M39.5 665.2h0M70.2 678.5h0M47.7 665.2h0M48.9 672.6h0M31.4 665.4h0M80.4 658.4h0M91.5 641.8h0M36.2 658.1h0M60.8 685.4h0M81.3 661.8h0M87.1 687.2h0M51.1 643.7h0M30.9 683.1h0M80.0 690.4h0M76.0 655.7h0M54.2 663.8h0M95.0 656.9h0M76.5 667.2h0M66.3 696.0h0M67.7 682.7h0M32.3 647.4h0M93.4 700.6h0M95.5 681.7h0M38.1 689.7h0M80.1 691.3h0M67.0 696.0h0M54.1 687.5h0M67.7 657.3h0M35.1 685.7h0M51.0 681.0h0M49.9 666.1h0M74.0 693.1h0M63.4 641.9h0M28.5 671.3h0M46.7 693.9h0M53.4 672.9h0M51.9 664.0h0M81.4 647.6h0M84.3 652.5h0M92.8 657.0h0M92.1 700.4h0M60.7 673.9h0M65.5 659.5h0M68.6 694.1h0M62.0 677.6h0M29.3 658.8h0M34.4 680.2h0M82.0 642.7h0M79.0 672.3h0M48.3 672.6h0M40.4 645.3h0M66.2 680.6h0M85.6 642.6h0M30.5 652.8h0M72.0 685.4h0M42.4 665.1h0M44.5 684.2h0M57.4 673.3h0M38.1 668.9h0M78.5 676.5h0M33.4 642.4h0M61.1 641.4h0M73.1 697.1h0M84.4 682.3h0M65.2 652.1h0M35.7 682.5h0M82.9 696.4h0M91.9 691.1h0M28.8 679.4h0M90.3 672.5h0M69.9 678.3h0M68.2 652.1h0M53.7 667.8h0M38.0 693.4h0M68.4 662.8h0M88.2 657.2h0M28.4 672.2h0M65.3 689.6h0M71.0 693.8h0M90.6 700.7h0M27.7 698.7h0M52.4 647.6h0M35.5 668.4h0M48.3 674.1h0M89.8 681.6h0M39.2 647.8h0M51.7 662.9h0M83.8 663.6h0M78.8 677.4h0M90.4 663.2h0M35.3 660.0h0M31.7 652.3h0M42.1 680.7h0M61.1 659.6h0M73.9 653.4h0M34.9 695.5h0M70.3 664.1h0M42.1 658.2h0M93.6 646.6h0M65.3 672.2h0M36.4 661.5h0M84.6 676.1h0M61.0 659.7h0M80.2 669.2h0M64.4 648.8h0M88.2 644.9h0M46.3 696.8h0M94.1 685.0h0M28.0 666.2h0M52.9 653.1h0M37.6 680.7h0M95.3 677.1h0M28.1 678.2h0M46.7 699.5h0M53.7 662.2h0M31.9 696.5h0M90.5 667.0h0M80.3 699.3h0M64.1 699.2h0M54.9 665.9h0M40.2 670.9h0M38.2 694.5h0M54.9 694.4h0M69.3 646.9h0M86.0 671.3h0M43.6 647.1h0M86.7 691.7h0M72.7 657.3h0M37.8 660.8h0M28.9 660.3h0M28.4 684.0h0M93.7 660.5h0M43.8 667.5h0M31.3 693.3h0M72.5 667.4h0M45.9 695.9h0M92.3 695.9h0M72.8 668.3h0M88.3 655.0h0M71.9 697.1h0M77.6 674.4h0M58.7 662.4h0M56.2 644.7h0M81.0 668.8h0M39.4 643.3h0M31.3 678.6h0M90.0 664.7h0M53.3 658.6h0M65.6 654.3h0M54.1 686.3h0M78.4 694.8h0M80.7 641.7h0M39.5 672.8h0M80.4 645.9h0M48.8 643.3h0M66.3 699.8h0M60.3 659.9h0M85.5 673.0h0M55.7 695.0h0M84.1 679.5h0M92.1 662.0h0M66.7 683.0h0M83.4 687.9h0M88.4 679.7h0M42.6 664.2h0M58.1 686.2h0M89.3 663.5h0M79.6 662.8h0M85.6 658.0h0M68.6 699.2h0M53.1 648.3h0M81.4 644.3h0M50.7 658.6h0M67.2 648.6h0M41.3 663.0h0M54.6 697.1h0M57.9 697.7h0M34.6 654.8h0M33.8 658.8h0M88.2 665.2h0M95.2 697.8h0M37.9 657.0h0M52.1 686.7h0M73.6 679.3h0M36.6 693.6h0M31.3 657.7h0M89.7 696.5h0M46.3 700.6h0M93.1 664.8h0M62.9 697.0h0M67.5 684.8h0M64.2 654.6h0M62.0 667.5h0M45.4 656.2h0M70.2 695.0h0M57.3 654.9h0M85.7 693.5h0M46.8 657.7h0M40.1 694.4h0M86.5 688.5h0M63.9 684.9h0M42.6 657.2h0M80.8 683.9h0M46.6 678.6h0M76.7 661.9h0M72.3 700.0h0M47.0 698.2h0M71.3 680.1h0M60.7 695.3h0M28.8 661.1h0M94.7 651.3h0M44.8 661.2h0M53.4 675.1h0M87.9 694.9h0M74.7 691.2h0M38.5 655.6h0M71.3 690.0h0M28.2 693.9h0M78.7 676.0h0M68.7 670.7h0M72.7 669.2h0M66.2 653.0h0M51.3 656.6h0M72.3 671.4h0M58.7 671.7h0M78.7 672.8h0M29.1 667.8h0M45.1 691.8h0M37.6 651.2h0M62.2 651.8h0M69.9 696.7h0M42.0 676.1h0M92.5 678.0h0M52.5 669.3h0M27.7 666.7h0M77.2 662.1h0M34.5 673.0h0M27.7 690.5h0M46.8 643.8h0M59.3 697.4h0M43.4 652.5h0M49.7 670.4h0M35.8 690.5h0M51.5 649.1h0M82.0 680.0h0M48.3 677.3h0M67.1 674.2h0M41.3 690.7h0M35.4 648.9h0M48.8 654.3h0M29.0 695.5h0M59.6 697.8h0M75.7 648.6h0M56.0 681.2h0M42.4 647.0h0M49.3 696.9h0M83.7 697.4h0M43.5 682.4h0M49.7 669.8h0M74.4 680.0h0M44.0 674.6h0M91.3 690.4h0M38.7 690.9h0M28.4 692.5h0M56.4 691.2h0M64.3 654.4h0M66.3 653.5h0M49.2 682.7h0M80.9 674.1h0M85.4 698.9h0M60.6 644.6h0M83.7 665.3h0M82.6 692.9h0M39.1 668.0h0M36.5 649.2h0M35.9 660.7h0M32.7 698.5h0M80.7 687.2h0M53.2 691.2h0M36.5 656.7h0M64.9 689.0h0M47.3 641.5h0M30.0 654.3h0M55.5 678.5h0M84.1 680.4h0M75.7 668.4h0M95.2 698.3h0M59.7 663.2h0M93.6 657.4h0M53.3 653.4h0M60.7 685.7h0M78.5 689.9h0M58.6 690.3h0M38.3 678.3h0M76.1 643.3h0M90.4 665.9h0M51.5 651.2h0M55.6 658.1h0M48.2 642.8h0M74.6 682.6h0M60.9 656.1h0M42.7 674.7h0M89.1 698.5h0M27.7 655.2h0M84.7 658.2h0M86.8 656.5h0M33.3 645.1h0M27.9 675.0h0M71.7 674.1h0M67.2 676.9h0M38.7 698.6h0M56.8 675.6h0M33.4 677.6h0M55.5 694.3h0M63.2 693.3h0M88.9 672.4h0M52.8 677.3h0M37.7 663.1h0M92.8 670.9h0M71.0 670.0h0M36.1 672.8h0M30.9 655.2h0M53.2 677.0h0M43.5 658.1h0M52.2 659.7h0M45.6 659.5h0M90.1 688.0h0M83.1 645.4h0M73.3 700.5h0M33.0 651.0h0M81.7 678.1h0M54.3 655.0h0M87.1 682.0h0M30.3 692.2h0M36.8 667.1h0M35.7 669.1h0M83.4 699.8h0M93.0 676.3h0M78.6 663.0h0M48.1 654.9h0M30.3 691.8h0M93.7 682.9h0M38.6 659.8h0M83.0 671.4h0M59.5 649.4h0M50.2 687.5h0M55.2 694.8h0M32.1 684.6h0M34.8 683.6h0M87.0 649.0h0M58.2 695.5h0M73.4 676.7h0M49.8 694.6h0" stroke="#dc9ee0" stroke-width="1" stroke-linecap="round" fill="none" opacity="0.75"/>
<path d="M82.9 699.7h0M77.5 700.8h0M68.4 686.2h0M44.2 681.5h0M90.3 642.4h0M44.2 643.3h0M33.9 666.7h0M87.6 681.9h0M27.6 642.4h0M70.1 694.6h0M56.2 655.3h0M90.2 664.4h0M71.6 647.9h0M95.7 685.8h0M74.7 681.7h0M65.5 676.3h0M32.3 666.8h0M87.9 676.7h0M71.8 694.5h0M74.2 687.3h0M91.0 663.1h0M90.7 659.8h0M81.6 681.7h0M53.2 685.3h0M77.0 665.7h0M37.5 692.5h0M49.2 699.2h0M95.9 648.4h0M71.1 643.9h0M38.2 642.8h0M39.5 657.2h0M75.8 650.5h0M57.0 698.1h0M27.9 693.2h0M49.8 693.4h0M32.7 653.0h0M58.5 657.2h0M82.4 646.5h0M94.9 682.8h0M37.1 680.7h0M44.6 648.9h0M88.2 657.2h0M46.6 670.3h0M37.7 690.2h0M37.2 678.8h0M56.6 696.4h0M53.7 685.0h0M75.7 686.1h0M70.6 671.7h0M69.8 680.3h0M56.7 690.9h0M73.7 660.8h0M28.2 681.2h0M49.2 681.9h0M61.5 699.0h0M74.6 644.8h0M78.1 676.2h0M80.2 679.8h0M69.8 691.2h0M43.9 690.7h0M73.1 685.4h0M34.9 652.6h0M67.0 685.7h0M27.8 667.9h0M56.9 661.1h0M35.1 685.2h0M39.0 650.3h0M59.4 679.5h0M62.9 689.8h0M86.7 672.1h0M41.1 695.3h0M43.2 671.9h0M54.1 698.8h0M62.4 650.0h0M58.2 690.3h0M83.9 692.2h0M62.5 653.5h0M52.8 691.7h0M32.5 700.0h0M57.2 697.2h0M47.2 667.6h0M78.0 694.4h0M27.8 653.3h0M50.6 674.6h0M56.8 669.8h0M94.7 645.5h0M57.1 683.8h0M91.6 685.2h0M68.2 664.1h0M93.0 668.1h0M54.9 685.3h0M87.3 689.6h0M55.9 695.9h0M61.6 651.7h0M56.0 657.1h0M59.7 689.1h0M62.7 697.5h0M63.3 675.4h0M29.3 655.7h0M66.5 644.0h0M45.7 641.9h0M48.1 683.3h0M57.6 671.2h0M39.1 649.1h0M72.3 652.5h0M52.8 658.8h0M71.1 666.8h0M76.9 651.3h0M78.7 663.9h0M42.1 644.2h0M53.1 690.3h0M68.7 675.2h0M72.4 671.5h0M69.8 669.0h0M78.7 674.3h0M85.8 700.4h0M59.3 664.0h0M34.3 664.7h0M63.5 646.9h0M82.8 681.7h0M63.6 687.0h0M70.7 686.6h0M80.2 679.1h0M46.5 649.9h0M73.8 649.2h0M47.7 650.6h0M45.9 648.6h0M57.5 673.2h0M62.1 648.2h0M85.4 662.9h0M58.4 666.5h0M76.1 700.0h0M50.0 687.7h0M59.3 676.1h0M49.2 684.9h0M75.3 663.2h0M60.7 680.6h0M27.4 697.5h0M72.3 691.8h0M44.6 641.4h0M48.1 664.2h0M81.3 669.6h0M77.6 695.2h0M80.3 660.6h0M82.7 700.2h0M46.9 672.7h0M82.4 645.6h0M43.7 643.4h0M70.7 687.3h0M67.2 667.1h0M75.8 664.0h0M56.3 691.1h0M52.2 679.9h0M72.7 651.3h0M39.9 655.4h0M43.3 690.9h0M41.2 666.2h0M64.8 676.0h0M80.8 688.5h0M72.8 686.3h0M85.8 669.0h0M59.8 656.5h0M96.2 672.9h0M83.9 658.3h0M40.6 685.1h0" stroke="#faf4fb" stroke-width="1.3" stroke-linecap="round" fill="none"/>
<path d="M62.2 656.5h0M46.8 678.9h0M72.4 685.0h0M32.2 641.3h0M58.8 693.0h0M59.1 693.3h0M34.9 664.0h0M48.3 693.7h0M66.0 681.5h0M75.3 641.6h0M81.9 674.3h0M83.9 677.6h0M44.4 641.6h0M43.2 653.8h0M88.0 677.9h0M55.5 658.6h0M54.3 673.2h0M67.3 643.6h0M64.9 673.4h0M83.2 668.6h0M73.2 642.5h0M75.7 690.1h0M56.6 688.1h0M86.1 678.5h0M86.9 692.4h0M69.2 671.8h0M47.8 648.5h0M40.3 655.2h0M60.5 686.9h0M44.6 691.5h0M46.5 645.2h0M59.6 669.9h0M74.1 667.2h0M71.2 681.1h0M80.6 685.5h0M38.2 677.4h0M36.4 650.6h0M33.7 686.5h0M70.7 684.1h0M54.3 684.8h0M81.8 667.1h0M50.2 662.2h0M82.1 658.8h0M61.2 646.8h0M35.5 643.4h0M47.1 700.4h0M57.6 660.9h0M93.6 683.3h0M72.6 679.4h0M75.8 657.0h0M73.5 696.1h0M57.4 694.3h0M59.7 692.5h0M67.6 687.2h0M63.7 682.7h0M33.8 698.4h0M80.4 671.1h0M52.0 696.0h0M70.1 646.4h0M48.3 683.5h0M95.9 663.3h0M71.1 682.5h0M83.7 646.5h0M84.9 678.1h0M50.6 651.9h0M61.9 695.8h0M90.8 681.7h0M59.4 659.2h0M92.0 678.8h0M60.6 677.2h0M63.3 650.4h0M62.8 678.9h0M51.0 674.2h0M56.4 683.1h0M63.8 654.3h0M65.5 691.1h0M75.8 697.9h0M82.3 675.6h0M94.3 646.2h0M78.0 676.9h0M68.3 661.4h0M76.5 651.5h0M35.2 685.7h0M78.1 692.8h0M87.9 675.4h0M91.9 692.2h0M30.3 696.6h0M32.0 691.8h0M61.2 674.0h0M40.5 694.3h0M28.3 670.8h0M93.4 663.1h0M55.8 670.9h0M46.5 643.0h0M70.6 672.1h0M31.5 676.3h0M69.7 645.3h0M75.8 686.7h0M69.6 650.1h0M78.0 669.6h0M42.4 687.4h0M73.6 670.3h0M31.2 686.4h0M52.7 674.7h0M80.6 675.7h0M51.5 679.6h0M60.9 646.6h0M31.5 656.9h0M73.0 659.4h0M45.3 644.2h0M74.5 656.1h0M87.8 655.0h0M92.8 684.4h0M73.2 676.1h0M61.4 670.7h0" stroke="#faf4fb" stroke-width="1.9" stroke-linecap="round" fill="none"/>
<path d="M93.2 669.3h0M50.7 688.2h0M44.9 662.1h0M95.6 683.8h0M73.4 689.3h0M32.4 652.1h0M88.3 641.5h0M75.5 677.4h0M39.3 683.1h0M57.9 675.2h0M86.7 669.5h0M28.6 643.8h0M69.3 652.2h0M30.5 646.1h0M55.5 678.1h0M71.0 692.6h0M62.6 673.2h0M64.2 647.8h0M44.3 691.9h0M85.4 682.7h0M40.3 699.9h0M61.4 669.9h0M53.3 677.1h0M61.8 680.3h0M51.0 663.7h0M51.8 646.4h0M42.6 651.6h0M84.4 660.6h0M26.7 649.7h0M78.9 683.5h0M90.2 693.8h0M49.7 653.8h0M79.8 675.7h0M77.2 642.7h0M80.8 682.0h0M73.0 649.8h0M64.7 659.8h0M46.4 674.1h0M56.2 668.7h0M34.7 687.4h0M31.3 653.1h0M80.5 652.3h0M31.2 658.3h0M93.0 691.0h0M84.1 671.5h0M93.7 681.8h0M89.8 678.1h0M71.7 663.7h0M75.1 673.1h0M76.9 655.5h0" stroke="#f6eef8" stroke-width="2.5" stroke-linecap="round" fill="none"/>
</g>
<clipPath id="c6"><rect x="96.9" y="641.2" width="69.2" height="59.6"/></clipPath>
<g clip-path="url(#c6)">
<rect x="96.9" y="641.2" width="69.2" height="59.6" fill="#b664c0" stroke="none" stroke-width="1.0" />
<path d="M114.3 651.6h0M162.4 696.6h0M110.0 649.9h0M109.3 661.0h0M121.1 648.9h0M112.9 653.5h0M143.3 673.7h0M104.9 657.5h0M158.9 650.6h0M156.3 689.3h0M97.1 667.7h0M134.4 680.4h0M104.3 674.5h0M114.8 662.4h0M125.7 692.5h0M128.3 643.8h0M129.3 667.9h0M161.1 644.0h0M114.8 687.4h0M109.9 676.2h0M143.3 684.1h0M162.4 696.5h0M160.8 698.5h0M157.8 694.8h0M101.4 685.5h0M161.7 694.3h0M141.8 690.4h0M157.2 684.9h0M125.1 661.8h0M112.1 674.7h0M151.8 667.1h0M142.7 684.5h0M150.8 688.9h0M110.8 658.0h0M106.2 664.6h0M149.7 673.7h0M98.3 643.5h0M162.3 683.4h0M106.2 652.1h0M138.4 655.7h0M125.9 672.3h0M119.3 682.7h0M108.7 660.0h0M150.9 674.1h0M160.2 655.0h0M147.3 647.7h0M138.4 667.9h0M146.1 663.6h0M134.0 683.5h0M135.5 644.6h0M159.6 649.2h0M116.5 649.4h0M112.3 674.4h0M162.4 674.8h0M162.2 700.0h0M129.8 658.9h0M152.3 686.8h0M148.3 688.1h0M162.6 685.6h0M102.6 658.0h0M159.1 689.6h0M131.5 687.5h0M128.0 684.2h0M144.4 669.5h0M139.6 679.8h0M127.1 672.8h0M117.0 693.0h0M160.5 700.7h0M153.6 659.3h0M104.0 693.8h0M124.9 651.3h0M149.7 646.2h0M157.7 685.2h0M163.5 654.5h0M113.6 645.3h0M158.6 655.3h0M145.0 700.6h0M101.6 649.8h0M111.5 665.8h0M110.0 700.2h0M102.3 643.8h0M144.5 694.9h0M118.4 652.3h0M144.8 682.2h0M102.6 642.6h0M157.2 641.9h0M145.0 659.7h0M151.0 653.8h0M138.9 664.8h0M128.6 670.9h0M110.3 644.8h0M162.1 678.2h0M107.0 698.5h0M133.0 686.0h0M105.3 681.0h0M104.4 676.0h0M145.1 650.6h0M158.4 662.2h0M128.8 678.5h0M151.9 660.8h0M156.4 663.9h0M134.0 662.4h0M150.6 686.4h0M117.2 677.2h0M107.3 650.4h0M110.0 687.4h0M97.4 669.4h0M101.8 652.9h0M148.9 673.0h0M159.4 690.7h0M100.9 674.9h0M146.8 665.3h0M150.7 644.4h0M144.0 668.5h0M131.4 696.3h0M130.5 647.3h0M145.0 694.0h0M113.9 658.6h0M149.0 685.2h0M110.2 692.0h0M99.3 691.8h0M161.5 681.1h0M103.2 676.5h0M110.5 666.3h0M100.8 682.7h0M97.6 678.2h0M105.5 680.0h0M160.7 657.3h0M145.0 643.8h0M124.9 644.2h0M97.4 644.9h0M154.2 662.0h0M130.5 673.9h0M156.0 686.0h0M131.8 660.3h0M102.3 694.8h0M102.0 654.9h0M151.6 693.5h0M112.3 683.2h0M107.3 653.7h0M125.2 656.7h0M115.0 659.7h0M116.1 656.4h0M151.8 697.0h0M129.4 651.8h0M165.8 668.9h0M103.7 655.9h0M117.3 680.9h0M157.9 688.5h0M127.0 680.0h0M150.2 671.6h0M126.9 649.7h0M125.0 667.7h0M158.2 649.6h0M118.6 674.2h0M134.7 678.4h0M136.0 675.7h0M99.9 666.2h0M103.7 677.1h0M113.2 648.1h0M97.1 656.9h0M144.2 699.5h0M136.9 651.4h0M120.6 642.6h0M125.9 678.7h0M99.7 679.2h0M124.6 655.6h0M155.1 675.0h0M99.5 699.8h0M142.1 692.2h0M144.7 657.7h0M112.1 683.6h0M117.3 676.0h0M109.3 663.0h0M136.1 683.7h0M122.5 651.4h0M105.9 655.2h0M116.9 661.2h0M113.8 689.4h0M165.2 659.5h0M139.1 650.4h0M130.0 687.3h0M130.7 650.3h0M136.8 655.5h0M164.8 695.4h0M123.5 675.1h0M100.9 644.5h0M109.7 679.2h0M97.4 668.1h0M110.9 664.2h0M138.6 662.2h0M114.7 688.4h0M154.8 654.7h0M162.7 700.1h0M105.4 684.7h0M152.7 647.6h0M142.7 690.7h0M165.6 685.4h0M110.0 664.7h0M149.9 665.1h0M119.9 700.8h0M110.7 675.4h0M114.9 663.2h0M161.8 694.6h0M130.0 680.0h0M127.0 672.3h0M157.2 687.4h0M156.2 650.5h0M159.0 645.4h0M98.5 672.9h0M165.8 692.0h0M144.4 658.1h0M159.4 652.6h0M152.5 657.3h0M159.1 647.2h0M158.2 658.7h0M141.7 694.2h0M105.7 696.4h0M143.9 672.8h0M99.4 654.5h0M121.1 667.8h0M116.5 696.8h0M117.3 693.6h0M152.7 685.7h0M157.9 660.6h0M159.3 681.3h0M139.8 663.3h0M150.3 667.8h0M105.6 672.4h0M120.9 694.9h0M151.4 664.1h0M128.4 677.2h0M131.1 687.6h0M151.2 653.3h0M112.4 669.3h0M156.8 650.2h0M148.1 682.7h0M102.2 641.9h0M126.3 677.8h0M160.3 697.8h0M115.6 648.5h0M97.8 644.8h0M108.7 677.5h0M134.5 662.0h0M104.0 654.0h0M100.6 661.8h0M106.4 687.2h0M154.0 674.5h0M163.9 700.0h0M106.3 677.2h0M135.5 672.2h0M144.0 655.5h0M101.8 669.2h0M157.8 651.6h0M148.6 675.5h0M144.0 654.0h0M130.1 690.2h0M151.6 655.0h0M154.0 645.5h0M116.7 698.5h0M113.3 664.2h0M165.0 672.7h0M130.4 658.2h0M125.5 697.8h0M161.6 684.0h0M146.8 642.5h0M148.6 645.2h0M152.6 671.5h0M154.7 684.7h0M144.1 673.4h0M165.8 681.7h0M151.6 664.2h0M154.2 668.3h0M154.4 656.4h0M100.1 673.5h0M165.4 667.0h0M149.8 649.2h0M102.8 675.8h0M146.8 683.5h0M145.9 647.1h0M131.4 646.5h0M117.9 643.1h0M134.2 683.0h0M108.2 688.9h0M124.1 647.9h0M140.0 697.9h0M146.4 692.2h0M134.5 660.7h0M158.4 683.6h0M158.7 665.3h0M159.9 641.9h0M137.9 661.8h0M114.1 660.7h0M100.1 657.6h0M137.0 671.3h0M132.7 668.2h0M97.0 667.6h0M106.8 674.5h0M163.9 674.5h0M148.9 645.1h0M159.5 692.0h0M119.3 674.1h0M126.8 646.7h0M137.3 647.2h0M124.7 690.6h0M99.1 686.3h0M129.4 668.0h0M143.0 690.1h0M121.7 650.7h0M160.8 700.6h0M161.4 663.7h0M98.9 682.7h0M125.7 674.0h0M138.7 687.6h0M125.1 663.7h0M164.6 656.7h0M117.8 651.0h0M159.0 669.6h0M120.7 668.2h0M158.3 662.8h0M103.9 683.9h0M155.8 697.5h0M155.2 652.9h0M135.9 648.1h0M118.0 681.8h0M123.9 698.1h0M105.7 686.9h0M116.2 650.2h0M132.6 651.7h0M133.0 671.2h0M129.5 642.3h0M157.3 660.2h0M111.7 662.5h0M151.1 685.5h0M156.6 671.8h0M121.5 680.0h0M100.9 661.9h0M153.7 665.7h0M147.4 647.4h0M130.4 690.6h0M161.0 658.1h0M114.9 657.0h0M147.2 695.8h0M141.8 674.9h0M123.7 694.7h0M150.8 652.0h0M104.3 688.4h0M118.2 644.6h0M131.1 690.7h0M163.7 651.3h0M149.7 673.6h0M100.8 684.0h0M140.2 670.0h0M106.4 689.8h0M123.9 679.6h0M163.6 676.9h0M115.9 697.5h0M104.1 673.5h0M161.1 699.4h0M111.7 699.7h0M137.6 679.7h0M115.0 664.6h0M162.3 689.3h0M148.9 684.6h0M152.2 693.5h0M104.0 678.9h0M121.9 696.2h0M156.1 674.5h0M117.3 695.6h0M104.3 669.3h0M156.1 658.7h0M115.5 689.0h0M137.8 644.0h0M110.1 656.1h0M105.3 689.3h0M131.0 696.7h0M141.1 668.1h0M150.1 683.4h0M161.4 668.7h0M132.9 663.4h0M144.4 689.0h0M118.5 650.7h0M158.6 676.0h0M120.7 688.2h0M99.5 661.7h0M111.5 694.4h0M106.9 659.1h0M141.2 664.6h0M107.9 650.1h0M128.4 660.8h0M119.6 692.8h0M151.9 670.5h0M117.0 669.6h0M113.3 676.3h0M116.8 665.4h0M110.1 677.2h0M142.3 682.5h0M133.1 653.2h0M145.0 669.6h0M105.0 655.0h0M152.4 642.3h0M134.5 682.3h0M164.3 698.6h0M165.3 691.1h0M97.9 669.5h0M138.5 654.0h0M114.5 697.6h0M144.9 674.5h0M106.4 693.6h0M136.1 661.1h0M149.6 680.8h0M136.3 687.9h0M117.8 684.7h0M148.4 661.5h0M161.6 698.2h0M116.0 684.4h0M104.5 654.6h0M124.2 652.8h0M125.2 685.9h0M124.1 653.7h0M162.5 657.0h0M113.6 672.0h0M100.8 654.9h0M97.9 651.9h0M130.3 662.7h0M115.5 659.9h0M130.7 660.5h0M144.8 687.5h0M119.2 645.7h0M105.8 667.9h0M160.0 686.0h0M109.7 673.8h0M118.4 642.8h0M98.4 643.0h0M139.2 688.7h0M113.4 681.4h0M148.6 677.8h0M126.6 661.1h0M154.1 661.8h0M120.1 665.6h0M150.9 662.5h0M101.8 685.5h0M121.4 655.0h0M119.2 666.7h0M125.1 682.9h0M111.9 673.8h0M117.2 657.9h0M164.2 647.9h0M102.5 679.3h0M131.2 699.9h0M159.5 683.4h0M128.9 699.6h0M127.7 683.0h0M133.0 686.8h0M106.2 695.0h0M110.7 695.8h0M145.4 684.7h0M138.3 693.5h0M112.7 674.1h0M130.2 645.2h0M165.1 647.5h0M111.0 670.3h0M152.3 644.7h0M161.8 642.0h0M134.3 666.4h0M108.1 655.4h0M129.6 643.9h0M151.2 691.9h0M142.6 671.0h0M155.2 698.7h0M131.7 695.7h0M97.4 668.8h0M99.1 656.5h0M152.1 661.7h0M134.1 698.3h0M159.8 686.6h0M155.4 669.5h0M141.4 686.7h0M138.0 687.3h0M150.6 670.6h0M108.7 649.9h0M122.5 696.1h0M141.3 671.9h0M133.1 684.1h0M108.4 651.6h0M119.4 670.9h0M106.3 659.9h0M154.7 651.3h0M109.5 700.3h0M141.8 649.3h0M108.6 689.1h0M105.7 663.7h0M99.8 698.7h0M121.8 682.3h0M154.8 651.2h0M159.8 657.5h0M134.1 662.7h0M156.7 690.4h0M142.1 662.9h0M163.2 694.8h0M111.4 654.0h0M114.6 686.0h0M115.6 644.0h0M153.6 681.1h0M161.7 672.0h0M150.5 699.1h0M163.4 652.7h0M97.4 659.5h0M108.1 686.7h0M107.4 643.4h0M119.7 651.6h0M122.4 693.2h0M124.7 685.9h0M107.8 672.1h0M133.2 680.1h0M142.4 660.5h0M153.2 655.9h0M107.4 644.7h0M165.1 700.7h0M114.8 665.1h0M125.8 682.6h0M159.3 684.8h0M107.3 688.1h0M126.1 659.0h0M121.2 688.8h0M103.0 663.6h0M100.0 670.7h0M111.3 682.2h0M132.4 699.9h0M100.1 664.1h0M110.7 659.5h0M162.2 684.6h0M130.5 642.7h0M115.9 668.1h0M164.7 700.0h0M146.4 674.4h0M120.8 651.3h0M155.4 661.7h0M99.5 654.8h0M118.9 683.6h0M162.8 693.1h0M133.4 659.7h0M103.5 698.0h0M103.0 666.5h0M162.0 651.2h0M123.2 684.5h0M158.3 653.3h0M114.5 693.3h0M137.4 687.7h0M113.3 681.5h0M155.6 685.6h0M151.8 668.2h0M164.2 694.3h0M130.9 687.1h0M149.7 670.2h0M103.3 659.1h0M139.3 654.0h0M148.3 680.5h0M148.5 692.2h0M116.1 662.0h0M98.1 664.5h0M139.5 653.6h0M149.4 649.0h0M134.1 658.6h0M109.3 684.1h0M124.9 666.8h0M112.5 665.8h0M157.7 688.5h0M143.9 675.2h0M139.2 687.6h0M146.8 697.4h0M165.0 683.1h0M163.5 671.5h0M97.8 644.0h0M100.1 645.8h0M165.8 687.9h0M122.7 645.7h0M147.7 675.2h0M123.1 650.9h0M152.0 691.5h0M148.8 683.6h0M117.4 657.5h0M147.1 687.3h0M98.6 673.8h0M100.1 661.1h0M132.4 673.5h0M160.4 698.8h0M165.8 652.3h0M100.2 692.0h0M119.6 643.3h0M106.1 648.8h0M158.2 649.3h0M124.4 670.7h0M118.8 698.3h0M127.1 649.6h0M123.5 655.2h0M133.3 673.6h0M102.5 654.4h0M103.4 674.0h0M115.4 657.3h0M105.4 641.5h0M163.8 658.4h0M107.6 646.2h0M158.6 690.0h0M117.8 656.4h0M165.6 657.2h0M107.1 642.1h0M136.8 671.8h0M145.6 642.9h0M98.7 675.9h0M134.9 688.1h0M131.3 682.7h0M152.5 690.6h0M122.3 674.0h0M131.0 654.3h0M98.7 691.7h0M144.8 673.4h0M163.8 700.5h0M150.9 692.4h0M152.2 660.5h0M149.1 696.1h0M112.9 691.1h0M162.0 687.4h0M102.6 697.7h0M129.7 693.7h0M153.7 681.9h0M147.5 684.6h0M113.7 664.2h0M117.2 690.9h0M134.3 683.3h0M123.3 664.6h0M106.9 665.8h0M116.0 679.8h0M148.3 663.9h0M128.5 685.3h0M132.2 655.1h0M105.2 648.8h0M98.6 645.9h0M159.8 672.7h0M155.4 663.4h0M131.0 684.1h0M142.1 650.2h0M143.4 691.8h0M127.9 663.0h0M103.9 692.5h0M98.5 696.9h0M148.5 679.6h0M153.6 693.5h0M101.4 677.2h0M153.1 686.7h0M98.2 698.1h0M157.8 642.4h0M131.7 684.5h0M131.2 679.5h0M165.8 683.4h0M148.1 650.1h0M133.6 643.6h0M155.7 659.0h0M127.9 668.8h0M116.5 663.2h0M152.5 661.5h0M153.7 656.8h0M139.4 674.7h0M115.9 654.2h0M165.0 694.0h0M153.0 692.2h0M108.6 693.4h0M142.0 668.7h0M137.1 657.6h0M99.9 679.6h0M143.9 698.4h0M102.7 668.2h0M143.7 686.6h0M141.1 652.3h0M158.0 647.6h0M117.0 668.1h0M136.8 678.4h0M147.4 684.8h0M100.2 663.0h0M110.5 652.8h0M138.5 692.1h0M156.4 684.1h0M126.4 666.9h0M163.1 681.5h0M165.8 666.9h0M124.2 697.4h0M122.2 677.0h0M142.2 685.9h0M141.9 700.3h0M160.1 692.6h0M110.8 681.2h0M160.7 674.8h0M129.7 683.4h0M117.6 656.2h0M123.7 665.6h0M111.8 682.6h0M117.2 660.6h0M149.9 666.4h0M121.8 685.7h0M158.4 679.9h0M143.1 681.4h0M124.8 647.9h0M124.6 673.2h0M137.2 645.3h0M138.7 646.3h0M118.2 684.2h0M98.4 678.3h0M136.2 664.7h0M119.3 669.9h0M150.6 686.6h0M158.3 645.6h0M120.8 672.1h0M121.7 668.5h0M165.2 654.2h0M151.5 679.5h0M151.1 689.7h0M113.6 669.3h0M160.9 686.0h0M137.8 691.5h0M129.4 694.7h0M113.7 697.9h0M145.2 679.3h0M151.7 683.6h0M125.5 673.6h0M149.7 646.7h0M144.9 690.8h0M116.2 699.9h0M144.2 700.0h0M104.8 700.6h0M131.6 699.9h0M132.3 664.1h0M148.5 644.0h0M149.4 650.1h0M136.8 643.6h0M98.1 657.4h0M105.9 658.5h0M139.8 653.1h0M157.1 680.0h0M101.2 683.3h0M152.2 684.2h0M131.7 697.1h0M143.6 684.7h0M98.7 658.2h0M124.8 662.4h0M161.3 666.0h0M106.8 680.2h0M111.3 655.9h0M124.1 695.3h0M130.2 653.0h0M100.0 680.2h0M102.2 679.1h0M138.1 672.9h0M97.2 686.0h0M113.5 676.9h0M115.4 684.7h0M113.9 695.0h0M160.9 659.8h0M111.4 675.1h0M141.9 662.6h0M110.0 647.8h0M160.8 666.0h0M148.2 682.9h0M111.3 663.4h0M136.5 662.6h0M135.3 675.8h0M97.4 647.7h0M156.9 663.7h0M114.5 650.1h0M145.3 643.5h0M103.3 679.4h0M129.1 669.9h0M122.7 645.8h0M146.3 649.7h0M116.0 659.4h0M104.2 677.9h0M115.1 665.1h0M100.7 642.4h0M165.4 692.1h0M120.6 685.2h0M158.5 656.2h0M131.9 700.7h0M161.5 675.6h0M130.5 646.4h0M109.3 670.4h0M113.6 655.4h0M125.5 691.0h0M104.9 687.1h0M142.0 669.0h0M101.4 654.6h0M129.6 698.5h0M134.6 667.6h0M163.3 654.6h0M126.1 694.3h0M158.1 693.9h0M131.5 654.1h0M139.7 662.4h0M155.1 644.7h0M134.3 643.6h0M163.4 687.0h0M158.3 684.0h0M124.0 684.7h0M147.9 657.5h0M108.0 648.7h0M113.3 687.5h0M157.5 652.8h0M116.8 694.3h0M161.3 677.5h0M108.5 670.0h0M130.2 643.6h0M109.8 667.7h0M147.2 659.1h0M143.4 688.1h0M118.2 686.7h0M108.5 683.0h0M162.1 685.1h0M143.3 693.6h0M138.6 698.1h0M145.9 688.1h0M97.5 653.8h0M104.0 653.6h0M155.8 691.3h0M120.9 667.6h0M148.7 666.0h0M158.8 662.3h0M162.3 669.3h0M165.3 668.4h0M158.1 657.0h0M116.9 689.3h0M150.9 662.2h0M147.1 660.4h0M125.4 682.5h0M154.3 643.1h0M126.7 647.7h0M108.5 686.5h0M137.5 674.1h0M105.8 660.3h0M162.2 683.2h0M103.5 656.7h0M117.7 682.8h0M123.1 699.4h0M104.8 666.3h0M124.9 680.0h0M128.4 660.2h0M98.4 653.0h0M102.3 682.7h0M131.6 666.8h0M117.6 681.4h0M155.4 692.5h0M99.5 661.8h0M161.0 652.1h0M105.0 642.6h0M100.2 651.7h0M132.2 643.4h0M160.3 648.8h0M139.0 674.4h0M110.1 662.8h0M137.5 646.2h0M132.1 656.3h0M100.4 641.5h0M134.8 682.9h0M152.4 691.4h0M150.7 667.0h0M119.6 686.0h0M117.1 699.0h0M125.6 654.0h0M135.2 651.9h0M102.2 654.4h0M108.0 662.7h0M105.7 647.1h0M141.4 644.3h0M138.9 698.0h0M158.6 675.8h0M115.2 648.1h0M121.9 688.9h0M165.6 648.3h0M119.1 677.9h0M140.7 695.6h0M109.7 644.0h0M150.7 643.8h0M105.3 649.9h0M153.8 672.0h0M120.2 691.0h0M143.5 666.7h0M147.6 660.8h0M112.8 660.2h0M115.8 643.8h0M99.3 641.5h0M126.2 675.0h0M125.5 671.2h0M136.5 654.0h0M105.9 652.5h0M115.0 661.6h0M120.1 690.7h0M142.0 652.8h0M117.4 674.4h0M147.9 663.7h0M132.9 680.5h0M148.8 652.3h0M149.0 663.1h0M113.8 645.2h0M151.3 686.0h0M124.7 659.2h0M153.6 656.5h0M133.5 686.5h0M152.6 689.7h0M133.9 688.6h0M103.4 672.6h0M130.3 692.7h0M101.3 650.9h0M150.9 655.8h0M155.1 651.6h0M102.5 667.4h0M149.7 668.5h0M128.6 657.6h0M142.3 667.9h0M142.0 649.4h0M116.5 657.3h0M153.9 665.0h0M97.9 655.1h0M165.5 664.4h0M126.7 641.8h0M161.9 667.2h0M110.7 686.8h0M157.0 645.5h0M114.5 692.8h0M156.7 644.8h0M148.4 666.8h0M159.1 662.5h0M143.9 645.8h0M104.4 662.7h0M102.6 647.0h0M143.6 673.0h0M150.3 684.7h0M156.1 659.8h0M144.5 643.4h0M164.2 670.5h0M117.5 665.5h0M120.5 664.6h0M100.9 664.3h0M155.7 689.4h0M113.5 681.7h0M146.7 642.0h0M142.2 653.1h0M148.1 685.8h0M132.4 647.8h0M103.1 675.3h0M156.8 642.8h0M163.4 694.2h0M104.1 689.0h0M165.1 688.4h0M140.3 665.8h0M153.5 696.4h0M158.8 675.3h0M152.8 665.7h0M128.0 699.5h0M144.1 642.7h0M100.7 694.1h0M123.5 667.8h0M127.5 682.7h0M97.5 677.8h0M153.1 644.3h0M151.4 674.2h0M128.1 653.8h0M116.2 651.0h0M102.9 674.4h0M164.2 683.7h0M104.5 654.0h0M100.2 688.7h0M121.0 673.8h0M162.9 693.6h0M99.8 689.5h0M101.6 682.2h0M117.1 698.6h0M127.2 676.4h0M149.0 649.1h0M114.5 682.3h0M124.5 697.9h0M153.6 674.2h0M112.7 644.6h0M113.0 685.7h0M154.6 672.9h0M147.3 681.4h0M163.2 674.2h0M154.3 690.8h0M143.8 664.8h0M101.9 668.7h0M103.9 650.1h0M113.8 690.2h0M151.0 700.3h0M120.3 698.0h0M100.6 694.1h0M165.0 641.2h0M123.0 694.8h0M100.1 655.1h0M150.3 682.7h0M146.8 661.4h0M118.1 695.6h0M104.9 698.8h0M148.8 664.8h0M101.1 690.3h0M148.1 677.9h0M132.5 666.8h0M160.5 646.5h0M121.0 655.3h0M157.8 661.3h0M138.9 648.0h0M119.2 681.5h0M143.7 662.9h0M123.6 692.5h0M122.9 694.5h0M112.3 684.0h0M136.0 663.0h0M126.4 688.9h0M122.8 689.2h0M99.3 684.0h0M159.9 666.6h0M115.5 665.2h0M164.8 652.9h0M111.5 677.8h0M97.4 690.0h0M164.5 692.1h0M143.1 664.0h0M150.6 665.2h0M125.1 658.6h0M96.9 643.6h0M151.4 686.9h0M160.9 700.2h0M127.3 671.5h0M103.0 657.1h0M119.0 679.0h0M162.4 663.2h0M97.7 675.5h0M123.1 672.6h0M108.0 675.3h0M149.2 696.7h0M152.8 670.2h0M131.7 687.6h0M147.2 665.9h0M164.7 650.8h0M117.3 660.3h0M133.9 659.2h0M156.2 662.9h0M103.1 644.2h0M150.7 684.8h0M117.1 643.0h0M113.4 644.9h0M107.0 644.0h0M129.5 650.5h0M139.6 651.5h0M117.3 672.2h0M133.5 658.6h0M105.7 666.9h0M140.0 671.6h0M128.9 674.9h0M102.0 691.0h0M133.9 679.1h0M139.6 690.3h0M122.0 667.8h0M132.6 670.3h0M135.2 666.7h0M129.5 673.7h0M103.9 670.6h0M99.1 650.9h0M122.3 691.4h0M143.4 699.1h0M153.9 672.4h0M132.7 695.1h0M131.5 700.5h0M144.7 664.3h0M118.9 653.1h0M161.0 643.5h0M130.6 672.4h0M119.8 695.0h0M160.3 653.7h0M116.3 679.5h0M138.6 678.5h0M120.6 693.6h0M162.2 676.7h0M142.8 644.2h0M100.2 653.9h0M147.3 695.3h0M110.7 677.6h0M135.6 685.7h0M142.6 641.5h0M145.4 680.3h0M151.3 663.0h0M134.7 695.7h0M145.7 675.4h0M98.3 671.1h0M136.7 653.1h0M140.4 659.6h0M159.6 654.9h0M125.0 649.5h0M102.9 664.0h0M136.1 687.3h0M125.5 686.5h0M136.1 663.7h0M100.7 695.7h0M102.6 648.8h0M136.6 696.2h0M148.1 666.9h0M139.5 667.7h0M118.7 677.2h0M140.4 699.2h0M157.1 654.1h0M155.2 680.6h0M155.3 694.2h0M131.1 686.9h0M162.8 657.6h0M121.5 683.0h0M165.5 681.7h0M106.1 699.0h0M100.7 679.2h0M109.1 688.9h0M139.0 689.4h0M157.4 647.8h0M107.7 676.7h0M134.1 689.8h0M99.0 696.6h0M124.4 648.0h0M149.6 680.7h0M151.4 675.9h0M150.5 656.7h0M134.8 697.1h0M99.5 649.4h0M144.5 692.5h0M149.4 666.1h0M123.3 650.5h0M164.7 648.0h0M147.8 656.1h0M135.4 677.1h0M100.3 658.1h0M98.5 654.2h0M132.4 663.6h0M133.5 650.7h0M139.8 661.2h0M141.9 641.7h0M154.1 670.7h0M143.5 682.3h0M112.8 656.5h0M120.5 646.3h0M124.6 652.9h0M118.8 674.8h0M161.6 681.2h0M108.4 682.5h0M110.7 650.7h0M137.9 646.0h0M115.1 663.0h0M119.6 698.9h0M133.8 697.9h0M152.9 668.2h0M155.4 662.7h0M133.0 696.4h0M158.0 668.7h0M123.0 680.9h0M108.5 683.6h0M135.0 698.8h0M151.7 689.1h0M98.0 646.0h0M135.2 691.1h0M106.4 660.6h0M144.3 700.1h0M164.8 685.6h0M152.5 651.8h0M147.8 655.9h0M140.4 673.5h0M156.2 675.6h0M146.5 664.1h0M131.4 683.5h0M121.4 696.2h0M116.7 677.2h0M150.9 646.3h0M102.6 653.0h0M129.2 666.9h0M120.3 646.2h0M130.8 652.6h0M127.3 695.7h0M116.2 655.9h0" stroke="#6e3c9e" stroke-width="0.9" stroke-linecap="round" fill="none" opacity="0.75"/>
<path d="M165.7 643.1h0M162.8 679.7h0M123.7 669.8h0M149.0 678.4h0M107.4 671.4h0M130.7 649.4h0M142.2 699.0h0M113.7 693.4h0M110.6 643.2h0M151.8 677.6h0M98.1 667.6h0M158.3 674.9h0M146.5 662.6h0M137.6 644.4h0M131.6 695.7h0M98.3 687.4h0M115.7 665.2h0M112.5 676.5h0M131.0 648.2h0M125.2 676.7h0M161.6 657.1h0M99.7 650.5h0M133.7 696.9h0M129.6 681.3h0M129.0 655.5h0M103.5 649.5h0M130.2 675.2h0M125.7 649.8h0M134.5 678.6h0M145.6 651.9h0M159.9 697.4h0M133.2 699.7h0M121.1 682.5h0M151.0 679.7h0M98.0 656.9h0M124.4 689.6h0M108.8 642.9h0M127.5 653.9h0M122.7 690.7h0M142.1 687.7h0M141.6 693.8h0M104.3 675.1h0M147.6 696.8h0M132.5 663.2h0M130.2 664.8h0M111.3 693.9h0M105.4 687.7h0M121.6 642.5h0M119.7 665.0h0M149.2 698.8h0M131.6 652.2h0M123.1 694.8h0M102.5 666.9h0M163.1 672.4h0M140.1 661.2h0M127.4 678.7h0M105.8 693.3h0M134.2 697.4h0M158.4 685.3h0M164.3 657.7h0M98.5 686.7h0M151.7 660.8h0M129.3 641.9h0M135.3 657.4h0M164.2 691.1h0M165.5 655.3h0M105.7 693.6h0M119.0 683.8h0M115.0 686.9h0M122.9 657.6h0M128.2 643.7h0M158.8 653.9h0M137.5 657.7h0M119.1 685.5h0M128.9 668.1h0M127.7 659.1h0M125.6 661.8h0M131.1 646.9h0M140.4 654.3h0M97.2 688.4h0M115.7 692.1h0M117.8 645.7h0M137.6 685.1h0M98.9 699.8h0M111.2 687.5h0M148.2 675.2h0M119.1 654.9h0M158.4 685.7h0M134.3 664.4h0M148.4 663.1h0M136.1 680.5h0M102.4 679.2h0M142.3 684.2h0M123.5 700.6h0M133.2 682.6h0M112.4 678.9h0M101.9 679.5h0M113.2 671.6h0M115.5 673.3h0M116.7 683.3h0M100.1 684.6h0M111.5 686.0h0M108.6 690.0h0M143.2 654.4h0M103.1 652.2h0M106.4 651.5h0M156.5 660.4h0M166.1 663.7h0M161.6 693.8h0M159.8 668.9h0M112.4 665.9h0M139.7 644.7h0M122.1 663.9h0M133.0 687.7h0M113.6 675.6h0M117.9 671.5h0M98.8 645.9h0M112.5 671.7h0M120.7 648.8h0M109.9 647.3h0M117.4 675.3h0M122.5 653.1h0M151.1 655.8h0M135.6 659.2h0M108.6 690.3h0M156.3 648.7h0M138.2 676.9h0M132.1 648.8h0M106.5 665.0h0M111.7 653.4h0M156.0 654.2h0M151.5 691.1h0M138.8 672.0h0M161.9 669.8h0M162.5 676.7h0M156.3 700.4h0M111.2 664.1h0M118.7 653.4h0M136.7 698.4h0M160.5 641.8h0M110.7 657.1h0M111.1 669.2h0M143.5 661.3h0M121.6 681.1h0M108.0 688.5h0M131.1 682.5h0M122.5 688.4h0M163.1 682.3h0M160.2 644.8h0M112.9 667.3h0M103.0 679.1h0M152.4 668.8h0M97.5 679.9h0M153.8 658.0h0M102.5 653.2h0M164.9 676.8h0M122.2 675.5h0M144.6 678.3h0M140.0 670.9h0M97.3 675.7h0M111.2 662.9h0M117.4 662.7h0M117.4 665.5h0M132.8 684.9h0M143.2 679.1h0M113.7 668.9h0M103.2 685.0h0M97.6 685.0h0M136.7 666.6h0M146.2 699.4h0M102.0 669.4h0M149.3 691.7h0M123.1 667.2h0M110.8 673.7h0M161.6 665.1h0M116.3 684.4h0M112.3 682.9h0M158.4 654.9h0M158.1 686.8h0M111.3 676.6h0M162.5 671.8h0M153.6 651.9h0M158.0 649.6h0M138.9 690.2h0M135.6 685.3h0M148.3 678.1h0M142.7 658.2h0M134.8 646.5h0M101.9 690.1h0M115.5 646.8h0M99.7 694.3h0M121.2 658.7h0M149.3 642.9h0M143.8 650.8h0M144.9 670.1h0M140.6 661.2h0M164.1 686.9h0M153.9 682.0h0M116.1 691.2h0M150.0 681.7h0M136.2 662.2h0M113.3 679.1h0M150.3 668.2h0M133.4 680.1h0M146.8 682.2h0M146.8 686.1h0M144.2 645.3h0M108.0 669.9h0M131.4 694.6h0M165.1 685.7h0M132.3 661.0h0M124.2 669.9h0M121.4 651.5h0M131.0 665.9h0M131.8 699.9h0M104.4 680.1h0M114.9 664.9h0M129.4 684.1h0M112.9 662.8h0M133.3 665.8h0M160.5 678.5h0M125.1 675.6h0M110.7 663.0h0M150.4 686.6h0M134.7 700.7h0M114.6 668.3h0M103.8 655.8h0M124.0 643.6h0M133.7 697.6h0M133.1 678.1h0M134.9 670.6h0M132.3 696.1h0M158.1 681.2h0M131.9 675.6h0M109.5 691.5h0M150.3 642.3h0M144.9 645.8h0M141.6 641.2h0M124.0 692.9h0M146.9 683.7h0M117.7 696.7h0M115.6 659.7h0M125.5 645.5h0M131.7 653.9h0M153.5 682.9h0M113.5 667.6h0M103.4 686.6h0M119.8 696.7h0M129.5 641.9h0M112.5 684.0h0M143.9 678.8h0M133.0 660.8h0M99.1 693.8h0M136.6 682.8h0M116.6 692.8h0M144.9 661.3h0M104.1 670.5h0M120.1 654.0h0M144.9 661.7h0M157.2 658.7h0M112.6 683.5h0M154.9 666.9h0M158.8 659.4h0M126.8 662.3h0M103.6 687.2h0M120.9 694.1h0M137.9 692.8h0M134.4 696.8h0M136.0 646.0h0M101.0 650.1h0M148.8 663.2h0M107.0 655.3h0M141.4 666.4h0M98.2 699.4h0M147.8 698.7h0M163.5 662.5h0M105.1 656.2h0M109.3 642.6h0M117.0 669.7h0M153.9 679.5h0M135.5 643.0h0M106.9 653.3h0M98.3 696.7h0M161.6 654.6h0M113.9 656.9h0M134.0 678.3h0M133.6 698.4h0M146.1 663.2h0M155.5 662.6h0M118.4 648.2h0M100.7 700.2h0M157.4 676.1h0M106.0 680.6h0M127.5 660.9h0M128.1 652.2h0M133.4 642.3h0M136.7 657.5h0M156.7 662.8h0M144.2 680.8h0M115.8 650.1h0M112.2 693.0h0M105.5 667.0h0M126.1 660.4h0M163.8 655.5h0M163.9 655.7h0M143.6 688.1h0M118.8 641.4h0M144.6 651.3h0M102.5 693.5h0M140.7 676.7h0M157.9 654.5h0M157.8 651.0h0M156.8 685.3h0M104.3 646.3h0M128.0 670.9h0M109.2 683.2h0M161.4 673.9h0M162.0 651.9h0M160.6 671.5h0M140.2 650.0h0M155.5 692.8h0M122.1 657.1h0M133.9 652.6h0M101.7 664.5h0M154.7 695.9h0M113.5 678.0h0M102.5 672.2h0M108.0 683.0h0M130.9 644.8h0M158.9 668.2h0M121.4 662.5h0M101.1 655.4h0M134.2 642.5h0M132.8 645.4h0M155.1 655.5h0M139.6 644.8h0M109.5 670.3h0M109.3 642.4h0M98.7 697.5h0M138.7 692.8h0M164.2 660.4h0M160.5 700.8h0M136.3 674.7h0M146.0 668.4h0M150.5 698.2h0M146.9 695.8h0M131.2 659.1h0M112.8 661.6h0M99.4 678.0h0M105.0 654.1h0M164.7 643.4h0M161.1 651.3h0M117.3 655.9h0M137.7 700.5h0M145.2 641.9h0M130.7 699.8h0M149.3 663.1h0M129.3 670.5h0M145.0 655.4h0M130.5 695.1h0M154.5 682.1h0M104.9 641.7h0M105.6 658.3h0M150.2 651.5h0M154.4 692.2h0M112.3 651.5h0M155.4 647.0h0M150.1 648.5h0M111.2 682.0h0M133.2 682.7h0M163.7 680.3h0M128.9 699.4h0M155.5 681.3h0M148.9 687.8h0M147.9 641.8h0M157.5 700.3h0M157.1 665.9h0M129.2 672.5h0M123.3 664.5h0M150.9 673.2h0M161.6 641.3h0M155.0 648.1h0M136.4 692.4h0M115.7 693.7h0M157.0 679.3h0M162.1 672.5h0M129.8 654.0h0M105.6 662.1h0M120.8 690.2h0M129.7 655.4h0M134.6 686.5h0M107.3 653.8h0M150.3 673.1h0M116.9 672.1h0M134.2 658.5h0M154.2 677.0h0M100.9 654.8h0M164.1 683.6h0M104.1 685.0h0M151.3 654.0h0M112.3 642.3h0M109.0 700.3h0M97.2 645.0h0M151.1 680.8h0M155.2 698.8h0M141.8 690.6h0M129.2 694.8h0M109.9 645.4h0M122.4 667.8h0M155.8 686.4h0M164.0 643.4h0M140.2 695.0h0M123.8 696.1h0M101.0 661.9h0M123.9 692.6h0M98.8 641.3h0M135.9 657.9h0M140.5 663.6h0M137.3 679.0h0M159.3 668.0h0M109.6 674.0h0M120.2 649.1h0M141.8 643.7h0M109.6 643.0h0M110.3 660.5h0M105.8 677.8h0M107.6 688.0h0M101.4 675.1h0M155.7 690.7h0M100.4 696.2h0M110.0 696.3h0M124.5 693.2h0M108.4 698.3h0M141.4 681.4h0M129.1 648.2h0M165.6 644.6h0M142.3 656.3h0M152.2 696.2h0M130.6 661.0h0M164.5 646.5h0M134.3 692.6h0M99.6 646.6h0M161.0 654.9h0M129.6 642.1h0M105.5 688.1h0M150.0 696.3h0M142.1 685.2h0M110.5 690.2h0M142.5 653.2h0M132.4 677.9h0M105.7 657.4h0M127.6 690.4h0M162.3 659.6h0M121.9 659.1h0M118.1 700.7h0M153.0 660.9h0M121.6 695.2h0M126.8 656.0h0M164.3 661.7h0M149.5 694.6h0M120.0 663.3h0M119.4 683.7h0M122.8 697.0h0M138.8 696.2h0M98.7 690.9h0M117.3 642.1h0M129.7 653.8h0M129.0 681.4h0M136.0 685.1h0M117.1 657.7h0M118.3 683.3h0M107.4 674.0h0M107.3 678.4h0M135.9 688.3h0M164.8 669.9h0M148.8 656.3h0M99.2 664.0h0M151.9 674.5h0M163.2 684.3h0M116.1 693.4h0M130.5 662.5h0M155.9 696.3h0M160.4 647.9h0M106.5 682.1h0M165.3 644.7h0M121.8 660.3h0M135.7 671.9h0M148.9 660.9h0M147.3 690.4h0M151.8 663.6h0M121.2 686.9h0M119.3 680.2h0M105.4 686.0h0M100.2 686.7h0M127.6 691.5h0M128.8 680.7h0M117.8 661.5h0M146.7 690.4h0M163.5 681.3h0M151.8 664.8h0M104.1 688.8h0M109.1 668.4h0M156.1 642.3h0M138.7 678.5h0M104.6 686.6h0M161.2 673.3h0M144.6 667.2h0M124.7 647.7h0M151.4 667.6h0M116.0 677.4h0M164.0 653.1h0M152.3 661.3h0M141.3 698.0h0M117.9 699.2h0M142.7 643.1h0M156.5 695.4h0M143.9 671.8h0M121.3 651.0h0M145.5 696.5h0M101.9 693.2h0M125.0 678.8h0M105.0 642.0h0M104.6 699.9h0M137.8 668.9h0M146.1 643.4h0M139.6 688.5h0M142.7 642.5h0M156.1 659.8h0M114.0 670.4h0M103.1 690.5h0M105.0 668.4h0M125.5 693.1h0M128.5 647.8h0M124.5 668.1h0M103.7 670.5h0M159.0 664.6h0M103.3 662.3h0M156.6 667.2h0M153.8 665.4h0M144.4 643.5h0M106.5 649.5h0M152.1 685.2h0M126.8 690.5h0M155.1 694.6h0M164.7 695.9h0M148.5 646.3h0M136.9 671.3h0M163.2 681.6h0M127.2 645.3h0M147.3 648.7h0M101.8 684.6h0M130.4 695.4h0M149.3 681.4h0M142.8 691.8h0M146.9 684.4h0M151.0 662.8h0M159.4 700.2h0M112.5 654.7h0M98.5 642.4h0M118.0 685.4h0M106.3 693.7h0M161.5 669.3h0M115.7 661.6h0M124.2 681.2h0M102.2 679.4h0M159.5 686.3h0M111.8 671.0h0M142.2 665.1h0M157.8 671.0h0M148.2 671.6h0M98.0 689.8h0M124.6 645.9h0M117.4 651.3h0M129.4 663.4h0M149.9 686.2h0M124.1 670.1h0M152.9 661.1h0M127.7 697.2h0M97.9 669.7h0M99.3 656.1h0M161.3 695.5h0M101.8 694.3h0M143.5 668.3h0M161.2 672.6h0M97.6 693.7h0M109.4 648.3h0M127.9 646.1h0M152.7 700.7h0M144.7 671.2h0M138.9 642.8h0M107.6 695.9h0M143.9 656.3h0M150.2 651.1h0M116.0 670.4h0M164.9 693.9h0M97.4 676.5h0M148.2 692.4h0M147.3 676.5h0M114.4 695.2h0M144.5 664.0h0M106.6 662.3h0M129.7 663.1h0M142.8 644.7h0M107.2 649.1h0M118.4 662.0h0M107.4 657.1h0M148.7 658.9h0M110.2 650.5h0M147.0 645.1h0M162.6 678.5h0M97.8 659.7h0M158.1 658.3h0M156.9 698.5h0M104.3 673.7h0M146.3 654.4h0M99.0 673.9h0M132.0 696.2h0M111.4 647.2h0M112.3 644.0h0M130.6 689.4h0M131.9 642.3h0M106.2 683.8h0M99.9 671.2h0M137.8 674.1h0M152.6 667.4h0M157.3 675.6h0M118.5 691.3h0M151.7 667.7h0M112.8 689.8h0M99.8 667.5h0M156.0 649.4h0M113.7 685.3h0M141.9 678.1h0M139.4 694.2h0M116.1 666.8h0M145.3 675.0h0M111.9 656.9h0M116.3 665.2h0M98.4 676.7h0M132.7 676.7h0M105.7 687.9h0M108.9 670.2h0M109.7 700.8h0M136.9 677.5h0M119.2 674.9h0M131.3 658.2h0M115.2 652.1h0M139.7 666.0h0M136.6 652.3h0M112.3 662.3h0M134.0 697.2h0M154.5 680.3h0M141.8 651.9h0M141.0 682.8h0M137.5 684.3h0M147.6 641.3h0M150.9 641.4h0M101.6 666.8h0M158.5 659.9h0M127.7 690.7h0M116.5 644.0h0M129.2 642.8h0M132.2 693.0h0M129.1 652.5h0M143.0 683.2h0M133.1 664.9h0M126.5 674.6h0M126.1 689.5h0M165.4 672.3h0M110.9 696.2h0M107.2 662.8h0M149.0 651.2h0M149.2 687.3h0M145.1 644.2h0M149.5 700.2h0M147.1 645.4h0M118.9 694.6h0M160.6 686.7h0M101.7 682.5h0M128.5 700.6h0M113.7 684.2h0M140.4 643.2h0M106.1 690.4h0M159.3 657.3h0M147.8 683.6h0M115.4 691.0h0M154.0 688.2h0M146.7 689.1h0M131.9 688.5h0M117.8 698.0h0M164.2 693.7h0M149.1 684.9h0M112.3 693.8h0M121.2 669.3h0M164.3 692.4h0M110.2 694.4h0M108.7 687.9h0M98.6 667.7h0M98.0 672.8h0M134.1 699.4h0M133.7 665.5h0M101.6 684.9h0M135.6 670.4h0M132.6 689.8h0M101.7 678.8h0M141.3 642.3h0M152.0 658.8h0M127.8 644.1h0M164.6 687.5h0M147.5 688.8h0M126.0 691.2h0M165.7 658.4h0M147.8 662.6h0M122.6 669.2h0M134.8 691.7h0M111.3 688.8h0M112.6 685.6h0M141.3 681.3h0M147.8 683.3h0M117.3 669.3h0M155.5 672.9h0M118.1 646.1h0M151.5 673.7h0M133.1 658.6h0M141.6 690.9h0M150.8 698.2h0M166.0 687.2h0M123.3 674.9h0M123.0 655.0h0M113.0 681.5h0M110.4 673.9h0M158.2 698.5h0M112.0 692.9h0M125.3 647.8h0M109.8 686.4h0M108.9 674.9h0M146.7 698.8h0M137.8 645.9h0M147.3 671.4h0M137.6 652.4h0M118.8 660.1h0M147.7 665.6h0M114.9 693.3h0M149.0 648.4h0M128.8 699.6h0M164.1 653.3h0M146.5 662.0h0M135.7 680.6h0M106.0 660.1h0M112.4 656.7h0M132.5 700.5h0M161.4 648.8h0M121.6 644.9h0M136.6 670.3h0M143.7 652.8h0M159.4 668.6h0M152.3 665.9h0M132.7 643.7h0M112.5 670.8h0M137.4 665.2h0M113.7 687.9h0M142.7 643.5h0M152.6 669.7h0M152.2 681.1h0M99.2 681.8h0M118.8 693.6h0M116.6 660.7h0M139.6 663.5h0M152.8 683.8h0M113.9 669.4h0M142.8 670.5h0M142.5 672.8h0M136.1 685.8h0M99.0 658.5h0M114.3 694.8h0M133.3 673.9h0M116.8 671.1h0M100.4 698.7h0M114.1 688.8h0M121.4 679.9h0M102.5 663.3h0M102.2 700.3h0M131.5 680.2h0M104.5 658.2h0M133.8 685.9h0M161.0 654.6h0M118.1 653.4h0M146.8 644.6h0M116.2 649.8h0M103.8 672.3h0M139.7 663.1h0M148.3 641.5h0M100.2 681.9h0M102.8 686.8h0M157.3 666.0h0M127.3 687.4h0M148.7 641.6h0M110.6 684.9h0M100.2 697.0h0M117.9 694.8h0M116.6 694.3h0M142.4 686.2h0M148.1 653.7h0M132.8 694.9h0M116.8 699.8h0M129.9 652.1h0M110.4 696.8h0M100.2 666.0h0M152.5 660.6h0M142.5 670.9h0M151.6 664.3h0M128.6 698.9h0M129.6 655.5h0M104.6 653.9h0M133.7 691.5h0M97.0 666.8h0M148.8 694.6h0M154.1 682.0h0M135.6 660.7h0M98.1 698.0h0M125.4 691.8h0M146.1 671.2h0M132.5 664.9h0M107.5 684.2h0M109.8 641.5h0M127.9 647.6h0M127.7 653.4h0M161.0 698.4h0M107.8 695.8h0M134.7 653.9h0M120.7 657.1h0M159.9 645.6h0M106.3 651.2h0M138.2 682.2h0M149.5 665.4h0M157.1 699.9h0M107.2 690.9h0M145.4 650.9h0M143.6 662.5h0M107.9 668.2h0M105.4 685.1h0M157.9 657.6h0M158.7 676.8h0M106.3 673.4h0M123.2 700.7h0M136.6 661.1h0M105.3 662.2h0M131.4 666.5h0M152.2 678.6h0M140.5 663.6h0M111.3 698.2h0M145.4 665.5h0M156.8 645.2h0M134.7 667.0h0M148.3 649.9h0M161.6 642.8h0M122.3 666.5h0M120.4 646.9h0M154.9 642.1h0M107.3 697.0h0M110.7 679.0h0M153.2 689.8h0M137.1 646.9h0M96.9 681.2h0M100.4 671.6h0M165.0 694.5h0M103.6 685.6h0M112.9 649.3h0M102.0 648.7h0M148.1 692.1h0M158.8 695.9h0M130.0 664.3h0M122.8 685.8h0M108.9 695.3h0M121.0 693.5h0M161.6 677.9h0M152.8 666.6h0M123.0 695.6h0M115.5 646.8h0M146.1 683.2h0M120.4 659.0h0M124.2 647.3h0M118.1 694.6h0M103.0 668.1h0M146.9 641.4h0M101.7 678.9h0M111.6 694.4h0M126.2 698.9h0M144.9 644.7h0M115.1 683.6h0M136.8 672.9h0M161.4 660.3h0M144.8 651.7h0M133.8 682.1h0M105.8 695.2h0M99.1 652.0h0M159.2 655.8h0M152.6 688.4h0M155.7 663.0h0M139.0 660.2h0M134.1 658.2h0M164.7 662.6h0M109.9 695.5h0M165.1 697.9h0M136.4 672.0h0M96.9 693.3h0M152.2 647.9h0M105.6 655.0h0M109.7 642.5h0M164.2 669.8h0M97.4 664.4h0M143.4 644.3h0M111.0 660.5h0M123.5 691.7h0M131.8 650.7h0M149.9 658.5h0" stroke="#dc9ee0" stroke-width="1" stroke-linecap="round" fill="none" opacity="0.75"/>
<path d="M153.4 642.0h0M103.4 665.9h0M120.7 674.9h0M129.7 700.2h0M98.8 669.2h0M103.2 685.2h0M154.0 686.8h0M122.8 695.2h0M130.7 690.4h0M107.9 649.2h0M136.9 685.5h0M125.3 683.0h0M126.0 675.9h0M116.1 660.6h0M164.0 659.3h0M157.3 681.0h0M100.0 661.9h0M106.2 666.3h0M162.1 645.5h0M158.4 649.4h0M159.4 683.4h0M159.7 643.4h0M142.1 646.5h0M107.3 699.7h0M120.3 669.2h0M153.4 695.0h0M154.9 675.5h0M129.8 691.6h0M121.1 670.4h0M101.1 661.8h0M131.9 646.2h0M116.2 641.5h0M112.3 668.6h0M107.1 679.7h0M106.6 656.5h0M163.1 658.1h0M111.6 672.8h0M137.3 672.4h0M143.7 678.3h0M160.7 682.1h0M106.9 672.5h0M141.5 675.0h0M117.2 694.4h0M112.6 646.3h0M125.1 666.4h0M114.7 661.0h0M104.2 670.0h0M106.0 689.1h0M104.3 656.7h0M145.9 661.7h0M143.1 643.4h0M147.5 649.9h0M141.4 666.3h0M102.0 646.1h0M100.3 675.6h0M125.2 660.1h0M99.0 666.4h0M135.4 663.6h0M146.9 663.9h0M151.2 647.9h0M142.0 694.0h0M104.5 666.2h0M129.3 670.2h0M111.6 648.5h0M158.2 649.8h0M139.9 665.0h0M154.7 661.7h0M161.4 699.8h0M154.0 667.3h0M106.6 650.0h0M106.6 655.3h0M151.9 682.0h0M110.8 687.3h0M159.2 653.2h0M158.1 649.7h0" stroke="#faf4fb" stroke-width="1.3" stroke-linecap="round" fill="none"/>
<path d="M145.8 642.3h0M120.5 665.2h0M139.1 642.8h0M103.7 679.1h0M154.8 680.5h0M114.1 669.2h0M134.1 658.7h0M125.3 692.2h0M134.8 688.6h0M144.0 650.8h0M164.7 666.8h0M99.8 683.9h0M115.9 688.2h0M108.6 685.8h0M120.8 694.2h0M108.7 666.8h0M163.0 688.9h0M114.3 671.3h0M137.8 682.4h0M122.4 691.7h0M118.3 645.8h0M131.9 650.6h0M153.4 659.2h0M106.6 658.7h0M105.3 666.4h0M106.2 674.7h0M99.1 671.8h0M98.3 694.9h0M113.7 687.5h0M162.1 668.3h0M131.1 676.6h0M166.0 678.0h0M152.6 648.7h0M157.1 647.8h0M104.8 662.1h0M163.4 642.5h0M109.6 662.6h0M137.6 669.9h0M105.5 660.7h0M108.6 667.2h0M115.9 694.9h0M138.0 641.2h0M116.8 667.0h0M137.1 691.4h0M152.6 656.0h0M126.4 693.8h0M134.7 655.4h0M126.0 676.0h0M110.4 653.3h0M140.4 682.0h0M116.3 691.8h0M149.5 672.7h0" stroke="#faf4fb" stroke-width="1.9" stroke-linecap="round" fill="none"/>
<path d="M113.8 679.3h0M132.9 658.6h0M106.9 679.5h0M113.8 656.9h0M150.0 680.3h0M102.9 653.8h0M144.1 686.0h0M158.7 696.0h0M158.5 666.1h0M127.3 660.0h0M136.2 663.7h0M136.1 642.2h0M128.0 642.0h0M131.7 666.8h0M102.4 665.7h0M102.9 677.4h0M119.4 681.5h0M109.4 667.1h0M155.2 650.1h0M108.4 675.1h0M117.6 652.8h0M165.7 666.4h0M116.0 679.3h0" stroke="#f6eef8" stroke-width="2.5" stroke-linecap="round" fill="none"/>
<path d="M130.4 676.8 C133 675 135 673.8 138 672.8 C140.5 672 143 671.8 144.8 672.3 C145 675 144.3 678 143 680.5 C142 682.5 141 684.5 140.2 685 C139.5 683 138 681 136 679.6 C134 678.5 132 678 130.4 676.8 Z" fill="#f3e6f2" stroke="#e8c0e6" stroke-width="0.6"/>
<path d="M137 676.5 l2 1.5 M139.5 675 l1.5 2.5 M138 679.5 l2 1" stroke="#e2a8e0" stroke-width="0.8"/>
</g>
<rect x="75.8" y="693.2" width="14.9" height="1.6" fill="#000" stroke="none" stroke-width="1.0" />
<text x="190.9" y="619.8" font-size="18" text-anchor="start" font-weight="bold" fill="#1a1a1a" >M</text>
<line x1="210.5" y1="635.8" x2="210.5" y2="713.3" stroke="#1a1a1a" stroke-width="1.0" />
<line x1="208" y1="713.5" x2="210" y2="713.5" stroke="#1a1a1a" stroke-width="1.0" />
<text x="206.5" y="715.92" font-size="7.5" text-anchor="end" fill="#1a1a1a" stroke="#1a1a1a" stroke-width="0.22" >0</text>
<line x1="208" y1="693.5" x2="210" y2="693.5" stroke="#1a1a1a" stroke-width="1.0" />
<text x="206.5" y="696.55" font-size="7.5" text-anchor="end" fill="#1a1a1a" stroke="#1a1a1a" stroke-width="0.22" >20</text>
<line x1="208" y1="674.5" x2="210" y2="674.5" stroke="#1a1a1a" stroke-width="1.0" />
<text x="206.5" y="677.17" font-size="7.5" text-anchor="end" fill="#1a1a1a" stroke="#1a1a1a" stroke-width="0.22" >40</text>
<line x1="208" y1="655.5" x2="210" y2="655.5" stroke="#1a1a1a" stroke-width="1.0" />
<text x="206.5" y="657.8" font-size="7.5" text-anchor="end" fill="#1a1a1a" stroke="#1a1a1a" stroke-width="0.22" >60</text>
<line x1="208" y1="635.5" x2="210" y2="635.5" stroke="#1a1a1a" stroke-width="1.0" />
<text x="206.5" y="638.42" font-size="7.5" text-anchor="end" fill="#1a1a1a" stroke="#1a1a1a" stroke-width="0.22" >80</text>
<line x1="210" y1="713.5" x2="263" y2="713.5" stroke="#1a1a1a" stroke-width="1.0" />
<line x1="225.5" y1="713.3" x2="225.5" y2="715.3" stroke="#1a1a1a" stroke-width="1.0" />
<line x1="247.5" y1="713.3" x2="247.5" y2="715.3" stroke="#1a1a1a" stroke-width="1.0" />
<rect x="218.75" y="644.59" width="12.8" height="68.71" fill="white" stroke="#1010ff" stroke-width="1.5" />
<rect x="241.05" y="668.52" width="13.2" height="44.78" fill="white" stroke="#ff3030" stroke-width="1.5" />
<line x1="225.5" y1="642.29" x2="225.5" y2="645.39" stroke="#1010ff" stroke-width="0.8" />
<line x1="222.6" y1="642.5" x2="227.8" y2="642.5" stroke="#1010ff" stroke-width="0.8" />
<line x1="222.6" y1="645.5" x2="227.8" y2="645.5" stroke="#1010ff" stroke-width="0.8" />
<line x1="247.5" y1="664.57" x2="247.5" y2="670.96" stroke="#ff3030" stroke-width="0.8" />
<line x1="245" y1="664.5" x2="250.2" y2="664.5" stroke="#ff3030" stroke-width="0.8" />
<line x1="245" y1="670.5" x2="250.2" y2="670.5" stroke="#ff3030" stroke-width="0.8" />
<rect x="226.7" y="639.84" width="1.6" height="1.6" fill="#1010ff" stroke="none" stroke-width="1.0" />
<rect x="222.2" y="641.29" width="1.6" height="1.6" fill="#1010ff" stroke="none" stroke-width="1.0" />
<rect x="224.4" y="645.17" width="1.6" height="1.6" fill="#1010ff" stroke="none" stroke-width="1.0" />
<rect x="246.8" y="658.25" width="1.6" height="1.6" fill="#ff3030" stroke="none" stroke-width="1.0" />
<rect x="244.7" y="666.97" width="1.6" height="1.6" fill="#ff3030" stroke="none" stroke-width="1.0" />
<rect x="248.7" y="668.9" width="1.6" height="1.6" fill="#ff3030" stroke="none" stroke-width="1.0" />
<rect x="246.8" y="671.81" width="1.6" height="1.6" fill="#ff3030" stroke="none" stroke-width="1.0" />
<polyline points="225.5,636 225.5,632.5 247.5,632.5 247.5,658.8" fill="none" stroke="#1a1a1a" stroke-width="1.3" stroke-linejoin="miter"/>
<text x="236.3" y="633" font-size="5.2" text-anchor="middle" font-weight="bold" fill="#1a1a1a" stroke="#1a1a1a" stroke-width="0.45" stroke-linejoin="round" letter-spacing="1.0" >**</text>
<text x="195" y="673.8" font-size="7.5" text-anchor="middle" fill="#1a1a1a" stroke="#1a1a1a" stroke-width="0.22" transform="rotate(-90 195 673.8)" >ALT(U/L)</text>
<text x="226.6" y="722.2" font-size="7.8" text-anchor="end" fill="#1a1a1a" stroke="#1a1a1a" stroke-width="0.22" transform="rotate(-45 226.6 722.2)" ><tspan font-style="italic">Atgl</tspan><tspan font-style="italic" font-size="5.1" dy="-2.8">+/+</tspan></text>
<text x="249.2" y="722.6" font-size="7.8" text-anchor="end" fill="#1a1a1a" stroke="#1a1a1a" stroke-width="0.22" transform="rotate(-45 249.2 722.6)" ><tspan font-style="italic">Atgl</tspan><tspan font-style="italic" font-size="5.1" dy="-2.8">F2A/F2A</tspan></text>
<text x="275.9" y="620" font-size="18" text-anchor="start" font-weight="bold" fill="#1a1a1a" >N</text>
<line x1="296.5" y1="630" x2="296.5" y2="714" stroke="#1a1a1a" stroke-width="1.0" />
<line x1="294.8" y1="714.5" x2="296.8" y2="714.5" stroke="#1a1a1a" stroke-width="1.0" />
<text x="293.3" y="716.62" font-size="7.5" text-anchor="end" fill="#1a1a1a" stroke="#1a1a1a" stroke-width="0.22" >0</text>
<line x1="294.8" y1="697.5" x2="296.8" y2="697.5" stroke="#1a1a1a" stroke-width="1.0" />
<text x="293.3" y="699.83" font-size="7.5" text-anchor="end" fill="#1a1a1a" stroke="#1a1a1a" stroke-width="0.22" >1</text>
<line x1="294.8" y1="680.5" x2="296.8" y2="680.5" stroke="#1a1a1a" stroke-width="1.0" />
<text x="293.3" y="683.02" font-size="7.5" text-anchor="end" fill="#1a1a1a" stroke="#1a1a1a" stroke-width="0.22" >2</text>
<line x1="294.8" y1="663.5" x2="296.8" y2="663.5" stroke="#1a1a1a" stroke-width="1.0" />
<text x="293.3" y="666.23" font-size="7.5" text-anchor="end" fill="#1a1a1a" stroke="#1a1a1a" stroke-width="0.22" >3</text>
<line x1="294.8" y1="646.5" x2="296.8" y2="646.5" stroke="#1a1a1a" stroke-width="1.0" />
<text x="293.3" y="649.42" font-size="7.5" text-anchor="end" fill="#1a1a1a" stroke="#1a1a1a" stroke-width="0.22" >4</text>
<line x1="294.8" y1="630.5" x2="296.8" y2="630.5" stroke="#1a1a1a" stroke-width="1.0" />
<text x="293.3" y="632.62" font-size="7.5" text-anchor="end" fill="#1a1a1a" stroke="#1a1a1a" stroke-width="0.22" >5</text>
<line x1="296.8" y1="714.5" x2="423.2" y2="714.5" stroke="#1a1a1a" stroke-width="1.0" />
<rect x="300.8" y="697.46" width="5" height="16.54" fill="white" stroke="#1010ff" stroke-width="1.2" />
<rect x="310" y="685.03" width="5.6" height="28.97" fill="white" stroke="#ff3030" stroke-width="1.2" />
<line x1="303.5" y1="694.85" x2="303.5" y2="698.88" stroke="#1010ff" stroke-width="0.7" />
<line x1="301.8" y1="694.5" x2="304.8" y2="694.5" stroke="#1010ff" stroke-width="0.7" />
<line x1="301.8" y1="698.5" x2="304.8" y2="698.5" stroke="#1010ff" stroke-width="0.7" />
<line x1="312.5" y1="679.39" x2="312.5" y2="689.47" stroke="#ff3030" stroke-width="0.7" />
<line x1="311.3" y1="679.5" x2="314.3" y2="679.5" stroke="#ff3030" stroke-width="0.7" />
<line x1="311.3" y1="689.5" x2="314.3" y2="689.5" stroke="#ff3030" stroke-width="0.7" />
<rect x="301.25" y="691.41" width="1.5" height="1.5" fill="#1010ff" stroke="none" stroke-width="1.0" />
<rect x="302.55" y="696.45" width="1.5" height="1.5" fill="#1010ff" stroke="none" stroke-width="1.0" />
<rect x="303.85" y="699.81" width="1.5" height="1.5" fill="#1010ff" stroke="none" stroke-width="1.0" />
<rect x="301.25" y="694.77" width="1.5" height="1.5" fill="#1010ff" stroke="none" stroke-width="1.0" />
<rect x="302.55" y="698.13" width="1.5" height="1.5" fill="#1010ff" stroke="none" stroke-width="1.0" />
<rect x="310.75" y="674.61" width="1.5" height="1.5" fill="#ff3030" stroke="none" stroke-width="1.0" />
<rect x="312.05" y="679.65" width="1.5" height="1.5" fill="#ff3030" stroke="none" stroke-width="1.0" />
<rect x="313.35" y="683.01" width="1.5" height="1.5" fill="#ff3030" stroke="none" stroke-width="1.0" />
<rect x="310.75" y="688.05" width="1.5" height="1.5" fill="#ff3030" stroke="none" stroke-width="1.0" />
<rect x="312.05" y="699.81" width="1.5" height="1.5" fill="#ff3030" stroke="none" stroke-width="1.0" />
<line x1="307.5" y1="714" x2="307.5" y2="716" stroke="#1a1a1a" stroke-width="1.0" />
<text x="306.6" y="726.2" font-size="8" text-anchor="middle" font-style="italic" fill="#1a1a1a" stroke="#1a1a1a" stroke-width="0.22" >Ppara</text>
<rect x="326" y="697.8" width="5" height="16.2" fill="white" stroke="#1010ff" stroke-width="1.2" />
<rect x="335.2" y="686.04" width="5.6" height="27.96" fill="white" stroke="#ff3030" stroke-width="1.2" />
<line x1="328.5" y1="695.18" x2="328.5" y2="699.22" stroke="#1010ff" stroke-width="0.7" />
<line x1="327" y1="695.5" x2="330" y2="695.5" stroke="#1010ff" stroke-width="0.7" />
<line x1="327" y1="699.5" x2="330" y2="699.5" stroke="#1010ff" stroke-width="0.7" />
<line x1="337.5" y1="680.4" x2="337.5" y2="690.48" stroke="#ff3030" stroke-width="0.7" />
<line x1="336.5" y1="680.5" x2="339.5" y2="680.5" stroke="#ff3030" stroke-width="0.7" />
<line x1="336.5" y1="690.5" x2="339.5" y2="690.5" stroke="#ff3030" stroke-width="0.7" />
<rect x="326.45" y="690.57" width="1.5" height="1.5" fill="#1010ff" stroke="none" stroke-width="1.0" />
<rect x="327.75" y="693.09" width="1.5" height="1.5" fill="#1010ff" stroke="none" stroke-width="1.0" />
<rect x="329.05" y="696.45" width="1.5" height="1.5" fill="#1010ff" stroke="none" stroke-width="1.0" />
<rect x="326.45" y="698.97" width="1.5" height="1.5" fill="#1010ff" stroke="none" stroke-width="1.0" />
<rect x="327.75" y="696.45" width="1.5" height="1.5" fill="#1010ff" stroke="none" stroke-width="1.0" />
<rect x="335.95" y="664.53" width="1.5" height="1.5" fill="#ff3030" stroke="none" stroke-width="1.0" />
<rect x="337.25" y="679.65" width="1.5" height="1.5" fill="#ff3030" stroke="none" stroke-width="1.0" />
<rect x="338.55" y="684.69" width="1.5" height="1.5" fill="#ff3030" stroke="none" stroke-width="1.0" />
<rect x="335.95" y="688.05" width="1.5" height="1.5" fill="#ff3030" stroke="none" stroke-width="1.0" />
<rect x="337.25" y="691.41" width="1.5" height="1.5" fill="#ff3030" stroke="none" stroke-width="1.0" />
<line x1="332.5" y1="714" x2="332.5" y2="716" stroke="#1a1a1a" stroke-width="1.0" />
<text x="331.8" y="726.2" font-size="8" text-anchor="middle" font-style="italic" fill="#1a1a1a" stroke="#1a1a1a" stroke-width="0.22" >Acadm</text>
<rect x="352.1" y="697.8" width="5" height="16.2" fill="white" stroke="#1010ff" stroke-width="1.2" />
<rect x="361.3" y="671.76" width="5.6" height="42.24" fill="white" stroke="#ff3030" stroke-width="1.2" />
<line x1="354.5" y1="691.32" x2="354.5" y2="703.08" stroke="#1010ff" stroke-width="0.7" />
<line x1="353.1" y1="691.5" x2="356.1" y2="691.5" stroke="#1010ff" stroke-width="0.7" />
<line x1="353.1" y1="703.5" x2="356.1" y2="703.5" stroke="#1010ff" stroke-width="0.7" />
<line x1="364.5" y1="661.92" x2="364.5" y2="680.4" stroke="#ff3030" stroke-width="0.7" />
<line x1="362.6" y1="661.5" x2="365.6" y2="661.5" stroke="#ff3030" stroke-width="0.7" />
<line x1="362.6" y1="680.5" x2="365.6" y2="680.5" stroke="#ff3030" stroke-width="0.7" />
<rect x="352.55" y="683.01" width="1.5" height="1.5" fill="#1010ff" stroke="none" stroke-width="1.0" />
<rect x="353.85" y="693.09" width="1.5" height="1.5" fill="#1010ff" stroke="none" stroke-width="1.0" />
<rect x="355.15" y="698.13" width="1.5" height="1.5" fill="#1010ff" stroke="none" stroke-width="1.0" />
<rect x="352.55" y="701.49" width="1.5" height="1.5" fill="#1010ff" stroke="none" stroke-width="1.0" />
<rect x="353.85" y="704.85" width="1.5" height="1.5" fill="#1010ff" stroke="none" stroke-width="1.0" />
<rect x="362.05" y="654.45" width="1.5" height="1.5" fill="#ff3030" stroke="none" stroke-width="1.0" />
<rect x="363.35" y="656.13" width="1.5" height="1.5" fill="#ff3030" stroke="none" stroke-width="1.0" />
<rect x="364.65" y="669.57" width="1.5" height="1.5" fill="#ff3030" stroke="none" stroke-width="1.0" />
<rect x="362.05" y="679.65" width="1.5" height="1.5" fill="#ff3030" stroke="none" stroke-width="1.0" />
<rect x="363.35" y="694.77" width="1.5" height="1.5" fill="#ff3030" stroke="none" stroke-width="1.0" />
<line x1="358.5" y1="714" x2="358.5" y2="716" stroke="#1a1a1a" stroke-width="1.0" />
<text x="357.9" y="726.2" font-size="8" text-anchor="middle" font-style="italic" fill="#1a1a1a" stroke="#1a1a1a" stroke-width="0.22" >Cpt1a</text>
<rect x="377.4" y="697.8" width="5" height="16.2" fill="white" stroke="#1010ff" stroke-width="1.2" />
<rect x="386.6" y="689.06" width="5.6" height="24.94" fill="white" stroke="#ff3030" stroke-width="1.2" />
<line x1="379.5" y1="695.18" x2="379.5" y2="699.22" stroke="#1010ff" stroke-width="0.7" />
<line x1="378.4" y1="695.5" x2="381.4" y2="695.5" stroke="#1010ff" stroke-width="0.7" />
<line x1="378.4" y1="699.5" x2="381.4" y2="699.5" stroke="#1010ff" stroke-width="0.7" />
<line x1="389.5" y1="686.45" x2="389.5" y2="690.48" stroke="#ff3030" stroke-width="0.7" />
<line x1="387.9" y1="686.5" x2="390.9" y2="686.5" stroke="#ff3030" stroke-width="0.7" />
<line x1="387.9" y1="690.5" x2="390.9" y2="690.5" stroke="#ff3030" stroke-width="0.7" />
<rect x="377.85" y="691.41" width="1.5" height="1.5" fill="#1010ff" stroke="none" stroke-width="1.0" />
<rect x="379.15" y="696.45" width="1.5" height="1.5" fill="#1010ff" stroke="none" stroke-width="1.0" />
<rect x="380.45" y="699.81" width="1.5" height="1.5" fill="#1010ff" stroke="none" stroke-width="1.0" />
<rect x="377.85" y="694.77" width="1.5" height="1.5" fill="#1010ff" stroke="none" stroke-width="1.0" />
<rect x="379.15" y="698.13" width="1.5" height="1.5" fill="#1010ff" stroke="none" stroke-width="1.0" />
<rect x="387.35" y="681.33" width="1.5" height="1.5" fill="#ff3030" stroke="none" stroke-width="1.0" />
<rect x="388.65" y="686.37" width="1.5" height="1.5" fill="#ff3030" stroke="none" stroke-width="1.0" />
<rect x="389.95" y="688.05" width="1.5" height="1.5" fill="#ff3030" stroke="none" stroke-width="1.0" />
<rect x="387.35" y="691.41" width="1.5" height="1.5" fill="#ff3030" stroke="none" stroke-width="1.0" />
<rect x="388.65" y="687.21" width="1.5" height="1.5" fill="#ff3030" stroke="none" stroke-width="1.0" />
<line x1="384.5" y1="714" x2="384.5" y2="716" stroke="#1a1a1a" stroke-width="1.0" />
<text x="383.2" y="726.2" font-size="8" text-anchor="middle" font-style="italic" fill="#1a1a1a" stroke="#1a1a1a" stroke-width="0.22" >Cpt2</text>
<rect x="402.9" y="698.47" width="5" height="15.53" fill="white" stroke="#1010ff" stroke-width="1.2" />
<rect x="412.1" y="675.96" width="5.6" height="38.04" fill="white" stroke="#ff3030" stroke-width="1.2" />
<line x1="405.5" y1="697.37" x2="405.5" y2="698.38" stroke="#1010ff" stroke-width="0.7" />
<line x1="403.9" y1="697.5" x2="406.9" y2="697.5" stroke="#1010ff" stroke-width="0.7" />
<line x1="403.9" y1="698.5" x2="406.9" y2="698.5" stroke="#1010ff" stroke-width="0.7" />
<line x1="414.5" y1="666.12" x2="414.5" y2="684.6" stroke="#ff3030" stroke-width="0.7" />
<line x1="413.4" y1="666.5" x2="416.4" y2="666.5" stroke="#ff3030" stroke-width="0.7" />
<line x1="413.4" y1="684.5" x2="416.4" y2="684.5" stroke="#ff3030" stroke-width="0.7" />
<rect x="403.35" y="696.45" width="1.5" height="1.5" fill="#1010ff" stroke="none" stroke-width="1.0" />
<rect x="404.65" y="696.95" width="1.5" height="1.5" fill="#1010ff" stroke="none" stroke-width="1.0" />
<rect x="405.95" y="697.29" width="1.5" height="1.5" fill="#1010ff" stroke="none" stroke-width="1.0" />
<rect x="403.35" y="697.63" width="1.5" height="1.5" fill="#1010ff" stroke="none" stroke-width="1.0" />
<rect x="404.65" y="696.79" width="1.5" height="1.5" fill="#1010ff" stroke="none" stroke-width="1.0" />
<rect x="412.85" y="644.37" width="1.5" height="1.5" fill="#ff3030" stroke="none" stroke-width="1.0" />
<rect x="414.15" y="667.89" width="1.5" height="1.5" fill="#ff3030" stroke="none" stroke-width="1.0" />
<rect x="415.45" y="674.61" width="1.5" height="1.5" fill="#ff3030" stroke="none" stroke-width="1.0" />
<rect x="412.85" y="681.33" width="1.5" height="1.5" fill="#ff3030" stroke="none" stroke-width="1.0" />
<rect x="414.15" y="688.05" width="1.5" height="1.5" fill="#ff3030" stroke="none" stroke-width="1.0" />
<line x1="409.5" y1="714" x2="409.5" y2="716" stroke="#1a1a1a" stroke-width="1.0" />
<text x="408.7" y="726.2" font-size="8" text-anchor="middle" font-style="italic" fill="#1a1a1a" stroke="#1a1a1a" stroke-width="0.22" >Acox1</text>
<polyline points="303.5,691.85 303.5,663.5 313.5,663.5 313.5,669.8" fill="none" stroke="#1a1a1a" stroke-width="1.25" stroke-linejoin="miter"/>
<text x="308.1" y="658.7" font-size="5.76" text-anchor="middle" font-weight="bold" fill="#1a1a1a" stroke="#1a1a1a" stroke-width="0.45" stroke-linejoin="round" letter-spacing="1.0" >*</text>
<polyline points="329.5,692.18 329.5,661.5 338.5,661.5 338.5,667.4" fill="none" stroke="#1a1a1a" stroke-width="1.25" stroke-linejoin="miter"/>
<text x="333.65" y="658.7" font-size="5.76" text-anchor="middle" font-weight="bold" fill="#1a1a1a" stroke="#1a1a1a" stroke-width="0.45" stroke-linejoin="round" letter-spacing="1.0" >*</text>
<polyline points="354.5,688.32 354.5,647.5 364.5,647.5 364.5,653.8" fill="none" stroke="#1a1a1a" stroke-width="1.25" stroke-linejoin="miter"/>
<text x="359.4" y="648.3" font-size="5.76" text-anchor="middle" font-weight="bold" fill="#1a1a1a" stroke="#1a1a1a" stroke-width="0.45" stroke-linejoin="round" letter-spacing="1.0" >*</text>
<polyline points="379.5,692.18 379.5,677.5 389.5,677.5 389.5,683" fill="none" stroke="#1a1a1a" stroke-width="1.25" stroke-linejoin="miter"/>
<text x="384.6" y="676.5" font-size="5.76" text-anchor="middle" font-weight="bold" fill="#1a1a1a" stroke="#1a1a1a" stroke-width="0.45" stroke-linejoin="round" letter-spacing="1.0" >*</text>
<polyline points="405.5,694.37 405.5,637.5 414.5,637.5 414.5,643.7" fill="none" stroke="#1a1a1a" stroke-width="1.25" stroke-linejoin="miter"/>
<text x="410" y="638.1" font-size="5.76" text-anchor="middle" font-weight="bold" fill="#1a1a1a" stroke="#1a1a1a" stroke-width="0.45" stroke-linejoin="round" letter-spacing="1.0" >*</text>
<text x="283.4" y="670.4" font-size="8.3" text-anchor="middle" fill="#1a1a1a" stroke="#1a1a1a" stroke-width="0.22" transform="rotate(-90 283.4 670.4)" >Relative mRNA</text>
<rect x="309.05" y="620.75" width="9.6" height="3.5" fill="none" stroke="#1010ff" stroke-width="1.1" />
<rect x="309.05" y="632.75" width="9.6" height="3.5" fill="none" stroke="#ff3030" stroke-width="1.1" />
<text x="324.1" y="626.5" font-size="8.3" text-anchor="start" fill="#1a1a1a" stroke="#1a1a1a" stroke-width="0.22" ><tspan font-style="italic">Atgl</tspan><tspan font-style="italic" font-size="6" dx="0.2" dy="-3.4">+/+</tspan></text>
<text x="324.1" y="638.5" font-size="8.3" text-anchor="start" fill="#1a1a1a" stroke="#1a1a1a" stroke-width="0.22" ><tspan font-style="italic">Atgl</tspan><tspan font-size="6.4" dx="0.2" dy="-3.2">F2A/F2A</tspan></text>
<text x="432.7" y="620" font-size="18" text-anchor="start" font-weight="bold" fill="#1a1a1a" >O</text>
<line x1="464.5" y1="635.5" x2="464.5" y2="716.9" stroke="#1a1a1a" stroke-width="1.0" />
<line x1="462.7" y1="716.5" x2="464.7" y2="716.5" stroke="#1a1a1a" stroke-width="1.0" />
<text x="461.2" y="719.52" font-size="7.5" text-anchor="end" fill="#1a1a1a" stroke="#1a1a1a" stroke-width="0.22" >0</text>
<line x1="462.7" y1="696.5" x2="464.7" y2="696.5" stroke="#1a1a1a" stroke-width="1.0" />
<text x="461.2" y="699.17" font-size="7.5" text-anchor="end" fill="#1a1a1a" stroke="#1a1a1a" stroke-width="0.22" >2,000</text>
<line x1="462.7" y1="676.5" x2="464.7" y2="676.5" stroke="#1a1a1a" stroke-width="1.0" />
<text x="461.2" y="678.82" font-size="7.5" text-anchor="end" fill="#1a1a1a" stroke="#1a1a1a" stroke-width="0.22" >4,000</text>
<line x1="462.7" y1="655.5" x2="464.7" y2="655.5" stroke="#1a1a1a" stroke-width="1.0" />
<text x="461.2" y="658.48" font-size="7.5" text-anchor="end" fill="#1a1a1a" stroke="#1a1a1a" stroke-width="0.22" >6,000</text>
<line x1="462.7" y1="635.5" x2="464.7" y2="635.5" stroke="#1a1a1a" stroke-width="1.0" />
<text x="461.2" y="638.12" font-size="7.5" text-anchor="end" fill="#1a1a1a" stroke="#1a1a1a" stroke-width="0.22" >8,000</text>
<line x1="464.7" y1="716.5" x2="520" y2="716.5" stroke="#1a1a1a" stroke-width="1.0" />
<line x1="492.5" y1="716.9" x2="492.5" y2="719.2" stroke="#1a1a1a" stroke-width="1.0" />
<rect x="474.05" y="678.27" width="13.5" height="38.63" fill="white" stroke="#1010ff" stroke-width="1.5" />
<rect x="497.15" y="660.47" width="13.6" height="56.43" fill="white" stroke="#ff3030" stroke-width="1.5" />
<line x1="480.5" y1="672.94" x2="480.5" y2="682.1" stroke="#1010ff" stroke-width="0.8" />
<line x1="478" y1="672.5" x2="483.6" y2="672.5" stroke="#1010ff" stroke-width="0.8" />
<line x1="478" y1="682.5" x2="483.6" y2="682.5" stroke="#1010ff" stroke-width="0.8" />
<line x1="503.5" y1="656.66" x2="503.5" y2="662.77" stroke="#ff3030" stroke-width="0.8" />
<line x1="501" y1="656.5" x2="506.6" y2="656.5" stroke="#ff3030" stroke-width="0.8" />
<line x1="501" y1="662.5" x2="506.6" y2="662.5" stroke="#ff3030" stroke-width="0.8" />
<rect x="479.7" y="666.24" width="1.6" height="1.6" fill="#1010ff" stroke="none" stroke-width="1.0" />
<rect x="483.2" y="665.73" width="1.6" height="1.6" fill="#1010ff" stroke="none" stroke-width="1.0" />
<rect x="476.7" y="688.63" width="1.6" height="1.6" fill="#1010ff" stroke="none" stroke-width="1.0" />
<rect x="483.2" y="688.12" width="1.6" height="1.6" fill="#1010ff" stroke="none" stroke-width="1.0" />
<rect x="503" y="646.91" width="1.6" height="1.6" fill="#ff3030" stroke="none" stroke-width="1.0" />
<rect x="500.2" y="653.01" width="1.6" height="1.6" fill="#ff3030" stroke="none" stroke-width="1.0" />
<rect x="505.2" y="653.01" width="1.6" height="1.6" fill="#ff3030" stroke="none" stroke-width="1.0" />
<rect x="503" y="660.14" width="1.6" height="1.6" fill="#ff3030" stroke="none" stroke-width="1.0" />
<rect x="503" y="665.23" width="1.6" height="1.6" fill="#ff3030" stroke="none" stroke-width="1.0" />
<polyline points="479.5,664 479.5,638.5 503.5,638.5 503.5,644.7" fill="none" stroke="#1a1a1a" stroke-width="1.3" stroke-linejoin="miter"/>
<text x="492.5" y="638" font-size="5.2" text-anchor="middle" font-weight="bold" fill="#1a1a1a" stroke="#1a1a1a" stroke-width="0.45" stroke-linejoin="round" letter-spacing="1.0" >*</text>
<text x="437.8" y="674.8" font-size="8.2" text-anchor="middle" fill="#1a1a1a" stroke="#1a1a1a" stroke-width="0.22" transform="rotate(-90 437.8 674.8)" >CPM/protein (mg)</text>
<text x="483.8" y="723.2" font-size="7.9" text-anchor="end" fill="#1a1a1a" stroke="#1a1a1a" stroke-width="0.22" transform="rotate(-45 483.8 723.2)" ><tspan font-style="italic">Atgl</tspan><tspan font-style="italic" font-size="5.2" dy="-2.8">+/+</tspan></text>
<text x="507" y="723.4" font-size="7.9" text-anchor="end" fill="#1a1a1a" stroke="#1a1a1a" stroke-width="0.22" transform="rotate(-45 507 723.4)" ><tspan font-style="italic">Atgl</tspan><tspan font-style="italic" font-size="5.2" dy="-2.8">F2A/F2A</tspan></text>
<defs><linearGradient id="bg" x1="0" y1="0" x2="1" y2="0"><stop offset="0" stop-color="#d6d3ce"/><stop offset="0.5" stop-color="#e6e4e0"/><stop offset="1" stop-color="#ebe9e5"/></linearGradient><radialGradient id="m1" cx="0.5" cy="0.45" r="0.6"><stop offset="0" stop-color="#2a2a2d"/><stop offset="1" stop-color="#141416"/></radialGradient></defs>
<rect x="125.2" y="68.4" width="38.8" height="44.3" fill="url(#bg)" stroke="none" stroke-width="1.0" />
<rect x="125.2" y="68.4" width="38.8" height="1.7" fill="#aaa59e" stroke="none" stroke-width="1.0" />
<path d="M130 93 L143 93 L141 98.5 L132 98.5 Z" fill="#b3aea8" opacity="0.7"/>
<path d="M146.5 93 L158 93 L156.5 98.5 L148 98.5 Z" fill="#b3aea8" opacity="0.7"/>
<path d="M136.2 94 C136 99 135.2 103 135.5 106.6 C135.8 109 138 110.5 140.2 110.8" fill="none" stroke="#7d6a66" stroke-width="0.9"/>
<path d="M151.8 94 C151.5 99 149.5 102.5 148.4 105.8 C147.9 108 148.6 110.2 149.9 111.3" fill="none" stroke="#7d6a66" stroke-width="0.9"/>
<path d="M130.5 92 L127.9 95.6 M141.8 92.5 L141.5 97.3 M147 92.5 L145.5 96.9 M157.5 92.5 L158 97.7" stroke="#9c7f78" stroke-width="1"/>
<path d="M137.7 70 C139.6 70 141.2 71.2 142 73.5 C143.3 77 143.8 82 143.3 87.5 C143 91.5 141 94.2 136.5 94.3 C132 94.3 129.8 92.5 129.4 88 C129 83 129.8 77.5 131.8 74 C133 71.5 135.5 70 137.7 70 Z" fill="url(#m1)"/>
<path d="M152 71.2 C153.8 71.2 155.4 72.5 156.3 75 C157.8 78.5 158.7 83 158.4 88 C158.1 92 156 94.4 152.2 94.5 C148.4 94.5 146.4 92.6 146.1 88.5 C145.8 83.5 146.5 78.5 148 75 C149 72.6 150.3 71.2 152 71.2 Z" fill="url(#m1)"/>
<ellipse cx="136.5" cy="83" rx="4" ry="7" fill="#3a3a3e" opacity="0.35"/><ellipse cx="152.3" cy="83.5" rx="3.6" ry="7" fill="#3a3a3e" opacity="0.35"/>
<g fill="#8f6548" opacity="0.85"><ellipse cx="134.4" cy="72" rx="1.1" ry="0.7"/><ellipse cx="141.2" cy="72.3" rx="1.1" ry="0.7"/><ellipse cx="148.6" cy="74.4" rx="1.0" ry="0.7"/><ellipse cx="155.2" cy="74.8" rx="1.0" ry="0.7"/></g>
<text x="128.1" y="64.5" font-size="6.7" text-anchor="start" fill="#1a1a1a" stroke="#1a1a1a" stroke-width="0.22" ><tspan font-style="italic">Atgl</tspan><tspan font-style="italic" font-size="4.0" dx="2" dy="-2.7">+/+</tspan><tspan font-style="italic" dx="2.2" dy="2.7">Atgl</tspan><tspan font-style="italic" font-size="4.2" dx="1.9" dy="-2.7">F2A/F2A</tspan></text>
</svg></body></html>
